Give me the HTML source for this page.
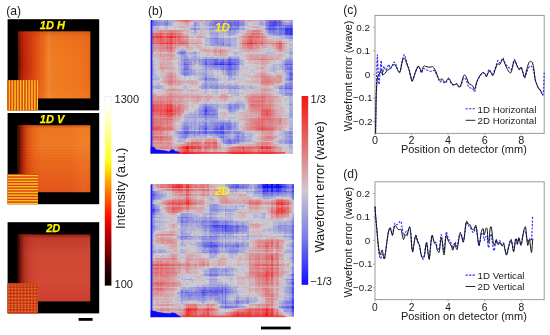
<!DOCTYPE html>
<html lang="en"><head><meta charset="utf-8"><title>Figure</title>
<style>
html,body{margin:0;padding:0;background:#fff;}
body{width:550px;height:335px;overflow:hidden;}
svg{display:block;}
text{font-family:"Liberation Sans",sans-serif;fill:#1a1a1a;}
.lab{font-size:11px;}
.tick{font-size:9.9px;}
.leg{font-size:9.7px;}
.xtick{font-size:10.8px;}
.pl{font-size:12.1px;}
.y{font-family:"Liberation Sans",sans-serif;font-weight:bold;font-style:italic;fill:#fff200;stroke:#fff200;stroke-width:0.25px;font-size:11px;}
</style></head><body>
<svg width="550" height="335" viewBox="0 0 550 335">
<defs>
<linearGradient id="g1" x1="0" y1="0" x2="1" y2="0">
<stop offset="0" stop-color="#2a0300"/><stop offset="0.03" stop-color="#861004"/><stop offset="0.08" stop-color="#b41e08"/><stop offset="0.15" stop-color="#ca2e0c"/><stop offset="0.22" stop-color="#da4210"/><stop offset="0.30" stop-color="#e65a16"/><stop offset="0.38" stop-color="#ee721e"/><stop offset="0.42" stop-color="#ee8636"/><stop offset="0.48" stop-color="#f07c24"/><stop offset="0.65" stop-color="#f07820"/><stop offset="0.85" stop-color="#ee7220"/><stop offset="1" stop-color="#ea6a1c"/>
</linearGradient>
<linearGradient id="g1v" x1="0" y1="0" x2="0" y2="1">
<stop offset="0" stop-color="#c02800" stop-opacity="0.35"/><stop offset="0.1" stop-color="#d84010" stop-opacity="0.12"/><stop offset="0.5" stop-color="#e05010" stop-opacity="0.0"/><stop offset="1" stop-color="#ff9a30" stop-opacity="0.18"/>
</linearGradient>
<linearGradient id="g2" x1="0" y1="0" x2="0" y2="1">
<stop offset="0" stop-color="#d0500f"/><stop offset="0.05" stop-color="#ec7420"/><stop offset="0.3" stop-color="#ee7822"/><stop offset="0.55" stop-color="#ea661c"/><stop offset="0.8" stop-color="#e65a1a"/><stop offset="1" stop-color="#e2521a"/>
</linearGradient>
<linearGradient id="g2h" x1="0" y1="0" x2="1" y2="0">
<stop offset="0" stop-color="#200200" stop-opacity="1"/><stop offset="0.03" stop-color="#6a0a02" stop-opacity="0.95"/><stop offset="0.07" stop-color="#a01606" stop-opacity="0.85"/><stop offset="0.13" stop-color="#c82a08" stop-opacity="0.6"/><stop offset="0.22" stop-color="#dc4410" stop-opacity="0.3"/><stop offset="0.35" stop-color="#e06010" stop-opacity="0"/><stop offset="0.7" stop-color="#f8a040" stop-opacity="0.0"/><stop offset="0.9" stop-color="#f8a040" stop-opacity="0.18"/><stop offset="1" stop-color="#f8a040" stop-opacity="0.12"/>
</linearGradient>
<linearGradient id="g3" x1="0" y1="0" x2="0" y2="1">
<stop offset="0" stop-color="#8a1e14"/><stop offset="0.06" stop-color="#c03c2a"/><stop offset="0.3" stop-color="#cf4a36"/><stop offset="0.7" stop-color="#d24834"/><stop offset="1" stop-color="#cc4030"/>
</linearGradient>
<linearGradient id="g3h" x1="0" y1="0" x2="1" y2="0">
<stop offset="0" stop-color="#200200" stop-opacity="1"/><stop offset="0.04" stop-color="#701008" stop-opacity="0.85"/><stop offset="0.1" stop-color="#a02418" stop-opacity="0.55"/><stop offset="0.18" stop-color="#b83020" stop-opacity="0.3"/><stop offset="0.3" stop-color="#d04028" stop-opacity="0"/><stop offset="1" stop-color="#d04028" stop-opacity="0"/>
</linearGradient>
<linearGradient id="hot" x1="0" y1="0" x2="0" y2="1">
<stop offset="0" stop-color="#ffffff"/><stop offset="0.04" stop-color="#ffffff"/><stop offset="0.12" stop-color="#ffffc8"/><stop offset="0.33" stop-color="#ffff30"/><stop offset="0.385" stop-color="#ffe000"/><stop offset="0.48" stop-color="#ff8c00"/><stop offset="0.56" stop-color="#ff4a00"/><stop offset="0.63" stop-color="#ff1000"/><stop offset="0.71" stop-color="#c80000"/><stop offset="0.81" stop-color="#800000"/><stop offset="0.91" stop-color="#300000"/><stop offset="1" stop-color="#000000"/>
</linearGradient>
<linearGradient id="cbs" gradientUnits="userSpaceOnUse" x1="0" y1="96" x2="0" y2="112"><stop offset="0" stop-color="#d4d4d4"/><stop offset="1" stop-color="#e8e8d0" stop-opacity="0"/></linearGradient>
<linearGradient id="bwr" x1="0" y1="0" x2="0" y2="1">
<stop offset="0" stop-color="#f01818"/><stop offset="0.25" stop-color="#e36a6c"/><stop offset="0.5" stop-color="#cfc8cc"/><stop offset="0.75" stop-color="#7c7ce6"/><stop offset="1" stop-color="#1010ff"/>
</linearGradient>
<pattern id="pv" x="7.6" y="80.4" width="11" height="30" patternUnits="userSpaceOnUse"><rect width="11" height="30" fill="#f08420"/><rect x="0.20" y="0" width="0.95" height="30" fill="#ffe028"/><rect x="1.65" y="0" width="0.6" height="30" fill="#c83a10"/><rect x="2.95" y="0" width="0.95" height="30" fill="#ffe028"/><rect x="4.40" y="0" width="0.6" height="30" fill="#c83a10"/><rect x="5.70" y="0" width="0.95" height="30" fill="#ffe028"/><rect x="7.15" y="0" width="0.6" height="30" fill="#c83a10"/><rect x="8.45" y="0" width="0.95" height="30" fill="#ffe028"/><rect x="9.90" y="0" width="0.6" height="30" fill="#c83a10"/></pattern>
<pattern id="ph" x="7.6" y="174.2" width="30.4" height="11" patternUnits="userSpaceOnUse"><rect width="30.4" height="11" fill="#f08420"/><rect y="0.20" x="0" height="0.95" width="30.4" fill="#ffe028"/><rect y="1.65" x="0" height="0.6" width="30.4" fill="#cc3810"/><rect y="2.95" x="0" height="0.95" width="30.4" fill="#ffe028"/><rect y="4.40" x="0" height="0.6" width="30.4" fill="#cc3810"/><rect y="5.70" x="0" height="0.95" width="30.4" fill="#ffe028"/><rect y="7.15" x="0" height="0.6" width="30.4" fill="#cc3810"/><rect y="8.45" x="0" height="0.95" width="30.4" fill="#ffe028"/><rect y="9.90" x="0" height="0.6" width="30.4" fill="#cc3810"/></pattern>
<pattern id="pg" x="7.6" y="283.4" width="10" height="10" patternUnits="userSpaceOnUse"><rect width="10" height="10" fill="#c42612"/><rect x="0.30" y="0.30" width="0.85" height="0.85" fill="#ffb040"/><rect x="0.30" y="1.73" width="0.85" height="0.85" fill="#ffb040"/><rect x="0.30" y="3.16" width="0.85" height="0.85" fill="#ffb040"/><rect x="0.30" y="4.59" width="0.85" height="0.85" fill="#ffb040"/><rect x="0.30" y="6.01" width="0.85" height="0.85" fill="#ffb040"/><rect x="0.30" y="7.44" width="0.85" height="0.85" fill="#ffb040"/><rect x="0.30" y="8.87" width="0.85" height="0.85" fill="#ffb040"/><rect x="1.73" y="0.30" width="0.85" height="0.85" fill="#ffb040"/><rect x="1.73" y="1.73" width="0.85" height="0.85" fill="#ffb040"/><rect x="1.73" y="3.16" width="0.85" height="0.85" fill="#ffb040"/><rect x="1.73" y="4.59" width="0.85" height="0.85" fill="#ffb040"/><rect x="1.73" y="6.01" width="0.85" height="0.85" fill="#ffb040"/><rect x="1.73" y="7.44" width="0.85" height="0.85" fill="#ffb040"/><rect x="1.73" y="8.87" width="0.85" height="0.85" fill="#ffb040"/><rect x="3.16" y="0.30" width="0.85" height="0.85" fill="#ffb040"/><rect x="3.16" y="1.73" width="0.85" height="0.85" fill="#ffb040"/><rect x="3.16" y="3.16" width="0.85" height="0.85" fill="#ffb040"/><rect x="3.16" y="4.59" width="0.85" height="0.85" fill="#ffb040"/><rect x="3.16" y="6.01" width="0.85" height="0.85" fill="#ffb040"/><rect x="3.16" y="7.44" width="0.85" height="0.85" fill="#ffb040"/><rect x="3.16" y="8.87" width="0.85" height="0.85" fill="#ffb040"/><rect x="4.59" y="0.30" width="0.85" height="0.85" fill="#ffb040"/><rect x="4.59" y="1.73" width="0.85" height="0.85" fill="#ffb040"/><rect x="4.59" y="3.16" width="0.85" height="0.85" fill="#ffb040"/><rect x="4.59" y="4.59" width="0.85" height="0.85" fill="#ffb040"/><rect x="4.59" y="6.01" width="0.85" height="0.85" fill="#ffb040"/><rect x="4.59" y="7.44" width="0.85" height="0.85" fill="#ffb040"/><rect x="4.59" y="8.87" width="0.85" height="0.85" fill="#ffb040"/><rect x="6.01" y="0.30" width="0.85" height="0.85" fill="#ffb040"/><rect x="6.01" y="1.73" width="0.85" height="0.85" fill="#ffb040"/><rect x="6.01" y="3.16" width="0.85" height="0.85" fill="#ffb040"/><rect x="6.01" y="4.59" width="0.85" height="0.85" fill="#ffb040"/><rect x="6.01" y="6.01" width="0.85" height="0.85" fill="#ffb040"/><rect x="6.01" y="7.44" width="0.85" height="0.85" fill="#ffb040"/><rect x="6.01" y="8.87" width="0.85" height="0.85" fill="#ffb040"/><rect x="7.44" y="0.30" width="0.85" height="0.85" fill="#ffb040"/><rect x="7.44" y="1.73" width="0.85" height="0.85" fill="#ffb040"/><rect x="7.44" y="3.16" width="0.85" height="0.85" fill="#ffb040"/><rect x="7.44" y="4.59" width="0.85" height="0.85" fill="#ffb040"/><rect x="7.44" y="6.01" width="0.85" height="0.85" fill="#ffb040"/><rect x="7.44" y="7.44" width="0.85" height="0.85" fill="#ffb040"/><rect x="7.44" y="8.87" width="0.85" height="0.85" fill="#ffb040"/><rect x="8.87" y="0.30" width="0.85" height="0.85" fill="#ffb040"/><rect x="8.87" y="1.73" width="0.85" height="0.85" fill="#ffb040"/><rect x="8.87" y="3.16" width="0.85" height="0.85" fill="#ffb040"/><rect x="8.87" y="4.59" width="0.85" height="0.85" fill="#ffb040"/><rect x="8.87" y="6.01" width="0.85" height="0.85" fill="#ffb040"/><rect x="8.87" y="7.44" width="0.85" height="0.85" fill="#ffb040"/><rect x="8.87" y="8.87" width="0.85" height="0.85" fill="#ffb040"/></pattern>
<pattern id="sv" x="18" y="31" width="2.75" height="70" patternUnits="userSpaceOnUse">
<rect x="0" y="0" width="1" height="70" fill="#ffc040" opacity="0.07"/><rect x="1.5" y="0" width="0.8" height="70" fill="#a03000" opacity="0.06"/>
</pattern>
<pattern id="sh" x="18" y="126" width="75" height="2.75" patternUnits="userSpaceOnUse">
<rect x="0" y="0" width="75" height="1" fill="#ffc040" opacity="0.06"/><rect x="0" y="1.5" width="75" height="0.8" fill="#a03000" opacity="0.05"/>
</pattern>
<filter id="b1" x="-5%" y="-5%" width="110%" height="110%"><feGaussianBlur stdDeviation="0.5"/></filter>
</defs>
<rect width="550" height="335" fill="#ffffff"/>
<text class="pl" x="6.3" y="14.6">(a)</text>
<rect x="7.6" y="19.2" width="91.6" height="91.2" fill="#000"/>
<g filter="url(#b1)"><rect x="17.8" y="31.4" width="72.5" height="67" fill="url(#g1)"/><rect x="17.8" y="31.4" width="72.5" height="67" fill="url(#g1v)"/><rect x="17.8" y="31.4" width="72.5" height="67" fill="url(#sv)"/></g>
<rect x="7.6" y="80.4" width="30.4" height="30" fill="url(#pv)"/>
<text class="y" x="39.8" y="29.1">1D H</text>
<rect x="7.6" y="113" width="91.6" height="91.2" fill="#000"/>
<g filter="url(#b1)"><rect x="17.8" y="125.2" width="72.5" height="67" fill="url(#g2)"/><rect x="17.8" y="125.2" width="72.5" height="67" fill="url(#g2h)"/><rect x="17.8" y="125.2" width="72.5" height="67" fill="url(#sh)"/></g>
<rect x="7.6" y="174.2" width="30.4" height="30" fill="url(#ph)"/>
<text class="y" x="39.8" y="122.9">1D V</text>
<rect x="7.6" y="222.2" width="91.6" height="91.2" fill="#000"/>
<g filter="url(#b1)"><rect x="17.8" y="234.39999999999998" width="72.5" height="67" fill="url(#g3)"/><rect x="17.8" y="234.39999999999998" width="72.5" height="67" fill="url(#g3h)"/></g>
<rect x="7.6" y="283.4" width="30.4" height="30" fill="url(#pg)"/>
<text class="y" x="46.2" y="232.1">2D</text>
<rect x="7.6" y="80.4" width="30.4" height="30" fill="#f07c1c"/><rect x="8.95" y="80.4" width="0.78" height="30" fill="#ffdc24"/><rect x="11.78" y="80.4" width="0.78" height="30" fill="#ffdc24"/><rect x="14.61" y="80.4" width="0.78" height="30" fill="#ffdc24"/><rect x="17.44" y="80.4" width="0.78" height="30" fill="#ffdc24"/><rect x="20.27" y="80.4" width="0.78" height="30" fill="#ffdc24"/><rect x="23.10" y="80.4" width="0.78" height="30" fill="#ffdc24"/><rect x="25.93" y="80.4" width="0.78" height="30" fill="#ffdc24"/><rect x="28.76" y="80.4" width="0.78" height="30" fill="#ffdc24"/><rect x="31.59" y="80.4" width="0.78" height="30" fill="#ffdc24"/><rect x="34.42" y="80.4" width="0.78" height="30" fill="#ffdc24"/><rect x="37.25" y="80.4" width="0.78" height="30" fill="#ffdc24"/><rect x="7.62" y="80.4" width="0.7" height="30" fill="#c4300c"/><rect x="10.45" y="80.4" width="0.7" height="30" fill="#c4300c"/><rect x="13.28" y="80.4" width="0.7" height="30" fill="#c4300c"/><rect x="16.11" y="80.4" width="0.7" height="30" fill="#c4300c"/><rect x="18.94" y="80.4" width="0.7" height="30" fill="#c4300c"/><rect x="21.77" y="80.4" width="0.7" height="30" fill="#c4300c"/><rect x="24.60" y="80.4" width="0.7" height="30" fill="#c4300c"/><rect x="27.43" y="80.4" width="0.7" height="30" fill="#c4300c"/><rect x="30.26" y="80.4" width="0.7" height="30" fill="#c4300c"/><rect x="33.09" y="80.4" width="0.7" height="30" fill="#c4300c"/><rect x="35.92" y="80.4" width="0.7" height="30" fill="#c4300c"/>
<rect x="7.6" y="174.2" width="30.4" height="30" fill="#f07c1c"/><rect y="175.25" x="7.6" height="0.78" width="30.4" fill="#ffdc24"/><rect y="178.03" x="7.6" height="0.78" width="30.4" fill="#ffdc24"/><rect y="180.81" x="7.6" height="0.78" width="30.4" fill="#ffdc24"/><rect y="183.59" x="7.6" height="0.78" width="30.4" fill="#ffdc24"/><rect y="186.37" x="7.6" height="0.78" width="30.4" fill="#ffdc24"/><rect y="189.15" x="7.6" height="0.78" width="30.4" fill="#ffdc24"/><rect y="191.93" x="7.6" height="0.78" width="30.4" fill="#ffdc24"/><rect y="194.71" x="7.6" height="0.78" width="30.4" fill="#ffdc24"/><rect y="197.49" x="7.6" height="0.78" width="30.4" fill="#ffdc24"/><rect y="200.27" x="7.6" height="0.78" width="30.4" fill="#ffdc24"/><rect y="203.05" x="7.6" height="0.78" width="30.4" fill="#ffdc24"/><rect y="173.97" x="7.6" height="0.7" width="30.4" fill="#c8300c"/><rect y="176.75" x="7.6" height="0.7" width="30.4" fill="#c8300c"/><rect y="179.53" x="7.6" height="0.7" width="30.4" fill="#c8300c"/><rect y="182.31" x="7.6" height="0.7" width="30.4" fill="#c8300c"/><rect y="185.09" x="7.6" height="0.7" width="30.4" fill="#c8300c"/><rect y="187.87" x="7.6" height="0.7" width="30.4" fill="#c8300c"/><rect y="190.65" x="7.6" height="0.7" width="30.4" fill="#c8300c"/><rect y="193.43" x="7.6" height="0.7" width="30.4" fill="#c8300c"/><rect y="196.21" x="7.6" height="0.7" width="30.4" fill="#c8300c"/><rect y="198.99" x="7.6" height="0.7" width="30.4" fill="#c8300c"/><rect y="201.77" x="7.6" height="0.7" width="30.4" fill="#c8300c"/>
<rect x="7.6" y="283.4" width="30.4" height="30" fill="#c02410"/><path fill="#ffb848" d="M7.90 283.70h.72v.72h-.72zM7.90 285.15h.72v.72h-.72zM7.90 286.60h.72v.72h-.72zM7.90 288.04h.72v.72h-.72zM7.90 289.49h.72v.72h-.72zM7.90 290.94h.72v.72h-.72zM7.90 292.39h.72v.72h-.72zM7.90 293.83h.72v.72h-.72zM7.90 295.28h.72v.72h-.72zM7.90 296.73h.72v.72h-.72zM7.90 298.18h.72v.72h-.72zM7.90 299.62h.72v.72h-.72zM7.90 301.07h.72v.72h-.72zM7.90 302.52h.72v.72h-.72zM7.90 303.97h.72v.72h-.72zM7.90 305.41h.72v.72h-.72zM7.90 306.86h.72v.72h-.72zM7.90 308.31h.72v.72h-.72zM7.90 309.76h.72v.72h-.72zM7.90 311.20h.72v.72h-.72zM7.90 312.65h.72v.72h-.72zM9.35 283.70h.72v.72h-.72zM9.35 285.15h.72v.72h-.72zM9.35 286.60h.72v.72h-.72zM9.35 288.04h.72v.72h-.72zM9.35 289.49h.72v.72h-.72zM9.35 290.94h.72v.72h-.72zM9.35 292.39h.72v.72h-.72zM9.35 293.83h.72v.72h-.72zM9.35 295.28h.72v.72h-.72zM9.35 296.73h.72v.72h-.72zM9.35 298.18h.72v.72h-.72zM9.35 299.62h.72v.72h-.72zM9.35 301.07h.72v.72h-.72zM9.35 302.52h.72v.72h-.72zM9.35 303.97h.72v.72h-.72zM9.35 305.41h.72v.72h-.72zM9.35 306.86h.72v.72h-.72zM9.35 308.31h.72v.72h-.72zM9.35 309.76h.72v.72h-.72zM9.35 311.20h.72v.72h-.72zM9.35 312.65h.72v.72h-.72zM10.80 283.70h.72v.72h-.72zM10.80 285.15h.72v.72h-.72zM10.80 286.60h.72v.72h-.72zM10.80 288.04h.72v.72h-.72zM10.80 289.49h.72v.72h-.72zM10.80 290.94h.72v.72h-.72zM10.80 292.39h.72v.72h-.72zM10.80 293.83h.72v.72h-.72zM10.80 295.28h.72v.72h-.72zM10.80 296.73h.72v.72h-.72zM10.80 298.18h.72v.72h-.72zM10.80 299.62h.72v.72h-.72zM10.80 301.07h.72v.72h-.72zM10.80 302.52h.72v.72h-.72zM10.80 303.97h.72v.72h-.72zM10.80 305.41h.72v.72h-.72zM10.80 306.86h.72v.72h-.72zM10.80 308.31h.72v.72h-.72zM10.80 309.76h.72v.72h-.72zM10.80 311.20h.72v.72h-.72zM10.80 312.65h.72v.72h-.72zM12.24 283.70h.72v.72h-.72zM12.24 285.15h.72v.72h-.72zM12.24 286.60h.72v.72h-.72zM12.24 288.04h.72v.72h-.72zM12.24 289.49h.72v.72h-.72zM12.24 290.94h.72v.72h-.72zM12.24 292.39h.72v.72h-.72zM12.24 293.83h.72v.72h-.72zM12.24 295.28h.72v.72h-.72zM12.24 296.73h.72v.72h-.72zM12.24 298.18h.72v.72h-.72zM12.24 299.62h.72v.72h-.72zM12.24 301.07h.72v.72h-.72zM12.24 302.52h.72v.72h-.72zM12.24 303.97h.72v.72h-.72zM12.24 305.41h.72v.72h-.72zM12.24 306.86h.72v.72h-.72zM12.24 308.31h.72v.72h-.72zM12.24 309.76h.72v.72h-.72zM12.24 311.20h.72v.72h-.72zM12.24 312.65h.72v.72h-.72zM13.69 283.70h.72v.72h-.72zM13.69 285.15h.72v.72h-.72zM13.69 286.60h.72v.72h-.72zM13.69 288.04h.72v.72h-.72zM13.69 289.49h.72v.72h-.72zM13.69 290.94h.72v.72h-.72zM13.69 292.39h.72v.72h-.72zM13.69 293.83h.72v.72h-.72zM13.69 295.28h.72v.72h-.72zM13.69 296.73h.72v.72h-.72zM13.69 298.18h.72v.72h-.72zM13.69 299.62h.72v.72h-.72zM13.69 301.07h.72v.72h-.72zM13.69 302.52h.72v.72h-.72zM13.69 303.97h.72v.72h-.72zM13.69 305.41h.72v.72h-.72zM13.69 306.86h.72v.72h-.72zM13.69 308.31h.72v.72h-.72zM13.69 309.76h.72v.72h-.72zM13.69 311.20h.72v.72h-.72zM13.69 312.65h.72v.72h-.72zM15.14 283.70h.72v.72h-.72zM15.14 285.15h.72v.72h-.72zM15.14 286.60h.72v.72h-.72zM15.14 288.04h.72v.72h-.72zM15.14 289.49h.72v.72h-.72zM15.14 290.94h.72v.72h-.72zM15.14 292.39h.72v.72h-.72zM15.14 293.83h.72v.72h-.72zM15.14 295.28h.72v.72h-.72zM15.14 296.73h.72v.72h-.72zM15.14 298.18h.72v.72h-.72zM15.14 299.62h.72v.72h-.72zM15.14 301.07h.72v.72h-.72zM15.14 302.52h.72v.72h-.72zM15.14 303.97h.72v.72h-.72zM15.14 305.41h.72v.72h-.72zM15.14 306.86h.72v.72h-.72zM15.14 308.31h.72v.72h-.72zM15.14 309.76h.72v.72h-.72zM15.14 311.20h.72v.72h-.72zM15.14 312.65h.72v.72h-.72zM16.59 283.70h.72v.72h-.72zM16.59 285.15h.72v.72h-.72zM16.59 286.60h.72v.72h-.72zM16.59 288.04h.72v.72h-.72zM16.59 289.49h.72v.72h-.72zM16.59 290.94h.72v.72h-.72zM16.59 292.39h.72v.72h-.72zM16.59 293.83h.72v.72h-.72zM16.59 295.28h.72v.72h-.72zM16.59 296.73h.72v.72h-.72zM16.59 298.18h.72v.72h-.72zM16.59 299.62h.72v.72h-.72zM16.59 301.07h.72v.72h-.72zM16.59 302.52h.72v.72h-.72zM16.59 303.97h.72v.72h-.72zM16.59 305.41h.72v.72h-.72zM16.59 306.86h.72v.72h-.72zM16.59 308.31h.72v.72h-.72zM16.59 309.76h.72v.72h-.72zM16.59 311.20h.72v.72h-.72zM16.59 312.65h.72v.72h-.72zM18.03 283.70h.72v.72h-.72zM18.03 285.15h.72v.72h-.72zM18.03 286.60h.72v.72h-.72zM18.03 288.04h.72v.72h-.72zM18.03 289.49h.72v.72h-.72zM18.03 290.94h.72v.72h-.72zM18.03 292.39h.72v.72h-.72zM18.03 293.83h.72v.72h-.72zM18.03 295.28h.72v.72h-.72zM18.03 296.73h.72v.72h-.72zM18.03 298.18h.72v.72h-.72zM18.03 299.62h.72v.72h-.72zM18.03 301.07h.72v.72h-.72zM18.03 302.52h.72v.72h-.72zM18.03 303.97h.72v.72h-.72zM18.03 305.41h.72v.72h-.72zM18.03 306.86h.72v.72h-.72zM18.03 308.31h.72v.72h-.72zM18.03 309.76h.72v.72h-.72zM18.03 311.20h.72v.72h-.72zM18.03 312.65h.72v.72h-.72zM19.48 283.70h.72v.72h-.72zM19.48 285.15h.72v.72h-.72zM19.48 286.60h.72v.72h-.72zM19.48 288.04h.72v.72h-.72zM19.48 289.49h.72v.72h-.72zM19.48 290.94h.72v.72h-.72zM19.48 292.39h.72v.72h-.72zM19.48 293.83h.72v.72h-.72zM19.48 295.28h.72v.72h-.72zM19.48 296.73h.72v.72h-.72zM19.48 298.18h.72v.72h-.72zM19.48 299.62h.72v.72h-.72zM19.48 301.07h.72v.72h-.72zM19.48 302.52h.72v.72h-.72zM19.48 303.97h.72v.72h-.72zM19.48 305.41h.72v.72h-.72zM19.48 306.86h.72v.72h-.72zM19.48 308.31h.72v.72h-.72zM19.48 309.76h.72v.72h-.72zM19.48 311.20h.72v.72h-.72zM19.48 312.65h.72v.72h-.72zM20.93 283.70h.72v.72h-.72zM20.93 285.15h.72v.72h-.72zM20.93 286.60h.72v.72h-.72zM20.93 288.04h.72v.72h-.72zM20.93 289.49h.72v.72h-.72zM20.93 290.94h.72v.72h-.72zM20.93 292.39h.72v.72h-.72zM20.93 293.83h.72v.72h-.72zM20.93 295.28h.72v.72h-.72zM20.93 296.73h.72v.72h-.72zM20.93 298.18h.72v.72h-.72zM20.93 299.62h.72v.72h-.72zM20.93 301.07h.72v.72h-.72zM20.93 302.52h.72v.72h-.72zM20.93 303.97h.72v.72h-.72zM20.93 305.41h.72v.72h-.72zM20.93 306.86h.72v.72h-.72zM20.93 308.31h.72v.72h-.72zM20.93 309.76h.72v.72h-.72zM20.93 311.20h.72v.72h-.72zM20.93 312.65h.72v.72h-.72zM22.38 283.70h.72v.72h-.72zM22.38 285.15h.72v.72h-.72zM22.38 286.60h.72v.72h-.72zM22.38 288.04h.72v.72h-.72zM22.38 289.49h.72v.72h-.72zM22.38 290.94h.72v.72h-.72zM22.38 292.39h.72v.72h-.72zM22.38 293.83h.72v.72h-.72zM22.38 295.28h.72v.72h-.72zM22.38 296.73h.72v.72h-.72zM22.38 298.18h.72v.72h-.72zM22.38 299.62h.72v.72h-.72zM22.38 301.07h.72v.72h-.72zM22.38 302.52h.72v.72h-.72zM22.38 303.97h.72v.72h-.72zM22.38 305.41h.72v.72h-.72zM22.38 306.86h.72v.72h-.72zM22.38 308.31h.72v.72h-.72zM22.38 309.76h.72v.72h-.72zM22.38 311.20h.72v.72h-.72zM22.38 312.65h.72v.72h-.72zM23.82 283.70h.72v.72h-.72zM23.82 285.15h.72v.72h-.72zM23.82 286.60h.72v.72h-.72zM23.82 288.04h.72v.72h-.72zM23.82 289.49h.72v.72h-.72zM23.82 290.94h.72v.72h-.72zM23.82 292.39h.72v.72h-.72zM23.82 293.83h.72v.72h-.72zM23.82 295.28h.72v.72h-.72zM23.82 296.73h.72v.72h-.72zM23.82 298.18h.72v.72h-.72zM23.82 299.62h.72v.72h-.72zM23.82 301.07h.72v.72h-.72zM23.82 302.52h.72v.72h-.72zM23.82 303.97h.72v.72h-.72zM23.82 305.41h.72v.72h-.72zM23.82 306.86h.72v.72h-.72zM23.82 308.31h.72v.72h-.72zM23.82 309.76h.72v.72h-.72zM23.82 311.20h.72v.72h-.72zM23.82 312.65h.72v.72h-.72zM25.27 283.70h.72v.72h-.72zM25.27 285.15h.72v.72h-.72zM25.27 286.60h.72v.72h-.72zM25.27 288.04h.72v.72h-.72zM25.27 289.49h.72v.72h-.72zM25.27 290.94h.72v.72h-.72zM25.27 292.39h.72v.72h-.72zM25.27 293.83h.72v.72h-.72zM25.27 295.28h.72v.72h-.72zM25.27 296.73h.72v.72h-.72zM25.27 298.18h.72v.72h-.72zM25.27 299.62h.72v.72h-.72zM25.27 301.07h.72v.72h-.72zM25.27 302.52h.72v.72h-.72zM25.27 303.97h.72v.72h-.72zM25.27 305.41h.72v.72h-.72zM25.27 306.86h.72v.72h-.72zM25.27 308.31h.72v.72h-.72zM25.27 309.76h.72v.72h-.72zM25.27 311.20h.72v.72h-.72zM25.27 312.65h.72v.72h-.72zM26.72 283.70h.72v.72h-.72zM26.72 285.15h.72v.72h-.72zM26.72 286.60h.72v.72h-.72zM26.72 288.04h.72v.72h-.72zM26.72 289.49h.72v.72h-.72zM26.72 290.94h.72v.72h-.72zM26.72 292.39h.72v.72h-.72zM26.72 293.83h.72v.72h-.72zM26.72 295.28h.72v.72h-.72zM26.72 296.73h.72v.72h-.72zM26.72 298.18h.72v.72h-.72zM26.72 299.62h.72v.72h-.72zM26.72 301.07h.72v.72h-.72zM26.72 302.52h.72v.72h-.72zM26.72 303.97h.72v.72h-.72zM26.72 305.41h.72v.72h-.72zM26.72 306.86h.72v.72h-.72zM26.72 308.31h.72v.72h-.72zM26.72 309.76h.72v.72h-.72zM26.72 311.20h.72v.72h-.72zM26.72 312.65h.72v.72h-.72zM28.17 283.70h.72v.72h-.72zM28.17 285.15h.72v.72h-.72zM28.17 286.60h.72v.72h-.72zM28.17 288.04h.72v.72h-.72zM28.17 289.49h.72v.72h-.72zM28.17 290.94h.72v.72h-.72zM28.17 292.39h.72v.72h-.72zM28.17 293.83h.72v.72h-.72zM28.17 295.28h.72v.72h-.72zM28.17 296.73h.72v.72h-.72zM28.17 298.18h.72v.72h-.72zM28.17 299.62h.72v.72h-.72zM28.17 301.07h.72v.72h-.72zM28.17 302.52h.72v.72h-.72zM28.17 303.97h.72v.72h-.72zM28.17 305.41h.72v.72h-.72zM28.17 306.86h.72v.72h-.72zM28.17 308.31h.72v.72h-.72zM28.17 309.76h.72v.72h-.72zM28.17 311.20h.72v.72h-.72zM28.17 312.65h.72v.72h-.72zM29.61 283.70h.72v.72h-.72zM29.61 285.15h.72v.72h-.72zM29.61 286.60h.72v.72h-.72zM29.61 288.04h.72v.72h-.72zM29.61 289.49h.72v.72h-.72zM29.61 290.94h.72v.72h-.72zM29.61 292.39h.72v.72h-.72zM29.61 293.83h.72v.72h-.72zM29.61 295.28h.72v.72h-.72zM29.61 296.73h.72v.72h-.72zM29.61 298.18h.72v.72h-.72zM29.61 299.62h.72v.72h-.72zM29.61 301.07h.72v.72h-.72zM29.61 302.52h.72v.72h-.72zM29.61 303.97h.72v.72h-.72zM29.61 305.41h.72v.72h-.72zM29.61 306.86h.72v.72h-.72zM29.61 308.31h.72v.72h-.72zM29.61 309.76h.72v.72h-.72zM29.61 311.20h.72v.72h-.72zM29.61 312.65h.72v.72h-.72zM31.06 283.70h.72v.72h-.72zM31.06 285.15h.72v.72h-.72zM31.06 286.60h.72v.72h-.72zM31.06 288.04h.72v.72h-.72zM31.06 289.49h.72v.72h-.72zM31.06 290.94h.72v.72h-.72zM31.06 292.39h.72v.72h-.72zM31.06 293.83h.72v.72h-.72zM31.06 295.28h.72v.72h-.72zM31.06 296.73h.72v.72h-.72zM31.06 298.18h.72v.72h-.72zM31.06 299.62h.72v.72h-.72zM31.06 301.07h.72v.72h-.72zM31.06 302.52h.72v.72h-.72zM31.06 303.97h.72v.72h-.72zM31.06 305.41h.72v.72h-.72zM31.06 306.86h.72v.72h-.72zM31.06 308.31h.72v.72h-.72zM31.06 309.76h.72v.72h-.72zM31.06 311.20h.72v.72h-.72zM31.06 312.65h.72v.72h-.72zM32.51 283.70h.72v.72h-.72zM32.51 285.15h.72v.72h-.72zM32.51 286.60h.72v.72h-.72zM32.51 288.04h.72v.72h-.72zM32.51 289.49h.72v.72h-.72zM32.51 290.94h.72v.72h-.72zM32.51 292.39h.72v.72h-.72zM32.51 293.83h.72v.72h-.72zM32.51 295.28h.72v.72h-.72zM32.51 296.73h.72v.72h-.72zM32.51 298.18h.72v.72h-.72zM32.51 299.62h.72v.72h-.72zM32.51 301.07h.72v.72h-.72zM32.51 302.52h.72v.72h-.72zM32.51 303.97h.72v.72h-.72zM32.51 305.41h.72v.72h-.72zM32.51 306.86h.72v.72h-.72zM32.51 308.31h.72v.72h-.72zM32.51 309.76h.72v.72h-.72zM32.51 311.20h.72v.72h-.72zM32.51 312.65h.72v.72h-.72zM33.96 283.70h.72v.72h-.72zM33.96 285.15h.72v.72h-.72zM33.96 286.60h.72v.72h-.72zM33.96 288.04h.72v.72h-.72zM33.96 289.49h.72v.72h-.72zM33.96 290.94h.72v.72h-.72zM33.96 292.39h.72v.72h-.72zM33.96 293.83h.72v.72h-.72zM33.96 295.28h.72v.72h-.72zM33.96 296.73h.72v.72h-.72zM33.96 298.18h.72v.72h-.72zM33.96 299.62h.72v.72h-.72zM33.96 301.07h.72v.72h-.72zM33.96 302.52h.72v.72h-.72zM33.96 303.97h.72v.72h-.72zM33.96 305.41h.72v.72h-.72zM33.96 306.86h.72v.72h-.72zM33.96 308.31h.72v.72h-.72zM33.96 309.76h.72v.72h-.72zM33.96 311.20h.72v.72h-.72zM33.96 312.65h.72v.72h-.72zM35.40 283.70h.72v.72h-.72zM35.40 285.15h.72v.72h-.72zM35.40 286.60h.72v.72h-.72zM35.40 288.04h.72v.72h-.72zM35.40 289.49h.72v.72h-.72zM35.40 290.94h.72v.72h-.72zM35.40 292.39h.72v.72h-.72zM35.40 293.83h.72v.72h-.72zM35.40 295.28h.72v.72h-.72zM35.40 296.73h.72v.72h-.72zM35.40 298.18h.72v.72h-.72zM35.40 299.62h.72v.72h-.72zM35.40 301.07h.72v.72h-.72zM35.40 302.52h.72v.72h-.72zM35.40 303.97h.72v.72h-.72zM35.40 305.41h.72v.72h-.72zM35.40 306.86h.72v.72h-.72zM35.40 308.31h.72v.72h-.72zM35.40 309.76h.72v.72h-.72zM35.40 311.20h.72v.72h-.72zM35.40 312.65h.72v.72h-.72zM36.85 283.70h.72v.72h-.72zM36.85 285.15h.72v.72h-.72zM36.85 286.60h.72v.72h-.72zM36.85 288.04h.72v.72h-.72zM36.85 289.49h.72v.72h-.72zM36.85 290.94h.72v.72h-.72zM36.85 292.39h.72v.72h-.72zM36.85 293.83h.72v.72h-.72zM36.85 295.28h.72v.72h-.72zM36.85 296.73h.72v.72h-.72zM36.85 298.18h.72v.72h-.72zM36.85 299.62h.72v.72h-.72zM36.85 301.07h.72v.72h-.72zM36.85 302.52h.72v.72h-.72zM36.85 303.97h.72v.72h-.72zM36.85 305.41h.72v.72h-.72zM36.85 306.86h.72v.72h-.72zM36.85 308.31h.72v.72h-.72zM36.85 309.76h.72v.72h-.72zM36.85 311.20h.72v.72h-.72zM36.85 312.65h.72v.72h-.72z"/>
<rect x="78.6" y="318" width="14" height="2.8" fill="#000"/>
<rect x="104.8" y="96.2" width="6.6" height="189.4" fill="url(#hot)"/>
<path d="M105 112V96.4H111.2V112" fill="none" stroke="url(#cbs)" stroke-width="0.5"/>
<text class="lab" x="114.6" y="102.5">1300</text>
<text class="lab" x="114.6" y="288.3">100</text>
<text x="0" y="0" transform="translate(124.7,229) rotate(-90)" style="font-size:12.85px">Intensity (a.u.)</text>
<text class="pl" x="148" y="14.6">(b)</text>
<g id="heat1"><g shape-rendering="crispEdges"><path fill="#2424f4" d="M219.5 63.5h1.8v1.8h-1.8zM222.7 63.5h1.8v1.8h-1.8zM229.1 63.5h1.8v1.8h-1.8z"/>
<path fill="#2d2df3" d="M290.0 28.0h1.8v1.8h-1.8zM285.2 29.7h1.8v1.8h-1.8zM214.7 63.5h3.4v1.8h-3.4zM227.5 63.5h1.8v1.8h-1.8z"/>
<path fill="#3636f1" d="M272.4 21.6h1.8v1.8h-1.8zM272.4 24.8h1.8v1.8h-1.8zM286.8 28.0h1.8v1.8h-1.8zM286.8 29.7h1.8v1.8h-1.8zM290.0 29.7h1.8v1.8h-1.8zM290.0 31.3h1.8v1.8h-1.8zM290.0 32.9h1.8v1.8h-1.8zM222.7 132.7h1.8v1.8h-1.8z"/>
<path fill="#3f3fef" d="M274.0 21.6h3.4v1.8h-3.4zM272.4 23.2h1.8v1.8h-1.8zM269.2 24.8h1.8v1.8h-1.8zM274.0 24.8h1.8v1.8h-1.8zM285.2 28.0h1.8v1.8h-1.8zM288.4 28.0h1.8v1.8h-1.8zM288.4 29.7h1.8v1.8h-1.8zM286.8 31.3h1.8v1.8h-1.8zM286.8 32.9h1.8v1.8h-1.8zM221.1 63.5h1.8v1.8h-1.8zM225.9 63.5h1.8v1.8h-1.8zM230.7 63.5h1.8v1.8h-1.8zM205.1 108.5h1.8v1.8h-1.8zM205.1 110.1h1.8v1.8h-1.8zM205.1 113.4h1.8v1.8h-1.8zM219.5 127.8h1.8v1.8h-1.8zM219.5 132.7h1.8v1.8h-1.8z"/>
<path fill="#4848ed" d="M270.8 21.6h1.8v1.8h-1.8zM270.8 24.8h1.8v1.8h-1.8zM275.6 24.8h1.8v1.8h-1.8zM285.2 31.3h1.8v1.8h-1.8zM288.4 31.3h1.8v1.8h-1.8zM285.2 32.9h1.8v1.8h-1.8zM288.4 32.9h1.8v1.8h-1.8zM219.5 61.9h1.8v1.8h-1.8zM227.5 61.9h3.4v1.8h-3.4zM217.9 63.5h1.8v1.8h-1.8zM205.1 127.8h1.8v1.8h-1.8zM222.7 127.8h1.8v1.8h-1.8zM222.7 131.1h1.8v1.8h-1.8zM221.1 132.7h1.8v1.8h-1.8z"/>
<path fill="#5050ec" d="M269.2 21.6h1.8v1.8h-1.8zM274.0 23.2h3.4v1.8h-3.4zM278.8 24.8h1.8v1.8h-1.8zM269.2 28.0h1.8v1.8h-1.8zM272.4 28.0h1.8v1.8h-1.8zM229.1 58.6h1.8v1.8h-1.8zM214.7 61.9h3.4v1.8h-3.4zM221.1 61.9h3.4v1.8h-3.4zM205.1 63.5h1.8v1.8h-1.8zM213.1 63.5h1.8v1.8h-1.8zM232.3 63.5h3.4v1.8h-3.4zM286.8 63.5h1.8v1.8h-1.8zM227.5 68.3h1.8v1.8h-1.8zM222.7 126.2h1.8v1.8h-1.8zM216.3 127.8h1.8v1.8h-1.8zM205.1 131.1h1.8v1.8h-1.8zM216.3 131.1h1.8v1.8h-1.8zM219.5 131.1h3.4v1.8h-3.4zM184.2 132.7h3.4v1.8h-3.4zM216.3 132.7h1.8v1.8h-1.8z"/>
<path fill="#5959ea" d="M274.0 20.0h1.8v1.8h-1.8zM278.8 20.0h1.8v1.8h-1.8zM222.7 21.6h1.8v1.8h-1.8zM227.5 21.6h1.8v1.8h-1.8zM233.9 21.6h1.8v1.8h-1.8zM278.8 21.6h1.8v1.8h-1.8zM270.8 23.2h1.8v1.8h-1.8zM278.8 23.2h1.8v1.8h-1.8zM229.1 24.8h3.4v1.8h-3.4zM272.4 26.4h1.8v1.8h-1.8zM270.8 28.0h1.8v1.8h-1.8zM274.0 28.0h1.8v1.8h-1.8zM280.4 28.0h1.8v1.8h-1.8zM291.6 28.0h1.8v1.8h-1.8zM291.6 32.9h1.8v1.8h-1.8zM216.3 58.6h1.8v1.8h-1.8zM227.5 58.6h1.8v1.8h-1.8zM222.7 60.2h1.8v1.8h-1.8zM205.1 61.9h1.8v1.8h-1.8zM230.7 61.9h1.8v1.8h-1.8zM184.2 63.5h1.8v1.8h-1.8zM224.3 63.5h1.8v1.8h-1.8zM288.4 63.5h3.4v1.8h-3.4zM229.1 68.3h1.8v1.8h-1.8zM290.0 73.1h1.8v1.8h-1.8zM290.0 77.9h1.8v1.8h-1.8zM285.2 87.6h1.8v1.8h-1.8zM288.4 87.6h3.4v1.8h-3.4zM205.1 111.7h1.8v1.8h-1.8zM219.5 126.2h3.4v1.8h-3.4zM214.7 127.8h1.8v1.8h-1.8zM221.1 127.8h1.8v1.8h-1.8zM185.8 131.1h1.8v1.8h-1.8zM214.7 131.1h1.8v1.8h-1.8zM187.5 132.7h1.8v1.8h-1.8zM205.1 132.7h1.8v1.8h-1.8z"/>
<path fill="#6262e8" d="M272.4 20.0h1.8v1.8h-1.8zM275.6 20.0h1.8v1.8h-1.8zM152.2 21.6h1.8v1.8h-1.8zM214.7 21.6h3.4v1.8h-3.4zM229.1 21.6h1.8v1.8h-1.8zM237.1 21.6h1.8v1.8h-1.8zM277.2 21.6h1.8v1.8h-1.8zM280.4 21.6h1.8v1.8h-1.8zM222.7 23.2h1.8v1.8h-1.8zM227.5 23.2h1.8v1.8h-1.8zM230.7 23.2h1.8v1.8h-1.8zM237.1 23.2h1.8v1.8h-1.8zM269.2 23.2h1.8v1.8h-1.8zM277.2 23.2h1.8v1.8h-1.8zM222.7 24.8h1.8v1.8h-1.8zM227.5 24.8h1.8v1.8h-1.8zM233.9 24.8h5.0v1.8h-5.0zM267.6 24.8h1.8v1.8h-1.8zM277.2 24.8h1.8v1.8h-1.8zM280.4 24.8h1.8v1.8h-1.8zM290.0 24.8h1.8v1.8h-1.8zM288.4 26.4h3.4v1.8h-3.4zM229.1 28.0h1.8v1.8h-1.8zM267.6 28.0h1.8v1.8h-1.8zM275.6 28.0h1.8v1.8h-1.8zM278.8 28.0h1.8v1.8h-1.8zM283.6 28.0h1.8v1.8h-1.8zM291.6 29.7h1.8v1.8h-1.8zM291.6 31.3h1.8v1.8h-1.8zM205.1 58.6h1.8v1.8h-1.8zM214.7 58.6h1.8v1.8h-1.8zM230.7 58.6h1.8v1.8h-1.8zM214.7 60.2h1.8v1.8h-1.8zM227.5 60.2h3.4v1.8h-3.4zM213.1 61.9h1.8v1.8h-1.8zM232.3 61.9h1.8v1.8h-1.8zM185.8 63.5h1.8v1.8h-1.8zM208.3 63.5h5.0v1.8h-5.0zM235.5 63.5h1.8v1.8h-1.8zM285.2 63.5h1.8v1.8h-1.8zM229.1 65.1h1.8v1.8h-1.8zM227.5 66.7h3.4v1.8h-3.4zM184.2 68.3h3.4v1.8h-3.4zM230.7 68.3h1.8v1.8h-1.8zM290.0 68.3h1.8v1.8h-1.8zM290.0 74.7h1.8v1.8h-1.8zM286.8 87.6h1.8v1.8h-1.8zM205.1 106.9h1.8v1.8h-1.8zM203.5 110.1h1.8v1.8h-1.8zM203.5 113.4h1.8v1.8h-1.8zM219.5 124.6h1.8v1.8h-1.8zM222.7 124.6h1.8v1.8h-1.8zM205.1 126.2h1.8v1.8h-1.8zM216.3 126.2h1.8v1.8h-1.8zM184.2 131.1h1.8v1.8h-1.8zM187.5 131.1h1.8v1.8h-1.8zM198.7 131.1h1.8v1.8h-1.8zM203.5 131.1h1.8v1.8h-1.8zM213.1 131.1h1.8v1.8h-1.8zM217.9 131.1h1.8v1.8h-1.8zM214.7 132.7h1.8v1.8h-1.8zM217.9 132.7h1.8v1.8h-1.8zM229.1 140.7h1.8v1.8h-1.8z"/>
<path fill="#6b6be7" d="M269.2 20.0h3.4v1.8h-3.4zM150.6 21.6h1.8v1.8h-1.8zM219.5 21.6h1.8v1.8h-1.8zM230.7 21.6h1.8v1.8h-1.8zM214.7 23.2h1.8v1.8h-1.8zM221.1 23.2h1.8v1.8h-1.8zM229.1 23.2h1.8v1.8h-1.8zM233.9 23.2h1.8v1.8h-1.8zM267.6 23.2h1.8v1.8h-1.8zM280.4 23.2h1.8v1.8h-1.8zM219.5 24.8h1.8v1.8h-1.8zM232.3 24.8h1.8v1.8h-1.8zM288.4 24.8h1.8v1.8h-1.8zM269.2 26.4h3.4v1.8h-3.4zM286.8 26.4h1.8v1.8h-1.8zM227.5 28.0h1.8v1.8h-1.8zM282.0 28.0h1.8v1.8h-1.8zM272.4 29.7h1.8v1.8h-1.8zM272.4 31.3h1.8v1.8h-1.8zM222.7 42.5h1.8v1.8h-1.8zM181.0 52.2h1.8v1.8h-1.8zM213.1 58.6h1.8v1.8h-1.8zM222.7 58.6h1.8v1.8h-1.8zM232.3 58.6h3.4v1.8h-3.4zM216.3 60.2h1.8v1.8h-1.8zM230.7 60.2h1.8v1.8h-1.8zM217.9 61.9h1.8v1.8h-1.8zM224.3 61.9h3.4v1.8h-3.4zM233.9 61.9h1.8v1.8h-1.8zM187.5 63.5h1.8v1.8h-1.8zM237.1 63.5h1.8v1.8h-1.8zM227.5 65.1h1.8v1.8h-1.8zM222.7 66.7h1.8v1.8h-1.8zM230.7 66.7h1.8v1.8h-1.8zM290.0 66.7h1.8v1.8h-1.8zM222.7 68.3h1.8v1.8h-1.8zM225.9 68.3h1.8v1.8h-1.8zM232.3 68.3h1.8v1.8h-1.8zM288.4 68.3h1.8v1.8h-1.8zM290.0 71.5h1.8v1.8h-1.8zM288.4 73.1h1.8v1.8h-1.8zM291.6 73.1h1.8v1.8h-1.8zM205.1 77.9h1.8v1.8h-1.8zM206.7 110.1h1.8v1.8h-1.8zM206.7 113.4h5.0v1.8h-5.0zM213.1 113.4h1.8v1.8h-1.8zM222.7 123.0h1.8v1.8h-1.8zM214.7 126.2h1.8v1.8h-1.8zM227.5 126.2h3.4v1.8h-3.4zM203.5 127.8h1.8v1.8h-1.8zM217.9 127.8h1.8v1.8h-1.8zM227.5 127.8h1.8v1.8h-1.8zM209.9 131.1h1.8v1.8h-1.8zM182.6 132.7h1.8v1.8h-1.8zM198.7 132.7h1.8v1.8h-1.8zM201.9 132.7h1.8v1.8h-1.8zM213.1 132.7h1.8v1.8h-1.8zM222.7 135.9h1.8v1.8h-1.8zM227.5 140.7h1.8v1.8h-1.8zM230.7 140.7h1.8v1.8h-1.8z"/>
<path fill="#7474e5" d="M152.2 20.0h1.8v1.8h-1.8zM222.7 20.0h1.8v1.8h-1.8zM229.1 20.0h1.8v1.8h-1.8zM233.9 20.0h1.8v1.8h-1.8zM237.1 20.0h1.8v1.8h-1.8zM153.8 21.6h3.4v1.8h-3.4zM166.6 21.6h1.8v1.8h-1.8zM221.1 21.6h1.8v1.8h-1.8zM225.9 21.6h1.8v1.8h-1.8zM232.3 21.6h1.8v1.8h-1.8zM267.6 21.6h1.8v1.8h-1.8zM152.2 23.2h1.8v1.8h-1.8zM219.5 23.2h1.8v1.8h-1.8zM232.3 23.2h1.8v1.8h-1.8zM235.5 23.2h1.8v1.8h-1.8zM152.2 24.8h1.8v1.8h-1.8zM214.7 24.8h3.4v1.8h-3.4zM221.1 24.8h1.8v1.8h-1.8zM225.9 24.8h1.8v1.8h-1.8zM238.7 24.8h1.8v1.8h-1.8zM266.0 24.8h1.8v1.8h-1.8zM282.0 24.8h1.8v1.8h-1.8zM285.2 24.8h3.4v1.8h-3.4zM291.6 24.8h1.8v1.8h-1.8zM274.0 26.4h1.8v1.8h-1.8zM278.8 26.4h1.8v1.8h-1.8zM285.2 26.4h1.8v1.8h-1.8zM222.7 28.0h1.8v1.8h-1.8zM230.7 28.0h6.6v1.8h-6.6zM270.8 29.7h1.8v1.8h-1.8zM278.8 29.7h3.4v1.8h-3.4zM280.4 31.3h1.8v1.8h-1.8zM283.6 31.3h1.8v1.8h-1.8zM278.8 32.9h3.4v1.8h-3.4zM283.6 32.9h1.8v1.8h-1.8zM216.3 37.7h1.8v1.8h-1.8zM182.6 52.2h1.8v1.8h-1.8zM185.8 58.6h1.8v1.8h-1.8zM208.3 58.6h1.8v1.8h-1.8zM211.5 58.6h1.8v1.8h-1.8zM219.5 58.6h1.8v1.8h-1.8zM205.1 60.2h1.8v1.8h-1.8zM213.1 60.2h1.8v1.8h-1.8zM221.1 60.2h1.8v1.8h-1.8zM233.9 60.2h1.8v1.8h-1.8zM184.2 61.9h1.8v1.8h-1.8zM209.9 61.9h3.4v1.8h-3.4zM235.5 61.9h1.8v1.8h-1.8zM288.4 61.9h1.8v1.8h-1.8zM203.5 63.5h1.8v1.8h-1.8zM206.7 63.5h1.8v1.8h-1.8zM291.6 63.5h1.8v1.8h-1.8zM219.5 65.1h1.8v1.8h-1.8zM222.7 65.1h1.8v1.8h-1.8zM230.7 65.1h1.8v1.8h-1.8zM184.2 66.7h1.8v1.8h-1.8zM286.8 66.7h3.4v1.8h-3.4zM187.5 68.3h1.8v1.8h-1.8zM233.9 68.3h1.8v1.8h-1.8zM286.8 68.3h1.8v1.8h-1.8zM291.6 68.3h1.8v1.8h-1.8zM288.4 71.5h1.8v1.8h-1.8zM184.2 73.1h1.8v1.8h-1.8zM290.0 76.3h1.8v1.8h-1.8zM288.4 77.9h1.8v1.8h-1.8zM285.2 86.0h1.8v1.8h-1.8zM288.4 86.0h3.4v1.8h-3.4zM290.0 92.4h1.8v1.8h-1.8zM205.1 105.3h1.8v1.8h-1.8zM203.5 106.9h1.8v1.8h-1.8zM208.3 106.9h1.8v1.8h-1.8zM229.1 106.9h1.8v1.8h-1.8zM208.3 108.5h1.8v1.8h-1.8zM208.3 110.1h3.4v1.8h-3.4zM203.5 111.7h1.8v1.8h-1.8zM198.7 113.4h1.8v1.8h-1.8zM211.5 113.4h1.8v1.8h-1.8zM214.7 113.4h1.8v1.8h-1.8zM222.7 121.4h1.8v1.8h-1.8zM205.1 123.0h1.8v1.8h-1.8zM216.3 123.0h1.8v1.8h-1.8zM219.5 123.0h1.8v1.8h-1.8zM225.9 123.0h1.8v1.8h-1.8zM205.1 124.6h1.8v1.8h-1.8zM216.3 124.6h1.8v1.8h-1.8zM221.1 124.6h1.8v1.8h-1.8zM227.5 124.6h1.8v1.8h-1.8zM225.9 126.2h1.8v1.8h-1.8zM184.2 127.8h3.4v1.8h-3.4zM198.7 127.8h1.8v1.8h-1.8zM213.1 127.8h1.8v1.8h-1.8zM225.9 127.8h1.8v1.8h-1.8zM229.1 127.8h1.8v1.8h-1.8zM190.7 131.1h1.8v1.8h-1.8zM193.9 131.1h1.8v1.8h-1.8zM201.9 131.1h1.8v1.8h-1.8zM208.3 131.1h1.8v1.8h-1.8zM181.0 132.7h1.8v1.8h-1.8zM189.1 132.7h3.4v1.8h-3.4zM193.9 132.7h1.8v1.8h-1.8zM197.1 132.7h1.8v1.8h-1.8zM203.5 132.7h1.8v1.8h-1.8zM206.7 132.7h1.8v1.8h-1.8zM209.9 132.7h3.4v1.8h-3.4zM224.3 132.7h3.4v1.8h-3.4zM237.1 132.7h1.8v1.8h-1.8zM290.0 132.7h1.8v1.8h-1.8zM221.1 135.9h1.8v1.8h-1.8zM237.1 135.9h1.8v1.8h-1.8zM227.5 139.1h3.4v1.8h-3.4zM237.1 139.1h1.8v1.8h-1.8zM233.9 140.7h5.0v1.8h-5.0zM290.0 140.7h1.8v1.8h-1.8zM227.5 142.3h3.4v1.8h-3.4z"/>
<path fill="#7d7de3" d="M216.3 20.0h1.8v1.8h-1.8zM227.5 20.0h1.8v1.8h-1.8zM277.2 20.0h1.8v1.8h-1.8zM217.9 21.6h1.8v1.8h-1.8zM224.3 21.6h1.8v1.8h-1.8zM235.5 21.6h1.8v1.8h-1.8zM238.7 21.6h1.8v1.8h-1.8zM266.0 21.6h1.8v1.8h-1.8zM150.6 23.2h1.8v1.8h-1.8zM153.8 23.2h3.4v1.8h-3.4zM166.6 23.2h1.8v1.8h-1.8zM211.5 23.2h3.4v1.8h-3.4zM216.3 23.2h1.8v1.8h-1.8zM224.3 23.2h3.4v1.8h-3.4zM238.7 23.2h1.8v1.8h-1.8zM266.0 23.2h1.8v1.8h-1.8zM153.8 24.8h3.4v1.8h-3.4zM209.9 24.8h5.0v1.8h-5.0zM217.9 24.8h1.8v1.8h-1.8zM283.6 24.8h1.8v1.8h-1.8zM229.1 26.4h1.8v1.8h-1.8zM275.6 26.4h1.8v1.8h-1.8zM193.9 28.0h1.8v1.8h-1.8zM221.1 28.0h1.8v1.8h-1.8zM237.1 28.0h1.8v1.8h-1.8zM266.0 28.0h1.8v1.8h-1.8zM277.2 28.0h1.8v1.8h-1.8zM269.2 29.7h1.8v1.8h-1.8zM282.0 29.7h3.4v1.8h-3.4zM269.2 31.3h1.8v1.8h-1.8zM278.8 31.3h1.8v1.8h-1.8zM282.0 31.3h1.8v1.8h-1.8zM282.0 32.9h1.8v1.8h-1.8zM290.0 34.5h1.8v1.8h-1.8zM211.5 37.7h3.4v1.8h-3.4zM216.3 39.3h1.8v1.8h-1.8zM216.3 42.5h1.8v1.8h-1.8zM222.7 44.1h1.8v1.8h-1.8zM179.4 52.2h1.8v1.8h-1.8zM184.2 52.2h1.8v1.8h-1.8zM182.6 58.6h3.4v1.8h-3.4zM198.7 58.6h1.8v1.8h-1.8zM203.5 58.6h1.8v1.8h-1.8zM206.7 58.6h1.8v1.8h-1.8zM221.1 58.6h1.8v1.8h-1.8zM235.5 58.6h3.4v1.8h-3.4zM208.3 60.2h1.8v1.8h-1.8zM219.5 60.2h1.8v1.8h-1.8zM225.9 60.2h1.8v1.8h-1.8zM232.3 60.2h1.8v1.8h-1.8zM203.5 61.9h1.8v1.8h-1.8zM208.3 61.9h1.8v1.8h-1.8zM237.1 61.9h1.8v1.8h-1.8zM286.8 61.9h1.8v1.8h-1.8zM290.0 61.9h1.8v1.8h-1.8zM182.6 63.5h1.8v1.8h-1.8zM184.2 65.1h1.8v1.8h-1.8zM216.3 65.1h1.8v1.8h-1.8zM221.1 65.1h1.8v1.8h-1.8zM225.9 65.1h1.8v1.8h-1.8zM233.9 65.1h1.8v1.8h-1.8zM290.0 65.1h1.8v1.8h-1.8zM185.8 66.7h1.8v1.8h-1.8zM225.9 66.7h1.8v1.8h-1.8zM232.3 66.7h3.4v1.8h-3.4zM182.6 68.3h1.8v1.8h-1.8zM221.1 68.3h1.8v1.8h-1.8zM285.2 68.3h1.8v1.8h-1.8zM229.1 69.9h1.8v1.8h-1.8zM184.2 71.5h3.4v1.8h-3.4zM227.5 71.5h3.4v1.8h-3.4zM187.5 73.1h1.8v1.8h-1.8zM288.4 74.7h1.8v1.8h-1.8zM291.6 74.7h1.8v1.8h-1.8zM291.6 76.3h1.8v1.8h-1.8zM291.6 77.9h1.8v1.8h-1.8zM290.0 79.6h1.8v1.8h-1.8zM288.4 82.8h1.8v1.8h-1.8zM290.0 84.4h1.8v1.8h-1.8zM205.1 86.0h1.8v1.8h-1.8zM216.3 86.0h1.8v1.8h-1.8zM280.4 86.0h1.8v1.8h-1.8zM286.8 86.0h1.8v1.8h-1.8zM278.8 87.6h3.4v1.8h-3.4zM291.6 87.6h1.8v1.8h-1.8zM286.8 92.4h3.4v1.8h-3.4zM203.5 105.3h1.8v1.8h-1.8zM227.5 105.3h3.4v1.8h-3.4zM237.1 105.3h1.8v1.8h-1.8zM206.7 106.9h1.8v1.8h-1.8zM203.5 108.5h1.8v1.8h-1.8zM229.1 108.5h1.8v1.8h-1.8zM201.9 110.1h1.8v1.8h-1.8zM211.5 110.1h3.4v1.8h-3.4zM206.7 111.7h3.4v1.8h-3.4zM201.9 113.4h1.8v1.8h-1.8zM203.5 115.0h3.4v1.8h-3.4zM205.1 116.6h1.8v1.8h-1.8zM227.5 121.4h1.8v1.8h-1.8zM221.1 123.0h1.8v1.8h-1.8zM227.5 123.0h3.4v1.8h-3.4zM214.7 124.6h1.8v1.8h-1.8zM229.1 124.6h1.8v1.8h-1.8zM184.2 126.2h3.4v1.8h-3.4zM201.9 126.2h3.4v1.8h-3.4zM187.5 127.8h1.8v1.8h-1.8zM201.9 127.8h1.8v1.8h-1.8zM208.3 127.8h1.8v1.8h-1.8zM211.5 127.8h1.8v1.8h-1.8zM224.3 127.8h1.8v1.8h-1.8zM182.6 131.1h1.8v1.8h-1.8zM189.1 131.1h1.8v1.8h-1.8zM192.3 131.1h1.8v1.8h-1.8zM197.1 131.1h1.8v1.8h-1.8zM200.3 131.1h1.8v1.8h-1.8zM206.7 131.1h1.8v1.8h-1.8zM211.5 131.1h1.8v1.8h-1.8zM224.3 131.1h6.6v1.8h-6.6zM288.4 131.1h1.8v1.8h-1.8zM179.4 132.7h1.8v1.8h-1.8zM200.3 132.7h1.8v1.8h-1.8zM208.3 132.7h1.8v1.8h-1.8zM227.5 132.7h1.8v1.8h-1.8zM233.9 132.7h1.8v1.8h-1.8zM288.4 132.7h1.8v1.8h-1.8zM222.7 134.3h1.8v1.8h-1.8zM184.2 135.9h1.8v1.8h-1.8zM219.5 135.9h1.8v1.8h-1.8zM237.1 137.5h1.8v1.8h-1.8zM222.7 139.1h1.8v1.8h-1.8zM233.9 139.1h1.8v1.8h-1.8zM222.7 140.7h1.8v1.8h-1.8zM225.9 140.7h1.8v1.8h-1.8zM232.3 140.7h1.8v1.8h-1.8zM288.4 140.7h1.8v1.8h-1.8zM225.9 142.3h1.8v1.8h-1.8zM230.7 142.3h1.8v1.8h-1.8z"/>
<path fill="#8686e1" d="M155.4 20.0h1.8v1.8h-1.8zM166.6 20.0h1.8v1.8h-1.8zM213.1 20.0h3.4v1.8h-3.4zM219.5 20.0h3.4v1.8h-3.4zM230.7 20.0h3.4v1.8h-3.4zM280.4 20.0h1.8v1.8h-1.8zM157.0 21.6h3.4v1.8h-3.4zM163.4 21.6h3.4v1.8h-3.4zM209.9 21.6h5.0v1.8h-5.0zM241.9 21.6h1.8v1.8h-1.8zM157.0 23.2h1.8v1.8h-1.8zM165.0 23.2h1.8v1.8h-1.8zM217.9 23.2h1.8v1.8h-1.8zM240.3 23.2h3.4v1.8h-3.4zM290.0 23.2h1.8v1.8h-1.8zM193.9 24.8h1.8v1.8h-1.8zM224.3 24.8h1.8v1.8h-1.8zM240.3 24.8h1.8v1.8h-1.8zM227.5 26.4h1.8v1.8h-1.8zM230.7 26.4h1.8v1.8h-1.8zM237.1 26.4h1.8v1.8h-1.8zM267.6 26.4h1.8v1.8h-1.8zM280.4 26.4h1.8v1.8h-1.8zM211.5 28.0h1.8v1.8h-1.8zM216.3 28.0h1.8v1.8h-1.8zM224.3 28.0h3.4v1.8h-3.4zM229.1 29.7h1.8v1.8h-1.8zM267.6 29.7h1.8v1.8h-1.8zM274.0 29.7h3.4v1.8h-3.4zM270.8 31.3h1.8v1.8h-1.8zM274.0 31.3h3.4v1.8h-3.4zM272.4 32.9h1.8v1.8h-1.8zM275.6 32.9h1.8v1.8h-1.8zM288.4 34.5h1.8v1.8h-1.8zM214.7 37.7h1.8v1.8h-1.8zM214.7 39.3h1.8v1.8h-1.8zM216.3 40.9h1.8v1.8h-1.8zM214.7 42.5h1.8v1.8h-1.8zM219.5 42.5h3.4v1.8h-3.4zM182.6 50.6h1.8v1.8h-1.8zM229.1 57.0h1.8v1.8h-1.8zM209.9 58.6h1.8v1.8h-1.8zM217.9 58.6h1.8v1.8h-1.8zM224.3 58.6h3.4v1.8h-3.4zM288.4 58.6h1.8v1.8h-1.8zM184.2 60.2h1.8v1.8h-1.8zM203.5 60.2h1.8v1.8h-1.8zM206.7 60.2h1.8v1.8h-1.8zM209.9 60.2h3.4v1.8h-3.4zM217.9 60.2h1.8v1.8h-1.8zM235.5 60.2h3.4v1.8h-3.4zM290.0 60.2h1.8v1.8h-1.8zM185.8 61.9h3.4v1.8h-3.4zM206.7 61.9h1.8v1.8h-1.8zM285.2 61.9h1.8v1.8h-1.8zM291.6 61.9h1.8v1.8h-1.8zM189.1 63.5h1.8v1.8h-1.8zM201.9 63.5h1.8v1.8h-1.8zM238.7 63.5h1.8v1.8h-1.8zM283.6 63.5h1.8v1.8h-1.8zM185.8 65.1h1.8v1.8h-1.8zM213.1 65.1h3.4v1.8h-3.4zM224.3 65.1h1.8v1.8h-1.8zM232.3 65.1h1.8v1.8h-1.8zM235.5 65.1h1.8v1.8h-1.8zM285.2 65.1h3.4v1.8h-3.4zM187.5 66.7h1.8v1.8h-1.8zM216.3 66.7h1.8v1.8h-1.8zM219.5 66.7h3.4v1.8h-3.4zM285.2 66.7h1.8v1.8h-1.8zM224.3 68.3h1.8v1.8h-1.8zM235.5 68.3h1.8v1.8h-1.8zM184.2 69.9h1.8v1.8h-1.8zM288.4 69.9h3.4v1.8h-3.4zM182.6 71.5h1.8v1.8h-1.8zM187.5 71.5h1.8v1.8h-1.8zM291.6 71.5h1.8v1.8h-1.8zM185.8 73.1h1.8v1.8h-1.8zM227.5 73.1h5.0v1.8h-5.0zM205.1 76.3h1.8v1.8h-1.8zM288.4 76.3h1.8v1.8h-1.8zM286.8 77.9h1.8v1.8h-1.8zM205.1 79.6h1.8v1.8h-1.8zM288.4 79.6h1.8v1.8h-1.8zM290.0 82.8h1.8v1.8h-1.8zM205.1 84.4h1.8v1.8h-1.8zM285.2 84.4h1.8v1.8h-1.8zM288.4 84.4h1.8v1.8h-1.8zM209.9 86.0h1.8v1.8h-1.8zM214.7 86.0h1.8v1.8h-1.8zM233.9 87.6h1.8v1.8h-1.8zM237.1 87.6h1.8v1.8h-1.8zM282.0 87.6h3.4v1.8h-3.4zM285.2 92.4h1.8v1.8h-1.8zM291.6 92.4h1.8v1.8h-1.8zM290.0 94.0h1.8v1.8h-1.8zM205.1 103.7h1.8v1.8h-1.8zM229.1 103.7h1.8v1.8h-1.8zM233.9 103.7h1.8v1.8h-1.8zM206.7 105.3h1.8v1.8h-1.8zM230.7 105.3h1.8v1.8h-1.8zM233.9 105.3h3.4v1.8h-3.4zM209.9 106.9h1.8v1.8h-1.8zM230.7 106.9h1.8v1.8h-1.8zM233.9 106.9h1.8v1.8h-1.8zM201.9 108.5h1.8v1.8h-1.8zM206.7 108.5h1.8v1.8h-1.8zM209.9 108.5h5.0v1.8h-5.0zM200.3 110.1h1.8v1.8h-1.8zM214.7 110.1h1.8v1.8h-1.8zM213.1 111.7h1.8v1.8h-1.8zM200.3 113.4h1.8v1.8h-1.8zM216.3 113.4h1.8v1.8h-1.8zM211.5 115.0h1.8v1.8h-1.8zM198.7 116.6h1.8v1.8h-1.8zM205.1 121.4h1.8v1.8h-1.8zM219.5 121.4h3.4v1.8h-3.4zM213.1 123.0h1.8v1.8h-1.8zM224.3 123.0h1.8v1.8h-1.8zM198.7 124.6h1.8v1.8h-1.8zM203.5 124.6h1.8v1.8h-1.8zM213.1 124.6h1.8v1.8h-1.8zM224.3 124.6h3.4v1.8h-3.4zM187.5 126.2h1.8v1.8h-1.8zM198.7 126.2h1.8v1.8h-1.8zM213.1 126.2h1.8v1.8h-1.8zM217.9 126.2h1.8v1.8h-1.8zM224.3 126.2h1.8v1.8h-1.8zM230.7 126.2h1.8v1.8h-1.8zM182.6 127.8h1.8v1.8h-1.8zM206.7 127.8h1.8v1.8h-1.8zM230.7 127.8h1.8v1.8h-1.8zM205.1 129.5h1.8v1.8h-1.8zM216.3 129.5h1.8v1.8h-1.8zM219.5 129.5h1.8v1.8h-1.8zM222.7 129.5h1.8v1.8h-1.8zM181.0 131.1h1.8v1.8h-1.8zM233.9 131.1h1.8v1.8h-1.8zM237.1 131.1h1.8v1.8h-1.8zM177.8 132.7h1.8v1.8h-1.8zM192.3 132.7h1.8v1.8h-1.8zM229.1 132.7h1.8v1.8h-1.8zM235.5 132.7h1.8v1.8h-1.8zM238.7 132.7h1.8v1.8h-1.8zM286.8 132.7h1.8v1.8h-1.8zM291.6 132.7h1.8v1.8h-1.8zM184.2 134.3h3.4v1.8h-3.4zM216.3 134.3h1.8v1.8h-1.8zM219.5 134.3h1.8v1.8h-1.8zM182.6 135.9h1.8v1.8h-1.8zM235.5 135.9h1.8v1.8h-1.8zM290.0 135.9h1.8v1.8h-1.8zM222.7 137.5h1.8v1.8h-1.8zM225.9 139.1h1.8v1.8h-1.8zM232.3 139.1h1.8v1.8h-1.8zM238.7 139.1h1.8v1.8h-1.8zM288.4 139.1h3.4v1.8h-3.4zM224.3 140.7h1.8v1.8h-1.8zM238.7 140.7h1.8v1.8h-1.8zM241.9 140.7h1.8v1.8h-1.8zM285.2 140.7h3.4v1.8h-3.4zM291.6 140.7h1.8v1.8h-1.8zM233.9 142.3h1.8v1.8h-1.8zM288.4 142.3h5.0v1.8h-5.0z"/>
<path fill="#8e8ee0" d="M153.8 20.0h1.8v1.8h-1.8zM217.9 20.0h1.8v1.8h-1.8zM225.9 20.0h1.8v1.8h-1.8zM235.5 20.0h1.8v1.8h-1.8zM238.7 20.0h1.8v1.8h-1.8zM266.0 20.0h3.4v1.8h-3.4zM160.2 21.6h1.8v1.8h-1.8zM193.9 21.6h1.8v1.8h-1.8zM240.3 21.6h1.8v1.8h-1.8zM264.4 21.6h1.8v1.8h-1.8zM158.6 23.2h1.8v1.8h-1.8zM163.4 23.2h1.8v1.8h-1.8zM193.9 23.2h1.8v1.8h-1.8zM209.9 23.2h1.8v1.8h-1.8zM282.0 23.2h1.8v1.8h-1.8zM288.4 23.2h1.8v1.8h-1.8zM150.6 24.8h1.8v1.8h-1.8zM165.0 24.8h3.4v1.8h-3.4zM208.3 24.8h1.8v1.8h-1.8zM241.9 24.8h3.4v1.8h-3.4zM233.9 26.4h3.4v1.8h-3.4zM266.0 26.4h1.8v1.8h-1.8zM277.2 26.4h1.8v1.8h-1.8zM282.0 26.4h1.8v1.8h-1.8zM291.6 26.4h1.8v1.8h-1.8zM209.9 28.0h1.8v1.8h-1.8zM214.7 28.0h1.8v1.8h-1.8zM217.9 28.0h3.4v1.8h-3.4zM230.7 29.7h1.8v1.8h-1.8zM277.2 29.7h1.8v1.8h-1.8zM227.5 31.3h3.4v1.8h-3.4zM267.6 31.3h1.8v1.8h-1.8zM277.2 31.3h1.8v1.8h-1.8zM274.0 32.9h1.8v1.8h-1.8zM277.2 32.9h1.8v1.8h-1.8zM286.8 34.5h1.8v1.8h-1.8zM290.0 36.1h1.8v1.8h-1.8zM209.9 37.7h1.8v1.8h-1.8zM217.9 37.7h1.8v1.8h-1.8zM222.7 37.7h1.8v1.8h-1.8zM288.4 37.7h5.0v1.8h-5.0zM219.5 39.3h1.8v1.8h-1.8zM214.7 40.9h1.8v1.8h-1.8zM221.1 40.9h3.4v1.8h-3.4zM213.1 42.5h1.8v1.8h-1.8zM217.9 42.5h1.8v1.8h-1.8zM216.3 44.1h1.8v1.8h-1.8zM219.5 44.1h3.4v1.8h-3.4zM227.5 44.1h3.4v1.8h-3.4zM181.0 50.6h1.8v1.8h-1.8zM184.2 50.6h1.8v1.8h-1.8zM177.8 52.2h1.8v1.8h-1.8zM181.0 53.8h1.8v1.8h-1.8zM184.2 55.4h1.8v1.8h-1.8zM187.5 58.6h1.8v1.8h-1.8zM190.7 58.6h1.8v1.8h-1.8zM201.9 58.6h1.8v1.8h-1.8zM185.8 60.2h3.4v1.8h-3.4zM193.9 60.2h1.8v1.8h-1.8zM198.7 60.2h1.8v1.8h-1.8zM201.9 60.2h1.8v1.8h-1.8zM224.3 60.2h1.8v1.8h-1.8zM285.2 60.2h5.0v1.8h-5.0zM190.7 61.9h1.8v1.8h-1.8zM201.9 61.9h1.8v1.8h-1.8zM190.7 63.5h1.8v1.8h-1.8zM187.5 65.1h1.8v1.8h-1.8zM205.1 65.1h1.8v1.8h-1.8zM209.9 65.1h1.8v1.8h-1.8zM217.9 65.1h1.8v1.8h-1.8zM288.4 65.1h1.8v1.8h-1.8zM205.1 66.7h1.8v1.8h-1.8zM213.1 66.7h3.4v1.8h-3.4zM217.9 66.7h1.8v1.8h-1.8zM224.3 66.7h1.8v1.8h-1.8zM235.5 66.7h3.4v1.8h-3.4zM291.6 66.7h1.8v1.8h-1.8zM181.0 68.3h1.8v1.8h-1.8zM189.1 68.3h3.4v1.8h-3.4zM205.1 68.3h1.8v1.8h-1.8zM219.5 68.3h1.8v1.8h-1.8zM237.1 68.3h1.8v1.8h-1.8zM182.6 69.9h1.8v1.8h-1.8zM185.8 69.9h3.4v1.8h-3.4zM190.7 69.9h1.8v1.8h-1.8zM225.9 69.9h3.4v1.8h-3.4zM230.7 69.9h1.8v1.8h-1.8zM190.7 71.5h1.8v1.8h-1.8zM230.7 71.5h1.8v1.8h-1.8zM233.9 71.5h1.8v1.8h-1.8zM182.6 73.1h1.8v1.8h-1.8zM286.8 73.1h1.8v1.8h-1.8zM184.2 74.7h1.8v1.8h-1.8zM205.1 74.7h1.8v1.8h-1.8zM227.5 74.7h5.0v1.8h-5.0zM203.5 77.9h1.8v1.8h-1.8zM208.3 77.9h6.6v1.8h-6.6zM211.5 79.6h1.8v1.8h-1.8zM205.1 82.8h1.8v1.8h-1.8zM285.2 82.8h1.8v1.8h-1.8zM216.3 84.4h1.8v1.8h-1.8zM286.8 84.4h1.8v1.8h-1.8zM291.6 84.4h1.8v1.8h-1.8zM211.5 86.0h1.8v1.8h-1.8zM227.5 86.0h1.8v1.8h-1.8zM235.5 86.0h1.8v1.8h-1.8zM291.6 86.0h1.8v1.8h-1.8zM157.0 87.6h1.8v1.8h-1.8zM205.1 87.6h1.8v1.8h-1.8zM213.1 87.6h5.0v1.8h-5.0zM227.5 87.6h3.4v1.8h-3.4zM232.3 87.6h1.8v1.8h-1.8zM285.2 89.2h1.8v1.8h-1.8zM288.4 89.2h3.4v1.8h-3.4zM285.2 94.0h1.8v1.8h-1.8zM288.4 94.0h1.8v1.8h-1.8zM203.5 103.7h1.8v1.8h-1.8zM227.5 103.7h1.8v1.8h-1.8zM230.7 103.7h1.8v1.8h-1.8zM235.5 103.7h5.0v1.8h-5.0zM290.0 103.7h1.8v1.8h-1.8zM208.3 105.3h5.0v1.8h-5.0zM232.3 105.3h1.8v1.8h-1.8zM201.9 106.9h1.8v1.8h-1.8zM227.5 106.9h1.8v1.8h-1.8zM237.1 106.9h1.8v1.8h-1.8zM198.7 108.5h1.8v1.8h-1.8zM214.7 108.5h1.8v1.8h-1.8zM227.5 108.5h1.8v1.8h-1.8zM230.7 108.5h1.8v1.8h-1.8zM198.7 110.1h1.8v1.8h-1.8zM229.1 110.1h3.4v1.8h-3.4zM198.7 111.7h5.0v1.8h-5.0zM209.9 111.7h3.4v1.8h-3.4zM214.7 111.7h1.8v1.8h-1.8zM290.0 113.4h1.8v1.8h-1.8zM201.9 115.0h1.8v1.8h-1.8zM206.7 115.0h3.4v1.8h-3.4zM213.1 115.0h1.8v1.8h-1.8zM200.3 116.6h1.8v1.8h-1.8zM209.9 116.6h1.8v1.8h-1.8zM216.3 116.6h1.8v1.8h-1.8zM205.1 118.2h1.8v1.8h-1.8zM187.5 121.4h1.8v1.8h-1.8zM198.7 121.4h1.8v1.8h-1.8zM208.3 121.4h1.8v1.8h-1.8zM213.1 121.4h6.6v1.8h-6.6zM224.3 121.4h1.8v1.8h-1.8zM229.1 121.4h1.8v1.8h-1.8zM184.2 123.0h1.8v1.8h-1.8zM203.5 123.0h1.8v1.8h-1.8zM214.7 123.0h1.8v1.8h-1.8zM217.9 123.0h1.8v1.8h-1.8zM233.9 123.0h1.8v1.8h-1.8zM184.2 124.6h3.4v1.8h-3.4zM200.3 124.6h1.8v1.8h-1.8zM217.9 124.6h1.8v1.8h-1.8zM230.7 124.6h1.8v1.8h-1.8zM182.6 126.2h1.8v1.8h-1.8zM200.3 126.2h1.8v1.8h-1.8zM206.7 126.2h6.6v1.8h-6.6zM200.3 127.8h1.8v1.8h-1.8zM209.9 127.8h1.8v1.8h-1.8zM221.1 129.5h1.8v1.8h-1.8zM177.8 131.1h3.4v1.8h-3.4zM195.5 131.1h1.8v1.8h-1.8zM235.5 131.1h1.8v1.8h-1.8zM238.7 131.1h1.8v1.8h-1.8zM290.0 131.1h1.8v1.8h-1.8zM195.5 132.7h1.8v1.8h-1.8zM240.3 132.7h1.8v1.8h-1.8zM182.6 134.3h1.8v1.8h-1.8zM221.1 134.3h1.8v1.8h-1.8zM237.1 134.3h1.8v1.8h-1.8zM181.0 135.9h1.8v1.8h-1.8zM185.8 135.9h1.8v1.8h-1.8zM238.7 135.9h1.8v1.8h-1.8zM241.9 135.9h1.8v1.8h-1.8zM288.4 135.9h1.8v1.8h-1.8zM233.9 137.5h1.8v1.8h-1.8zM230.7 139.1h1.8v1.8h-1.8zM235.5 139.1h1.8v1.8h-1.8zM241.9 139.1h1.8v1.8h-1.8zM224.3 142.3h1.8v1.8h-1.8zM232.3 142.3h1.8v1.8h-1.8z"/>
<path fill="#9797de" d="M150.6 20.0h1.8v1.8h-1.8zM163.4 20.0h3.4v1.8h-3.4zM211.5 20.0h1.8v1.8h-1.8zM161.8 21.6h1.8v1.8h-1.8zM168.2 21.6h3.4v1.8h-3.4zM208.3 21.6h1.8v1.8h-1.8zM243.5 21.6h1.8v1.8h-1.8zM282.0 21.6h1.8v1.8h-1.8zM288.4 21.6h5.0v1.8h-5.0zM160.2 23.2h3.4v1.8h-3.4zM169.8 23.2h1.8v1.8h-1.8zM195.5 23.2h1.8v1.8h-1.8zM208.3 23.2h1.8v1.8h-1.8zM261.2 23.2h1.8v1.8h-1.8zM283.6 23.2h5.0v1.8h-5.0zM291.6 23.2h1.8v1.8h-1.8zM157.0 24.8h3.4v1.8h-3.4zM264.4 24.8h1.8v1.8h-1.8zM214.7 26.4h3.4v1.8h-3.4zM222.7 26.4h1.8v1.8h-1.8zM225.9 26.4h1.8v1.8h-1.8zM232.3 26.4h1.8v1.8h-1.8zM283.6 26.4h1.8v1.8h-1.8zM190.7 28.0h3.4v1.8h-3.4zM195.5 28.0h3.4v1.8h-3.4zM213.1 28.0h1.8v1.8h-1.8zM238.7 28.0h1.8v1.8h-1.8zM241.9 28.0h1.8v1.8h-1.8zM264.4 28.0h1.8v1.8h-1.8zM227.5 29.7h1.8v1.8h-1.8zM233.9 29.7h1.8v1.8h-1.8zM216.3 31.3h1.8v1.8h-1.8zM232.3 31.3h3.4v1.8h-3.4zM214.7 32.9h3.4v1.8h-3.4zM229.1 32.9h1.8v1.8h-1.8zM269.2 32.9h3.4v1.8h-3.4zM278.8 34.5h1.8v1.8h-1.8zM285.2 34.5h1.8v1.8h-1.8zM291.6 34.5h1.8v1.8h-1.8zM214.7 36.1h3.4v1.8h-3.4zM288.4 36.1h1.8v1.8h-1.8zM208.3 37.7h1.8v1.8h-1.8zM219.5 37.7h3.4v1.8h-3.4zM227.5 37.7h3.4v1.8h-3.4zM211.5 39.3h3.4v1.8h-3.4zM221.1 39.3h3.4v1.8h-3.4zM211.5 40.9h3.4v1.8h-3.4zM217.9 40.9h3.4v1.8h-3.4zM227.5 40.9h1.8v1.8h-1.8zM229.1 42.5h1.8v1.8h-1.8zM211.5 44.1h1.8v1.8h-1.8zM214.7 44.1h1.8v1.8h-1.8zM217.9 44.1h1.8v1.8h-1.8zM225.9 44.1h1.8v1.8h-1.8zM179.4 50.6h1.8v1.8h-1.8zM193.9 52.2h1.8v1.8h-1.8zM290.0 52.2h1.8v1.8h-1.8zM182.6 53.8h3.4v1.8h-3.4zM182.6 55.4h1.8v1.8h-1.8zM193.9 55.4h1.8v1.8h-1.8zM184.2 57.0h1.8v1.8h-1.8zM227.5 57.0h1.8v1.8h-1.8zM181.0 58.6h1.8v1.8h-1.8zM193.9 58.6h1.8v1.8h-1.8zM197.1 58.6h1.8v1.8h-1.8zM200.3 58.6h1.8v1.8h-1.8zM286.8 58.6h1.8v1.8h-1.8zM290.0 58.6h1.8v1.8h-1.8zM182.6 60.2h1.8v1.8h-1.8zM190.7 60.2h1.8v1.8h-1.8zM238.7 60.2h1.8v1.8h-1.8zM182.6 61.9h1.8v1.8h-1.8zM189.1 61.9h1.8v1.8h-1.8zM198.7 61.9h1.8v1.8h-1.8zM238.7 61.9h1.8v1.8h-1.8zM181.0 63.5h1.8v1.8h-1.8zM198.7 63.5h3.4v1.8h-3.4zM282.0 63.5h1.8v1.8h-1.8zM206.7 65.1h3.4v1.8h-3.4zM211.5 65.1h1.8v1.8h-1.8zM237.1 65.1h1.8v1.8h-1.8zM291.6 65.1h1.8v1.8h-1.8zM182.6 66.7h1.8v1.8h-1.8zM209.9 66.7h1.8v1.8h-1.8zM208.3 68.3h1.8v1.8h-1.8zM214.7 68.3h3.4v1.8h-3.4zM232.3 69.9h3.4v1.8h-3.4zM285.2 69.9h1.8v1.8h-1.8zM291.6 69.9h1.8v1.8h-1.8zM181.0 71.5h1.8v1.8h-1.8zM189.1 71.5h1.8v1.8h-1.8zM225.9 71.5h1.8v1.8h-1.8zM232.3 71.5h1.8v1.8h-1.8zM286.8 71.5h1.8v1.8h-1.8zM181.0 73.1h1.8v1.8h-1.8zM189.1 73.1h3.4v1.8h-3.4zM205.1 73.1h1.8v1.8h-1.8zM225.9 73.1h1.8v1.8h-1.8zM233.9 73.1h1.8v1.8h-1.8zM185.8 74.7h1.8v1.8h-1.8zM203.5 74.7h1.8v1.8h-1.8zM203.5 76.3h1.8v1.8h-1.8zM201.9 77.9h1.8v1.8h-1.8zM206.7 77.9h1.8v1.8h-1.8zM203.5 79.6h1.8v1.8h-1.8zM208.3 79.6h1.8v1.8h-1.8zM213.1 79.6h1.8v1.8h-1.8zM286.8 79.6h1.8v1.8h-1.8zM291.6 79.6h1.8v1.8h-1.8zM288.4 81.2h1.8v1.8h-1.8zM286.8 82.8h1.8v1.8h-1.8zM203.5 84.4h1.8v1.8h-1.8zM206.7 84.4h1.8v1.8h-1.8zM209.9 84.4h5.0v1.8h-5.0zM201.9 86.0h3.4v1.8h-3.4zM208.3 86.0h1.8v1.8h-1.8zM213.1 86.0h1.8v1.8h-1.8zM222.7 86.0h1.8v1.8h-1.8zM229.1 86.0h6.6v1.8h-6.6zM278.8 86.0h1.8v1.8h-1.8zM201.9 87.6h3.4v1.8h-3.4zM206.7 87.6h3.4v1.8h-3.4zM211.5 87.6h1.8v1.8h-1.8zM217.9 87.6h1.8v1.8h-1.8zM221.1 87.6h3.4v1.8h-3.4zM230.7 87.6h1.8v1.8h-1.8zM235.5 87.6h1.8v1.8h-1.8zM238.7 87.6h1.8v1.8h-1.8zM286.8 89.2h1.8v1.8h-1.8zM285.2 90.8h1.8v1.8h-1.8zM290.0 90.8h1.8v1.8h-1.8zM280.4 92.4h1.8v1.8h-1.8zM213.1 103.7h1.8v1.8h-1.8zM232.3 103.7h1.8v1.8h-1.8zM216.3 105.3h1.8v1.8h-1.8zM211.5 106.9h3.4v1.8h-3.4zM232.3 106.9h1.8v1.8h-1.8zM232.3 108.5h3.4v1.8h-3.4zM216.3 110.1h1.8v1.8h-1.8zM216.3 111.7h1.8v1.8h-1.8zM193.9 113.4h1.8v1.8h-1.8zM197.1 113.4h1.8v1.8h-1.8zM198.7 115.0h1.8v1.8h-1.8zM209.9 115.0h1.8v1.8h-1.8zM214.7 115.0h3.4v1.8h-3.4zM193.9 116.6h1.8v1.8h-1.8zM203.5 116.6h1.8v1.8h-1.8zM206.7 116.6h3.4v1.8h-3.4zM211.5 116.6h5.0v1.8h-5.0zM185.8 121.4h1.8v1.8h-1.8zM190.7 121.4h1.8v1.8h-1.8zM193.9 121.4h1.8v1.8h-1.8zM201.9 121.4h1.8v1.8h-1.8zM206.7 121.4h1.8v1.8h-1.8zM209.9 121.4h3.4v1.8h-3.4zM225.9 121.4h1.8v1.8h-1.8zM230.7 121.4h1.8v1.8h-1.8zM185.8 123.0h1.8v1.8h-1.8zM190.7 123.0h1.8v1.8h-1.8zM193.9 123.0h1.8v1.8h-1.8zM198.7 123.0h1.8v1.8h-1.8zM209.9 123.0h3.4v1.8h-3.4zM230.7 123.0h1.8v1.8h-1.8zM187.5 124.6h1.8v1.8h-1.8zM190.7 124.6h1.8v1.8h-1.8zM193.9 124.6h1.8v1.8h-1.8zM201.9 124.6h1.8v1.8h-1.8zM206.7 124.6h6.6v1.8h-6.6zM233.9 124.6h1.8v1.8h-1.8zM189.1 126.2h3.4v1.8h-3.4zM232.3 126.2h3.4v1.8h-3.4zM181.0 127.8h1.8v1.8h-1.8zM190.7 127.8h1.8v1.8h-1.8zM193.9 127.8h1.8v1.8h-1.8zM197.1 127.8h1.8v1.8h-1.8zM232.3 127.8h1.8v1.8h-1.8zM290.0 127.8h1.8v1.8h-1.8zM184.2 129.5h3.4v1.8h-3.4zM198.7 129.5h1.8v1.8h-1.8zM203.5 129.5h1.8v1.8h-1.8zM213.1 129.5h3.4v1.8h-3.4zM232.3 131.1h1.8v1.8h-1.8zM291.6 131.1h1.8v1.8h-1.8zM232.3 132.7h1.8v1.8h-1.8zM241.9 132.7h1.8v1.8h-1.8zM285.2 132.7h1.8v1.8h-1.8zM181.0 134.3h1.8v1.8h-1.8zM193.9 134.3h1.8v1.8h-1.8zM198.7 134.3h1.8v1.8h-1.8zM203.5 134.3h3.4v1.8h-3.4zM214.7 134.3h1.8v1.8h-1.8zM217.9 134.3h1.8v1.8h-1.8zM235.5 134.3h1.8v1.8h-1.8zM241.9 134.3h1.8v1.8h-1.8zM288.4 134.3h3.4v1.8h-3.4zM217.9 135.9h1.8v1.8h-1.8zM224.3 135.9h3.4v1.8h-3.4zM233.9 135.9h1.8v1.8h-1.8zM240.3 135.9h1.8v1.8h-1.8zM243.5 135.9h1.8v1.8h-1.8zM286.8 135.9h1.8v1.8h-1.8zM291.6 135.9h1.8v1.8h-1.8zM225.9 137.5h3.4v1.8h-3.4zM235.5 137.5h1.8v1.8h-1.8zM241.9 137.5h1.8v1.8h-1.8zM288.4 137.5h1.8v1.8h-1.8zM224.3 139.1h1.8v1.8h-1.8zM240.3 139.1h1.8v1.8h-1.8zM285.2 139.1h1.8v1.8h-1.8zM240.3 140.7h1.8v1.8h-1.8zM243.5 140.7h1.8v1.8h-1.8zM278.8 140.7h3.4v1.8h-3.4zM283.6 140.7h1.8v1.8h-1.8zM222.7 142.3h1.8v1.8h-1.8zM237.1 142.3h1.8v1.8h-1.8zM285.2 142.3h3.4v1.8h-3.4z"/>
<path fill="#a0a0dc" d="M157.0 20.0h5.0v1.8h-5.0zM224.3 20.0h1.8v1.8h-1.8zM240.3 20.0h3.4v1.8h-3.4zM195.5 21.6h1.8v1.8h-1.8zM205.1 21.6h1.8v1.8h-1.8zM259.6 21.6h3.4v1.8h-3.4zM283.6 21.6h3.4v1.8h-3.4zM168.2 23.2h1.8v1.8h-1.8zM243.5 23.2h1.8v1.8h-1.8zM259.6 23.2h1.8v1.8h-1.8zM264.4 23.2h1.8v1.8h-1.8zM160.2 24.8h5.0v1.8h-5.0zM168.2 24.8h1.8v1.8h-1.8zM192.3 24.8h1.8v1.8h-1.8zM195.5 24.8h5.0v1.8h-5.0zM206.7 24.8h1.8v1.8h-1.8zM213.1 26.4h1.8v1.8h-1.8zM219.5 26.4h3.4v1.8h-3.4zM238.7 26.4h1.8v1.8h-1.8zM198.7 28.0h1.8v1.8h-1.8zM208.3 28.0h1.8v1.8h-1.8zM240.3 28.0h1.8v1.8h-1.8zM193.9 29.7h1.8v1.8h-1.8zM232.3 29.7h1.8v1.8h-1.8zM266.0 29.7h1.8v1.8h-1.8zM193.9 31.3h1.8v1.8h-1.8zM211.5 31.3h3.4v1.8h-3.4zM230.7 31.3h1.8v1.8h-1.8zM266.0 31.3h1.8v1.8h-1.8zM209.9 32.9h1.8v1.8h-1.8zM213.1 32.9h1.8v1.8h-1.8zM227.5 32.9h1.8v1.8h-1.8zM230.7 32.9h3.4v1.8h-3.4zM211.5 34.5h3.4v1.8h-3.4zM272.4 34.5h1.8v1.8h-1.8zM277.2 34.5h1.8v1.8h-1.8zM280.4 34.5h1.8v1.8h-1.8zM283.6 34.5h1.8v1.8h-1.8zM285.2 36.1h3.4v1.8h-3.4zM291.6 36.1h1.8v1.8h-1.8zM224.3 37.7h1.8v1.8h-1.8zM233.9 37.7h1.8v1.8h-1.8zM285.2 37.7h3.4v1.8h-3.4zM209.9 39.3h1.8v1.8h-1.8zM217.9 39.3h1.8v1.8h-1.8zM225.9 39.3h5.0v1.8h-5.0zM209.9 40.9h1.8v1.8h-1.8zM224.3 40.9h1.8v1.8h-1.8zM229.1 40.9h1.8v1.8h-1.8zM211.5 42.5h1.8v1.8h-1.8zM225.9 42.5h3.4v1.8h-3.4zM209.9 44.1h1.8v1.8h-1.8zM213.1 44.1h1.8v1.8h-1.8zM224.3 44.1h1.8v1.8h-1.8zM229.1 45.8h1.8v1.8h-1.8zM291.6 52.2h1.8v1.8h-1.8zM181.0 55.4h1.8v1.8h-1.8zM185.8 55.4h1.8v1.8h-1.8zM181.0 57.0h1.8v1.8h-1.8zM185.8 57.0h1.8v1.8h-1.8zM193.9 57.0h1.8v1.8h-1.8zM205.1 57.0h1.8v1.8h-1.8zM211.5 57.0h1.8v1.8h-1.8zM216.3 57.0h1.8v1.8h-1.8zM230.7 57.0h1.8v1.8h-1.8zM233.9 57.0h5.0v1.8h-5.0zM189.1 58.6h1.8v1.8h-1.8zM192.3 58.6h1.8v1.8h-1.8zM195.5 58.6h1.8v1.8h-1.8zM285.2 58.6h1.8v1.8h-1.8zM181.0 60.2h1.8v1.8h-1.8zM189.1 60.2h1.8v1.8h-1.8zM200.3 60.2h1.8v1.8h-1.8zM291.6 60.2h1.8v1.8h-1.8zM181.0 61.9h1.8v1.8h-1.8zM193.9 61.9h1.8v1.8h-1.8zM200.3 61.9h1.8v1.8h-1.8zM283.6 61.9h1.8v1.8h-1.8zM150.6 63.5h1.8v1.8h-1.8zM179.4 63.5h1.8v1.8h-1.8zM192.3 63.5h1.8v1.8h-1.8zM181.0 65.1h3.4v1.8h-3.4zM203.5 65.1h1.8v1.8h-1.8zM189.1 66.7h1.8v1.8h-1.8zM208.3 66.7h1.8v1.8h-1.8zM211.5 66.7h1.8v1.8h-1.8zM272.4 66.7h1.8v1.8h-1.8zM282.0 66.7h1.8v1.8h-1.8zM201.9 68.3h1.8v1.8h-1.8zM209.9 68.3h3.4v1.8h-3.4zM217.9 68.3h1.8v1.8h-1.8zM272.4 68.3h1.8v1.8h-1.8zM283.6 68.3h1.8v1.8h-1.8zM181.0 69.9h1.8v1.8h-1.8zM189.1 69.9h1.8v1.8h-1.8zM205.1 69.9h1.8v1.8h-1.8zM222.7 69.9h1.8v1.8h-1.8zM286.8 69.9h1.8v1.8h-1.8zM193.9 71.5h1.8v1.8h-1.8zM205.1 71.5h1.8v1.8h-1.8zM285.2 71.5h1.8v1.8h-1.8zM192.3 73.1h3.4v1.8h-3.4zM201.9 73.1h3.4v1.8h-3.4zM222.7 73.1h1.8v1.8h-1.8zM232.3 73.1h1.8v1.8h-1.8zM187.5 74.7h1.8v1.8h-1.8zM198.7 74.7h1.8v1.8h-1.8zM232.3 74.7h3.4v1.8h-3.4zM286.8 74.7h1.8v1.8h-1.8zM206.7 76.3h3.4v1.8h-3.4zM211.5 76.3h1.8v1.8h-1.8zM229.1 76.3h3.4v1.8h-3.4zM286.8 76.3h1.8v1.8h-1.8zM155.4 77.9h1.8v1.8h-1.8zM214.7 77.9h3.4v1.8h-3.4zM227.5 77.9h1.8v1.8h-1.8zM285.2 77.9h1.8v1.8h-1.8zM206.7 79.6h1.8v1.8h-1.8zM209.9 79.6h1.8v1.8h-1.8zM214.7 79.6h3.4v1.8h-3.4zM205.1 81.2h1.8v1.8h-1.8zM290.0 81.2h3.4v1.8h-3.4zM203.5 82.8h1.8v1.8h-1.8zM206.7 82.8h1.8v1.8h-1.8zM209.9 82.8h1.8v1.8h-1.8zM213.1 82.8h5.0v1.8h-5.0zM291.6 82.8h1.8v1.8h-1.8zM201.9 84.4h1.8v1.8h-1.8zM208.3 84.4h1.8v1.8h-1.8zM214.7 84.4h1.8v1.8h-1.8zM221.1 84.4h3.4v1.8h-3.4zM227.5 84.4h3.4v1.8h-3.4zM233.9 84.4h1.8v1.8h-1.8zM237.1 84.4h1.8v1.8h-1.8zM282.0 84.4h3.4v1.8h-3.4zM155.4 86.0h3.4v1.8h-3.4zM206.7 86.0h1.8v1.8h-1.8zM217.9 86.0h5.0v1.8h-5.0zM224.3 86.0h3.4v1.8h-3.4zM237.1 86.0h1.8v1.8h-1.8zM282.0 86.0h3.4v1.8h-3.4zM209.9 87.6h1.8v1.8h-1.8zM219.5 87.6h1.8v1.8h-1.8zM225.9 87.6h1.8v1.8h-1.8zM251.5 87.6h1.8v1.8h-1.8zM280.4 89.2h1.8v1.8h-1.8zM291.6 89.2h1.8v1.8h-1.8zM286.8 90.8h3.4v1.8h-3.4zM282.0 92.4h3.4v1.8h-3.4zM286.8 94.0h1.8v1.8h-1.8zM291.6 94.0h1.8v1.8h-1.8zM201.9 103.7h1.8v1.8h-1.8zM206.7 103.7h6.6v1.8h-6.6zM216.3 103.7h1.8v1.8h-1.8zM225.9 103.7h1.8v1.8h-1.8zM240.3 103.7h3.4v1.8h-3.4zM288.4 103.7h1.8v1.8h-1.8zM200.3 105.3h3.4v1.8h-3.4zM214.7 105.3h1.8v1.8h-1.8zM238.7 105.3h5.0v1.8h-5.0zM198.7 106.9h3.4v1.8h-3.4zM214.7 106.9h3.4v1.8h-3.4zM235.5 106.9h1.8v1.8h-1.8zM200.3 108.5h1.8v1.8h-1.8zM216.3 108.5h1.8v1.8h-1.8zM237.1 108.5h1.8v1.8h-1.8zM232.3 110.1h1.8v1.8h-1.8zM290.0 110.1h1.8v1.8h-1.8zM290.0 111.7h1.8v1.8h-1.8zM189.1 113.4h3.4v1.8h-3.4zM288.4 113.4h1.8v1.8h-1.8zM291.6 113.4h1.8v1.8h-1.8zM193.9 115.0h1.8v1.8h-1.8zM200.3 115.0h1.8v1.8h-1.8zM290.0 115.0h1.8v1.8h-1.8zM185.8 116.6h1.8v1.8h-1.8zM189.1 116.6h5.0v1.8h-5.0zM201.9 116.6h1.8v1.8h-1.8zM288.4 116.6h3.4v1.8h-3.4zM211.5 118.2h1.8v1.8h-1.8zM214.7 118.2h1.8v1.8h-1.8zM193.9 119.8h1.8v1.8h-1.8zM201.9 119.8h1.8v1.8h-1.8zM205.1 119.8h1.8v1.8h-1.8zM209.9 119.8h5.0v1.8h-5.0zM216.3 119.8h1.8v1.8h-1.8zM229.1 119.8h1.8v1.8h-1.8zM182.6 121.4h3.4v1.8h-3.4zM200.3 121.4h1.8v1.8h-1.8zM203.5 121.4h1.8v1.8h-1.8zM201.9 123.0h1.8v1.8h-1.8zM208.3 123.0h1.8v1.8h-1.8zM182.6 124.6h1.8v1.8h-1.8zM189.1 124.6h1.8v1.8h-1.8zM232.3 124.6h1.8v1.8h-1.8zM193.9 126.2h1.8v1.8h-1.8zM197.1 126.2h1.8v1.8h-1.8zM235.5 126.2h1.8v1.8h-1.8zM189.1 127.8h1.8v1.8h-1.8zM233.9 127.8h3.4v1.8h-3.4zM217.9 129.5h1.8v1.8h-1.8zM227.5 129.5h1.8v1.8h-1.8zM176.2 131.1h1.8v1.8h-1.8zM230.7 131.1h1.8v1.8h-1.8zM240.3 131.1h1.8v1.8h-1.8zM286.8 131.1h1.8v1.8h-1.8zM230.7 132.7h1.8v1.8h-1.8zM246.7 132.7h1.8v1.8h-1.8zM179.4 134.3h1.8v1.8h-1.8zM187.5 134.3h3.4v1.8h-3.4zM192.3 134.3h1.8v1.8h-1.8zM197.1 134.3h1.8v1.8h-1.8zM209.9 134.3h1.8v1.8h-1.8zM224.3 134.3h1.8v1.8h-1.8zM227.5 134.3h1.8v1.8h-1.8zM238.7 134.3h1.8v1.8h-1.8zM285.2 134.3h1.8v1.8h-1.8zM177.8 135.9h3.4v1.8h-3.4zM187.5 135.9h1.8v1.8h-1.8zM216.3 135.9h1.8v1.8h-1.8zM227.5 135.9h1.8v1.8h-1.8zM285.2 135.9h1.8v1.8h-1.8zM182.6 137.5h3.4v1.8h-3.4zM221.1 137.5h1.8v1.8h-1.8zM229.1 137.5h1.8v1.8h-1.8zM238.7 137.5h3.4v1.8h-3.4zM243.5 137.5h1.8v1.8h-1.8zM290.0 137.5h1.8v1.8h-1.8zM243.5 139.1h1.8v1.8h-1.8zM286.8 139.1h1.8v1.8h-1.8zM291.6 139.1h1.8v1.8h-1.8zM177.8 140.7h1.8v1.8h-1.8zM221.1 140.7h1.8v1.8h-1.8zM246.7 140.7h3.4v1.8h-3.4zM282.0 140.7h1.8v1.8h-1.8zM235.5 142.3h1.8v1.8h-1.8zM280.4 142.3h1.8v1.8h-1.8zM288.4 145.6h1.8v1.8h-1.8z"/>
<path fill="#a9a9da" d="M161.8 20.0h1.8v1.8h-1.8zM168.2 20.0h3.4v1.8h-3.4zM208.3 20.0h1.8v1.8h-1.8zM259.6 20.0h1.8v1.8h-1.8zM264.4 20.0h1.8v1.8h-1.8zM171.4 21.6h1.8v1.8h-1.8zM197.1 21.6h3.4v1.8h-3.4zM206.7 21.6h1.8v1.8h-1.8zM258.0 21.6h1.8v1.8h-1.8zM197.1 23.2h1.8v1.8h-1.8zM205.1 23.2h3.4v1.8h-3.4zM262.8 23.2h1.8v1.8h-1.8zM205.1 24.8h1.8v1.8h-1.8zM245.1 24.8h1.8v1.8h-1.8zM259.6 24.8h3.4v1.8h-3.4zM193.9 26.4h1.8v1.8h-1.8zM208.3 26.4h1.8v1.8h-1.8zM211.5 26.4h1.8v1.8h-1.8zM217.9 26.4h1.8v1.8h-1.8zM224.3 26.4h1.8v1.8h-1.8zM150.6 28.0h1.8v1.8h-1.8zM153.8 28.0h1.8v1.8h-1.8zM205.1 28.0h1.8v1.8h-1.8zM243.5 28.0h1.8v1.8h-1.8zM216.3 29.7h1.8v1.8h-1.8zM222.7 29.7h1.8v1.8h-1.8zM225.9 29.7h1.8v1.8h-1.8zM235.5 29.7h1.8v1.8h-1.8zM209.9 31.3h1.8v1.8h-1.8zM214.7 31.3h1.8v1.8h-1.8zM222.7 31.3h1.8v1.8h-1.8zM225.9 31.3h1.8v1.8h-1.8zM235.5 31.3h3.4v1.8h-3.4zM211.5 32.9h1.8v1.8h-1.8zM222.7 32.9h1.8v1.8h-1.8zM233.9 32.9h1.8v1.8h-1.8zM267.6 32.9h1.8v1.8h-1.8zM216.3 34.5h1.8v1.8h-1.8zM229.1 34.5h1.8v1.8h-1.8zM274.0 34.5h3.4v1.8h-3.4zM282.0 34.5h1.8v1.8h-1.8zM211.5 36.1h1.8v1.8h-1.8zM225.9 37.7h1.8v1.8h-1.8zM230.7 37.7h3.4v1.8h-3.4zM233.9 39.3h1.8v1.8h-1.8zM225.9 40.9h1.8v1.8h-1.8zM230.7 40.9h1.8v1.8h-1.8zM209.9 42.5h1.8v1.8h-1.8zM224.3 42.5h1.8v1.8h-1.8zM232.3 42.5h1.8v1.8h-1.8zM205.1 44.1h1.8v1.8h-1.8zM208.3 44.1h1.8v1.8h-1.8zM230.7 44.1h1.8v1.8h-1.8zM233.9 44.1h1.8v1.8h-1.8zM225.9 45.8h1.8v1.8h-1.8zM290.0 47.4h1.8v1.8h-1.8zM181.0 49.0h3.4v1.8h-3.4zM177.8 50.6h1.8v1.8h-1.8zM185.8 52.2h1.8v1.8h-1.8zM189.1 52.2h5.0v1.8h-5.0zM195.5 52.2h1.8v1.8h-1.8zM233.9 52.2h1.8v1.8h-1.8zM288.4 52.2h1.8v1.8h-1.8zM177.8 53.8h3.4v1.8h-3.4zM193.9 53.8h1.8v1.8h-1.8zM290.0 53.8h1.8v1.8h-1.8zM182.6 57.0h1.8v1.8h-1.8zM190.7 57.0h3.4v1.8h-3.4zM198.7 57.0h1.8v1.8h-1.8zM209.9 57.0h1.8v1.8h-1.8zM222.7 57.0h1.8v1.8h-1.8zM232.3 57.0h1.8v1.8h-1.8zM288.4 57.0h3.4v1.8h-3.4zM238.7 58.6h1.8v1.8h-1.8zM291.6 58.6h1.8v1.8h-1.8zM192.3 60.2h1.8v1.8h-1.8zM197.1 60.2h1.8v1.8h-1.8zM240.3 61.9h1.8v1.8h-1.8zM240.3 63.5h1.8v1.8h-1.8zM272.4 63.5h1.8v1.8h-1.8zM280.4 63.5h1.8v1.8h-1.8zM189.1 65.1h3.4v1.8h-3.4zM201.9 65.1h1.8v1.8h-1.8zM238.7 65.1h1.8v1.8h-1.8zM272.4 65.1h1.8v1.8h-1.8zM280.4 65.1h5.0v1.8h-5.0zM181.0 66.7h1.8v1.8h-1.8zM190.7 66.7h1.8v1.8h-1.8zM203.5 66.7h1.8v1.8h-1.8zM206.7 66.7h1.8v1.8h-1.8zM283.6 66.7h1.8v1.8h-1.8zM150.6 68.3h3.4v1.8h-3.4zM179.4 68.3h1.8v1.8h-1.8zM192.3 68.3h3.4v1.8h-3.4zM203.5 68.3h1.8v1.8h-1.8zM213.1 68.3h1.8v1.8h-1.8zM274.0 68.3h3.4v1.8h-3.4zM282.0 68.3h1.8v1.8h-1.8zM192.3 69.9h3.4v1.8h-3.4zM235.5 69.9h3.4v1.8h-3.4zM192.3 71.5h1.8v1.8h-1.8zM198.7 71.5h1.8v1.8h-1.8zM201.9 71.5h3.4v1.8h-3.4zM222.7 71.5h1.8v1.8h-1.8zM235.5 71.5h1.8v1.8h-1.8zM150.6 73.1h3.4v1.8h-3.4zM211.5 73.1h1.8v1.8h-1.8zM285.2 73.1h1.8v1.8h-1.8zM189.1 74.7h1.8v1.8h-1.8zM201.9 74.7h1.8v1.8h-1.8zM209.9 74.7h3.4v1.8h-3.4zM209.9 76.3h1.8v1.8h-1.8zM227.5 76.3h1.8v1.8h-1.8zM285.2 76.3h1.8v1.8h-1.8zM150.6 77.9h3.4v1.8h-3.4zM198.7 77.9h3.4v1.8h-3.4zM229.1 77.9h1.8v1.8h-1.8zM232.3 77.9h3.4v1.8h-3.4zM285.2 79.6h1.8v1.8h-1.8zM203.5 81.2h1.8v1.8h-1.8zM208.3 81.2h3.4v1.8h-3.4zM214.7 81.2h3.4v1.8h-3.4zM201.9 82.8h1.8v1.8h-1.8zM208.3 82.8h1.8v1.8h-1.8zM211.5 82.8h1.8v1.8h-1.8zM158.6 84.4h1.8v1.8h-1.8zM200.3 84.4h1.8v1.8h-1.8zM217.9 84.4h3.4v1.8h-3.4zM225.9 84.4h1.8v1.8h-1.8zM230.7 84.4h1.8v1.8h-1.8zM235.5 84.4h1.8v1.8h-1.8zM280.4 84.4h1.8v1.8h-1.8zM152.2 86.0h3.4v1.8h-3.4zM158.6 86.0h3.4v1.8h-3.4zM198.7 86.0h3.4v1.8h-3.4zM240.3 86.0h3.4v1.8h-3.4zM248.3 86.0h3.4v1.8h-3.4zM277.2 86.0h1.8v1.8h-1.8zM155.4 87.6h1.8v1.8h-1.8zM158.6 87.6h3.4v1.8h-3.4zM240.3 87.6h3.4v1.8h-3.4zM249.9 87.6h1.8v1.8h-1.8zM275.6 87.6h3.4v1.8h-3.4zM229.1 89.2h1.8v1.8h-1.8zM233.9 89.2h1.8v1.8h-1.8zM278.8 89.2h1.8v1.8h-1.8zM282.0 89.2h3.4v1.8h-3.4zM216.3 90.8h1.8v1.8h-1.8zM278.8 90.8h5.0v1.8h-5.0zM291.6 90.8h1.8v1.8h-1.8zM216.3 92.4h1.8v1.8h-1.8zM229.1 92.4h1.8v1.8h-1.8zM232.3 92.4h3.4v1.8h-3.4zM237.1 92.4h1.8v1.8h-1.8zM278.8 92.4h1.8v1.8h-1.8zM237.1 94.0h1.8v1.8h-1.8zM290.0 95.7h1.8v1.8h-1.8zM288.4 97.3h3.4v1.8h-3.4zM235.5 102.1h5.0v1.8h-5.0zM288.4 102.1h3.4v1.8h-3.4zM214.7 103.7h1.8v1.8h-1.8zM243.5 103.7h1.8v1.8h-1.8zM291.6 103.7h1.8v1.8h-1.8zM198.7 105.3h1.8v1.8h-1.8zM213.1 105.3h1.8v1.8h-1.8zM222.7 105.3h5.0v1.8h-5.0zM243.5 105.3h1.8v1.8h-1.8zM290.0 105.3h3.4v1.8h-3.4zM222.7 106.9h1.8v1.8h-1.8zM225.9 106.9h1.8v1.8h-1.8zM238.7 106.9h1.8v1.8h-1.8zM241.9 106.9h3.4v1.8h-3.4zM290.0 106.9h1.8v1.8h-1.8zM235.5 108.5h1.8v1.8h-1.8zM290.0 108.5h1.8v1.8h-1.8zM197.1 110.1h1.8v1.8h-1.8zM227.5 110.1h1.8v1.8h-1.8zM233.9 110.1h1.8v1.8h-1.8zM193.9 111.7h1.8v1.8h-1.8zM229.1 111.7h1.8v1.8h-1.8zM187.5 113.4h1.8v1.8h-1.8zM192.3 113.4h1.8v1.8h-1.8zM195.5 113.4h1.8v1.8h-1.8zM187.5 115.0h1.8v1.8h-1.8zM190.7 115.0h3.4v1.8h-3.4zM197.1 115.0h1.8v1.8h-1.8zM288.4 115.0h1.8v1.8h-1.8zM291.6 115.0h1.8v1.8h-1.8zM187.5 116.6h1.8v1.8h-1.8zM195.5 116.6h3.4v1.8h-3.4zM193.9 118.2h1.8v1.8h-1.8zM203.5 118.2h1.8v1.8h-1.8zM206.7 118.2h5.0v1.8h-5.0zM213.1 118.2h1.8v1.8h-1.8zM216.3 118.2h1.8v1.8h-1.8zM185.8 119.8h1.8v1.8h-1.8zM192.3 119.8h1.8v1.8h-1.8zM198.7 119.8h1.8v1.8h-1.8zM208.3 119.8h1.8v1.8h-1.8zM214.7 119.8h1.8v1.8h-1.8zM219.5 119.8h5.0v1.8h-5.0zM227.5 119.8h1.8v1.8h-1.8zM189.1 121.4h1.8v1.8h-1.8zM192.3 121.4h1.8v1.8h-1.8zM195.5 121.4h3.4v1.8h-3.4zM232.3 121.4h6.6v1.8h-6.6zM290.0 121.4h1.8v1.8h-1.8zM182.6 123.0h1.8v1.8h-1.8zM187.5 123.0h3.4v1.8h-3.4zM192.3 123.0h1.8v1.8h-1.8zM197.1 123.0h1.8v1.8h-1.8zM200.3 123.0h1.8v1.8h-1.8zM206.7 123.0h1.8v1.8h-1.8zM232.3 123.0h1.8v1.8h-1.8zM192.3 124.6h1.8v1.8h-1.8zM195.5 124.6h3.4v1.8h-3.4zM235.5 124.6h1.8v1.8h-1.8zM181.0 126.2h1.8v1.8h-1.8zM192.3 126.2h1.8v1.8h-1.8zM192.3 127.8h1.8v1.8h-1.8zM195.5 127.8h1.8v1.8h-1.8zM237.1 127.8h1.8v1.8h-1.8zM182.6 129.5h1.8v1.8h-1.8zM187.5 129.5h1.8v1.8h-1.8zM201.9 129.5h1.8v1.8h-1.8zM208.3 129.5h1.8v1.8h-1.8zM211.5 129.5h1.8v1.8h-1.8zM225.9 129.5h1.8v1.8h-1.8zM229.1 129.5h1.8v1.8h-1.8zM241.9 131.1h1.8v1.8h-1.8zM283.6 131.1h3.4v1.8h-3.4zM174.6 132.7h3.4v1.8h-3.4zM243.5 132.7h1.8v1.8h-1.8zM249.9 132.7h1.8v1.8h-1.8zM283.6 132.7h1.8v1.8h-1.8zM177.8 134.3h1.8v1.8h-1.8zM190.7 134.3h1.8v1.8h-1.8zM195.5 134.3h1.8v1.8h-1.8zM200.3 134.3h3.4v1.8h-3.4zM208.3 134.3h1.8v1.8h-1.8zM211.5 134.3h3.4v1.8h-3.4zM225.9 134.3h1.8v1.8h-1.8zM229.1 134.3h1.8v1.8h-1.8zM233.9 134.3h1.8v1.8h-1.8zM240.3 134.3h1.8v1.8h-1.8zM243.5 134.3h1.8v1.8h-1.8zM286.8 134.3h1.8v1.8h-1.8zM291.6 134.3h1.8v1.8h-1.8zM189.1 135.9h3.4v1.8h-3.4zM193.9 135.9h1.8v1.8h-1.8zM205.1 135.9h1.8v1.8h-1.8zM229.1 135.9h1.8v1.8h-1.8zM232.3 135.9h1.8v1.8h-1.8zM245.1 135.9h1.8v1.8h-1.8zM248.3 135.9h3.4v1.8h-3.4zM283.6 135.9h1.8v1.8h-1.8zM219.5 137.5h1.8v1.8h-1.8zM224.3 137.5h1.8v1.8h-1.8zM230.7 137.5h3.4v1.8h-3.4zM245.1 137.5h1.8v1.8h-1.8zM285.2 137.5h3.4v1.8h-3.4zM291.6 137.5h1.8v1.8h-1.8zM221.1 139.1h1.8v1.8h-1.8zM245.1 139.1h6.6v1.8h-6.6zM280.4 139.1h1.8v1.8h-1.8zM176.2 140.7h1.8v1.8h-1.8zM181.0 140.7h1.8v1.8h-1.8zM245.1 140.7h1.8v1.8h-1.8zM249.9 140.7h1.8v1.8h-1.8zM277.2 140.7h1.8v1.8h-1.8zM238.7 142.3h1.8v1.8h-1.8zM278.8 142.3h1.8v1.8h-1.8zM283.6 142.3h1.8v1.8h-1.8zM288.4 143.9h1.8v1.8h-1.8zM290.0 145.6h1.8v1.8h-1.8z"/>
<path fill="#b2b2d9" d="M205.1 20.0h1.8v1.8h-1.8zM209.9 20.0h1.8v1.8h-1.8zM243.5 20.0h1.8v1.8h-1.8zM282.0 20.0h1.8v1.8h-1.8zM290.0 20.0h1.8v1.8h-1.8zM245.1 21.6h3.4v1.8h-3.4zM262.8 21.6h1.8v1.8h-1.8zM286.8 21.6h1.8v1.8h-1.8zM171.4 23.2h1.8v1.8h-1.8zM198.7 23.2h1.8v1.8h-1.8zM201.9 23.2h1.8v1.8h-1.8zM258.0 23.2h1.8v1.8h-1.8zM169.8 24.8h1.8v1.8h-1.8zM190.7 24.8h1.8v1.8h-1.8zM262.8 24.8h1.8v1.8h-1.8zM150.6 26.4h3.4v1.8h-3.4zM155.4 26.4h1.8v1.8h-1.8zM166.6 26.4h1.8v1.8h-1.8zM192.3 26.4h1.8v1.8h-1.8zM195.5 26.4h1.8v1.8h-1.8zM241.9 26.4h1.8v1.8h-1.8zM264.4 26.4h1.8v1.8h-1.8zM152.2 28.0h1.8v1.8h-1.8zM155.4 28.0h3.4v1.8h-3.4zM189.1 28.0h1.8v1.8h-1.8zM201.9 28.0h1.8v1.8h-1.8zM206.7 28.0h1.8v1.8h-1.8zM259.6 28.0h1.8v1.8h-1.8zM208.3 29.7h6.6v1.8h-6.6zM237.1 29.7h1.8v1.8h-1.8zM190.7 31.3h3.4v1.8h-3.4zM195.5 31.3h1.8v1.8h-1.8zM208.3 31.3h1.8v1.8h-1.8zM217.9 31.3h5.0v1.8h-5.0zM224.3 31.3h1.8v1.8h-1.8zM193.9 32.9h1.8v1.8h-1.8zM217.9 32.9h3.4v1.8h-3.4zM225.9 32.9h1.8v1.8h-1.8zM209.9 34.5h1.8v1.8h-1.8zM214.7 34.5h1.8v1.8h-1.8zM222.7 34.5h1.8v1.8h-1.8zM227.5 34.5h1.8v1.8h-1.8zM230.7 34.5h1.8v1.8h-1.8zM209.9 36.1h1.8v1.8h-1.8zM213.1 36.1h1.8v1.8h-1.8zM280.4 36.1h3.4v1.8h-3.4zM205.1 37.7h3.4v1.8h-3.4zM235.5 37.7h1.8v1.8h-1.8zM282.0 37.7h1.8v1.8h-1.8zM205.1 39.3h5.0v1.8h-5.0zM224.3 39.3h1.8v1.8h-1.8zM230.7 39.3h3.4v1.8h-3.4zM288.4 39.3h3.4v1.8h-3.4zM208.3 40.9h1.8v1.8h-1.8zM232.3 40.9h5.0v1.8h-5.0zM208.3 42.5h1.8v1.8h-1.8zM230.7 42.5h1.8v1.8h-1.8zM233.9 42.5h1.8v1.8h-1.8zM232.3 44.1h1.8v1.8h-1.8zM290.0 44.1h1.8v1.8h-1.8zM211.5 45.8h1.8v1.8h-1.8zM216.3 45.8h1.8v1.8h-1.8zM222.7 45.8h3.4v1.8h-3.4zM227.5 45.8h1.8v1.8h-1.8zM233.9 45.8h1.8v1.8h-1.8zM288.4 47.4h1.8v1.8h-1.8zM179.4 49.0h1.8v1.8h-1.8zM184.2 49.0h1.8v1.8h-1.8zM290.0 49.0h1.8v1.8h-1.8zM288.4 50.6h3.4v1.8h-3.4zM176.2 52.2h1.8v1.8h-1.8zM237.1 52.2h1.8v1.8h-1.8zM266.0 52.2h1.8v1.8h-1.8zM185.8 53.8h1.8v1.8h-1.8zM190.7 53.8h1.8v1.8h-1.8zM179.4 55.4h1.8v1.8h-1.8zM187.5 55.4h1.8v1.8h-1.8zM190.7 55.4h3.4v1.8h-3.4zM195.5 55.4h1.8v1.8h-1.8zM198.7 55.4h1.8v1.8h-1.8zM227.5 55.4h3.4v1.8h-3.4zM232.3 55.4h3.4v1.8h-3.4zM237.1 55.4h1.8v1.8h-1.8zM290.0 55.4h1.8v1.8h-1.8zM187.5 57.0h3.4v1.8h-3.4zM195.5 57.0h3.4v1.8h-3.4zM201.9 57.0h3.4v1.8h-3.4zM206.7 57.0h3.4v1.8h-3.4zM213.1 57.0h3.4v1.8h-3.4zM221.1 57.0h1.8v1.8h-1.8zM225.9 57.0h1.8v1.8h-1.8zM238.7 57.0h1.8v1.8h-1.8zM291.6 57.0h1.8v1.8h-1.8zM177.8 58.6h1.8v1.8h-1.8zM150.6 60.2h1.8v1.8h-1.8zM179.4 60.2h1.8v1.8h-1.8zM195.5 60.2h1.8v1.8h-1.8zM240.3 60.2h3.4v1.8h-3.4zM282.0 60.2h3.4v1.8h-3.4zM177.8 61.9h3.4v1.8h-3.4zM192.3 61.9h1.8v1.8h-1.8zM195.5 61.9h3.4v1.8h-3.4zM282.0 61.9h1.8v1.8h-1.8zM152.2 63.5h1.8v1.8h-1.8zM177.8 63.5h1.8v1.8h-1.8zM193.9 63.5h1.8v1.8h-1.8zM241.9 63.5h1.8v1.8h-1.8zM275.6 63.5h5.0v1.8h-5.0zM177.8 65.1h1.8v1.8h-1.8zM200.3 65.1h1.8v1.8h-1.8zM274.0 65.1h1.8v1.8h-1.8zM278.8 65.1h1.8v1.8h-1.8zM150.6 66.7h3.4v1.8h-3.4zM179.4 66.7h1.8v1.8h-1.8zM280.4 66.7h1.8v1.8h-1.8zM153.8 68.3h1.8v1.8h-1.8zM177.8 68.3h1.8v1.8h-1.8zM198.7 68.3h3.4v1.8h-3.4zM206.7 68.3h1.8v1.8h-1.8zM238.7 68.3h1.8v1.8h-1.8zM270.8 68.3h1.8v1.8h-1.8zM277.2 68.3h5.0v1.8h-5.0zM152.2 69.9h1.8v1.8h-1.8zM179.4 69.9h1.8v1.8h-1.8zM198.7 69.9h1.8v1.8h-1.8zM201.9 69.9h3.4v1.8h-3.4zM211.5 69.9h1.8v1.8h-1.8zM216.3 69.9h1.8v1.8h-1.8zM221.1 69.9h1.8v1.8h-1.8zM224.3 69.9h1.8v1.8h-1.8zM272.4 69.9h1.8v1.8h-1.8zM283.6 69.9h1.8v1.8h-1.8zM150.6 71.5h3.4v1.8h-3.4zM177.8 71.5h3.4v1.8h-3.4zM197.1 71.5h1.8v1.8h-1.8zM200.3 71.5h1.8v1.8h-1.8zM211.5 71.5h1.8v1.8h-1.8zM224.3 71.5h1.8v1.8h-1.8zM237.1 71.5h1.8v1.8h-1.8zM179.4 73.1h1.8v1.8h-1.8zM195.5 73.1h6.6v1.8h-6.6zM206.7 73.1h3.4v1.8h-3.4zM224.3 73.1h1.8v1.8h-1.8zM235.5 73.1h3.4v1.8h-3.4zM150.6 74.7h5.0v1.8h-5.0zM182.6 74.7h1.8v1.8h-1.8zM190.7 74.7h1.8v1.8h-1.8zM193.9 74.7h1.8v1.8h-1.8zM200.3 74.7h1.8v1.8h-1.8zM206.7 74.7h3.4v1.8h-3.4zM216.3 74.7h1.8v1.8h-1.8zM225.9 74.7h1.8v1.8h-1.8zM237.1 74.7h1.8v1.8h-1.8zM285.2 74.7h1.8v1.8h-1.8zM153.8 76.3h3.4v1.8h-3.4zM201.9 76.3h1.8v1.8h-1.8zM216.3 76.3h1.8v1.8h-1.8zM153.8 77.9h1.8v1.8h-1.8zM157.0 77.9h3.4v1.8h-3.4zM217.9 77.9h1.8v1.8h-1.8zM230.7 77.9h1.8v1.8h-1.8zM155.4 79.6h1.8v1.8h-1.8zM200.3 79.6h3.4v1.8h-3.4zM217.9 79.6h1.8v1.8h-1.8zM229.1 79.6h1.8v1.8h-1.8zM206.7 81.2h1.8v1.8h-1.8zM211.5 81.2h3.4v1.8h-3.4zM285.2 81.2h3.4v1.8h-3.4zM219.5 82.8h1.8v1.8h-1.8zM227.5 82.8h3.4v1.8h-3.4zM233.9 82.8h1.8v1.8h-1.8zM152.2 84.4h1.8v1.8h-1.8zM155.4 84.4h3.4v1.8h-3.4zM160.2 84.4h1.8v1.8h-1.8zM224.3 84.4h1.8v1.8h-1.8zM232.3 84.4h1.8v1.8h-1.8zM241.9 84.4h1.8v1.8h-1.8zM278.8 84.4h1.8v1.8h-1.8zM184.2 86.0h1.8v1.8h-1.8zM238.7 86.0h1.8v1.8h-1.8zM243.5 86.0h1.8v1.8h-1.8zM251.5 86.0h1.8v1.8h-1.8zM254.7 86.0h1.8v1.8h-1.8zM275.6 86.0h1.8v1.8h-1.8zM152.2 87.6h3.4v1.8h-3.4zM161.8 87.6h1.8v1.8h-1.8zM184.2 87.6h1.8v1.8h-1.8zM200.3 87.6h1.8v1.8h-1.8zM224.3 87.6h1.8v1.8h-1.8zM243.5 87.6h1.8v1.8h-1.8zM248.3 87.6h1.8v1.8h-1.8zM205.1 89.2h1.8v1.8h-1.8zM216.3 89.2h1.8v1.8h-1.8zM230.7 89.2h1.8v1.8h-1.8zM205.1 90.8h1.8v1.8h-1.8zM229.1 90.8h3.4v1.8h-3.4zM235.5 90.8h1.8v1.8h-1.8zM283.6 90.8h1.8v1.8h-1.8zM211.5 92.4h1.8v1.8h-1.8zM214.7 92.4h1.8v1.8h-1.8zM227.5 92.4h1.8v1.8h-1.8zM235.5 92.4h1.8v1.8h-1.8zM240.3 92.4h1.8v1.8h-1.8zM230.7 94.0h1.8v1.8h-1.8zM233.9 94.0h1.8v1.8h-1.8zM282.0 94.0h3.4v1.8h-3.4zM288.4 95.7h1.8v1.8h-1.8zM288.4 98.9h3.4v1.8h-3.4zM235.5 100.5h3.4v1.8h-3.4zM288.4 100.5h3.4v1.8h-3.4zM205.1 102.1h1.8v1.8h-1.8zM216.3 102.1h1.8v1.8h-1.8zM230.7 102.1h1.8v1.8h-1.8zM233.9 102.1h1.8v1.8h-1.8zM240.3 102.1h3.4v1.8h-3.4zM291.6 102.1h1.8v1.8h-1.8zM198.7 103.7h3.4v1.8h-3.4zM217.9 103.7h3.4v1.8h-3.4zM222.7 103.7h3.4v1.8h-3.4zM217.9 105.3h3.4v1.8h-3.4zM288.4 105.3h1.8v1.8h-1.8zM224.3 106.9h1.8v1.8h-1.8zM288.4 106.9h1.8v1.8h-1.8zM291.6 106.9h1.8v1.8h-1.8zM197.1 108.5h1.8v1.8h-1.8zM288.4 108.5h1.8v1.8h-1.8zM291.6 108.5h1.8v1.8h-1.8zM193.9 110.1h1.8v1.8h-1.8zM235.5 110.1h1.8v1.8h-1.8zM190.7 111.7h1.8v1.8h-1.8zM195.5 111.7h3.4v1.8h-3.4zM230.7 111.7h3.4v1.8h-3.4zM288.4 111.7h1.8v1.8h-1.8zM291.6 111.7h1.8v1.8h-1.8zM185.8 113.4h1.8v1.8h-1.8zM286.8 113.4h1.8v1.8h-1.8zM184.2 115.0h3.4v1.8h-3.4zM189.1 115.0h1.8v1.8h-1.8zM195.5 115.0h1.8v1.8h-1.8zM184.2 116.6h1.8v1.8h-1.8zM229.1 116.6h1.8v1.8h-1.8zM233.9 116.6h1.8v1.8h-1.8zM291.6 116.6h1.8v1.8h-1.8zM184.2 118.2h9.8v1.8h-9.8zM195.5 118.2h1.8v1.8h-1.8zM198.7 118.2h5.0v1.8h-5.0zM184.2 119.8h1.8v1.8h-1.8zM187.5 119.8h5.0v1.8h-5.0zM195.5 119.8h1.8v1.8h-1.8zM203.5 119.8h1.8v1.8h-1.8zM206.7 119.8h1.8v1.8h-1.8zM217.9 119.8h1.8v1.8h-1.8zM224.3 119.8h3.4v1.8h-3.4zM290.0 119.8h1.8v1.8h-1.8zM181.0 121.4h1.8v1.8h-1.8zM181.0 123.0h1.8v1.8h-1.8zM195.5 123.0h1.8v1.8h-1.8zM235.5 123.0h3.4v1.8h-3.4zM291.6 123.0h1.8v1.8h-1.8zM181.0 124.6h1.8v1.8h-1.8zM237.1 124.6h1.8v1.8h-1.8zM290.0 124.6h3.4v1.8h-3.4zM195.5 126.2h1.8v1.8h-1.8zM237.1 126.2h1.8v1.8h-1.8zM288.4 126.2h5.0v1.8h-5.0zM288.4 127.8h1.8v1.8h-1.8zM291.6 127.8h1.8v1.8h-1.8zM181.0 129.5h1.8v1.8h-1.8zM189.1 129.5h6.6v1.8h-6.6zM200.3 129.5h1.8v1.8h-1.8zM206.7 129.5h1.8v1.8h-1.8zM209.9 129.5h1.8v1.8h-1.8zM224.3 129.5h1.8v1.8h-1.8zM230.7 129.5h1.8v1.8h-1.8zM233.9 129.5h1.8v1.8h-1.8zM174.6 131.1h1.8v1.8h-1.8zM243.5 131.1h1.8v1.8h-1.8zM245.1 132.7h1.8v1.8h-1.8zM248.3 132.7h1.8v1.8h-1.8zM280.4 132.7h3.4v1.8h-3.4zM206.7 134.3h1.8v1.8h-1.8zM230.7 134.3h3.4v1.8h-3.4zM248.3 134.3h3.4v1.8h-3.4zM192.3 135.9h1.8v1.8h-1.8zM198.7 135.9h5.0v1.8h-5.0zM213.1 135.9h3.4v1.8h-3.4zM230.7 135.9h1.8v1.8h-1.8zM246.7 135.9h1.8v1.8h-1.8zM179.4 137.5h3.4v1.8h-3.4zM185.8 137.5h1.8v1.8h-1.8zM248.3 137.5h1.8v1.8h-1.8zM283.6 137.5h1.8v1.8h-1.8zM177.8 139.1h5.0v1.8h-5.0zM184.2 139.1h1.8v1.8h-1.8zM278.8 139.1h1.8v1.8h-1.8zM282.0 139.1h3.4v1.8h-3.4zM179.4 140.7h1.8v1.8h-1.8zM182.6 140.7h1.8v1.8h-1.8zM253.1 140.7h1.8v1.8h-1.8zM275.6 140.7h1.8v1.8h-1.8zM282.0 142.3h1.8v1.8h-1.8zM227.5 143.9h3.4v1.8h-3.4zM290.0 143.9h1.8v1.8h-1.8zM291.6 145.6h1.8v1.8h-1.8zM288.4 147.2h3.4v1.8h-3.4z"/>
<path fill="#bbbbd7" d="M193.9 20.0h3.4v1.8h-3.4zM206.7 20.0h1.8v1.8h-1.8zM261.2 20.0h1.8v1.8h-1.8zM283.6 20.0h1.8v1.8h-1.8zM288.4 20.0h1.8v1.8h-1.8zM291.6 20.0h1.8v1.8h-1.8zM173.0 21.6h3.4v1.8h-3.4zM192.3 21.6h1.8v1.8h-1.8zM201.9 21.6h3.4v1.8h-3.4zM254.7 21.6h1.8v1.8h-1.8zM192.3 23.2h1.8v1.8h-1.8zM203.5 23.2h1.8v1.8h-1.8zM245.1 23.2h3.4v1.8h-3.4zM253.1 23.2h5.0v1.8h-5.0zM171.4 24.8h1.8v1.8h-1.8zM201.9 24.8h3.4v1.8h-3.4zM246.7 24.8h3.4v1.8h-3.4zM258.0 24.8h1.8v1.8h-1.8zM153.8 26.4h1.8v1.8h-1.8zM157.0 26.4h1.8v1.8h-1.8zM165.0 26.4h1.8v1.8h-1.8zM190.7 26.4h1.8v1.8h-1.8zM198.7 26.4h1.8v1.8h-1.8zM209.9 26.4h1.8v1.8h-1.8zM240.3 26.4h1.8v1.8h-1.8zM163.4 28.0h5.0v1.8h-5.0zM184.2 28.0h1.8v1.8h-1.8zM200.3 28.0h1.8v1.8h-1.8zM245.1 28.0h3.4v1.8h-3.4zM262.8 28.0h1.8v1.8h-1.8zM195.5 29.7h1.8v1.8h-1.8zM214.7 29.7h1.8v1.8h-1.8zM219.5 29.7h3.4v1.8h-3.4zM238.7 29.7h1.8v1.8h-1.8zM264.4 29.7h1.8v1.8h-1.8zM189.1 31.3h1.8v1.8h-1.8zM197.1 31.3h1.8v1.8h-1.8zM205.1 31.3h1.8v1.8h-1.8zM238.7 31.3h3.4v1.8h-3.4zM264.4 31.3h1.8v1.8h-1.8zM195.5 32.9h1.8v1.8h-1.8zM208.3 32.9h1.8v1.8h-1.8zM221.1 32.9h1.8v1.8h-1.8zM235.5 32.9h3.4v1.8h-3.4zM266.0 32.9h1.8v1.8h-1.8zM217.9 34.5h1.8v1.8h-1.8zM221.1 34.5h1.8v1.8h-1.8zM225.9 34.5h1.8v1.8h-1.8zM269.2 34.5h3.4v1.8h-3.4zM217.9 36.1h6.6v1.8h-6.6zM227.5 36.1h1.8v1.8h-1.8zM275.6 36.1h1.8v1.8h-1.8zM278.8 36.1h1.8v1.8h-1.8zM283.6 36.1h1.8v1.8h-1.8zM237.1 37.7h1.8v1.8h-1.8zM272.4 37.7h3.4v1.8h-3.4zM278.8 37.7h3.4v1.8h-3.4zM283.6 37.7h1.8v1.8h-1.8zM291.6 39.3h1.8v1.8h-1.8zM205.1 40.9h3.4v1.8h-3.4zM288.4 40.9h1.8v1.8h-1.8zM206.7 44.1h1.8v1.8h-1.8zM235.5 44.1h1.8v1.8h-1.8zM288.4 44.1h1.8v1.8h-1.8zM291.6 44.1h1.8v1.8h-1.8zM213.1 45.8h1.8v1.8h-1.8zM217.9 45.8h5.0v1.8h-5.0zM230.7 45.8h3.4v1.8h-3.4zM291.6 45.8h1.8v1.8h-1.8zM181.0 47.4h3.4v1.8h-3.4zM227.5 47.4h3.4v1.8h-3.4zM232.3 47.4h6.6v1.8h-6.6zM291.6 47.4h1.8v1.8h-1.8zM177.8 49.0h1.8v1.8h-1.8zM288.4 49.0h1.8v1.8h-1.8zM185.8 50.6h1.8v1.8h-1.8zM193.9 50.6h1.8v1.8h-1.8zM267.6 50.6h3.4v1.8h-3.4zM291.6 50.6h1.8v1.8h-1.8zM187.5 52.2h1.8v1.8h-1.8zM197.1 52.2h3.4v1.8h-3.4zM235.5 52.2h1.8v1.8h-1.8zM259.6 52.2h1.8v1.8h-1.8zM267.6 52.2h6.6v1.8h-6.6zM285.2 52.2h1.8v1.8h-1.8zM187.5 53.8h3.4v1.8h-3.4zM192.3 53.8h1.8v1.8h-1.8zM195.5 53.8h1.8v1.8h-1.8zM233.9 53.8h1.8v1.8h-1.8zM288.4 53.8h1.8v1.8h-1.8zM177.8 55.4h1.8v1.8h-1.8zM197.1 55.4h1.8v1.8h-1.8zM205.1 55.4h1.8v1.8h-1.8zM230.7 55.4h1.8v1.8h-1.8zM235.5 55.4h1.8v1.8h-1.8zM238.7 55.4h1.8v1.8h-1.8zM288.4 55.4h1.8v1.8h-1.8zM177.8 57.0h3.4v1.8h-3.4zM200.3 57.0h1.8v1.8h-1.8zM217.9 57.0h3.4v1.8h-3.4zM224.3 57.0h1.8v1.8h-1.8zM285.2 57.0h3.4v1.8h-3.4zM179.4 58.6h1.8v1.8h-1.8zM240.3 58.6h1.8v1.8h-1.8zM152.2 60.2h1.8v1.8h-1.8zM177.8 60.2h1.8v1.8h-1.8zM280.4 60.2h1.8v1.8h-1.8zM152.2 61.9h1.8v1.8h-1.8zM241.9 61.9h1.8v1.8h-1.8zM272.4 61.9h1.8v1.8h-1.8zM280.4 61.9h1.8v1.8h-1.8zM153.8 63.5h1.8v1.8h-1.8zM197.1 63.5h1.8v1.8h-1.8zM270.8 63.5h1.8v1.8h-1.8zM274.0 63.5h1.8v1.8h-1.8zM150.6 65.1h5.0v1.8h-5.0zM179.4 65.1h1.8v1.8h-1.8zM192.3 65.1h3.4v1.8h-3.4zM198.7 65.1h1.8v1.8h-1.8zM241.9 65.1h1.8v1.8h-1.8zM275.6 65.1h1.8v1.8h-1.8zM200.3 66.7h3.4v1.8h-3.4zM238.7 66.7h1.8v1.8h-1.8zM269.2 66.7h3.4v1.8h-3.4zM274.0 66.7h6.6v1.8h-6.6zM249.9 68.3h3.4v1.8h-3.4zM267.6 68.3h3.4v1.8h-3.4zM150.6 69.9h1.8v1.8h-1.8zM153.8 69.9h3.4v1.8h-3.4zM177.8 69.9h1.8v1.8h-1.8zM200.3 69.9h1.8v1.8h-1.8zM206.7 69.9h5.0v1.8h-5.0zM219.5 69.9h1.8v1.8h-1.8zM251.5 69.9h1.8v1.8h-1.8zM269.2 69.9h3.4v1.8h-3.4zM274.0 69.9h1.8v1.8h-1.8zM282.0 69.9h1.8v1.8h-1.8zM206.7 71.5h5.0v1.8h-5.0zM221.1 71.5h1.8v1.8h-1.8zM253.1 71.5h1.8v1.8h-1.8zM272.4 71.5h3.4v1.8h-3.4zM282.0 71.5h3.4v1.8h-3.4zM153.8 73.1h3.4v1.8h-3.4zM209.9 73.1h1.8v1.8h-1.8zM216.3 73.1h1.8v1.8h-1.8zM283.6 73.1h1.8v1.8h-1.8zM155.4 74.7h3.4v1.8h-3.4zM181.0 74.7h1.8v1.8h-1.8zM192.3 74.7h1.8v1.8h-1.8zM197.1 74.7h1.8v1.8h-1.8zM213.1 74.7h1.8v1.8h-1.8zM224.3 74.7h1.8v1.8h-1.8zM235.5 74.7h1.8v1.8h-1.8zM150.6 76.3h1.8v1.8h-1.8zM184.2 76.3h1.8v1.8h-1.8zM198.7 76.3h3.4v1.8h-3.4zM213.1 76.3h1.8v1.8h-1.8zM232.3 76.3h3.4v1.8h-3.4zM197.1 77.9h1.8v1.8h-1.8zM224.3 77.9h1.8v1.8h-1.8zM235.5 77.9h1.8v1.8h-1.8zM238.7 77.9h1.8v1.8h-1.8zM283.6 77.9h1.8v1.8h-1.8zM150.6 79.6h3.4v1.8h-3.4zM198.7 79.6h1.8v1.8h-1.8zM219.5 79.6h1.8v1.8h-1.8zM222.7 79.6h1.8v1.8h-1.8zM225.9 79.6h3.4v1.8h-3.4zM155.4 82.8h5.0v1.8h-5.0zM217.9 82.8h1.8v1.8h-1.8zM221.1 82.8h3.4v1.8h-3.4zM225.9 82.8h1.8v1.8h-1.8zM230.7 82.8h1.8v1.8h-1.8zM237.1 82.8h1.8v1.8h-1.8zM283.6 82.8h1.8v1.8h-1.8zM153.8 84.4h1.8v1.8h-1.8zM184.2 84.4h1.8v1.8h-1.8zM198.7 84.4h1.8v1.8h-1.8zM238.7 84.4h3.4v1.8h-3.4zM243.5 84.4h1.8v1.8h-1.8zM246.7 84.4h1.8v1.8h-1.8zM249.9 84.4h1.8v1.8h-1.8zM150.6 86.0h1.8v1.8h-1.8zM161.8 86.0h3.4v1.8h-3.4zM182.6 86.0h1.8v1.8h-1.8zM185.8 86.0h1.8v1.8h-1.8zM189.1 86.0h1.8v1.8h-1.8zM245.1 86.0h3.4v1.8h-3.4zM253.1 86.0h1.8v1.8h-1.8zM256.3 86.0h1.8v1.8h-1.8zM259.6 86.0h1.8v1.8h-1.8zM272.4 86.0h3.4v1.8h-3.4zM163.4 87.6h1.8v1.8h-1.8zM198.7 87.6h1.8v1.8h-1.8zM245.1 87.6h1.8v1.8h-1.8zM253.1 87.6h3.4v1.8h-3.4zM259.6 87.6h1.8v1.8h-1.8zM274.0 87.6h1.8v1.8h-1.8zM211.5 89.2h1.8v1.8h-1.8zM214.7 89.2h1.8v1.8h-1.8zM227.5 89.2h1.8v1.8h-1.8zM232.3 89.2h1.8v1.8h-1.8zM235.5 89.2h3.4v1.8h-3.4zM158.6 90.8h1.8v1.8h-1.8zM203.5 90.8h1.8v1.8h-1.8zM208.3 90.8h1.8v1.8h-1.8zM211.5 90.8h5.0v1.8h-5.0zM227.5 90.8h1.8v1.8h-1.8zM232.3 90.8h3.4v1.8h-3.4zM237.1 90.8h1.8v1.8h-1.8zM275.6 90.8h1.8v1.8h-1.8zM200.3 92.4h6.6v1.8h-6.6zM230.7 92.4h1.8v1.8h-1.8zM241.9 92.4h3.4v1.8h-3.4zM275.6 92.4h3.4v1.8h-3.4zM216.3 94.0h1.8v1.8h-1.8zM232.3 94.0h1.8v1.8h-1.8zM235.5 94.0h1.8v1.8h-1.8zM280.4 94.0h1.8v1.8h-1.8zM285.2 97.3h3.4v1.8h-3.4zM237.1 98.9h3.4v1.8h-3.4zM285.2 98.9h1.8v1.8h-1.8zM291.6 98.9h1.8v1.8h-1.8zM233.9 100.5h1.8v1.8h-1.8zM238.7 100.5h5.0v1.8h-5.0zM291.6 100.5h1.8v1.8h-1.8zM209.9 102.1h1.8v1.8h-1.8zM227.5 102.1h3.4v1.8h-3.4zM232.3 102.1h1.8v1.8h-1.8zM221.1 103.7h1.8v1.8h-1.8zM221.1 105.3h1.8v1.8h-1.8zM245.1 105.3h1.8v1.8h-1.8zM197.1 106.9h1.8v1.8h-1.8zM217.9 106.9h5.0v1.8h-5.0zM240.3 106.9h1.8v1.8h-1.8zM195.5 108.5h1.8v1.8h-1.8zM217.9 108.5h1.8v1.8h-1.8zM225.9 108.5h1.8v1.8h-1.8zM240.3 108.5h5.0v1.8h-5.0zM195.5 110.1h1.8v1.8h-1.8zM237.1 110.1h1.8v1.8h-1.8zM288.4 110.1h1.8v1.8h-1.8zM291.6 110.1h1.8v1.8h-1.8zM189.1 111.7h1.8v1.8h-1.8zM192.3 111.7h1.8v1.8h-1.8zM233.9 111.7h1.8v1.8h-1.8zM184.2 113.4h1.8v1.8h-1.8zM217.9 113.4h1.8v1.8h-1.8zM227.5 113.4h8.2v1.8h-8.2zM182.6 116.6h1.8v1.8h-1.8zM217.9 116.6h3.4v1.8h-3.4zM225.9 116.6h3.4v1.8h-3.4zM230.7 116.6h3.4v1.8h-3.4zM197.1 118.2h1.8v1.8h-1.8zM217.9 118.2h1.8v1.8h-1.8zM221.1 118.2h3.4v1.8h-3.4zM229.1 118.2h1.8v1.8h-1.8zM290.0 118.2h3.4v1.8h-3.4zM182.6 119.8h1.8v1.8h-1.8zM197.1 119.8h1.8v1.8h-1.8zM200.3 119.8h1.8v1.8h-1.8zM233.9 119.8h1.8v1.8h-1.8zM291.6 119.8h1.8v1.8h-1.8zM238.7 121.4h1.8v1.8h-1.8zM288.4 121.4h1.8v1.8h-1.8zM291.6 121.4h1.8v1.8h-1.8zM288.4 123.0h3.4v1.8h-3.4zM177.8 124.6h3.4v1.8h-3.4zM288.4 124.6h1.8v1.8h-1.8zM179.4 126.2h1.8v1.8h-1.8zM177.8 127.8h3.4v1.8h-3.4zM288.4 129.5h3.4v1.8h-3.4zM248.3 131.1h1.8v1.8h-1.8zM280.4 131.1h3.4v1.8h-3.4zM173.0 132.7h1.8v1.8h-1.8zM251.5 132.7h3.4v1.8h-3.4zM278.8 132.7h1.8v1.8h-1.8zM174.6 134.3h3.4v1.8h-3.4zM246.7 134.3h1.8v1.8h-1.8zM251.5 134.3h1.8v1.8h-1.8zM278.8 134.3h6.6v1.8h-6.6zM174.6 135.9h3.4v1.8h-3.4zM195.5 135.9h3.4v1.8h-3.4zM203.5 135.9h1.8v1.8h-1.8zM211.5 135.9h1.8v1.8h-1.8zM282.0 135.9h1.8v1.8h-1.8zM177.8 137.5h1.8v1.8h-1.8zM246.7 137.5h1.8v1.8h-1.8zM249.9 137.5h1.8v1.8h-1.8zM280.4 137.5h3.4v1.8h-3.4zM182.6 139.1h1.8v1.8h-1.8zM219.5 139.1h1.8v1.8h-1.8zM184.2 140.7h1.8v1.8h-1.8zM219.5 140.7h1.8v1.8h-1.8zM251.5 140.7h1.8v1.8h-1.8zM274.0 140.7h1.8v1.8h-1.8zM221.1 142.3h1.8v1.8h-1.8zM240.3 142.3h5.0v1.8h-5.0zM222.7 143.9h1.8v1.8h-1.8zM225.9 143.9h1.8v1.8h-1.8zM291.6 147.2h1.8v1.8h-1.8zM290.0 148.8h1.8v1.8h-1.8zM290.0 150.4h1.8v1.8h-1.8zM288.4 152.0h5.0v1.8h-5.0z"/>
<path fill="#c4c4d5" d="M171.4 20.0h1.8v1.8h-1.8zM197.1 20.0h3.4v1.8h-3.4zM258.0 20.0h1.8v1.8h-1.8zM262.8 20.0h1.8v1.8h-1.8zM200.3 21.6h1.8v1.8h-1.8zM248.3 21.6h3.4v1.8h-3.4zM256.3 21.6h1.8v1.8h-1.8zM173.0 23.2h1.8v1.8h-1.8zM177.8 23.2h1.8v1.8h-1.8zM190.7 23.2h1.8v1.8h-1.8zM200.3 23.2h1.8v1.8h-1.8zM251.5 23.2h1.8v1.8h-1.8zM173.0 24.8h1.8v1.8h-1.8zM200.3 24.8h1.8v1.8h-1.8zM158.6 26.4h1.8v1.8h-1.8zM197.1 26.4h1.8v1.8h-1.8zM205.1 26.4h3.4v1.8h-3.4zM243.5 26.4h1.8v1.8h-1.8zM262.8 26.4h1.8v1.8h-1.8zM158.6 28.0h3.4v1.8h-3.4zM181.0 28.0h1.8v1.8h-1.8zM185.8 28.0h3.4v1.8h-3.4zM203.5 28.0h1.8v1.8h-1.8zM248.3 28.0h1.8v1.8h-1.8zM261.2 28.0h1.8v1.8h-1.8zM190.7 29.7h1.8v1.8h-1.8zM197.1 29.7h1.8v1.8h-1.8zM217.9 29.7h1.8v1.8h-1.8zM224.3 29.7h1.8v1.8h-1.8zM240.3 29.7h1.8v1.8h-1.8zM206.7 31.3h1.8v1.8h-1.8zM241.9 31.3h1.8v1.8h-1.8zM190.7 32.9h3.4v1.8h-3.4zM206.7 32.9h1.8v1.8h-1.8zM224.3 32.9h1.8v1.8h-1.8zM193.9 34.5h3.4v1.8h-3.4zM208.3 34.5h1.8v1.8h-1.8zM219.5 34.5h1.8v1.8h-1.8zM224.3 34.5h1.8v1.8h-1.8zM232.3 34.5h5.0v1.8h-5.0zM266.0 34.5h3.4v1.8h-3.4zM208.3 36.1h1.8v1.8h-1.8zM229.1 36.1h1.8v1.8h-1.8zM233.9 36.1h1.8v1.8h-1.8zM272.4 36.1h1.8v1.8h-1.8zM277.2 36.1h1.8v1.8h-1.8zM192.3 37.7h3.4v1.8h-3.4zM203.5 37.7h1.8v1.8h-1.8zM270.8 37.7h1.8v1.8h-1.8zM275.6 37.7h3.4v1.8h-3.4zM235.5 39.3h3.4v1.8h-3.4zM286.8 39.3h1.8v1.8h-1.8zM290.0 40.9h1.8v1.8h-1.8zM205.1 42.5h3.4v1.8h-3.4zM237.1 44.1h1.8v1.8h-1.8zM208.3 45.8h1.8v1.8h-1.8zM214.7 45.8h1.8v1.8h-1.8zM235.5 45.8h3.4v1.8h-3.4zM288.4 45.8h3.4v1.8h-3.4zM179.4 47.4h1.8v1.8h-1.8zM195.5 47.4h1.8v1.8h-1.8zM211.5 47.4h1.8v1.8h-1.8zM216.3 47.4h1.8v1.8h-1.8zM230.7 47.4h1.8v1.8h-1.8zM267.6 47.4h3.4v1.8h-3.4zM266.0 49.0h6.6v1.8h-6.6zM291.6 49.0h1.8v1.8h-1.8zM192.3 50.6h1.8v1.8h-1.8zM195.5 50.6h1.8v1.8h-1.8zM264.4 50.6h3.4v1.8h-3.4zM230.7 52.2h3.4v1.8h-3.4zM238.7 52.2h5.0v1.8h-5.0zM262.8 52.2h3.4v1.8h-3.4zM274.0 52.2h1.8v1.8h-1.8zM286.8 52.2h1.8v1.8h-1.8zM197.1 53.8h3.4v1.8h-3.4zM235.5 53.8h3.4v1.8h-3.4zM291.6 53.8h1.8v1.8h-1.8zM189.1 55.4h1.8v1.8h-1.8zM201.9 55.4h3.4v1.8h-3.4zM209.9 55.4h5.0v1.8h-5.0zM216.3 55.4h1.8v1.8h-1.8zM286.8 55.4h1.8v1.8h-1.8zM291.6 55.4h1.8v1.8h-1.8zM240.3 57.0h1.8v1.8h-1.8zM241.9 58.6h1.8v1.8h-1.8zM282.0 58.6h1.8v1.8h-1.8zM153.8 60.2h3.4v1.8h-3.4zM243.5 60.2h1.8v1.8h-1.8zM278.8 60.2h1.8v1.8h-1.8zM150.6 61.9h1.8v1.8h-1.8zM153.8 61.9h1.8v1.8h-1.8zM176.2 61.9h1.8v1.8h-1.8zM243.5 61.9h1.8v1.8h-1.8zM275.6 61.9h1.8v1.8h-1.8zM278.8 61.9h1.8v1.8h-1.8zM155.4 63.5h1.8v1.8h-1.8zM195.5 63.5h1.8v1.8h-1.8zM243.5 63.5h1.8v1.8h-1.8zM155.4 65.1h1.8v1.8h-1.8zM197.1 65.1h1.8v1.8h-1.8zM240.3 65.1h1.8v1.8h-1.8zM248.3 65.1h1.8v1.8h-1.8zM251.5 65.1h1.8v1.8h-1.8zM259.6 65.1h1.8v1.8h-1.8zM267.6 65.1h5.0v1.8h-5.0zM277.2 65.1h1.8v1.8h-1.8zM153.8 66.7h1.8v1.8h-1.8zM177.8 66.7h1.8v1.8h-1.8zM192.3 66.7h3.4v1.8h-3.4zM198.7 66.7h1.8v1.8h-1.8zM240.3 66.7h1.8v1.8h-1.8zM155.4 68.3h1.8v1.8h-1.8zM195.5 68.3h3.4v1.8h-3.4zM240.3 68.3h3.4v1.8h-3.4zM248.3 68.3h1.8v1.8h-1.8zM253.1 68.3h1.8v1.8h-1.8zM266.0 68.3h1.8v1.8h-1.8zM195.5 69.9h3.4v1.8h-3.4zM213.1 69.9h3.4v1.8h-3.4zM217.9 69.9h1.8v1.8h-1.8zM238.7 69.9h3.4v1.8h-3.4zM249.9 69.9h1.8v1.8h-1.8zM253.1 69.9h1.8v1.8h-1.8zM275.6 69.9h1.8v1.8h-1.8zM278.8 69.9h1.8v1.8h-1.8zM153.8 71.5h3.4v1.8h-3.4zM195.5 71.5h1.8v1.8h-1.8zM216.3 71.5h3.4v1.8h-3.4zM238.7 71.5h1.8v1.8h-1.8zM249.9 71.5h1.8v1.8h-1.8zM275.6 71.5h1.8v1.8h-1.8zM177.8 73.1h1.8v1.8h-1.8zM213.1 73.1h1.8v1.8h-1.8zM221.1 73.1h1.8v1.8h-1.8zM240.3 73.1h1.8v1.8h-1.8zM272.4 73.1h1.8v1.8h-1.8zM282.0 73.1h1.8v1.8h-1.8zM179.4 74.7h1.8v1.8h-1.8zM195.5 74.7h1.8v1.8h-1.8zM214.7 74.7h1.8v1.8h-1.8zM221.1 74.7h1.8v1.8h-1.8zM283.6 74.7h1.8v1.8h-1.8zM152.2 76.3h1.8v1.8h-1.8zM157.0 76.3h3.4v1.8h-3.4zM185.8 76.3h1.8v1.8h-1.8zM189.1 76.3h1.8v1.8h-1.8zM193.9 76.3h1.8v1.8h-1.8zM214.7 76.3h1.8v1.8h-1.8zM222.7 76.3h1.8v1.8h-1.8zM237.1 76.3h1.8v1.8h-1.8zM184.2 77.9h1.8v1.8h-1.8zM189.1 77.9h1.8v1.8h-1.8zM219.5 77.9h5.0v1.8h-5.0zM225.9 77.9h1.8v1.8h-1.8zM237.1 77.9h1.8v1.8h-1.8zM240.3 77.9h5.0v1.8h-5.0zM153.8 79.6h1.8v1.8h-1.8zM157.0 79.6h1.8v1.8h-1.8zM230.7 79.6h5.0v1.8h-5.0zM237.1 79.6h1.8v1.8h-1.8zM241.9 79.6h3.4v1.8h-3.4zM283.6 79.6h1.8v1.8h-1.8zM155.4 81.2h1.8v1.8h-1.8zM201.9 81.2h1.8v1.8h-1.8zM229.1 81.2h1.8v1.8h-1.8zM150.6 82.8h5.0v1.8h-5.0zM200.3 82.8h1.8v1.8h-1.8zM224.3 82.8h1.8v1.8h-1.8zM232.3 82.8h1.8v1.8h-1.8zM235.5 82.8h1.8v1.8h-1.8zM241.9 82.8h1.8v1.8h-1.8zM282.0 82.8h1.8v1.8h-1.8zM150.6 84.4h1.8v1.8h-1.8zM161.8 84.4h3.4v1.8h-3.4zM245.1 84.4h1.8v1.8h-1.8zM248.3 84.4h1.8v1.8h-1.8zM251.5 84.4h1.8v1.8h-1.8zM258.0 84.4h1.8v1.8h-1.8zM277.2 84.4h1.8v1.8h-1.8zM181.0 86.0h1.8v1.8h-1.8zM190.7 86.0h1.8v1.8h-1.8zM195.5 86.0h1.8v1.8h-1.8zM258.0 86.0h1.8v1.8h-1.8zM150.6 87.6h1.8v1.8h-1.8zM165.0 87.6h1.8v1.8h-1.8zM181.0 87.6h3.4v1.8h-3.4zM185.8 87.6h1.8v1.8h-1.8zM246.7 87.6h1.8v1.8h-1.8zM256.3 87.6h3.4v1.8h-3.4zM272.4 87.6h1.8v1.8h-1.8zM201.9 89.2h3.4v1.8h-3.4zM213.1 89.2h1.8v1.8h-1.8zM221.1 89.2h1.8v1.8h-1.8zM238.7 89.2h1.8v1.8h-1.8zM241.9 89.2h1.8v1.8h-1.8zM155.4 90.8h3.4v1.8h-3.4zM160.2 90.8h1.8v1.8h-1.8zM201.9 90.8h1.8v1.8h-1.8zM209.9 90.8h1.8v1.8h-1.8zM217.9 90.8h1.8v1.8h-1.8zM238.7 90.8h1.8v1.8h-1.8zM241.9 90.8h1.8v1.8h-1.8zM274.0 90.8h1.8v1.8h-1.8zM277.2 90.8h1.8v1.8h-1.8zM158.6 92.4h1.8v1.8h-1.8zM189.1 92.4h1.8v1.8h-1.8zM213.1 92.4h1.8v1.8h-1.8zM225.9 92.4h1.8v1.8h-1.8zM238.7 92.4h1.8v1.8h-1.8zM272.4 92.4h1.8v1.8h-1.8zM211.5 94.0h1.8v1.8h-1.8zM214.7 94.0h1.8v1.8h-1.8zM238.7 94.0h1.8v1.8h-1.8zM286.8 95.7h1.8v1.8h-1.8zM291.6 95.7h1.8v1.8h-1.8zM235.5 97.3h3.4v1.8h-3.4zM291.6 97.3h1.8v1.8h-1.8zM216.3 98.9h1.8v1.8h-1.8zM235.5 98.9h1.8v1.8h-1.8zM216.3 100.5h1.8v1.8h-1.8zM229.1 100.5h1.8v1.8h-1.8zM232.3 100.5h1.8v1.8h-1.8zM243.5 100.5h1.8v1.8h-1.8zM286.8 100.5h1.8v1.8h-1.8zM201.9 102.1h3.4v1.8h-3.4zM208.3 102.1h1.8v1.8h-1.8zM211.5 102.1h1.8v1.8h-1.8zM214.7 102.1h1.8v1.8h-1.8zM222.7 102.1h3.4v1.8h-3.4zM243.5 102.1h3.4v1.8h-3.4zM197.1 103.7h1.8v1.8h-1.8zM245.1 103.7h1.8v1.8h-1.8zM282.0 103.7h1.8v1.8h-1.8zM285.2 103.7h3.4v1.8h-3.4zM195.5 106.9h1.8v1.8h-1.8zM245.1 106.9h1.8v1.8h-1.8zM193.9 108.5h1.8v1.8h-1.8zM238.7 108.5h1.8v1.8h-1.8zM187.5 110.1h1.8v1.8h-1.8zM190.7 110.1h1.8v1.8h-1.8zM225.9 110.1h1.8v1.8h-1.8zM241.9 110.1h1.8v1.8h-1.8zM185.8 111.7h3.4v1.8h-3.4zM217.9 111.7h1.8v1.8h-1.8zM227.5 111.7h1.8v1.8h-1.8zM235.5 111.7h1.8v1.8h-1.8zM285.2 111.7h1.8v1.8h-1.8zM235.5 113.4h1.8v1.8h-1.8zM285.2 113.4h1.8v1.8h-1.8zM230.7 115.0h1.8v1.8h-1.8zM233.9 115.0h1.8v1.8h-1.8zM285.2 115.0h3.4v1.8h-3.4zM221.1 116.6h5.0v1.8h-5.0zM235.5 116.6h3.4v1.8h-3.4zM286.8 116.6h1.8v1.8h-1.8zM219.5 118.2h1.8v1.8h-1.8zM227.5 118.2h1.8v1.8h-1.8zM230.7 118.2h5.0v1.8h-5.0zM237.1 118.2h1.8v1.8h-1.8zM230.7 119.8h3.4v1.8h-3.4zM235.5 119.8h3.4v1.8h-3.4zM288.4 119.8h1.8v1.8h-1.8zM177.8 121.4h3.4v1.8h-3.4zM240.3 121.4h1.8v1.8h-1.8zM238.7 124.6h3.4v1.8h-3.4zM177.8 126.2h1.8v1.8h-1.8zM177.8 129.5h1.8v1.8h-1.8zM195.5 129.5h3.4v1.8h-3.4zM232.3 129.5h1.8v1.8h-1.8zM235.5 129.5h3.4v1.8h-3.4zM173.0 131.1h1.8v1.8h-1.8zM245.1 131.1h3.4v1.8h-3.4zM249.9 131.1h3.4v1.8h-3.4zM278.8 131.1h1.8v1.8h-1.8zM254.7 132.7h1.8v1.8h-1.8zM277.2 132.7h1.8v1.8h-1.8zM173.0 134.3h1.8v1.8h-1.8zM245.1 134.3h1.8v1.8h-1.8zM253.1 134.3h1.8v1.8h-1.8zM259.6 134.3h1.8v1.8h-1.8zM275.6 134.3h3.4v1.8h-3.4zM209.9 135.9h1.8v1.8h-1.8zM251.5 135.9h3.4v1.8h-3.4zM280.4 135.9h1.8v1.8h-1.8zM187.5 137.5h1.8v1.8h-1.8zM216.3 137.5h1.8v1.8h-1.8zM251.5 137.5h1.8v1.8h-1.8zM278.8 137.5h1.8v1.8h-1.8zM251.5 139.1h1.8v1.8h-1.8zM277.2 139.1h1.8v1.8h-1.8zM173.0 140.7h3.4v1.8h-3.4zM254.7 140.7h1.8v1.8h-1.8zM259.6 140.7h1.8v1.8h-1.8zM272.4 140.7h1.8v1.8h-1.8zM245.1 142.3h5.0v1.8h-5.0zM277.2 142.3h1.8v1.8h-1.8zM230.7 143.9h1.8v1.8h-1.8zM282.0 143.9h1.8v1.8h-1.8zM285.2 143.9h3.4v1.8h-3.4zM225.9 145.6h1.8v1.8h-1.8zM285.2 145.6h3.4v1.8h-3.4zM288.4 148.8h1.8v1.8h-1.8zM291.6 148.8h1.8v1.8h-1.8zM288.4 150.4h1.8v1.8h-1.8zM291.6 150.4h1.8v1.8h-1.8z"/>
<path fill="#cdcdd4" d="M203.5 20.0h1.8v1.8h-1.8zM245.1 20.0h1.8v1.8h-1.8zM256.3 20.0h1.8v1.8h-1.8zM285.2 20.0h1.8v1.8h-1.8zM190.7 21.6h1.8v1.8h-1.8zM251.5 21.6h3.4v1.8h-3.4zM174.6 23.2h1.8v1.8h-1.8zM248.3 23.2h3.4v1.8h-3.4zM176.2 24.8h3.4v1.8h-3.4zM189.1 24.8h1.8v1.8h-1.8zM249.9 24.8h8.2v1.8h-8.2zM160.2 26.4h5.0v1.8h-5.0zM168.2 26.4h1.8v1.8h-1.8zM203.5 26.4h1.8v1.8h-1.8zM245.1 26.4h1.8v1.8h-1.8zM248.3 26.4h1.8v1.8h-1.8zM259.6 26.4h1.8v1.8h-1.8zM161.8 28.0h1.8v1.8h-1.8zM168.2 28.0h5.0v1.8h-5.0zM176.2 28.0h5.0v1.8h-5.0zM182.6 28.0h1.8v1.8h-1.8zM249.9 28.0h1.8v1.8h-1.8zM192.3 29.7h1.8v1.8h-1.8zM187.5 31.3h1.8v1.8h-1.8zM198.7 31.3h1.8v1.8h-1.8zM205.1 32.9h1.8v1.8h-1.8zM238.7 32.9h1.8v1.8h-1.8zM264.4 32.9h1.8v1.8h-1.8zM189.1 34.5h5.0v1.8h-5.0zM205.1 34.5h3.4v1.8h-3.4zM237.1 34.5h3.4v1.8h-3.4zM224.3 36.1h1.8v1.8h-1.8zM230.7 36.1h3.4v1.8h-3.4zM237.1 36.1h1.8v1.8h-1.8zM274.0 36.1h1.8v1.8h-1.8zM189.1 37.7h3.4v1.8h-3.4zM195.5 37.7h1.8v1.8h-1.8zM201.9 37.7h1.8v1.8h-1.8zM240.3 37.7h1.8v1.8h-1.8zM269.2 37.7h1.8v1.8h-1.8zM201.9 39.3h3.4v1.8h-3.4zM285.2 39.3h1.8v1.8h-1.8zM201.9 40.9h3.4v1.8h-3.4zM237.1 40.9h1.8v1.8h-1.8zM286.8 40.9h1.8v1.8h-1.8zM235.5 42.5h1.8v1.8h-1.8zM288.4 42.5h1.8v1.8h-1.8zM201.9 44.1h3.4v1.8h-3.4zM286.8 44.1h1.8v1.8h-1.8zM203.5 45.8h5.0v1.8h-5.0zM209.9 45.8h1.8v1.8h-1.8zM193.9 47.4h1.8v1.8h-1.8zM209.9 47.4h1.8v1.8h-1.8zM222.7 47.4h1.8v1.8h-1.8zM225.9 47.4h1.8v1.8h-1.8zM264.4 47.4h3.4v1.8h-3.4zM286.8 47.4h1.8v1.8h-1.8zM192.3 49.0h6.6v1.8h-6.6zM232.3 49.0h3.4v1.8h-3.4zM237.1 49.0h1.8v1.8h-1.8zM264.4 49.0h1.8v1.8h-1.8zM176.2 50.6h1.8v1.8h-1.8zM189.1 50.6h3.4v1.8h-3.4zM197.1 50.6h1.8v1.8h-1.8zM259.6 50.6h1.8v1.8h-1.8zM270.8 50.6h1.8v1.8h-1.8zM174.6 52.2h1.8v1.8h-1.8zM201.9 52.2h1.8v1.8h-1.8zM229.1 52.2h1.8v1.8h-1.8zM243.5 52.2h3.4v1.8h-3.4zM254.7 52.2h1.8v1.8h-1.8zM258.0 52.2h1.8v1.8h-1.8zM261.2 52.2h1.8v1.8h-1.8zM275.6 52.2h1.8v1.8h-1.8zM283.6 52.2h1.8v1.8h-1.8zM227.5 53.8h6.6v1.8h-6.6zM238.7 53.8h1.8v1.8h-1.8zM285.2 53.8h3.4v1.8h-3.4zM200.3 55.4h1.8v1.8h-1.8zM206.7 55.4h3.4v1.8h-3.4zM214.7 55.4h1.8v1.8h-1.8zM222.7 55.4h1.8v1.8h-1.8zM225.9 55.4h1.8v1.8h-1.8zM240.3 55.4h1.8v1.8h-1.8zM285.2 55.4h1.8v1.8h-1.8zM152.2 57.0h1.8v1.8h-1.8zM241.9 57.0h3.4v1.8h-3.4zM282.0 57.0h3.4v1.8h-3.4zM150.6 58.6h1.8v1.8h-1.8zM155.4 58.6h1.8v1.8h-1.8zM283.6 58.6h1.8v1.8h-1.8zM173.0 60.2h1.8v1.8h-1.8zM176.2 60.2h1.8v1.8h-1.8zM245.1 60.2h3.4v1.8h-3.4zM277.2 60.2h1.8v1.8h-1.8zM155.4 61.9h1.8v1.8h-1.8zM174.6 61.9h1.8v1.8h-1.8zM245.1 61.9h1.8v1.8h-1.8zM274.0 61.9h1.8v1.8h-1.8zM277.2 61.9h1.8v1.8h-1.8zM176.2 63.5h1.8v1.8h-1.8zM245.1 63.5h5.0v1.8h-5.0zM251.5 63.5h3.4v1.8h-3.4zM269.2 63.5h1.8v1.8h-1.8zM174.6 65.1h3.4v1.8h-3.4zM195.5 65.1h1.8v1.8h-1.8zM245.1 65.1h1.8v1.8h-1.8zM249.9 65.1h1.8v1.8h-1.8zM254.7 65.1h1.8v1.8h-1.8zM155.4 66.7h1.8v1.8h-1.8zM248.3 66.7h5.0v1.8h-5.0zM267.6 66.7h1.8v1.8h-1.8zM176.2 68.3h1.8v1.8h-1.8zM243.5 68.3h1.8v1.8h-1.8zM246.7 68.3h1.8v1.8h-1.8zM157.0 69.9h1.8v1.8h-1.8zM174.6 69.9h1.8v1.8h-1.8zM243.5 69.9h1.8v1.8h-1.8zM248.3 69.9h1.8v1.8h-1.8zM254.7 69.9h1.8v1.8h-1.8zM259.6 69.9h1.8v1.8h-1.8zM267.6 69.9h1.8v1.8h-1.8zM277.2 69.9h1.8v1.8h-1.8zM280.4 69.9h1.8v1.8h-1.8zM157.0 71.5h1.8v1.8h-1.8zM176.2 71.5h1.8v1.8h-1.8zM213.1 71.5h1.8v1.8h-1.8zM219.5 71.5h1.8v1.8h-1.8zM240.3 71.5h3.4v1.8h-3.4zM245.1 71.5h3.4v1.8h-3.4zM251.5 71.5h1.8v1.8h-1.8zM269.2 71.5h3.4v1.8h-3.4zM278.8 71.5h1.8v1.8h-1.8zM157.0 73.1h3.4v1.8h-3.4zM214.7 73.1h1.8v1.8h-1.8zM217.9 73.1h1.8v1.8h-1.8zM238.7 73.1h1.8v1.8h-1.8zM246.7 73.1h1.8v1.8h-1.8zM249.9 73.1h3.4v1.8h-3.4zM270.8 73.1h1.8v1.8h-1.8zM158.6 74.7h1.8v1.8h-1.8zM177.8 74.7h1.8v1.8h-1.8zM219.5 74.7h1.8v1.8h-1.8zM222.7 74.7h1.8v1.8h-1.8zM238.7 74.7h1.8v1.8h-1.8zM282.0 74.7h1.8v1.8h-1.8zM181.0 76.3h3.4v1.8h-3.4zM187.5 76.3h1.8v1.8h-1.8zM190.7 76.3h3.4v1.8h-3.4zM197.1 76.3h1.8v1.8h-1.8zM217.9 76.3h1.8v1.8h-1.8zM225.9 76.3h1.8v1.8h-1.8zM235.5 76.3h1.8v1.8h-1.8zM238.7 76.3h5.0v1.8h-5.0zM283.6 76.3h1.8v1.8h-1.8zM160.2 77.9h1.8v1.8h-1.8zM182.6 77.9h1.8v1.8h-1.8zM185.8 77.9h3.4v1.8h-3.4zM190.7 77.9h3.4v1.8h-3.4zM195.5 77.9h1.8v1.8h-1.8zM245.1 77.9h5.0v1.8h-5.0zM158.6 79.6h1.8v1.8h-1.8zM221.1 79.6h1.8v1.8h-1.8zM224.3 79.6h1.8v1.8h-1.8zM235.5 79.6h1.8v1.8h-1.8zM240.3 79.6h1.8v1.8h-1.8zM152.2 81.2h1.8v1.8h-1.8zM200.3 81.2h1.8v1.8h-1.8zM217.9 81.2h5.0v1.8h-5.0zM225.9 81.2h1.8v1.8h-1.8zM230.7 81.2h3.4v1.8h-3.4zM283.6 81.2h1.8v1.8h-1.8zM160.2 82.8h1.8v1.8h-1.8zM198.7 82.8h1.8v1.8h-1.8zM238.7 82.8h3.4v1.8h-3.4zM243.5 82.8h1.8v1.8h-1.8zM251.5 82.8h1.8v1.8h-1.8zM280.4 82.8h1.8v1.8h-1.8zM181.0 84.4h3.4v1.8h-3.4zM185.8 84.4h1.8v1.8h-1.8zM189.1 84.4h1.8v1.8h-1.8zM253.1 84.4h5.0v1.8h-5.0zM259.6 84.4h1.8v1.8h-1.8zM275.6 84.4h1.8v1.8h-1.8zM165.0 86.0h1.8v1.8h-1.8zM179.4 86.0h1.8v1.8h-1.8zM187.5 86.0h1.8v1.8h-1.8zM192.3 86.0h1.8v1.8h-1.8zM197.1 86.0h1.8v1.8h-1.8zM270.8 86.0h1.8v1.8h-1.8zM187.5 87.6h11.4v1.8h-11.4zM155.4 89.2h5.0v1.8h-5.0zM200.3 89.2h1.8v1.8h-1.8zM208.3 89.2h3.4v1.8h-3.4zM217.9 89.2h3.4v1.8h-3.4zM222.7 89.2h1.8v1.8h-1.8zM240.3 89.2h1.8v1.8h-1.8zM275.6 89.2h3.4v1.8h-3.4zM153.8 90.8h1.8v1.8h-1.8zM163.4 90.8h1.8v1.8h-1.8zM195.5 90.8h1.8v1.8h-1.8zM198.7 90.8h1.8v1.8h-1.8zM219.5 90.8h1.8v1.8h-1.8zM222.7 90.8h5.0v1.8h-5.0zM240.3 90.8h1.8v1.8h-1.8zM243.5 90.8h1.8v1.8h-1.8zM155.4 92.4h3.4v1.8h-3.4zM184.2 92.4h1.8v1.8h-1.8zM198.7 92.4h1.8v1.8h-1.8zM206.7 92.4h5.0v1.8h-5.0zM217.9 92.4h1.8v1.8h-1.8zM245.1 92.4h1.8v1.8h-1.8zM248.3 92.4h1.8v1.8h-1.8zM274.0 92.4h1.8v1.8h-1.8zM217.9 94.0h1.8v1.8h-1.8zM227.5 94.0h3.4v1.8h-3.4zM240.3 94.0h1.8v1.8h-1.8zM243.5 94.0h1.8v1.8h-1.8zM278.8 94.0h1.8v1.8h-1.8zM285.2 95.7h1.8v1.8h-1.8zM216.3 97.3h1.8v1.8h-1.8zM229.1 97.3h1.8v1.8h-1.8zM233.9 97.3h1.8v1.8h-1.8zM238.7 97.3h5.0v1.8h-5.0zM283.6 97.3h1.8v1.8h-1.8zM233.9 98.9h1.8v1.8h-1.8zM241.9 98.9h1.8v1.8h-1.8zM282.0 98.9h1.8v1.8h-1.8zM286.8 98.9h1.8v1.8h-1.8zM201.9 100.5h1.8v1.8h-1.8zM209.9 100.5h3.4v1.8h-3.4zM227.5 100.5h1.8v1.8h-1.8zM230.7 100.5h1.8v1.8h-1.8zM285.2 100.5h1.8v1.8h-1.8zM189.1 102.1h1.8v1.8h-1.8zM198.7 102.1h1.8v1.8h-1.8zM206.7 102.1h1.8v1.8h-1.8zM213.1 102.1h1.8v1.8h-1.8zM217.9 102.1h5.0v1.8h-5.0zM225.9 102.1h1.8v1.8h-1.8zM282.0 102.1h6.6v1.8h-6.6zM189.1 103.7h1.8v1.8h-1.8zM283.6 103.7h1.8v1.8h-1.8zM189.1 105.3h1.8v1.8h-1.8zM195.5 105.3h3.4v1.8h-3.4zM282.0 105.3h3.4v1.8h-3.4zM286.8 105.3h1.8v1.8h-1.8zM189.1 106.9h3.4v1.8h-3.4zM193.9 106.9h1.8v1.8h-1.8zM285.2 106.9h3.4v1.8h-3.4zM189.1 108.5h1.8v1.8h-1.8zM192.3 108.5h1.8v1.8h-1.8zM219.5 108.5h6.6v1.8h-6.6zM282.0 108.5h1.8v1.8h-1.8zM285.2 108.5h3.4v1.8h-3.4zM189.1 110.1h1.8v1.8h-1.8zM192.3 110.1h1.8v1.8h-1.8zM217.9 110.1h1.8v1.8h-1.8zM222.7 110.1h1.8v1.8h-1.8zM238.7 110.1h3.4v1.8h-3.4zM285.2 110.1h3.4v1.8h-3.4zM286.8 111.7h1.8v1.8h-1.8zM237.1 113.4h1.8v1.8h-1.8zM283.6 113.4h1.8v1.8h-1.8zM182.6 115.0h1.8v1.8h-1.8zM217.9 115.0h1.8v1.8h-1.8zM229.1 115.0h1.8v1.8h-1.8zM232.3 115.0h1.8v1.8h-1.8zM240.3 116.6h1.8v1.8h-1.8zM282.0 116.6h1.8v1.8h-1.8zM285.2 116.6h1.8v1.8h-1.8zM182.6 118.2h1.8v1.8h-1.8zM225.9 118.2h1.8v1.8h-1.8zM235.5 118.2h1.8v1.8h-1.8zM181.0 119.8h1.8v1.8h-1.8zM241.9 121.4h1.8v1.8h-1.8zM177.8 123.0h3.4v1.8h-3.4zM238.7 123.0h3.4v1.8h-3.4zM286.8 124.6h1.8v1.8h-1.8zM238.7 126.2h1.8v1.8h-1.8zM285.2 127.8h3.4v1.8h-3.4zM179.4 129.5h1.8v1.8h-1.8zM291.6 129.5h1.8v1.8h-1.8zM275.6 131.1h1.8v1.8h-1.8zM171.4 132.7h1.8v1.8h-1.8zM256.3 132.7h1.8v1.8h-1.8zM259.6 132.7h1.8v1.8h-1.8zM275.6 132.7h1.8v1.8h-1.8zM254.7 134.3h3.4v1.8h-3.4zM206.7 135.9h3.4v1.8h-3.4zM254.7 135.9h1.8v1.8h-1.8zM278.8 135.9h1.8v1.8h-1.8zM174.6 137.5h3.4v1.8h-3.4zM189.1 137.5h1.8v1.8h-1.8zM217.9 137.5h1.8v1.8h-1.8zM174.6 139.1h3.4v1.8h-3.4zM185.8 139.1h1.8v1.8h-1.8zM253.1 139.1h1.8v1.8h-1.8zM185.8 140.7h1.8v1.8h-1.8zM217.9 140.7h1.8v1.8h-1.8zM256.3 140.7h1.8v1.8h-1.8zM176.2 142.3h1.8v1.8h-1.8zM249.9 142.3h3.4v1.8h-3.4zM221.1 143.9h1.8v1.8h-1.8zM224.3 143.9h1.8v1.8h-1.8zM233.9 143.9h1.8v1.8h-1.8zM280.4 143.9h1.8v1.8h-1.8zM283.6 143.9h1.8v1.8h-1.8zM291.6 143.9h1.8v1.8h-1.8zM222.7 145.6h3.4v1.8h-3.4zM227.5 145.6h1.8v1.8h-1.8zM282.0 145.6h3.4v1.8h-3.4zM282.0 148.8h1.8v1.8h-1.8z"/>
<path fill="#cfc4ca" d="M192.3 20.0h1.8v1.8h-1.8zM201.9 20.0h1.8v1.8h-1.8zM246.7 20.0h1.8v1.8h-1.8zM251.5 20.0h5.0v1.8h-5.0zM286.8 20.0h1.8v1.8h-1.8zM176.2 21.6h3.4v1.8h-3.4zM176.2 23.2h1.8v1.8h-1.8zM174.6 24.8h1.8v1.8h-1.8zM181.0 24.8h1.8v1.8h-1.8zM169.8 26.4h5.0v1.8h-5.0zM176.2 26.4h1.8v1.8h-1.8zM189.1 26.4h1.8v1.8h-1.8zM200.3 26.4h3.4v1.8h-3.4zM246.7 26.4h1.8v1.8h-1.8zM261.2 26.4h1.8v1.8h-1.8zM173.0 28.0h3.4v1.8h-3.4zM251.5 28.0h5.0v1.8h-5.0zM189.1 29.7h1.8v1.8h-1.8zM198.7 29.7h1.8v1.8h-1.8zM201.9 29.7h1.8v1.8h-1.8zM205.1 29.7h3.4v1.8h-3.4zM241.9 29.7h1.8v1.8h-1.8zM184.2 31.3h3.4v1.8h-3.4zM201.9 31.3h3.4v1.8h-3.4zM243.5 31.3h1.8v1.8h-1.8zM262.8 31.3h1.8v1.8h-1.8zM189.1 32.9h1.8v1.8h-1.8zM197.1 32.9h1.8v1.8h-1.8zM240.3 32.9h1.8v1.8h-1.8zM187.5 34.5h1.8v1.8h-1.8zM201.9 34.5h1.8v1.8h-1.8zM240.3 34.5h1.8v1.8h-1.8zM264.4 34.5h1.8v1.8h-1.8zM193.9 36.1h1.8v1.8h-1.8zM206.7 36.1h1.8v1.8h-1.8zM225.9 36.1h1.8v1.8h-1.8zM235.5 36.1h1.8v1.8h-1.8zM270.8 36.1h1.8v1.8h-1.8zM197.1 37.7h5.0v1.8h-5.0zM238.7 37.7h1.8v1.8h-1.8zM267.6 37.7h1.8v1.8h-1.8zM282.0 39.3h3.4v1.8h-3.4zM291.6 40.9h1.8v1.8h-1.8zM290.0 42.5h3.4v1.8h-3.4zM189.1 44.1h1.8v1.8h-1.8zM192.3 44.1h1.8v1.8h-1.8zM193.9 45.8h1.8v1.8h-1.8zM200.3 45.8h3.4v1.8h-3.4zM286.8 45.8h1.8v1.8h-1.8zM177.8 47.4h1.8v1.8h-1.8zM184.2 47.4h1.8v1.8h-1.8zM205.1 47.4h1.8v1.8h-1.8zM208.3 47.4h1.8v1.8h-1.8zM213.1 47.4h1.8v1.8h-1.8zM221.1 47.4h1.8v1.8h-1.8zM224.3 47.4h1.8v1.8h-1.8zM270.8 47.4h1.8v1.8h-1.8zM230.7 49.0h1.8v1.8h-1.8zM235.5 49.0h1.8v1.8h-1.8zM259.6 49.0h1.8v1.8h-1.8zM272.4 49.0h1.8v1.8h-1.8zM232.3 50.6h6.6v1.8h-6.6zM262.8 50.6h1.8v1.8h-1.8zM272.4 50.6h1.8v1.8h-1.8zM153.8 52.2h3.4v1.8h-3.4zM158.6 52.2h1.8v1.8h-1.8zM200.3 52.2h1.8v1.8h-1.8zM203.5 52.2h3.4v1.8h-3.4zM208.3 52.2h5.0v1.8h-5.0zM227.5 52.2h1.8v1.8h-1.8zM248.3 52.2h5.0v1.8h-5.0zM256.3 52.2h1.8v1.8h-1.8zM277.2 52.2h1.8v1.8h-1.8zM280.4 52.2h3.4v1.8h-3.4zM176.2 53.8h1.8v1.8h-1.8zM200.3 53.8h6.6v1.8h-6.6zM209.9 53.8h1.8v1.8h-1.8zM241.9 53.8h1.8v1.8h-1.8zM274.0 53.8h1.8v1.8h-1.8zM176.2 55.4h1.8v1.8h-1.8zM241.9 55.4h3.4v1.8h-3.4zM283.6 55.4h1.8v1.8h-1.8zM150.6 57.0h1.8v1.8h-1.8zM245.1 57.0h1.8v1.8h-1.8zM152.2 58.6h3.4v1.8h-3.4zM176.2 58.6h1.8v1.8h-1.8zM243.5 58.6h1.8v1.8h-1.8zM280.4 58.6h1.8v1.8h-1.8zM157.0 60.2h1.8v1.8h-1.8zM174.6 60.2h1.8v1.8h-1.8zM251.5 60.2h1.8v1.8h-1.8zM270.8 60.2h3.4v1.8h-3.4zM275.6 60.2h1.8v1.8h-1.8zM270.8 61.9h1.8v1.8h-1.8zM173.0 63.5h3.4v1.8h-3.4zM249.9 63.5h1.8v1.8h-1.8zM254.7 63.5h1.8v1.8h-1.8zM267.6 63.5h1.8v1.8h-1.8zM157.0 65.1h1.8v1.8h-1.8zM171.4 65.1h1.8v1.8h-1.8zM243.5 65.1h1.8v1.8h-1.8zM246.7 65.1h1.8v1.8h-1.8zM253.1 65.1h1.8v1.8h-1.8zM258.0 65.1h1.8v1.8h-1.8zM176.2 66.7h1.8v1.8h-1.8zM195.5 66.7h3.4v1.8h-3.4zM241.9 66.7h3.4v1.8h-3.4zM246.7 66.7h1.8v1.8h-1.8zM253.1 66.7h1.8v1.8h-1.8zM266.0 66.7h1.8v1.8h-1.8zM157.0 68.3h1.8v1.8h-1.8zM245.1 68.3h1.8v1.8h-1.8zM254.7 68.3h6.6v1.8h-6.6zM158.6 69.9h1.8v1.8h-1.8zM165.0 69.9h1.8v1.8h-1.8zM176.2 69.9h1.8v1.8h-1.8zM241.9 69.9h1.8v1.8h-1.8zM245.1 69.9h3.4v1.8h-3.4zM256.3 69.9h3.4v1.8h-3.4zM158.6 71.5h1.8v1.8h-1.8zM214.7 71.5h1.8v1.8h-1.8zM243.5 71.5h1.8v1.8h-1.8zM248.3 71.5h1.8v1.8h-1.8zM254.7 71.5h1.8v1.8h-1.8zM266.0 71.5h3.4v1.8h-3.4zM277.2 71.5h1.8v1.8h-1.8zM280.4 71.5h1.8v1.8h-1.8zM176.2 73.1h1.8v1.8h-1.8zM219.5 73.1h1.8v1.8h-1.8zM241.9 73.1h1.8v1.8h-1.8zM248.3 73.1h1.8v1.8h-1.8zM253.1 73.1h3.4v1.8h-3.4zM274.0 73.1h1.8v1.8h-1.8zM160.2 74.7h1.8v1.8h-1.8zM217.9 74.7h1.8v1.8h-1.8zM240.3 74.7h1.8v1.8h-1.8zM243.5 74.7h3.4v1.8h-3.4zM249.9 74.7h3.4v1.8h-3.4zM221.1 76.3h1.8v1.8h-1.8zM243.5 76.3h3.4v1.8h-3.4zM179.4 77.9h3.4v1.8h-3.4zM193.9 77.9h1.8v1.8h-1.8zM249.9 77.9h1.8v1.8h-1.8zM253.1 77.9h1.8v1.8h-1.8zM282.0 77.9h1.8v1.8h-1.8zM160.2 79.6h1.8v1.8h-1.8zM197.1 79.6h1.8v1.8h-1.8zM238.7 79.6h1.8v1.8h-1.8zM249.9 79.6h1.8v1.8h-1.8zM150.6 81.2h1.8v1.8h-1.8zM153.8 81.2h1.8v1.8h-1.8zM157.0 81.2h1.8v1.8h-1.8zM198.7 81.2h1.8v1.8h-1.8zM222.7 81.2h1.8v1.8h-1.8zM227.5 81.2h1.8v1.8h-1.8zM233.9 81.2h1.8v1.8h-1.8zM237.1 81.2h1.8v1.8h-1.8zM240.3 81.2h5.0v1.8h-5.0zM161.8 82.8h3.4v1.8h-3.4zM184.2 82.8h3.4v1.8h-3.4zM245.1 82.8h6.6v1.8h-6.6zM253.1 82.8h3.4v1.8h-3.4zM165.0 84.4h1.8v1.8h-1.8zM187.5 84.4h1.8v1.8h-1.8zM193.9 84.4h1.8v1.8h-1.8zM197.1 84.4h1.8v1.8h-1.8zM272.4 84.4h3.4v1.8h-3.4zM166.6 86.0h1.8v1.8h-1.8zM173.0 86.0h1.8v1.8h-1.8zM176.2 86.0h3.4v1.8h-3.4zM193.9 86.0h1.8v1.8h-1.8zM166.6 87.6h1.8v1.8h-1.8zM177.8 87.6h3.4v1.8h-3.4zM153.8 89.2h1.8v1.8h-1.8zM160.2 89.2h3.4v1.8h-3.4zM184.2 89.2h1.8v1.8h-1.8zM198.7 89.2h1.8v1.8h-1.8zM206.7 89.2h1.8v1.8h-1.8zM225.9 89.2h1.8v1.8h-1.8zM243.5 89.2h1.8v1.8h-1.8zM248.3 89.2h3.4v1.8h-3.4zM274.0 89.2h1.8v1.8h-1.8zM150.6 90.8h3.4v1.8h-3.4zM161.8 90.8h1.8v1.8h-1.8zM182.6 90.8h5.0v1.8h-5.0zM189.1 90.8h1.8v1.8h-1.8zM192.3 90.8h3.4v1.8h-3.4zM200.3 90.8h1.8v1.8h-1.8zM206.7 90.8h1.8v1.8h-1.8zM221.1 90.8h1.8v1.8h-1.8zM245.1 90.8h1.8v1.8h-1.8zM248.3 90.8h3.4v1.8h-3.4zM258.0 90.8h1.8v1.8h-1.8zM272.4 90.8h1.8v1.8h-1.8zM160.2 92.4h5.0v1.8h-5.0zM182.6 92.4h1.8v1.8h-1.8zM185.8 92.4h1.8v1.8h-1.8zM190.7 92.4h6.6v1.8h-6.6zM219.5 92.4h5.0v1.8h-5.0zM246.7 92.4h1.8v1.8h-1.8zM270.8 92.4h1.8v1.8h-1.8zM158.6 94.0h1.8v1.8h-1.8zM201.9 94.0h5.0v1.8h-5.0zM213.1 94.0h1.8v1.8h-1.8zM241.9 94.0h1.8v1.8h-1.8zM275.6 94.0h3.4v1.8h-3.4zM233.9 95.7h1.8v1.8h-1.8zM237.1 95.7h1.8v1.8h-1.8zM240.3 95.7h1.8v1.8h-1.8zM283.6 95.7h1.8v1.8h-1.8zM211.5 97.3h1.8v1.8h-1.8zM230.7 97.3h3.4v1.8h-3.4zM278.8 97.3h5.0v1.8h-5.0zM211.5 98.9h1.8v1.8h-1.8zM217.9 98.9h1.8v1.8h-1.8zM227.5 98.9h3.4v1.8h-3.4zM232.3 98.9h1.8v1.8h-1.8zM240.3 98.9h1.8v1.8h-1.8zM243.5 98.9h1.8v1.8h-1.8zM283.6 98.9h1.8v1.8h-1.8zM205.1 100.5h1.8v1.8h-1.8zM213.1 100.5h3.4v1.8h-3.4zM282.0 100.5h3.4v1.8h-3.4zM190.7 102.1h1.8v1.8h-1.8zM200.3 102.1h1.8v1.8h-1.8zM280.4 102.1h1.8v1.8h-1.8zM193.9 103.7h3.4v1.8h-3.4zM280.4 103.7h1.8v1.8h-1.8zM193.9 105.3h1.8v1.8h-1.8zM280.4 105.3h1.8v1.8h-1.8zM285.2 105.3h1.8v1.8h-1.8zM192.3 106.9h1.8v1.8h-1.8zM246.7 106.9h1.8v1.8h-1.8zM278.8 106.9h1.8v1.8h-1.8zM283.6 106.9h1.8v1.8h-1.8zM190.7 108.5h1.8v1.8h-1.8zM283.6 108.5h1.8v1.8h-1.8zM219.5 110.1h3.4v1.8h-3.4zM224.3 110.1h1.8v1.8h-1.8zM243.5 110.1h1.8v1.8h-1.8zM184.2 111.7h1.8v1.8h-1.8zM225.9 111.7h1.8v1.8h-1.8zM237.1 111.7h3.4v1.8h-3.4zM283.6 111.7h1.8v1.8h-1.8zM182.6 113.4h1.8v1.8h-1.8zM219.5 113.4h1.8v1.8h-1.8zM225.9 113.4h1.8v1.8h-1.8zM240.3 113.4h1.8v1.8h-1.8zM282.0 113.4h1.8v1.8h-1.8zM219.5 115.0h1.8v1.8h-1.8zM225.9 115.0h3.4v1.8h-3.4zM235.5 115.0h3.4v1.8h-3.4zM179.4 116.6h3.4v1.8h-3.4zM238.7 116.6h1.8v1.8h-1.8zM283.6 116.6h1.8v1.8h-1.8zM181.0 118.2h1.8v1.8h-1.8zM224.3 118.2h1.8v1.8h-1.8zM288.4 118.2h1.8v1.8h-1.8zM179.4 119.8h1.8v1.8h-1.8zM238.7 119.8h5.0v1.8h-5.0zM176.2 121.4h1.8v1.8h-1.8zM243.5 121.4h1.8v1.8h-1.8zM176.2 123.0h1.8v1.8h-1.8zM174.6 124.6h3.4v1.8h-3.4zM241.9 124.6h1.8v1.8h-1.8zM285.2 124.6h1.8v1.8h-1.8zM286.8 126.2h1.8v1.8h-1.8zM238.7 127.8h3.4v1.8h-3.4zM238.7 129.5h1.8v1.8h-1.8zM285.2 129.5h3.4v1.8h-3.4zM171.4 131.1h1.8v1.8h-1.8zM253.1 131.1h1.8v1.8h-1.8zM277.2 131.1h1.8v1.8h-1.8zM171.4 134.3h1.8v1.8h-1.8zM258.0 134.3h1.8v1.8h-1.8zM173.0 135.9h1.8v1.8h-1.8zM256.3 135.9h1.8v1.8h-1.8zM190.7 137.5h1.8v1.8h-1.8zM193.9 137.5h1.8v1.8h-1.8zM198.7 137.5h1.8v1.8h-1.8zM253.1 137.5h1.8v1.8h-1.8zM277.2 137.5h1.8v1.8h-1.8zM216.3 139.1h3.4v1.8h-3.4zM254.7 139.1h3.4v1.8h-3.4zM275.6 139.1h1.8v1.8h-1.8zM171.4 140.7h1.8v1.8h-1.8zM189.1 140.7h1.8v1.8h-1.8zM200.3 140.7h1.8v1.8h-1.8zM216.3 140.7h1.8v1.8h-1.8zM258.0 140.7h1.8v1.8h-1.8zM270.8 140.7h1.8v1.8h-1.8zM174.6 142.3h1.8v1.8h-1.8zM177.8 142.3h1.8v1.8h-1.8zM181.0 142.3h1.8v1.8h-1.8zM274.0 142.3h3.4v1.8h-3.4zM232.3 143.9h1.8v1.8h-1.8zM235.5 143.9h3.4v1.8h-3.4zM278.8 143.9h1.8v1.8h-1.8zM229.1 145.6h1.8v1.8h-1.8zM282.0 147.2h1.8v1.8h-1.8zM285.2 147.2h3.4v1.8h-3.4zM222.7 148.8h1.8v1.8h-1.8zM285.2 148.8h3.4v1.8h-3.4zM155.4 150.4h1.8v1.8h-1.8zM222.7 150.4h1.8v1.8h-1.8zM282.0 150.4h1.8v1.8h-1.8zM285.2 150.4h3.4v1.8h-3.4z"/>
<path fill="#d1bbc1" d="M173.0 20.0h3.4v1.8h-3.4zM249.9 20.0h1.8v1.8h-1.8zM181.0 21.6h1.8v1.8h-1.8zM189.1 21.6h1.8v1.8h-1.8zM179.4 23.2h3.4v1.8h-3.4zM189.1 23.2h1.8v1.8h-1.8zM179.4 24.8h1.8v1.8h-1.8zM182.6 24.8h3.4v1.8h-3.4zM177.8 26.4h1.8v1.8h-1.8zM184.2 26.4h1.8v1.8h-1.8zM187.5 26.4h1.8v1.8h-1.8zM249.9 26.4h1.8v1.8h-1.8zM258.0 28.0h1.8v1.8h-1.8zM203.5 29.7h1.8v1.8h-1.8zM243.5 29.7h3.4v1.8h-3.4zM262.8 29.7h1.8v1.8h-1.8zM182.6 31.3h1.8v1.8h-1.8zM200.3 31.3h1.8v1.8h-1.8zM245.1 31.3h1.8v1.8h-1.8zM259.6 31.3h1.8v1.8h-1.8zM187.5 32.9h1.8v1.8h-1.8zM241.9 32.9h1.8v1.8h-1.8zM197.1 34.5h5.0v1.8h-5.0zM203.5 34.5h1.8v1.8h-1.8zM205.1 36.1h1.8v1.8h-1.8zM267.6 36.1h3.4v1.8h-3.4zM266.0 37.7h1.8v1.8h-1.8zM189.1 39.3h1.8v1.8h-1.8zM193.9 39.3h3.4v1.8h-3.4zM198.7 39.3h3.4v1.8h-3.4zM238.7 39.3h1.8v1.8h-1.8zM272.4 39.3h6.6v1.8h-6.6zM280.4 39.3h1.8v1.8h-1.8zM193.9 40.9h1.8v1.8h-1.8zM238.7 40.9h1.8v1.8h-1.8zM285.2 40.9h1.8v1.8h-1.8zM203.5 42.5h1.8v1.8h-1.8zM237.1 42.5h1.8v1.8h-1.8zM190.7 44.1h1.8v1.8h-1.8zM193.9 44.1h3.4v1.8h-3.4zM198.7 44.1h3.4v1.8h-3.4zM238.7 44.1h1.8v1.8h-1.8zM269.2 44.1h1.8v1.8h-1.8zM285.2 44.1h1.8v1.8h-1.8zM181.0 45.8h3.4v1.8h-3.4zM189.1 45.8h5.0v1.8h-5.0zM195.5 45.8h1.8v1.8h-1.8zM198.7 45.8h1.8v1.8h-1.8zM238.7 45.8h3.4v1.8h-3.4zM267.6 45.8h5.0v1.8h-5.0zM285.2 45.8h1.8v1.8h-1.8zM192.3 47.4h1.8v1.8h-1.8zM197.1 47.4h3.4v1.8h-3.4zM201.9 47.4h1.8v1.8h-1.8zM206.7 47.4h1.8v1.8h-1.8zM217.9 47.4h1.8v1.8h-1.8zM238.7 47.4h1.8v1.8h-1.8zM259.6 47.4h1.8v1.8h-1.8zM262.8 47.4h1.8v1.8h-1.8zM272.4 47.4h1.8v1.8h-1.8zM285.2 47.4h1.8v1.8h-1.8zM176.2 49.0h1.8v1.8h-1.8zM185.8 49.0h1.8v1.8h-1.8zM189.1 49.0h3.4v1.8h-3.4zM198.7 49.0h1.8v1.8h-1.8zM211.5 49.0h1.8v1.8h-1.8zM227.5 49.0h3.4v1.8h-3.4zM238.7 49.0h3.4v1.8h-3.4zM261.2 49.0h3.4v1.8h-3.4zM274.0 49.0h1.8v1.8h-1.8zM285.2 49.0h3.4v1.8h-3.4zM187.5 50.6h1.8v1.8h-1.8zM198.7 50.6h3.4v1.8h-3.4zM238.7 50.6h5.0v1.8h-5.0zM261.2 50.6h1.8v1.8h-1.8zM275.6 50.6h1.8v1.8h-1.8zM285.2 50.6h3.4v1.8h-3.4zM150.6 52.2h1.8v1.8h-1.8zM161.8 52.2h5.0v1.8h-5.0zM173.0 52.2h1.8v1.8h-1.8zM206.7 52.2h1.8v1.8h-1.8zM216.3 52.2h1.8v1.8h-1.8zM246.7 52.2h1.8v1.8h-1.8zM253.1 52.2h1.8v1.8h-1.8zM278.8 52.2h1.8v1.8h-1.8zM155.4 53.8h1.8v1.8h-1.8zM208.3 53.8h1.8v1.8h-1.8zM211.5 53.8h3.4v1.8h-3.4zM225.9 53.8h1.8v1.8h-1.8zM240.3 53.8h1.8v1.8h-1.8zM243.5 53.8h1.8v1.8h-1.8zM259.6 53.8h1.8v1.8h-1.8zM267.6 53.8h1.8v1.8h-1.8zM282.0 53.8h1.8v1.8h-1.8zM152.2 55.4h1.8v1.8h-1.8zM155.4 55.4h1.8v1.8h-1.8zM174.6 55.4h1.8v1.8h-1.8zM217.9 55.4h5.0v1.8h-5.0zM224.3 55.4h1.8v1.8h-1.8zM282.0 55.4h1.8v1.8h-1.8zM153.8 57.0h6.6v1.8h-6.6zM165.0 57.0h1.8v1.8h-1.8zM173.0 57.0h1.8v1.8h-1.8zM176.2 57.0h1.8v1.8h-1.8zM278.8 57.0h3.4v1.8h-3.4zM157.0 58.6h1.8v1.8h-1.8zM158.6 60.2h1.8v1.8h-1.8zM163.4 60.2h1.8v1.8h-1.8zM169.8 60.2h3.4v1.8h-3.4zM248.3 60.2h1.8v1.8h-1.8zM253.1 60.2h1.8v1.8h-1.8zM256.3 60.2h1.8v1.8h-1.8zM259.6 60.2h1.8v1.8h-1.8zM274.0 60.2h1.8v1.8h-1.8zM157.0 61.9h3.4v1.8h-3.4zM171.4 61.9h3.4v1.8h-3.4zM246.7 61.9h6.6v1.8h-6.6zM259.6 61.9h1.8v1.8h-1.8zM269.2 61.9h1.8v1.8h-1.8zM157.0 63.5h3.4v1.8h-3.4zM171.4 63.5h1.8v1.8h-1.8zM256.3 63.5h5.0v1.8h-5.0zM264.4 63.5h3.4v1.8h-3.4zM158.6 65.1h1.8v1.8h-1.8zM173.0 65.1h1.8v1.8h-1.8zM256.3 65.1h1.8v1.8h-1.8zM261.2 65.1h1.8v1.8h-1.8zM264.4 65.1h3.4v1.8h-3.4zM157.0 66.7h1.8v1.8h-1.8zM173.0 66.7h3.4v1.8h-3.4zM245.1 66.7h1.8v1.8h-1.8zM254.7 66.7h1.8v1.8h-1.8zM258.0 66.7h1.8v1.8h-1.8zM264.4 66.7h1.8v1.8h-1.8zM174.6 68.3h1.8v1.8h-1.8zM262.8 68.3h3.4v1.8h-3.4zM160.2 69.9h1.8v1.8h-1.8zM163.4 69.9h1.8v1.8h-1.8zM166.6 69.9h1.8v1.8h-1.8zM171.4 69.9h3.4v1.8h-3.4zM264.4 69.9h3.4v1.8h-3.4zM160.2 71.5h5.0v1.8h-5.0zM173.0 71.5h1.8v1.8h-1.8zM256.3 71.5h5.0v1.8h-5.0zM160.2 73.1h5.0v1.8h-5.0zM243.5 73.1h3.4v1.8h-3.4zM269.2 73.1h1.8v1.8h-1.8zM275.6 73.1h3.4v1.8h-3.4zM161.8 74.7h1.8v1.8h-1.8zM241.9 74.7h1.8v1.8h-1.8zM246.7 74.7h3.4v1.8h-3.4zM270.8 74.7h1.8v1.8h-1.8zM160.2 76.3h1.8v1.8h-1.8zM177.8 76.3h3.4v1.8h-3.4zM195.5 76.3h1.8v1.8h-1.8zM219.5 76.3h1.8v1.8h-1.8zM224.3 76.3h1.8v1.8h-1.8zM246.7 76.3h3.4v1.8h-3.4zM161.8 77.9h1.8v1.8h-1.8zM177.8 77.9h1.8v1.8h-1.8zM254.7 77.9h1.8v1.8h-1.8zM161.8 79.6h1.8v1.8h-1.8zM184.2 79.6h3.4v1.8h-3.4zM189.1 79.6h1.8v1.8h-1.8zM195.5 79.6h1.8v1.8h-1.8zM245.1 79.6h5.0v1.8h-5.0zM282.0 79.6h1.8v1.8h-1.8zM158.6 81.2h5.0v1.8h-5.0zM224.3 81.2h1.8v1.8h-1.8zM235.5 81.2h1.8v1.8h-1.8zM238.7 81.2h1.8v1.8h-1.8zM245.1 81.2h1.8v1.8h-1.8zM282.0 81.2h1.8v1.8h-1.8zM182.6 82.8h1.8v1.8h-1.8zM189.1 82.8h1.8v1.8h-1.8zM197.1 82.8h1.8v1.8h-1.8zM256.3 82.8h3.4v1.8h-3.4zM278.8 82.8h1.8v1.8h-1.8zM166.6 84.4h1.8v1.8h-1.8zM176.2 84.4h1.8v1.8h-1.8zM179.4 84.4h1.8v1.8h-1.8zM190.7 84.4h3.4v1.8h-3.4zM195.5 84.4h1.8v1.8h-1.8zM270.8 84.4h1.8v1.8h-1.8zM168.2 86.0h3.4v1.8h-3.4zM174.6 86.0h1.8v1.8h-1.8zM261.2 86.0h1.8v1.8h-1.8zM267.6 86.0h3.4v1.8h-3.4zM176.2 87.6h1.8v1.8h-1.8zM269.2 87.6h3.4v1.8h-3.4zM152.2 89.2h1.8v1.8h-1.8zM224.3 89.2h1.8v1.8h-1.8zM246.7 89.2h1.8v1.8h-1.8zM251.5 89.2h1.8v1.8h-1.8zM254.7 89.2h1.8v1.8h-1.8zM171.4 90.8h6.6v1.8h-6.6zM181.0 90.8h1.8v1.8h-1.8zM187.5 90.8h1.8v1.8h-1.8zM197.1 90.8h1.8v1.8h-1.8zM246.7 90.8h1.8v1.8h-1.8zM251.5 90.8h5.0v1.8h-5.0zM259.6 90.8h1.8v1.8h-1.8zM266.0 90.8h3.4v1.8h-3.4zM270.8 90.8h1.8v1.8h-1.8zM152.2 92.4h3.4v1.8h-3.4zM179.4 92.4h3.4v1.8h-3.4zM197.1 92.4h1.8v1.8h-1.8zM224.3 92.4h1.8v1.8h-1.8zM249.9 92.4h5.0v1.8h-5.0zM189.1 94.0h1.8v1.8h-1.8zM198.7 94.0h3.4v1.8h-3.4zM209.9 94.0h1.8v1.8h-1.8zM219.5 94.0h1.8v1.8h-1.8zM245.1 94.0h1.8v1.8h-1.8zM274.0 94.0h1.8v1.8h-1.8zM216.3 95.7h1.8v1.8h-1.8zM232.3 95.7h1.8v1.8h-1.8zM238.7 95.7h1.8v1.8h-1.8zM241.9 95.7h3.4v1.8h-3.4zM278.8 95.7h5.0v1.8h-5.0zM184.2 97.3h3.4v1.8h-3.4zM201.9 97.3h1.8v1.8h-1.8zM205.1 97.3h1.8v1.8h-1.8zM213.1 97.3h3.4v1.8h-3.4zM243.5 97.3h1.8v1.8h-1.8zM189.1 98.9h1.8v1.8h-1.8zM200.3 98.9h3.4v1.8h-3.4zM208.3 98.9h3.4v1.8h-3.4zM213.1 98.9h3.4v1.8h-3.4zM230.7 98.9h1.8v1.8h-1.8zM275.6 98.9h1.8v1.8h-1.8zM280.4 98.9h1.8v1.8h-1.8zM189.1 100.5h1.8v1.8h-1.8zM200.3 100.5h1.8v1.8h-1.8zM203.5 100.5h1.8v1.8h-1.8zM208.3 100.5h1.8v1.8h-1.8zM217.9 100.5h9.8v1.8h-9.8zM280.4 100.5h1.8v1.8h-1.8zM187.5 102.1h1.8v1.8h-1.8zM192.3 102.1h6.6v1.8h-6.6zM275.6 102.1h5.0v1.8h-5.0zM187.5 103.7h1.8v1.8h-1.8zM190.7 103.7h3.4v1.8h-3.4zM246.7 103.7h1.8v1.8h-1.8zM277.2 103.7h3.4v1.8h-3.4zM192.3 105.3h1.8v1.8h-1.8zM246.7 105.3h1.8v1.8h-1.8zM187.5 108.5h1.8v1.8h-1.8zM245.1 108.5h1.8v1.8h-1.8zM184.2 110.1h3.4v1.8h-3.4zM282.0 110.1h3.4v1.8h-3.4zM219.5 111.7h3.4v1.8h-3.4zM224.3 111.7h1.8v1.8h-1.8zM243.5 111.7h1.8v1.8h-1.8zM282.0 111.7h1.8v1.8h-1.8zM221.1 113.4h1.8v1.8h-1.8zM238.7 113.4h1.8v1.8h-1.8zM278.8 113.4h3.4v1.8h-3.4zM221.1 115.0h1.8v1.8h-1.8zM224.3 115.0h1.8v1.8h-1.8zM240.3 115.0h1.8v1.8h-1.8zM282.0 115.0h3.4v1.8h-3.4zM241.9 116.6h3.4v1.8h-3.4zM246.7 116.6h3.4v1.8h-3.4zM251.5 116.6h1.8v1.8h-1.8zM280.4 116.6h1.8v1.8h-1.8zM238.7 118.2h1.8v1.8h-1.8zM177.8 119.8h1.8v1.8h-1.8zM286.8 121.4h1.8v1.8h-1.8zM241.9 123.0h1.8v1.8h-1.8zM286.8 123.0h1.8v1.8h-1.8zM243.5 124.6h1.8v1.8h-1.8zM283.6 124.6h1.8v1.8h-1.8zM176.2 126.2h1.8v1.8h-1.8zM283.6 126.2h1.8v1.8h-1.8zM282.0 127.8h1.8v1.8h-1.8zM240.3 129.5h3.4v1.8h-3.4zM169.8 131.1h1.8v1.8h-1.8zM254.7 131.1h6.6v1.8h-6.6zM272.4 131.1h3.4v1.8h-3.4zM169.8 132.7h1.8v1.8h-1.8zM258.0 132.7h1.8v1.8h-1.8zM274.0 134.3h1.8v1.8h-1.8zM173.0 137.5h1.8v1.8h-1.8zM192.3 137.5h1.8v1.8h-1.8zM195.5 137.5h1.8v1.8h-1.8zM200.3 137.5h6.6v1.8h-6.6zM211.5 137.5h1.8v1.8h-1.8zM214.7 137.5h1.8v1.8h-1.8zM254.7 137.5h1.8v1.8h-1.8zM275.6 137.5h1.8v1.8h-1.8zM173.0 139.1h1.8v1.8h-1.8zM187.5 139.1h3.4v1.8h-3.4zM201.9 139.1h1.8v1.8h-1.8zM259.6 139.1h1.8v1.8h-1.8zM274.0 139.1h1.8v1.8h-1.8zM187.5 140.7h1.8v1.8h-1.8zM201.9 140.7h1.8v1.8h-1.8zM264.4 140.7h1.8v1.8h-1.8zM267.6 140.7h1.8v1.8h-1.8zM173.0 142.3h1.8v1.8h-1.8zM182.6 142.3h1.8v1.8h-1.8zM219.5 142.3h1.8v1.8h-1.8zM173.0 143.9h1.8v1.8h-1.8zM243.5 143.9h1.8v1.8h-1.8zM277.2 143.9h1.8v1.8h-1.8zM221.1 145.6h1.8v1.8h-1.8zM280.4 145.6h1.8v1.8h-1.8zM224.3 147.2h1.8v1.8h-1.8zM283.6 147.2h1.8v1.8h-1.8zM173.0 148.8h3.4v1.8h-3.4zM216.3 148.8h1.8v1.8h-1.8zM221.1 148.8h1.8v1.8h-1.8zM224.3 148.8h1.8v1.8h-1.8zM283.6 148.8h1.8v1.8h-1.8zM168.2 150.4h1.8v1.8h-1.8zM171.4 150.4h1.8v1.8h-1.8zM221.1 150.4h1.8v1.8h-1.8zM224.3 150.4h1.8v1.8h-1.8zM283.6 150.4h1.8v1.8h-1.8zM285.2 152.0h3.4v1.8h-3.4z"/>
<path fill="#d3b2b8" d="M200.3 20.0h1.8v1.8h-1.8zM248.3 20.0h1.8v1.8h-1.8zM179.4 21.6h1.8v1.8h-1.8zM182.6 23.2h3.4v1.8h-3.4zM185.8 24.8h1.8v1.8h-1.8zM174.6 26.4h1.8v1.8h-1.8zM179.4 26.4h3.4v1.8h-3.4zM185.8 26.4h1.8v1.8h-1.8zM251.5 26.4h1.8v1.8h-1.8zM256.3 26.4h3.4v1.8h-3.4zM256.3 28.0h1.8v1.8h-1.8zM150.6 29.7h1.8v1.8h-1.8zM184.2 29.7h5.0v1.8h-5.0zM200.3 29.7h1.8v1.8h-1.8zM261.2 31.3h1.8v1.8h-1.8zM184.2 32.9h1.8v1.8h-1.8zM198.7 32.9h1.8v1.8h-1.8zM201.9 32.9h3.4v1.8h-3.4zM185.8 34.5h1.8v1.8h-1.8zM241.9 34.5h3.4v1.8h-3.4zM189.1 36.1h1.8v1.8h-1.8zM192.3 36.1h1.8v1.8h-1.8zM184.2 37.7h1.8v1.8h-1.8zM187.5 37.7h1.8v1.8h-1.8zM241.9 37.7h1.8v1.8h-1.8zM264.4 37.7h1.8v1.8h-1.8zM190.7 39.3h3.4v1.8h-3.4zM197.1 39.3h1.8v1.8h-1.8zM240.3 39.3h1.8v1.8h-1.8zM267.6 39.3h5.0v1.8h-5.0zM189.1 40.9h5.0v1.8h-5.0zM200.3 40.9h1.8v1.8h-1.8zM240.3 40.9h1.8v1.8h-1.8zM282.0 40.9h3.4v1.8h-3.4zM201.9 42.5h1.8v1.8h-1.8zM197.1 44.1h1.8v1.8h-1.8zM240.3 44.1h1.8v1.8h-1.8zM267.6 44.1h1.8v1.8h-1.8zM270.8 44.1h1.8v1.8h-1.8zM283.6 44.1h1.8v1.8h-1.8zM176.2 45.8h1.8v1.8h-1.8zM179.4 45.8h1.8v1.8h-1.8zM184.2 45.8h1.8v1.8h-1.8zM259.6 45.8h1.8v1.8h-1.8zM266.0 45.8h1.8v1.8h-1.8zM272.4 45.8h1.8v1.8h-1.8zM176.2 47.4h1.8v1.8h-1.8zM185.8 47.4h6.6v1.8h-6.6zM200.3 47.4h1.8v1.8h-1.8zM203.5 47.4h1.8v1.8h-1.8zM219.5 47.4h1.8v1.8h-1.8zM261.2 47.4h1.8v1.8h-1.8zM283.6 47.4h1.8v1.8h-1.8zM201.9 49.0h1.8v1.8h-1.8zM206.7 49.0h1.8v1.8h-1.8zM209.9 49.0h1.8v1.8h-1.8zM216.3 49.0h1.8v1.8h-1.8zM224.3 49.0h3.4v1.8h-3.4zM243.5 49.0h1.8v1.8h-1.8zM256.3 49.0h3.4v1.8h-3.4zM275.6 49.0h1.8v1.8h-1.8zM174.6 50.6h1.8v1.8h-1.8zM211.5 50.6h1.8v1.8h-1.8zM229.1 50.6h3.4v1.8h-3.4zM249.9 50.6h1.8v1.8h-1.8zM253.1 50.6h6.6v1.8h-6.6zM274.0 50.6h1.8v1.8h-1.8zM277.2 50.6h1.8v1.8h-1.8zM282.0 50.6h3.4v1.8h-3.4zM152.2 52.2h1.8v1.8h-1.8zM157.0 52.2h1.8v1.8h-1.8zM160.2 52.2h1.8v1.8h-1.8zM166.6 52.2h1.8v1.8h-1.8zM224.3 52.2h3.4v1.8h-3.4zM152.2 53.8h1.8v1.8h-1.8zM174.6 53.8h1.8v1.8h-1.8zM206.7 53.8h1.8v1.8h-1.8zM216.3 53.8h3.4v1.8h-3.4zM245.1 53.8h3.4v1.8h-3.4zM251.5 53.8h1.8v1.8h-1.8zM264.4 53.8h3.4v1.8h-3.4zM269.2 53.8h5.0v1.8h-5.0zM275.6 53.8h6.6v1.8h-6.6zM283.6 53.8h1.8v1.8h-1.8zM153.8 55.4h1.8v1.8h-1.8zM157.0 55.4h3.4v1.8h-3.4zM173.0 55.4h1.8v1.8h-1.8zM245.1 55.4h3.4v1.8h-3.4zM259.6 55.4h1.8v1.8h-1.8zM267.6 55.4h1.8v1.8h-1.8zM270.8 55.4h5.0v1.8h-5.0zM277.2 55.4h1.8v1.8h-1.8zM160.2 57.0h1.8v1.8h-1.8zM174.6 57.0h1.8v1.8h-1.8zM246.7 57.0h1.8v1.8h-1.8zM272.4 57.0h5.0v1.8h-5.0zM158.6 58.6h1.8v1.8h-1.8zM173.0 58.6h3.4v1.8h-3.4zM245.1 58.6h1.8v1.8h-1.8zM278.8 58.6h1.8v1.8h-1.8zM160.2 60.2h3.4v1.8h-3.4zM165.0 60.2h1.8v1.8h-1.8zM168.2 60.2h1.8v1.8h-1.8zM249.9 60.2h1.8v1.8h-1.8zM254.7 60.2h1.8v1.8h-1.8zM264.4 60.2h1.8v1.8h-1.8zM269.2 60.2h1.8v1.8h-1.8zM165.0 61.9h1.8v1.8h-1.8zM253.1 61.9h1.8v1.8h-1.8zM258.0 61.9h1.8v1.8h-1.8zM267.6 61.9h1.8v1.8h-1.8zM161.8 65.1h1.8v1.8h-1.8zM165.0 65.1h6.6v1.8h-6.6zM262.8 65.1h1.8v1.8h-1.8zM158.6 66.7h1.8v1.8h-1.8zM256.3 66.7h1.8v1.8h-1.8zM259.6 66.7h1.8v1.8h-1.8zM158.6 68.3h1.8v1.8h-1.8zM163.4 68.3h3.4v1.8h-3.4zM171.4 68.3h3.4v1.8h-3.4zM261.2 68.3h1.8v1.8h-1.8zM168.2 69.9h3.4v1.8h-3.4zM261.2 69.9h3.4v1.8h-3.4zM165.0 71.5h1.8v1.8h-1.8zM174.6 71.5h1.8v1.8h-1.8zM264.4 71.5h1.8v1.8h-1.8zM165.0 73.1h1.8v1.8h-1.8zM256.3 73.1h1.8v1.8h-1.8zM259.6 73.1h1.8v1.8h-1.8zM267.6 73.1h1.8v1.8h-1.8zM278.8 73.1h3.4v1.8h-3.4zM163.4 74.7h1.8v1.8h-1.8zM176.2 74.7h1.8v1.8h-1.8zM253.1 74.7h5.0v1.8h-5.0zM272.4 74.7h3.4v1.8h-3.4zM161.8 76.3h3.4v1.8h-3.4zM176.2 76.3h1.8v1.8h-1.8zM249.9 76.3h3.4v1.8h-3.4zM282.0 76.3h1.8v1.8h-1.8zM176.2 77.9h1.8v1.8h-1.8zM251.5 77.9h1.8v1.8h-1.8zM256.3 77.9h5.0v1.8h-5.0zM163.4 79.6h1.8v1.8h-1.8zM181.0 79.6h3.4v1.8h-3.4zM192.3 79.6h3.4v1.8h-3.4zM251.5 79.6h1.8v1.8h-1.8zM254.7 79.6h5.0v1.8h-5.0zM197.1 81.2h1.8v1.8h-1.8zM246.7 81.2h3.4v1.8h-3.4zM251.5 81.2h1.8v1.8h-1.8zM254.7 81.2h1.8v1.8h-1.8zM165.0 82.8h1.8v1.8h-1.8zM181.0 82.8h1.8v1.8h-1.8zM193.9 82.8h1.8v1.8h-1.8zM259.6 82.8h1.8v1.8h-1.8zM274.0 82.8h5.0v1.8h-5.0zM168.2 84.4h1.8v1.8h-1.8zM173.0 84.4h1.8v1.8h-1.8zM177.8 84.4h1.8v1.8h-1.8zM261.2 84.4h1.8v1.8h-1.8zM264.4 84.4h1.8v1.8h-1.8zM269.2 84.4h1.8v1.8h-1.8zM171.4 86.0h1.8v1.8h-1.8zM262.8 86.0h5.0v1.8h-5.0zM168.2 87.6h1.8v1.8h-1.8zM261.2 87.6h1.8v1.8h-1.8zM266.0 87.6h3.4v1.8h-3.4zM150.6 89.2h1.8v1.8h-1.8zM163.4 89.2h3.4v1.8h-3.4zM185.8 89.2h5.0v1.8h-5.0zM192.3 89.2h3.4v1.8h-3.4zM197.1 89.2h1.8v1.8h-1.8zM245.1 89.2h1.8v1.8h-1.8zM253.1 89.2h1.8v1.8h-1.8zM256.3 89.2h5.0v1.8h-5.0zM270.8 89.2h3.4v1.8h-3.4zM165.0 90.8h1.8v1.8h-1.8zM168.2 90.8h3.4v1.8h-3.4zM177.8 90.8h3.4v1.8h-3.4zM190.7 90.8h1.8v1.8h-1.8zM256.3 90.8h1.8v1.8h-1.8zM261.2 90.8h1.8v1.8h-1.8zM269.2 90.8h1.8v1.8h-1.8zM150.6 92.4h1.8v1.8h-1.8zM165.0 92.4h3.4v1.8h-3.4zM173.0 92.4h1.8v1.8h-1.8zM176.2 92.4h3.4v1.8h-3.4zM187.5 92.4h1.8v1.8h-1.8zM254.7 92.4h6.6v1.8h-6.6zM264.4 92.4h1.8v1.8h-1.8zM267.6 92.4h3.4v1.8h-3.4zM155.4 94.0h3.4v1.8h-3.4zM160.2 94.0h1.8v1.8h-1.8zM181.0 94.0h1.8v1.8h-1.8zM192.3 94.0h5.0v1.8h-5.0zM206.7 94.0h3.4v1.8h-3.4zM225.9 94.0h1.8v1.8h-1.8zM270.8 94.0h3.4v1.8h-3.4zM213.1 95.7h3.4v1.8h-3.4zM227.5 95.7h1.8v1.8h-1.8zM230.7 95.7h1.8v1.8h-1.8zM235.5 95.7h1.8v1.8h-1.8zM189.1 97.3h1.8v1.8h-1.8zM198.7 97.3h3.4v1.8h-3.4zM203.5 97.3h1.8v1.8h-1.8zM209.9 97.3h1.8v1.8h-1.8zM217.9 97.3h3.4v1.8h-3.4zM222.7 97.3h1.8v1.8h-1.8zM227.5 97.3h1.8v1.8h-1.8zM245.1 97.3h1.8v1.8h-1.8zM274.0 97.3h5.0v1.8h-5.0zM184.2 98.9h5.0v1.8h-5.0zM190.7 98.9h3.4v1.8h-3.4zM203.5 98.9h1.8v1.8h-1.8zM219.5 98.9h5.0v1.8h-5.0zM225.9 98.9h1.8v1.8h-1.8zM245.1 98.9h1.8v1.8h-1.8zM277.2 98.9h3.4v1.8h-3.4zM198.7 100.5h1.8v1.8h-1.8zM245.1 100.5h1.8v1.8h-1.8zM277.2 100.5h3.4v1.8h-3.4zM184.2 102.1h3.4v1.8h-3.4zM246.7 102.1h1.8v1.8h-1.8zM274.0 102.1h1.8v1.8h-1.8zM184.2 103.7h1.8v1.8h-1.8zM275.6 103.7h1.8v1.8h-1.8zM190.7 105.3h1.8v1.8h-1.8zM275.6 105.3h1.8v1.8h-1.8zM278.8 105.3h1.8v1.8h-1.8zM185.8 106.9h3.4v1.8h-3.4zM275.6 106.9h3.4v1.8h-3.4zM280.4 106.9h3.4v1.8h-3.4zM185.8 108.5h1.8v1.8h-1.8zM246.7 108.5h1.8v1.8h-1.8zM245.1 110.1h1.8v1.8h-1.8zM278.8 110.1h3.4v1.8h-3.4zM222.7 111.7h1.8v1.8h-1.8zM240.3 111.7h3.4v1.8h-3.4zM245.1 111.7h5.0v1.8h-5.0zM278.8 111.7h3.4v1.8h-3.4zM222.7 113.4h1.8v1.8h-1.8zM241.9 113.4h3.4v1.8h-3.4zM248.3 113.4h1.8v1.8h-1.8zM251.5 113.4h1.8v1.8h-1.8zM181.0 115.0h1.8v1.8h-1.8zM222.7 115.0h1.8v1.8h-1.8zM238.7 115.0h1.8v1.8h-1.8zM241.9 115.0h1.8v1.8h-1.8zM248.3 115.0h1.8v1.8h-1.8zM256.3 115.0h1.8v1.8h-1.8zM177.8 116.6h1.8v1.8h-1.8zM245.1 116.6h1.8v1.8h-1.8zM249.9 116.6h1.8v1.8h-1.8zM253.1 116.6h3.4v1.8h-3.4zM275.6 116.6h3.4v1.8h-3.4zM179.4 118.2h1.8v1.8h-1.8zM240.3 118.2h1.8v1.8h-1.8zM286.8 118.2h1.8v1.8h-1.8zM176.2 119.8h1.8v1.8h-1.8zM243.5 119.8h1.8v1.8h-1.8zM285.2 119.8h3.4v1.8h-3.4zM173.0 121.4h3.4v1.8h-3.4zM245.1 121.4h1.8v1.8h-1.8zM285.2 121.4h1.8v1.8h-1.8zM174.6 123.0h1.8v1.8h-1.8zM243.5 123.0h1.8v1.8h-1.8zM173.0 124.6h1.8v1.8h-1.8zM245.1 124.6h1.8v1.8h-1.8zM282.0 124.6h1.8v1.8h-1.8zM174.6 126.2h1.8v1.8h-1.8zM240.3 126.2h3.4v1.8h-3.4zM285.2 126.2h1.8v1.8h-1.8zM176.2 127.8h1.8v1.8h-1.8zM283.6 127.8h1.8v1.8h-1.8zM176.2 129.5h1.8v1.8h-1.8zM243.5 129.5h1.8v1.8h-1.8zM248.3 129.5h1.8v1.8h-1.8zM165.0 131.1h1.8v1.8h-1.8zM168.2 132.7h1.8v1.8h-1.8zM272.4 132.7h3.4v1.8h-3.4zM168.2 134.3h3.4v1.8h-3.4zM262.8 134.3h1.8v1.8h-1.8zM272.4 134.3h1.8v1.8h-1.8zM171.4 135.9h1.8v1.8h-1.8zM258.0 135.9h3.4v1.8h-3.4zM275.6 135.9h3.4v1.8h-3.4zM197.1 137.5h1.8v1.8h-1.8zM256.3 137.5h1.8v1.8h-1.8zM171.4 139.1h1.8v1.8h-1.8zM258.0 139.1h1.8v1.8h-1.8zM272.4 139.1h1.8v1.8h-1.8zM155.4 140.7h1.8v1.8h-1.8zM165.0 140.7h1.8v1.8h-1.8zM168.2 140.7h3.4v1.8h-3.4zM192.3 140.7h1.8v1.8h-1.8zM203.5 140.7h1.8v1.8h-1.8zM261.2 140.7h1.8v1.8h-1.8zM269.2 140.7h1.8v1.8h-1.8zM179.4 142.3h1.8v1.8h-1.8zM253.1 142.3h3.4v1.8h-3.4zM272.4 142.3h1.8v1.8h-1.8zM171.4 143.9h1.8v1.8h-1.8zM174.6 143.9h5.0v1.8h-5.0zM238.7 143.9h5.0v1.8h-5.0zM246.7 143.9h1.8v1.8h-1.8zM275.6 143.9h1.8v1.8h-1.8zM230.7 145.6h1.8v1.8h-1.8zM278.8 145.6h1.8v1.8h-1.8zM221.1 147.2h3.4v1.8h-3.4zM153.8 148.8h5.0v1.8h-5.0zM161.8 148.8h1.8v1.8h-1.8zM165.0 148.8h1.8v1.8h-1.8zM168.2 148.8h1.8v1.8h-1.8zM171.4 148.8h1.8v1.8h-1.8zM176.2 148.8h1.8v1.8h-1.8zM201.9 148.8h1.8v1.8h-1.8zM211.5 148.8h1.8v1.8h-1.8zM225.9 148.8h1.8v1.8h-1.8zM275.6 148.8h1.8v1.8h-1.8zM153.8 150.4h1.8v1.8h-1.8zM161.8 150.4h5.0v1.8h-5.0zM173.0 150.4h1.8v1.8h-1.8zM209.9 150.4h3.4v1.8h-3.4zM216.3 150.4h3.4v1.8h-3.4zM280.4 150.4h1.8v1.8h-1.8zM282.0 152.0h3.4v1.8h-3.4z"/>
<path fill="#d5a9af" d="M176.2 20.0h3.4v1.8h-3.4zM190.7 20.0h1.8v1.8h-1.8zM182.6 21.6h1.8v1.8h-1.8zM187.5 23.2h1.8v1.8h-1.8zM187.5 24.8h1.8v1.8h-1.8zM182.6 26.4h1.8v1.8h-1.8zM253.1 26.4h3.4v1.8h-3.4zM153.8 29.7h3.4v1.8h-3.4zM182.6 29.7h1.8v1.8h-1.8zM150.6 31.3h1.8v1.8h-1.8zM153.8 31.3h1.8v1.8h-1.8zM179.4 31.3h3.4v1.8h-3.4zM248.3 31.3h1.8v1.8h-1.8zM185.8 32.9h1.8v1.8h-1.8zM200.3 32.9h1.8v1.8h-1.8zM243.5 32.9h1.8v1.8h-1.8zM262.8 32.9h1.8v1.8h-1.8zM184.2 34.5h1.8v1.8h-1.8zM262.8 34.5h1.8v1.8h-1.8zM190.7 36.1h1.8v1.8h-1.8zM195.5 36.1h1.8v1.8h-1.8zM201.9 36.1h3.4v1.8h-3.4zM238.7 36.1h3.4v1.8h-3.4zM266.0 36.1h1.8v1.8h-1.8zM259.6 37.7h1.8v1.8h-1.8zM278.8 39.3h1.8v1.8h-1.8zM195.5 40.9h5.0v1.8h-5.0zM267.6 40.9h1.8v1.8h-1.8zM272.4 40.9h3.4v1.8h-3.4zM264.4 44.1h3.4v1.8h-3.4zM177.8 45.8h1.8v1.8h-1.8zM197.1 45.8h1.8v1.8h-1.8zM261.2 45.8h1.8v1.8h-1.8zM264.4 45.8h1.8v1.8h-1.8zM274.0 45.8h1.8v1.8h-1.8zM282.0 45.8h1.8v1.8h-1.8zM214.7 47.4h1.8v1.8h-1.8zM240.3 47.4h1.8v1.8h-1.8zM274.0 47.4h1.8v1.8h-1.8zM155.4 49.0h3.4v1.8h-3.4zM174.6 49.0h1.8v1.8h-1.8zM187.5 49.0h1.8v1.8h-1.8zM200.3 49.0h1.8v1.8h-1.8zM208.3 49.0h1.8v1.8h-1.8zM241.9 49.0h1.8v1.8h-1.8zM245.1 49.0h1.8v1.8h-1.8zM251.5 49.0h1.8v1.8h-1.8zM283.6 49.0h1.8v1.8h-1.8zM153.8 50.6h3.4v1.8h-3.4zM201.9 50.6h1.8v1.8h-1.8zM227.5 50.6h1.8v1.8h-1.8zM243.5 50.6h6.6v1.8h-6.6zM251.5 50.6h1.8v1.8h-1.8zM168.2 52.2h1.8v1.8h-1.8zM171.4 52.2h1.8v1.8h-1.8zM213.1 52.2h1.8v1.8h-1.8zM217.9 52.2h1.8v1.8h-1.8zM222.7 52.2h1.8v1.8h-1.8zM150.6 53.8h1.8v1.8h-1.8zM153.8 53.8h1.8v1.8h-1.8zM157.0 53.8h3.4v1.8h-3.4zM161.8 53.8h1.8v1.8h-1.8zM173.0 53.8h1.8v1.8h-1.8zM221.1 53.8h5.0v1.8h-5.0zM248.3 53.8h1.8v1.8h-1.8zM253.1 53.8h1.8v1.8h-1.8zM256.3 53.8h1.8v1.8h-1.8zM261.2 53.8h1.8v1.8h-1.8zM150.6 55.4h1.8v1.8h-1.8zM161.8 55.4h1.8v1.8h-1.8zM165.0 55.4h1.8v1.8h-1.8zM168.2 55.4h1.8v1.8h-1.8zM248.3 55.4h1.8v1.8h-1.8zM253.1 55.4h1.8v1.8h-1.8zM258.0 55.4h1.8v1.8h-1.8zM269.2 55.4h1.8v1.8h-1.8zM275.6 55.4h1.8v1.8h-1.8zM278.8 55.4h3.4v1.8h-3.4zM161.8 57.0h3.4v1.8h-3.4zM168.2 57.0h1.8v1.8h-1.8zM171.4 57.0h1.8v1.8h-1.8zM248.3 57.0h3.4v1.8h-3.4zM267.6 57.0h3.4v1.8h-3.4zM277.2 57.0h1.8v1.8h-1.8zM160.2 58.6h1.8v1.8h-1.8zM165.0 58.6h1.8v1.8h-1.8zM272.4 58.6h6.6v1.8h-6.6zM166.6 60.2h1.8v1.8h-1.8zM258.0 60.2h1.8v1.8h-1.8zM266.0 60.2h3.4v1.8h-3.4zM160.2 61.9h5.0v1.8h-5.0zM168.2 61.9h1.8v1.8h-1.8zM254.7 61.9h3.4v1.8h-3.4zM264.4 61.9h3.4v1.8h-3.4zM161.8 63.5h3.4v1.8h-3.4zM166.6 63.5h3.4v1.8h-3.4zM261.2 63.5h1.8v1.8h-1.8zM163.4 65.1h1.8v1.8h-1.8zM168.2 66.7h1.8v1.8h-1.8zM171.4 66.7h1.8v1.8h-1.8zM161.8 68.3h1.8v1.8h-1.8zM166.6 68.3h3.4v1.8h-3.4zM161.8 69.9h1.8v1.8h-1.8zM166.6 71.5h3.4v1.8h-3.4zM171.4 71.5h1.8v1.8h-1.8zM261.2 71.5h1.8v1.8h-1.8zM166.6 73.1h1.8v1.8h-1.8zM173.0 73.1h3.4v1.8h-3.4zM258.0 73.1h1.8v1.8h-1.8zM266.0 73.1h1.8v1.8h-1.8zM165.0 74.7h1.8v1.8h-1.8zM259.6 74.7h1.8v1.8h-1.8zM267.6 74.7h1.8v1.8h-1.8zM275.6 74.7h1.8v1.8h-1.8zM253.1 76.3h1.8v1.8h-1.8zM256.3 76.3h3.4v1.8h-3.4zM274.0 76.3h1.8v1.8h-1.8zM163.4 77.9h3.4v1.8h-3.4zM174.6 77.9h1.8v1.8h-1.8zM176.2 79.6h5.0v1.8h-5.0zM190.7 79.6h1.8v1.8h-1.8zM253.1 79.6h1.8v1.8h-1.8zM259.6 79.6h1.8v1.8h-1.8zM182.6 81.2h3.4v1.8h-3.4zM187.5 81.2h3.4v1.8h-3.4zM192.3 81.2h5.0v1.8h-5.0zM249.9 81.2h1.8v1.8h-1.8zM253.1 81.2h1.8v1.8h-1.8zM256.3 81.2h5.0v1.8h-5.0zM280.4 81.2h1.8v1.8h-1.8zM166.6 82.8h1.8v1.8h-1.8zM176.2 82.8h1.8v1.8h-1.8zM179.4 82.8h1.8v1.8h-1.8zM187.5 82.8h1.8v1.8h-1.8zM190.7 82.8h3.4v1.8h-3.4zM195.5 82.8h1.8v1.8h-1.8zM272.4 82.8h1.8v1.8h-1.8zM171.4 84.4h1.8v1.8h-1.8zM174.6 84.4h1.8v1.8h-1.8zM267.6 84.4h1.8v1.8h-1.8zM169.8 87.6h6.6v1.8h-6.6zM262.8 87.6h1.8v1.8h-1.8zM181.0 89.2h3.4v1.8h-3.4zM190.7 89.2h1.8v1.8h-1.8zM195.5 89.2h1.8v1.8h-1.8zM166.6 90.8h1.8v1.8h-1.8zM262.8 90.8h3.4v1.8h-3.4zM168.2 92.4h1.8v1.8h-1.8zM171.4 92.4h1.8v1.8h-1.8zM174.6 92.4h1.8v1.8h-1.8zM266.0 92.4h1.8v1.8h-1.8zM161.8 94.0h5.0v1.8h-5.0zM177.8 94.0h1.8v1.8h-1.8zM182.6 94.0h6.6v1.8h-6.6zM190.7 94.0h1.8v1.8h-1.8zM197.1 94.0h1.8v1.8h-1.8zM222.7 94.0h1.8v1.8h-1.8zM246.7 94.0h3.4v1.8h-3.4zM189.1 95.7h1.8v1.8h-1.8zM203.5 95.7h1.8v1.8h-1.8zM217.9 95.7h1.8v1.8h-1.8zM229.1 95.7h1.8v1.8h-1.8zM173.0 97.3h1.8v1.8h-1.8zM177.8 97.3h1.8v1.8h-1.8zM187.5 97.3h1.8v1.8h-1.8zM190.7 97.3h3.4v1.8h-3.4zM195.5 97.3h1.8v1.8h-1.8zM206.7 97.3h3.4v1.8h-3.4zM221.1 97.3h1.8v1.8h-1.8zM224.3 97.3h3.4v1.8h-3.4zM246.7 97.3h1.8v1.8h-1.8zM272.4 97.3h1.8v1.8h-1.8zM176.2 98.9h3.4v1.8h-3.4zM182.6 98.9h1.8v1.8h-1.8zM193.9 98.9h3.4v1.8h-3.4zM198.7 98.9h1.8v1.8h-1.8zM205.1 98.9h1.8v1.8h-1.8zM246.7 98.9h1.8v1.8h-1.8zM274.0 98.9h1.8v1.8h-1.8zM184.2 100.5h1.8v1.8h-1.8zM187.5 100.5h1.8v1.8h-1.8zM190.7 100.5h5.0v1.8h-5.0zM206.7 100.5h1.8v1.8h-1.8zM181.0 102.1h3.4v1.8h-3.4zM272.4 102.1h1.8v1.8h-1.8zM185.8 103.7h1.8v1.8h-1.8zM185.8 105.3h3.4v1.8h-3.4zM274.0 105.3h1.8v1.8h-1.8zM277.2 105.3h1.8v1.8h-1.8zM274.0 106.9h1.8v1.8h-1.8zM184.2 108.5h1.8v1.8h-1.8zM274.0 108.5h8.2v1.8h-8.2zM246.7 110.1h3.4v1.8h-3.4zM275.6 110.1h3.4v1.8h-3.4zM182.6 111.7h1.8v1.8h-1.8zM275.6 111.7h3.4v1.8h-3.4zM181.0 113.4h1.8v1.8h-1.8zM224.3 113.4h1.8v1.8h-1.8zM245.1 113.4h3.4v1.8h-3.4zM249.9 113.4h1.8v1.8h-1.8zM253.1 113.4h3.4v1.8h-3.4zM275.6 113.4h3.4v1.8h-3.4zM243.5 115.0h1.8v1.8h-1.8zM246.7 115.0h1.8v1.8h-1.8zM253.1 115.0h3.4v1.8h-3.4zM277.2 115.0h5.0v1.8h-5.0zM173.0 116.6h1.8v1.8h-1.8zM176.2 116.6h1.8v1.8h-1.8zM259.6 116.6h1.8v1.8h-1.8zM274.0 116.6h1.8v1.8h-1.8zM278.8 116.6h1.8v1.8h-1.8zM176.2 118.2h3.4v1.8h-3.4zM241.9 118.2h3.4v1.8h-3.4zM282.0 118.2h5.0v1.8h-5.0zM245.1 119.8h1.8v1.8h-1.8zM282.0 119.8h1.8v1.8h-1.8zM246.7 121.4h1.8v1.8h-1.8zM282.0 121.4h3.4v1.8h-3.4zM173.0 123.0h1.8v1.8h-1.8zM282.0 123.0h3.4v1.8h-3.4zM248.3 124.6h1.8v1.8h-1.8zM277.2 124.6h5.0v1.8h-5.0zM243.5 126.2h1.8v1.8h-1.8zM282.0 126.2h1.8v1.8h-1.8zM174.6 127.8h1.8v1.8h-1.8zM241.9 127.8h1.8v1.8h-1.8zM173.0 129.5h3.4v1.8h-3.4zM275.6 129.5h3.4v1.8h-3.4zM280.4 129.5h5.0v1.8h-5.0zM163.4 131.1h1.8v1.8h-1.8zM168.2 131.1h1.8v1.8h-1.8zM262.8 132.7h1.8v1.8h-1.8zM267.6 132.7h1.8v1.8h-1.8zM150.6 134.3h1.8v1.8h-1.8zM163.4 134.3h3.4v1.8h-3.4zM261.2 134.3h1.8v1.8h-1.8zM264.4 134.3h3.4v1.8h-3.4zM269.2 134.3h1.8v1.8h-1.8zM171.4 137.5h1.8v1.8h-1.8zM206.7 137.5h5.0v1.8h-5.0zM213.1 137.5h1.8v1.8h-1.8zM258.0 137.5h3.4v1.8h-3.4zM274.0 137.5h1.8v1.8h-1.8zM190.7 139.1h5.0v1.8h-5.0zM198.7 139.1h1.8v1.8h-1.8zM203.5 139.1h1.8v1.8h-1.8zM150.6 140.7h1.8v1.8h-1.8zM153.8 140.7h1.8v1.8h-1.8zM158.6 140.7h1.8v1.8h-1.8zM161.8 140.7h3.4v1.8h-3.4zM166.6 140.7h1.8v1.8h-1.8zM197.1 140.7h3.4v1.8h-3.4zM262.8 140.7h1.8v1.8h-1.8zM266.0 140.7h1.8v1.8h-1.8zM171.4 142.3h1.8v1.8h-1.8zM217.9 142.3h1.8v1.8h-1.8zM179.4 143.9h1.8v1.8h-1.8zM217.9 143.9h3.4v1.8h-3.4zM245.1 143.9h1.8v1.8h-1.8zM248.3 143.9h8.2v1.8h-8.2zM259.6 143.9h1.8v1.8h-1.8zM272.4 143.9h3.4v1.8h-3.4zM173.0 145.6h3.4v1.8h-3.4zM232.3 145.6h1.8v1.8h-1.8zM275.6 145.6h3.4v1.8h-3.4zM225.9 147.2h1.8v1.8h-1.8zM150.6 148.8h3.4v1.8h-3.4zM160.2 148.8h1.8v1.8h-1.8zM163.4 148.8h1.8v1.8h-1.8zM166.6 148.8h1.8v1.8h-1.8zM169.8 148.8h1.8v1.8h-1.8zM208.3 148.8h3.4v1.8h-3.4zM217.9 148.8h3.4v1.8h-3.4zM277.2 148.8h5.0v1.8h-5.0zM150.6 150.4h3.4v1.8h-3.4zM157.0 150.4h3.4v1.8h-3.4zM166.6 150.4h1.8v1.8h-1.8zM169.8 150.4h1.8v1.8h-1.8zM174.6 150.4h1.8v1.8h-1.8zM208.3 150.4h1.8v1.8h-1.8zM219.5 150.4h1.8v1.8h-1.8zM173.0 152.0h1.8v1.8h-1.8zM211.5 152.0h1.8v1.8h-1.8zM216.3 152.0h1.8v1.8h-1.8zM219.5 152.0h3.4v1.8h-3.4z"/>
<path fill="#d7a0a6" d="M189.1 20.0h1.8v1.8h-1.8zM184.2 21.6h1.8v1.8h-1.8zM185.8 23.2h1.8v1.8h-1.8zM152.2 29.7h1.8v1.8h-1.8zM158.6 29.7h1.8v1.8h-1.8zM179.4 29.7h3.4v1.8h-3.4zM246.7 29.7h3.4v1.8h-3.4zM261.2 29.7h1.8v1.8h-1.8zM155.4 31.3h1.8v1.8h-1.8zM161.8 31.3h5.0v1.8h-5.0zM176.2 31.3h3.4v1.8h-3.4zM246.7 31.3h1.8v1.8h-1.8zM182.6 32.9h1.8v1.8h-1.8zM245.1 32.9h1.8v1.8h-1.8zM182.6 34.5h1.8v1.8h-1.8zM245.1 34.5h3.4v1.8h-3.4zM259.6 34.5h1.8v1.8h-1.8zM197.1 36.1h1.8v1.8h-1.8zM185.8 37.7h1.8v1.8h-1.8zM243.5 37.7h3.4v1.8h-3.4zM262.8 37.7h1.8v1.8h-1.8zM259.6 39.3h1.8v1.8h-1.8zM266.0 39.3h1.8v1.8h-1.8zM187.5 40.9h1.8v1.8h-1.8zM269.2 40.9h3.4v1.8h-3.4zM198.7 42.5h3.4v1.8h-3.4zM285.2 42.5h3.4v1.8h-3.4zM150.6 44.1h1.8v1.8h-1.8zM184.2 44.1h1.8v1.8h-1.8zM259.6 44.1h1.8v1.8h-1.8zM262.8 44.1h1.8v1.8h-1.8zM272.4 44.1h3.4v1.8h-3.4zM282.0 44.1h1.8v1.8h-1.8zM150.6 45.8h1.8v1.8h-1.8zM155.4 45.8h1.8v1.8h-1.8zM173.0 45.8h1.8v1.8h-1.8zM185.8 45.8h3.4v1.8h-3.4zM262.8 45.8h1.8v1.8h-1.8zM283.6 45.8h1.8v1.8h-1.8zM174.6 47.4h1.8v1.8h-1.8zM241.9 47.4h1.8v1.8h-1.8zM256.3 47.4h1.8v1.8h-1.8zM282.0 47.4h1.8v1.8h-1.8zM150.6 49.0h1.8v1.8h-1.8zM205.1 49.0h1.8v1.8h-1.8zM213.1 49.0h1.8v1.8h-1.8zM217.9 49.0h1.8v1.8h-1.8zM222.7 49.0h1.8v1.8h-1.8zM246.7 49.0h5.0v1.8h-5.0zM253.1 49.0h3.4v1.8h-3.4zM277.2 49.0h1.8v1.8h-1.8zM282.0 49.0h1.8v1.8h-1.8zM157.0 50.6h3.4v1.8h-3.4zM161.8 50.6h1.8v1.8h-1.8zM203.5 50.6h3.4v1.8h-3.4zM208.3 50.6h3.4v1.8h-3.4zM224.3 50.6h1.8v1.8h-1.8zM169.8 52.2h1.8v1.8h-1.8zM214.7 52.2h1.8v1.8h-1.8zM221.1 52.2h1.8v1.8h-1.8zM163.4 53.8h3.4v1.8h-3.4zM214.7 53.8h1.8v1.8h-1.8zM249.9 53.8h1.8v1.8h-1.8zM254.7 53.8h1.8v1.8h-1.8zM258.0 53.8h1.8v1.8h-1.8zM262.8 53.8h1.8v1.8h-1.8zM163.4 55.4h1.8v1.8h-1.8zM166.6 55.4h1.8v1.8h-1.8zM171.4 55.4h1.8v1.8h-1.8zM249.9 55.4h1.8v1.8h-1.8zM254.7 55.4h3.4v1.8h-3.4zM261.2 55.4h1.8v1.8h-1.8zM264.4 55.4h3.4v1.8h-3.4zM166.6 57.0h1.8v1.8h-1.8zM169.8 57.0h1.8v1.8h-1.8zM253.1 57.0h1.8v1.8h-1.8zM256.3 57.0h5.0v1.8h-5.0zM266.0 57.0h1.8v1.8h-1.8zM270.8 57.0h1.8v1.8h-1.8zM171.4 58.6h1.8v1.8h-1.8zM246.7 58.6h1.8v1.8h-1.8zM261.2 60.2h3.4v1.8h-3.4zM166.6 61.9h1.8v1.8h-1.8zM169.8 61.9h1.8v1.8h-1.8zM262.8 61.9h1.8v1.8h-1.8zM165.0 63.5h1.8v1.8h-1.8zM169.8 63.5h1.8v1.8h-1.8zM262.8 63.5h1.8v1.8h-1.8zM160.2 65.1h1.8v1.8h-1.8zM163.4 66.7h3.4v1.8h-3.4zM169.8 66.7h1.8v1.8h-1.8zM262.8 66.7h1.8v1.8h-1.8zM160.2 68.3h1.8v1.8h-1.8zM169.8 68.3h1.8v1.8h-1.8zM262.8 71.5h1.8v1.8h-1.8zM168.2 73.1h1.8v1.8h-1.8zM264.4 73.1h1.8v1.8h-1.8zM173.0 74.7h3.4v1.8h-3.4zM258.0 74.7h1.8v1.8h-1.8zM269.2 74.7h1.8v1.8h-1.8zM278.8 74.7h3.4v1.8h-3.4zM165.0 76.3h1.8v1.8h-1.8zM173.0 76.3h1.8v1.8h-1.8zM254.7 76.3h1.8v1.8h-1.8zM259.6 76.3h1.8v1.8h-1.8zM270.8 76.3h3.4v1.8h-3.4zM275.6 76.3h1.8v1.8h-1.8zM173.0 77.9h1.8v1.8h-1.8zM270.8 77.9h1.8v1.8h-1.8zM275.6 77.9h3.4v1.8h-3.4zM280.4 77.9h1.8v1.8h-1.8zM165.0 79.6h1.8v1.8h-1.8zM187.5 79.6h1.8v1.8h-1.8zM277.2 79.6h1.8v1.8h-1.8zM163.4 81.2h1.8v1.8h-1.8zM176.2 81.2h1.8v1.8h-1.8zM179.4 81.2h3.4v1.8h-3.4zM185.8 81.2h1.8v1.8h-1.8zM173.0 82.8h3.4v1.8h-3.4zM177.8 82.8h1.8v1.8h-1.8zM169.8 84.4h1.8v1.8h-1.8zM262.8 84.4h1.8v1.8h-1.8zM266.0 84.4h1.8v1.8h-1.8zM264.4 87.6h1.8v1.8h-1.8zM166.6 89.2h1.8v1.8h-1.8zM174.6 89.2h6.6v1.8h-6.6zM267.6 89.2h3.4v1.8h-3.4zM262.8 92.4h1.8v1.8h-1.8zM150.6 94.0h1.8v1.8h-1.8zM153.8 94.0h1.8v1.8h-1.8zM173.0 94.0h1.8v1.8h-1.8zM176.2 94.0h1.8v1.8h-1.8zM179.4 94.0h1.8v1.8h-1.8zM221.1 94.0h1.8v1.8h-1.8zM224.3 94.0h1.8v1.8h-1.8zM249.9 94.0h1.8v1.8h-1.8zM253.1 94.0h1.8v1.8h-1.8zM259.6 94.0h1.8v1.8h-1.8zM267.6 94.0h1.8v1.8h-1.8zM184.2 95.7h3.4v1.8h-3.4zM193.9 95.7h1.8v1.8h-1.8zM200.3 95.7h3.4v1.8h-3.4zM206.7 95.7h6.6v1.8h-6.6zM245.1 95.7h1.8v1.8h-1.8zM248.3 95.7h1.8v1.8h-1.8zM272.4 95.7h1.8v1.8h-1.8zM275.6 95.7h3.4v1.8h-3.4zM163.4 97.3h1.8v1.8h-1.8zM174.6 97.3h3.4v1.8h-3.4zM179.4 97.3h5.0v1.8h-5.0zM193.9 97.3h1.8v1.8h-1.8zM197.1 97.3h1.8v1.8h-1.8zM259.6 97.3h1.8v1.8h-1.8zM267.6 97.3h1.8v1.8h-1.8zM181.0 98.9h1.8v1.8h-1.8zM197.1 98.9h1.8v1.8h-1.8zM206.7 98.9h1.8v1.8h-1.8zM224.3 98.9h1.8v1.8h-1.8zM272.4 98.9h1.8v1.8h-1.8zM181.0 100.5h3.4v1.8h-3.4zM185.8 100.5h1.8v1.8h-1.8zM195.5 100.5h3.4v1.8h-3.4zM272.4 100.5h5.0v1.8h-5.0zM173.0 102.1h1.8v1.8h-1.8zM176.2 102.1h5.0v1.8h-5.0zM248.3 102.1h1.8v1.8h-1.8zM266.0 102.1h3.4v1.8h-3.4zM270.8 102.1h1.8v1.8h-1.8zM176.2 103.7h1.8v1.8h-1.8zM248.3 103.7h1.8v1.8h-1.8zM274.0 103.7h1.8v1.8h-1.8zM184.2 105.3h1.8v1.8h-1.8zM248.3 105.3h1.8v1.8h-1.8zM184.2 106.9h1.8v1.8h-1.8zM248.3 106.9h1.8v1.8h-1.8zM272.4 106.9h1.8v1.8h-1.8zM248.3 108.5h1.8v1.8h-1.8zM249.9 111.7h5.0v1.8h-5.0zM256.3 111.7h1.8v1.8h-1.8zM256.3 113.4h1.8v1.8h-1.8zM176.2 115.0h1.8v1.8h-1.8zM245.1 115.0h1.8v1.8h-1.8zM249.9 115.0h3.4v1.8h-3.4zM275.6 115.0h1.8v1.8h-1.8zM174.6 116.6h1.8v1.8h-1.8zM256.3 116.6h3.4v1.8h-3.4zM245.1 118.2h1.8v1.8h-1.8zM173.0 119.8h3.4v1.8h-3.4zM246.7 119.8h1.8v1.8h-1.8zM283.6 119.8h1.8v1.8h-1.8zM248.3 121.4h1.8v1.8h-1.8zM245.1 123.0h1.8v1.8h-1.8zM280.4 123.0h1.8v1.8h-1.8zM285.2 123.0h1.8v1.8h-1.8zM165.0 124.6h1.8v1.8h-1.8zM171.4 124.6h1.8v1.8h-1.8zM272.4 124.6h5.0v1.8h-5.0zM173.0 126.2h1.8v1.8h-1.8zM245.1 126.2h1.8v1.8h-1.8zM277.2 126.2h5.0v1.8h-5.0zM243.5 127.8h3.4v1.8h-3.4zM277.2 127.8h1.8v1.8h-1.8zM280.4 127.8h1.8v1.8h-1.8zM245.1 129.5h3.4v1.8h-3.4zM249.9 129.5h3.4v1.8h-3.4zM278.8 129.5h1.8v1.8h-1.8zM262.8 131.1h3.4v1.8h-3.4zM267.6 131.1h1.8v1.8h-1.8zM161.8 132.7h6.6v1.8h-6.6zM261.2 132.7h1.8v1.8h-1.8zM264.4 132.7h1.8v1.8h-1.8zM270.8 132.7h1.8v1.8h-1.8zM155.4 134.3h3.4v1.8h-3.4zM160.2 134.3h3.4v1.8h-3.4zM267.6 134.3h1.8v1.8h-1.8zM270.8 134.3h1.8v1.8h-1.8zM272.4 135.9h1.8v1.8h-1.8zM272.4 137.5h1.8v1.8h-1.8zM195.5 139.1h3.4v1.8h-3.4zM200.3 139.1h1.8v1.8h-1.8zM209.9 139.1h3.4v1.8h-3.4zM261.2 139.1h3.4v1.8h-3.4zM152.2 140.7h1.8v1.8h-1.8zM157.0 140.7h1.8v1.8h-1.8zM190.7 140.7h1.8v1.8h-1.8zM193.9 140.7h3.4v1.8h-3.4zM205.1 140.7h1.8v1.8h-1.8zM209.9 140.7h3.4v1.8h-3.4zM184.2 142.3h1.8v1.8h-1.8zM201.9 142.3h1.8v1.8h-1.8zM216.3 142.3h1.8v1.8h-1.8zM256.3 142.3h1.8v1.8h-1.8zM259.6 142.3h1.8v1.8h-1.8zM270.8 142.3h1.8v1.8h-1.8zM157.0 143.9h6.6v1.8h-6.6zM165.0 143.9h1.8v1.8h-1.8zM176.2 145.6h1.8v1.8h-1.8zM219.5 145.6h1.8v1.8h-1.8zM235.5 145.6h1.8v1.8h-1.8zM173.0 147.2h1.8v1.8h-1.8zM217.9 147.2h1.8v1.8h-1.8zM278.8 147.2h3.4v1.8h-3.4zM158.6 148.8h1.8v1.8h-1.8zM200.3 148.8h1.8v1.8h-1.8zM206.7 148.8h1.8v1.8h-1.8zM213.1 148.8h1.8v1.8h-1.8zM227.5 148.8h1.8v1.8h-1.8zM274.0 148.8h1.8v1.8h-1.8zM160.2 150.4h1.8v1.8h-1.8zM176.2 150.4h1.8v1.8h-1.8zM201.9 150.4h1.8v1.8h-1.8zM213.1 150.4h3.4v1.8h-3.4zM225.9 150.4h1.8v1.8h-1.8zM275.6 150.4h5.0v1.8h-5.0zM150.6 152.0h1.8v1.8h-1.8zM155.4 152.0h5.0v1.8h-5.0zM163.4 152.0h1.8v1.8h-1.8zM171.4 152.0h1.8v1.8h-1.8zM217.9 152.0h1.8v1.8h-1.8zM222.7 152.0h1.8v1.8h-1.8z"/>
<path fill="#d9979c" d="M179.4 20.0h3.4v1.8h-3.4zM187.5 21.6h1.8v1.8h-1.8zM157.0 29.7h1.8v1.8h-1.8zM163.4 29.7h1.8v1.8h-1.8zM173.0 29.7h1.8v1.8h-1.8zM249.9 29.7h1.8v1.8h-1.8zM259.6 29.7h1.8v1.8h-1.8zM152.2 31.3h1.8v1.8h-1.8zM157.0 31.3h1.8v1.8h-1.8zM168.2 31.3h1.8v1.8h-1.8zM249.9 31.3h6.6v1.8h-6.6zM181.0 32.9h1.8v1.8h-1.8zM248.3 32.9h1.8v1.8h-1.8zM181.0 34.5h1.8v1.8h-1.8zM258.0 34.5h1.8v1.8h-1.8zM261.2 34.5h1.8v1.8h-1.8zM187.5 36.1h1.8v1.8h-1.8zM198.7 36.1h3.4v1.8h-3.4zM264.4 36.1h1.8v1.8h-1.8zM256.3 37.7h1.8v1.8h-1.8zM261.2 37.7h1.8v1.8h-1.8zM187.5 39.3h1.8v1.8h-1.8zM241.9 39.3h1.8v1.8h-1.8zM245.1 39.3h1.8v1.8h-1.8zM262.8 39.3h3.4v1.8h-3.4zM241.9 40.9h1.8v1.8h-1.8zM264.4 40.9h3.4v1.8h-3.4zM275.6 40.9h3.4v1.8h-3.4zM189.1 42.5h1.8v1.8h-1.8zM192.3 42.5h1.8v1.8h-1.8zM238.7 42.5h1.8v1.8h-1.8zM153.8 44.1h3.4v1.8h-3.4zM173.0 44.1h1.8v1.8h-1.8zM176.2 44.1h1.8v1.8h-1.8zM179.4 44.1h3.4v1.8h-3.4zM185.8 44.1h3.4v1.8h-3.4zM258.0 44.1h1.8v1.8h-1.8zM152.2 45.8h3.4v1.8h-3.4zM157.0 45.8h1.8v1.8h-1.8zM241.9 45.8h3.4v1.8h-3.4zM253.1 45.8h3.4v1.8h-3.4zM258.0 45.8h1.8v1.8h-1.8zM150.6 47.4h1.8v1.8h-1.8zM153.8 47.4h1.8v1.8h-1.8zM157.0 47.4h1.8v1.8h-1.8zM245.1 47.4h1.8v1.8h-1.8zM254.7 47.4h1.8v1.8h-1.8zM258.0 47.4h1.8v1.8h-1.8zM152.2 49.0h3.4v1.8h-3.4zM158.6 49.0h1.8v1.8h-1.8zM161.8 49.0h5.0v1.8h-5.0zM173.0 49.0h1.8v1.8h-1.8zM203.5 49.0h1.8v1.8h-1.8zM214.7 49.0h1.8v1.8h-1.8zM221.1 49.0h1.8v1.8h-1.8zM150.6 50.6h3.4v1.8h-3.4zM160.2 50.6h1.8v1.8h-1.8zM163.4 50.6h3.4v1.8h-3.4zM173.0 50.6h1.8v1.8h-1.8zM206.7 50.6h1.8v1.8h-1.8zM216.3 50.6h1.8v1.8h-1.8zM225.9 50.6h1.8v1.8h-1.8zM278.8 50.6h3.4v1.8h-3.4zM160.2 53.8h1.8v1.8h-1.8zM166.6 53.8h6.6v1.8h-6.6zM219.5 53.8h1.8v1.8h-1.8zM160.2 55.4h1.8v1.8h-1.8zM251.5 55.4h1.8v1.8h-1.8zM262.8 55.4h1.8v1.8h-1.8zM251.5 57.0h1.8v1.8h-1.8zM254.7 57.0h1.8v1.8h-1.8zM262.8 57.0h3.4v1.8h-3.4zM161.8 58.6h3.4v1.8h-3.4zM166.6 58.6h1.8v1.8h-1.8zM248.3 58.6h1.8v1.8h-1.8zM261.2 61.9h1.8v1.8h-1.8zM160.2 63.5h1.8v1.8h-1.8zM160.2 66.7h3.4v1.8h-3.4zM166.6 66.7h1.8v1.8h-1.8zM261.2 66.7h1.8v1.8h-1.8zM169.8 71.5h1.8v1.8h-1.8zM171.4 73.1h1.8v1.8h-1.8zM262.8 73.1h1.8v1.8h-1.8zM168.2 74.7h1.8v1.8h-1.8zM171.4 74.7h1.8v1.8h-1.8zM262.8 74.7h5.0v1.8h-5.0zM277.2 74.7h1.8v1.8h-1.8zM277.2 76.3h5.0v1.8h-5.0zM168.2 77.9h1.8v1.8h-1.8zM171.4 77.9h1.8v1.8h-1.8zM272.4 77.9h3.4v1.8h-3.4zM278.8 77.9h1.8v1.8h-1.8zM173.0 79.6h1.8v1.8h-1.8zM270.8 79.6h6.6v1.8h-6.6zM278.8 79.6h3.4v1.8h-3.4zM165.0 81.2h1.8v1.8h-1.8zM177.8 81.2h1.8v1.8h-1.8zM190.7 81.2h1.8v1.8h-1.8zM272.4 81.2h5.0v1.8h-5.0zM278.8 81.2h1.8v1.8h-1.8zM267.6 82.8h5.0v1.8h-5.0zM168.2 89.2h1.8v1.8h-1.8zM261.2 89.2h6.6v1.8h-6.6zM169.8 92.4h1.8v1.8h-1.8zM261.2 92.4h1.8v1.8h-1.8zM152.2 94.0h1.8v1.8h-1.8zM166.6 94.0h3.4v1.8h-3.4zM171.4 94.0h1.8v1.8h-1.8zM174.6 94.0h1.8v1.8h-1.8zM251.5 94.0h1.8v1.8h-1.8zM254.7 94.0h5.0v1.8h-5.0zM266.0 94.0h1.8v1.8h-1.8zM269.2 94.0h1.8v1.8h-1.8zM153.8 95.7h3.4v1.8h-3.4zM177.8 95.7h1.8v1.8h-1.8zM181.0 95.7h3.4v1.8h-3.4zM187.5 95.7h1.8v1.8h-1.8zM190.7 95.7h3.4v1.8h-3.4zM195.5 95.7h1.8v1.8h-1.8zM198.7 95.7h1.8v1.8h-1.8zM205.1 95.7h1.8v1.8h-1.8zM221.1 95.7h3.4v1.8h-3.4zM225.9 95.7h1.8v1.8h-1.8zM246.7 95.7h1.8v1.8h-1.8zM274.0 95.7h1.8v1.8h-1.8zM153.8 97.3h5.0v1.8h-5.0zM161.8 97.3h1.8v1.8h-1.8zM165.0 97.3h1.8v1.8h-1.8zM171.4 97.3h1.8v1.8h-1.8zM270.8 97.3h1.8v1.8h-1.8zM155.4 98.9h1.8v1.8h-1.8zM171.4 98.9h5.0v1.8h-5.0zM179.4 98.9h1.8v1.8h-1.8zM248.3 98.9h1.8v1.8h-1.8zM270.8 98.9h1.8v1.8h-1.8zM176.2 100.5h1.8v1.8h-1.8zM246.7 100.5h1.8v1.8h-1.8zM174.6 102.1h1.8v1.8h-1.8zM259.6 102.1h1.8v1.8h-1.8zM181.0 103.7h3.4v1.8h-3.4zM272.4 103.7h1.8v1.8h-1.8zM182.6 105.3h1.8v1.8h-1.8zM272.4 105.3h1.8v1.8h-1.8zM259.6 106.9h1.8v1.8h-1.8zM270.8 106.9h1.8v1.8h-1.8zM182.6 110.1h1.8v1.8h-1.8zM249.9 110.1h1.8v1.8h-1.8zM253.1 110.1h1.8v1.8h-1.8zM274.0 110.1h1.8v1.8h-1.8zM181.0 111.7h1.8v1.8h-1.8zM254.7 111.7h1.8v1.8h-1.8zM258.0 111.7h3.4v1.8h-3.4zM272.4 111.7h3.4v1.8h-3.4zM179.4 113.4h1.8v1.8h-1.8zM258.0 113.4h1.8v1.8h-1.8zM274.0 113.4h1.8v1.8h-1.8zM179.4 115.0h1.8v1.8h-1.8zM258.0 115.0h3.4v1.8h-3.4zM272.4 115.0h3.4v1.8h-3.4zM153.8 116.6h1.8v1.8h-1.8zM157.0 116.6h1.8v1.8h-1.8zM163.4 116.6h1.8v1.8h-1.8zM270.8 116.6h3.4v1.8h-3.4zM173.0 118.2h3.4v1.8h-3.4zM246.7 118.2h3.4v1.8h-3.4zM248.3 119.8h1.8v1.8h-1.8zM280.4 119.8h1.8v1.8h-1.8zM171.4 121.4h1.8v1.8h-1.8zM277.2 121.4h1.8v1.8h-1.8zM171.4 123.0h1.8v1.8h-1.8zM246.7 123.0h3.4v1.8h-3.4zM277.2 123.0h1.8v1.8h-1.8zM168.2 124.6h3.4v1.8h-3.4zM246.7 124.6h1.8v1.8h-1.8zM249.9 124.6h3.4v1.8h-3.4zM254.7 124.6h1.8v1.8h-1.8zM171.4 126.2h1.8v1.8h-1.8zM246.7 126.2h3.4v1.8h-3.4zM173.0 127.8h1.8v1.8h-1.8zM275.6 127.8h1.8v1.8h-1.8zM278.8 127.8h1.8v1.8h-1.8zM171.4 129.5h1.8v1.8h-1.8zM254.7 129.5h1.8v1.8h-1.8zM259.6 129.5h1.8v1.8h-1.8zM274.0 129.5h1.8v1.8h-1.8zM161.8 131.1h1.8v1.8h-1.8zM166.6 131.1h1.8v1.8h-1.8zM261.2 131.1h1.8v1.8h-1.8zM266.0 131.1h1.8v1.8h-1.8zM269.2 131.1h3.4v1.8h-3.4zM266.0 132.7h1.8v1.8h-1.8zM269.2 132.7h1.8v1.8h-1.8zM153.8 134.3h1.8v1.8h-1.8zM158.6 134.3h1.8v1.8h-1.8zM166.6 134.3h1.8v1.8h-1.8zM261.2 135.9h1.8v1.8h-1.8zM274.0 135.9h1.8v1.8h-1.8zM261.2 137.5h1.8v1.8h-1.8zM169.8 139.1h1.8v1.8h-1.8zM205.1 139.1h3.4v1.8h-3.4zM264.4 139.1h1.8v1.8h-1.8zM267.6 139.1h5.0v1.8h-5.0zM160.2 140.7h1.8v1.8h-1.8zM206.7 140.7h3.4v1.8h-3.4zM213.1 140.7h3.4v1.8h-3.4zM258.0 142.3h1.8v1.8h-1.8zM150.6 143.9h6.6v1.8h-6.6zM163.4 143.9h1.8v1.8h-1.8zM168.2 143.9h3.4v1.8h-3.4zM181.0 143.9h3.4v1.8h-3.4zM201.9 143.9h1.8v1.8h-1.8zM216.3 143.9h1.8v1.8h-1.8zM256.3 143.9h3.4v1.8h-3.4zM269.2 143.9h3.4v1.8h-3.4zM153.8 145.6h5.0v1.8h-5.0zM168.2 145.6h5.0v1.8h-5.0zM217.9 145.6h1.8v1.8h-1.8zM233.9 145.6h1.8v1.8h-1.8zM240.3 145.6h1.8v1.8h-1.8zM155.4 147.2h3.4v1.8h-3.4zM171.4 147.2h1.8v1.8h-1.8zM174.6 147.2h3.4v1.8h-3.4zM219.5 147.2h1.8v1.8h-1.8zM277.2 147.2h1.8v1.8h-1.8zM177.8 148.8h1.8v1.8h-1.8zM203.5 148.8h1.8v1.8h-1.8zM214.7 148.8h1.8v1.8h-1.8zM253.1 148.8h5.0v1.8h-5.0zM259.6 148.8h1.8v1.8h-1.8zM272.4 148.8h1.8v1.8h-1.8zM205.1 150.4h3.4v1.8h-3.4zM227.5 150.4h1.8v1.8h-1.8zM152.2 152.0h3.4v1.8h-3.4zM161.8 152.0h1.8v1.8h-1.8zM165.0 152.0h1.8v1.8h-1.8zM168.2 152.0h3.4v1.8h-3.4zM209.9 152.0h1.8v1.8h-1.8zM224.3 152.0h1.8v1.8h-1.8z"/>
<path fill="#db8e93" d="M185.8 21.6h1.8v1.8h-1.8zM161.8 29.7h1.8v1.8h-1.8zM165.0 29.7h3.4v1.8h-3.4zM176.2 29.7h3.4v1.8h-3.4zM158.6 31.3h1.8v1.8h-1.8zM166.6 31.3h1.8v1.8h-1.8zM173.0 31.3h3.4v1.8h-3.4zM256.3 31.3h3.4v1.8h-3.4zM246.7 32.9h1.8v1.8h-1.8zM259.6 32.9h1.8v1.8h-1.8zM150.6 34.5h1.8v1.8h-1.8zM176.2 34.5h1.8v1.8h-1.8zM179.4 34.5h1.8v1.8h-1.8zM248.3 34.5h1.8v1.8h-1.8zM253.1 34.5h5.0v1.8h-5.0zM241.9 36.1h3.4v1.8h-3.4zM176.2 37.7h1.8v1.8h-1.8zM181.0 37.7h3.4v1.8h-3.4zM246.7 37.7h3.4v1.8h-3.4zM184.2 39.3h3.4v1.8h-3.4zM243.5 39.3h1.8v1.8h-1.8zM259.6 40.9h1.8v1.8h-1.8zM262.8 40.9h1.8v1.8h-1.8zM280.4 40.9h1.8v1.8h-1.8zM195.5 42.5h3.4v1.8h-3.4zM283.6 42.5h1.8v1.8h-1.8zM152.2 44.1h1.8v1.8h-1.8zM157.0 44.1h3.4v1.8h-3.4zM165.0 44.1h1.8v1.8h-1.8zM177.8 44.1h1.8v1.8h-1.8zM182.6 44.1h1.8v1.8h-1.8zM241.9 44.1h1.8v1.8h-1.8zM245.1 44.1h1.8v1.8h-1.8zM261.2 44.1h1.8v1.8h-1.8zM275.6 44.1h1.8v1.8h-1.8zM158.6 45.8h6.6v1.8h-6.6zM174.6 45.8h1.8v1.8h-1.8zM245.1 45.8h1.8v1.8h-1.8zM256.3 45.8h1.8v1.8h-1.8zM152.2 47.4h1.8v1.8h-1.8zM155.4 47.4h1.8v1.8h-1.8zM173.0 47.4h1.8v1.8h-1.8zM243.5 47.4h1.8v1.8h-1.8zM253.1 47.4h1.8v1.8h-1.8zM275.6 47.4h1.8v1.8h-1.8zM171.4 49.0h1.8v1.8h-1.8zM278.8 49.0h3.4v1.8h-3.4zM166.6 50.6h1.8v1.8h-1.8zM171.4 50.6h1.8v1.8h-1.8zM213.1 50.6h1.8v1.8h-1.8zM222.7 50.6h1.8v1.8h-1.8zM219.5 52.2h1.8v1.8h-1.8zM169.8 55.4h1.8v1.8h-1.8zM261.2 57.0h1.8v1.8h-1.8zM168.2 58.6h1.8v1.8h-1.8zM249.9 58.6h8.2v1.8h-8.2zM259.6 58.6h1.8v1.8h-1.8zM267.6 58.6h5.0v1.8h-5.0zM169.8 73.1h1.8v1.8h-1.8zM261.2 73.1h1.8v1.8h-1.8zM166.6 74.7h1.8v1.8h-1.8zM166.6 76.3h3.4v1.8h-3.4zM171.4 76.3h1.8v1.8h-1.8zM174.6 76.3h1.8v1.8h-1.8zM266.0 76.3h5.0v1.8h-5.0zM166.6 77.9h1.8v1.8h-1.8zM261.2 77.9h1.8v1.8h-1.8zM267.6 77.9h3.4v1.8h-3.4zM166.6 79.6h3.4v1.8h-3.4zM171.4 79.6h1.8v1.8h-1.8zM174.6 79.6h1.8v1.8h-1.8zM166.6 81.2h1.8v1.8h-1.8zM173.0 81.2h3.4v1.8h-3.4zM277.2 81.2h1.8v1.8h-1.8zM168.2 82.8h1.8v1.8h-1.8zM171.4 82.8h1.8v1.8h-1.8zM261.2 82.8h5.0v1.8h-5.0zM171.4 89.2h3.4v1.8h-3.4zM261.2 94.0h5.0v1.8h-5.0zM152.2 95.7h1.8v1.8h-1.8zM157.0 95.7h9.8v1.8h-9.8zM171.4 95.7h1.8v1.8h-1.8zM174.6 95.7h3.4v1.8h-3.4zM179.4 95.7h1.8v1.8h-1.8zM197.1 95.7h1.8v1.8h-1.8zM219.5 95.7h1.8v1.8h-1.8zM224.3 95.7h1.8v1.8h-1.8zM270.8 95.7h1.8v1.8h-1.8zM152.2 97.3h1.8v1.8h-1.8zM158.6 97.3h1.8v1.8h-1.8zM168.2 97.3h1.8v1.8h-1.8zM248.3 97.3h1.8v1.8h-1.8zM251.5 97.3h1.8v1.8h-1.8zM266.0 97.3h1.8v1.8h-1.8zM269.2 97.3h1.8v1.8h-1.8zM153.8 98.9h1.8v1.8h-1.8zM157.0 98.9h3.4v1.8h-3.4zM161.8 98.9h5.0v1.8h-5.0zM168.2 98.9h1.8v1.8h-1.8zM254.7 98.9h1.8v1.8h-1.8zM259.6 98.9h1.8v1.8h-1.8zM264.4 98.9h6.6v1.8h-6.6zM173.0 100.5h1.8v1.8h-1.8zM179.4 100.5h1.8v1.8h-1.8zM270.8 100.5h1.8v1.8h-1.8zM165.0 102.1h1.8v1.8h-1.8zM171.4 102.1h1.8v1.8h-1.8zM249.9 102.1h3.4v1.8h-3.4zM254.7 102.1h1.8v1.8h-1.8zM264.4 102.1h1.8v1.8h-1.8zM269.2 102.1h1.8v1.8h-1.8zM179.4 103.7h1.8v1.8h-1.8zM267.6 103.7h1.8v1.8h-1.8zM270.8 103.7h1.8v1.8h-1.8zM176.2 105.3h1.8v1.8h-1.8zM181.0 105.3h1.8v1.8h-1.8zM264.4 105.3h1.8v1.8h-1.8zM270.8 105.3h1.8v1.8h-1.8zM181.0 106.9h3.4v1.8h-3.4zM249.9 106.9h1.8v1.8h-1.8zM181.0 108.5h3.4v1.8h-3.4zM249.9 108.5h3.4v1.8h-3.4zM270.8 108.5h3.4v1.8h-3.4zM254.7 110.1h3.4v1.8h-3.4zM259.6 110.1h1.8v1.8h-1.8zM272.4 110.1h1.8v1.8h-1.8zM179.4 111.7h1.8v1.8h-1.8zM259.6 113.4h1.8v1.8h-1.8zM177.8 115.0h1.8v1.8h-1.8zM158.6 116.6h5.0v1.8h-5.0zM165.0 116.6h1.8v1.8h-1.8zM171.4 116.6h1.8v1.8h-1.8zM262.8 116.6h1.8v1.8h-1.8zM249.9 118.2h5.0v1.8h-5.0zM275.6 118.2h3.4v1.8h-3.4zM280.4 118.2h1.8v1.8h-1.8zM249.9 119.8h1.8v1.8h-1.8zM253.1 119.8h1.8v1.8h-1.8zM274.0 119.8h5.0v1.8h-5.0zM249.9 121.4h1.8v1.8h-1.8zM272.4 121.4h5.0v1.8h-5.0zM278.8 121.4h3.4v1.8h-3.4zM169.8 123.0h1.8v1.8h-1.8zM272.4 123.0h5.0v1.8h-5.0zM161.8 124.6h3.4v1.8h-3.4zM253.1 124.6h1.8v1.8h-1.8zM264.4 124.6h8.2v1.8h-8.2zM274.0 126.2h3.4v1.8h-3.4zM246.7 127.8h3.4v1.8h-3.4zM168.2 129.5h1.8v1.8h-1.8zM253.1 129.5h1.8v1.8h-1.8zM272.4 129.5h1.8v1.8h-1.8zM150.6 131.1h1.8v1.8h-1.8zM153.8 131.1h1.8v1.8h-1.8zM157.0 131.1h3.4v1.8h-3.4zM150.6 132.7h1.8v1.8h-1.8zM158.6 132.7h1.8v1.8h-1.8zM152.2 134.3h1.8v1.8h-1.8zM168.2 135.9h3.4v1.8h-3.4zM262.8 135.9h3.4v1.8h-3.4zM169.8 137.5h1.8v1.8h-1.8zM262.8 137.5h1.8v1.8h-1.8zM163.4 139.1h3.4v1.8h-3.4zM168.2 139.1h1.8v1.8h-1.8zM208.3 139.1h1.8v1.8h-1.8zM214.7 139.1h1.8v1.8h-1.8zM266.0 139.1h1.8v1.8h-1.8zM157.0 142.3h3.4v1.8h-3.4zM161.8 142.3h5.0v1.8h-5.0zM169.8 142.3h1.8v1.8h-1.8zM189.1 142.3h1.8v1.8h-1.8zM267.6 142.3h1.8v1.8h-1.8zM166.6 143.9h1.8v1.8h-1.8zM184.2 143.9h1.8v1.8h-1.8zM200.3 143.9h1.8v1.8h-1.8zM203.5 143.9h1.8v1.8h-1.8zM211.5 143.9h1.8v1.8h-1.8zM150.6 145.6h1.8v1.8h-1.8zM158.6 145.6h3.4v1.8h-3.4zM163.4 145.6h3.4v1.8h-3.4zM177.8 145.6h1.8v1.8h-1.8zM216.3 145.6h1.8v1.8h-1.8zM237.1 145.6h1.8v1.8h-1.8zM245.1 145.6h1.8v1.8h-1.8zM251.5 145.6h1.8v1.8h-1.8zM274.0 145.6h1.8v1.8h-1.8zM158.6 147.2h1.8v1.8h-1.8zM161.8 147.2h5.0v1.8h-5.0zM168.2 147.2h1.8v1.8h-1.8zM211.5 147.2h1.8v1.8h-1.8zM216.3 147.2h1.8v1.8h-1.8zM275.6 147.2h1.8v1.8h-1.8zM195.5 148.8h3.4v1.8h-3.4zM205.1 148.8h1.8v1.8h-1.8zM229.1 148.8h1.8v1.8h-1.8zM240.3 148.8h1.8v1.8h-1.8zM248.3 148.8h1.8v1.8h-1.8zM251.5 148.8h1.8v1.8h-1.8zM258.0 148.8h1.8v1.8h-1.8zM177.8 150.4h1.8v1.8h-1.8zM200.3 150.4h1.8v1.8h-1.8zM203.5 150.4h1.8v1.8h-1.8zM274.0 150.4h1.8v1.8h-1.8zM160.2 152.0h1.8v1.8h-1.8zM166.6 152.0h1.8v1.8h-1.8zM174.6 152.0h3.4v1.8h-3.4zM208.3 152.0h1.8v1.8h-1.8zM213.1 152.0h3.4v1.8h-3.4zM277.2 152.0h5.0v1.8h-5.0z"/>
<path fill="#dd868a" d="M187.5 20.0h1.8v1.8h-1.8zM160.2 29.7h1.8v1.8h-1.8zM168.2 29.7h1.8v1.8h-1.8zM251.5 29.7h3.4v1.8h-3.4zM258.0 29.7h1.8v1.8h-1.8zM160.2 31.3h1.8v1.8h-1.8zM171.4 31.3h1.8v1.8h-1.8zM179.4 32.9h1.8v1.8h-1.8zM261.2 32.9h1.8v1.8h-1.8zM153.8 34.5h3.4v1.8h-3.4zM163.4 34.5h3.4v1.8h-3.4zM177.8 34.5h1.8v1.8h-1.8zM249.9 34.5h1.8v1.8h-1.8zM184.2 36.1h1.8v1.8h-1.8zM259.6 36.1h1.8v1.8h-1.8zM165.0 37.7h1.8v1.8h-1.8zM173.0 37.7h1.8v1.8h-1.8zM253.1 37.7h3.4v1.8h-3.4zM258.0 37.7h1.8v1.8h-1.8zM182.6 39.3h1.8v1.8h-1.8zM256.3 39.3h1.8v1.8h-1.8zM176.2 40.9h1.8v1.8h-1.8zM185.8 40.9h1.8v1.8h-1.8zM245.1 40.9h1.8v1.8h-1.8zM256.3 40.9h1.8v1.8h-1.8zM278.8 40.9h1.8v1.8h-1.8zM190.7 42.5h1.8v1.8h-1.8zM193.9 42.5h1.8v1.8h-1.8zM240.3 42.5h1.8v1.8h-1.8zM264.4 42.5h3.4v1.8h-3.4zM269.2 42.5h3.4v1.8h-3.4zM161.8 44.1h3.4v1.8h-3.4zM174.6 44.1h1.8v1.8h-1.8zM243.5 44.1h1.8v1.8h-1.8zM254.7 44.1h3.4v1.8h-3.4zM165.0 45.8h1.8v1.8h-1.8zM171.4 45.8h1.8v1.8h-1.8zM246.7 45.8h1.8v1.8h-1.8zM251.5 45.8h1.8v1.8h-1.8zM275.6 45.8h3.4v1.8h-3.4zM158.6 47.4h3.4v1.8h-3.4zM163.4 47.4h1.8v1.8h-1.8zM246.7 47.4h3.4v1.8h-3.4zM277.2 47.4h1.8v1.8h-1.8zM160.2 49.0h1.8v1.8h-1.8zM168.2 49.0h1.8v1.8h-1.8zM219.5 49.0h1.8v1.8h-1.8zM168.2 50.6h1.8v1.8h-1.8zM217.9 50.6h1.8v1.8h-1.8zM221.1 50.6h1.8v1.8h-1.8zM169.8 58.6h1.8v1.8h-1.8zM169.8 74.7h1.8v1.8h-1.8zM261.2 74.7h1.8v1.8h-1.8zM264.4 76.3h1.8v1.8h-1.8zM169.8 77.9h1.8v1.8h-1.8zM262.8 77.9h3.4v1.8h-3.4zM261.2 79.6h3.4v1.8h-3.4zM267.6 79.6h1.8v1.8h-1.8zM171.4 81.2h1.8v1.8h-1.8zM270.8 81.2h1.8v1.8h-1.8zM169.8 82.8h1.8v1.8h-1.8zM266.0 82.8h1.8v1.8h-1.8zM169.8 89.2h1.8v1.8h-1.8zM169.8 94.0h1.8v1.8h-1.8zM150.6 95.7h1.8v1.8h-1.8zM168.2 95.7h1.8v1.8h-1.8zM173.0 95.7h1.8v1.8h-1.8zM249.9 95.7h3.4v1.8h-3.4zM259.6 95.7h1.8v1.8h-1.8zM266.0 95.7h5.0v1.8h-5.0zM150.6 97.3h1.8v1.8h-1.8zM160.2 97.3h1.8v1.8h-1.8zM166.6 97.3h1.8v1.8h-1.8zM169.8 97.3h1.8v1.8h-1.8zM249.9 97.3h1.8v1.8h-1.8zM253.1 97.3h5.0v1.8h-5.0zM262.8 97.3h3.4v1.8h-3.4zM150.6 98.9h3.4v1.8h-3.4zM160.2 98.9h1.8v1.8h-1.8zM166.6 98.9h1.8v1.8h-1.8zM169.8 98.9h1.8v1.8h-1.8zM249.9 98.9h1.8v1.8h-1.8zM253.1 98.9h1.8v1.8h-1.8zM256.3 98.9h1.8v1.8h-1.8zM171.4 100.5h1.8v1.8h-1.8zM174.6 100.5h1.8v1.8h-1.8zM177.8 100.5h1.8v1.8h-1.8zM248.3 100.5h1.8v1.8h-1.8zM267.6 100.5h3.4v1.8h-3.4zM153.8 102.1h1.8v1.8h-1.8zM158.6 102.1h1.8v1.8h-1.8zM161.8 102.1h1.8v1.8h-1.8zM168.2 102.1h1.8v1.8h-1.8zM253.1 102.1h1.8v1.8h-1.8zM256.3 102.1h3.4v1.8h-3.4zM262.8 102.1h1.8v1.8h-1.8zM173.0 103.7h1.8v1.8h-1.8zM259.6 103.7h1.8v1.8h-1.8zM269.2 103.7h1.8v1.8h-1.8zM259.6 105.3h1.8v1.8h-1.8zM251.5 106.9h5.0v1.8h-5.0zM258.0 106.9h1.8v1.8h-1.8zM267.6 106.9h3.4v1.8h-3.4zM253.1 108.5h1.8v1.8h-1.8zM256.3 108.5h1.8v1.8h-1.8zM259.6 108.5h1.8v1.8h-1.8zM181.0 110.1h1.8v1.8h-1.8zM251.5 110.1h1.8v1.8h-1.8zM258.0 110.1h1.8v1.8h-1.8zM176.2 111.7h1.8v1.8h-1.8zM176.2 113.4h1.8v1.8h-1.8zM272.4 113.4h1.8v1.8h-1.8zM153.8 115.0h1.8v1.8h-1.8zM173.0 115.0h3.4v1.8h-3.4zM270.8 115.0h1.8v1.8h-1.8zM150.6 116.6h3.4v1.8h-3.4zM155.4 116.6h1.8v1.8h-1.8zM169.8 116.6h1.8v1.8h-1.8zM261.2 116.6h1.8v1.8h-1.8zM264.4 116.6h1.8v1.8h-1.8zM267.6 116.6h3.4v1.8h-3.4zM171.4 118.2h1.8v1.8h-1.8zM256.3 118.2h1.8v1.8h-1.8zM259.6 118.2h1.8v1.8h-1.8zM274.0 118.2h1.8v1.8h-1.8zM278.8 118.2h1.8v1.8h-1.8zM158.6 119.8h1.8v1.8h-1.8zM163.4 119.8h3.4v1.8h-3.4zM168.2 119.8h1.8v1.8h-1.8zM171.4 119.8h1.8v1.8h-1.8zM251.5 119.8h1.8v1.8h-1.8zM259.6 119.8h1.8v1.8h-1.8zM264.4 119.8h1.8v1.8h-1.8zM267.6 119.8h1.8v1.8h-1.8zM270.8 119.8h3.4v1.8h-3.4zM161.8 121.4h3.4v1.8h-3.4zM168.2 121.4h1.8v1.8h-1.8zM251.5 121.4h1.8v1.8h-1.8zM259.6 121.4h1.8v1.8h-1.8zM264.4 121.4h1.8v1.8h-1.8zM267.6 121.4h1.8v1.8h-1.8zM163.4 123.0h3.4v1.8h-3.4zM168.2 123.0h1.8v1.8h-1.8zM249.9 123.0h5.0v1.8h-5.0zM266.0 123.0h3.4v1.8h-3.4zM270.8 123.0h1.8v1.8h-1.8zM278.8 123.0h1.8v1.8h-1.8zM155.4 124.6h1.8v1.8h-1.8zM158.6 124.6h3.4v1.8h-3.4zM166.6 124.6h1.8v1.8h-1.8zM259.6 124.6h1.8v1.8h-1.8zM262.8 124.6h1.8v1.8h-1.8zM272.4 126.2h1.8v1.8h-1.8zM171.4 127.8h1.8v1.8h-1.8zM249.9 127.8h3.4v1.8h-3.4zM274.0 127.8h1.8v1.8h-1.8zM163.4 129.5h5.0v1.8h-5.0zM169.8 129.5h1.8v1.8h-1.8zM256.3 129.5h3.4v1.8h-3.4zM152.2 131.1h1.8v1.8h-1.8zM155.4 131.1h1.8v1.8h-1.8zM160.2 131.1h1.8v1.8h-1.8zM153.8 132.7h5.0v1.8h-5.0zM270.8 135.9h1.8v1.8h-1.8zM168.2 137.5h1.8v1.8h-1.8zM264.4 137.5h5.0v1.8h-5.0zM270.8 137.5h1.8v1.8h-1.8zM153.8 139.1h3.4v1.8h-3.4zM158.6 139.1h1.8v1.8h-1.8zM213.1 139.1h1.8v1.8h-1.8zM150.6 142.3h6.6v1.8h-6.6zM168.2 142.3h1.8v1.8h-1.8zM185.8 142.3h1.8v1.8h-1.8zM200.3 142.3h1.8v1.8h-1.8zM262.8 142.3h3.4v1.8h-3.4zM269.2 142.3h1.8v1.8h-1.8zM189.1 143.9h1.8v1.8h-1.8zM195.5 143.9h1.8v1.8h-1.8zM198.7 143.9h1.8v1.8h-1.8zM205.1 143.9h1.8v1.8h-1.8zM209.9 143.9h1.8v1.8h-1.8zM262.8 143.9h6.6v1.8h-6.6zM152.2 145.6h1.8v1.8h-1.8zM161.8 145.6h1.8v1.8h-1.8zM166.6 145.6h1.8v1.8h-1.8zM179.4 145.6h1.8v1.8h-1.8zM201.9 145.6h1.8v1.8h-1.8zM238.7 145.6h1.8v1.8h-1.8zM248.3 145.6h3.4v1.8h-3.4zM253.1 145.6h3.4v1.8h-3.4zM150.6 147.2h5.0v1.8h-5.0zM160.2 147.2h1.8v1.8h-1.8zM166.6 147.2h1.8v1.8h-1.8zM169.8 147.2h1.8v1.8h-1.8zM201.9 147.2h1.8v1.8h-1.8zM209.9 147.2h1.8v1.8h-1.8zM227.5 147.2h3.4v1.8h-3.4zM179.4 148.8h1.8v1.8h-1.8zM192.3 148.8h3.4v1.8h-3.4zM198.7 148.8h1.8v1.8h-1.8zM232.3 148.8h6.6v1.8h-6.6zM245.1 148.8h1.8v1.8h-1.8zM269.2 148.8h1.8v1.8h-1.8zM193.9 150.4h3.4v1.8h-3.4zM253.1 150.4h5.0v1.8h-5.0zM272.4 150.4h1.8v1.8h-1.8zM201.9 152.0h1.8v1.8h-1.8zM206.7 152.0h1.8v1.8h-1.8zM225.9 152.0h1.8v1.8h-1.8z"/>
<path fill="#df7d81" d="M182.6 20.0h3.4v1.8h-3.4zM169.8 29.7h3.4v1.8h-3.4zM174.6 29.7h1.8v1.8h-1.8zM254.7 29.7h3.4v1.8h-3.4zM150.6 32.9h1.8v1.8h-1.8zM153.8 32.9h1.8v1.8h-1.8zM163.4 32.9h1.8v1.8h-1.8zM176.2 32.9h1.8v1.8h-1.8zM249.9 32.9h1.8v1.8h-1.8zM161.8 34.5h1.8v1.8h-1.8zM168.2 34.5h1.8v1.8h-1.8zM173.0 34.5h1.8v1.8h-1.8zM185.8 36.1h1.8v1.8h-1.8zM245.1 36.1h3.4v1.8h-3.4zM262.8 36.1h1.8v1.8h-1.8zM150.6 37.7h1.8v1.8h-1.8zM163.4 37.7h1.8v1.8h-1.8zM177.8 37.7h3.4v1.8h-3.4zM251.5 37.7h1.8v1.8h-1.8zM173.0 39.3h1.8v1.8h-1.8zM179.4 39.3h3.4v1.8h-3.4zM254.7 39.3h1.8v1.8h-1.8zM258.0 39.3h1.8v1.8h-1.8zM261.2 39.3h1.8v1.8h-1.8zM150.6 40.9h1.8v1.8h-1.8zM153.8 40.9h1.8v1.8h-1.8zM184.2 40.9h1.8v1.8h-1.8zM243.5 40.9h1.8v1.8h-1.8zM253.1 40.9h1.8v1.8h-1.8zM267.6 42.5h1.8v1.8h-1.8zM272.4 42.5h1.8v1.8h-1.8zM282.0 42.5h1.8v1.8h-1.8zM160.2 44.1h1.8v1.8h-1.8zM168.2 44.1h1.8v1.8h-1.8zM171.4 44.1h1.8v1.8h-1.8zM251.5 44.1h3.4v1.8h-3.4zM277.2 44.1h1.8v1.8h-1.8zM168.2 45.8h1.8v1.8h-1.8zM248.3 45.8h1.8v1.8h-1.8zM161.8 47.4h1.8v1.8h-1.8zM165.0 47.4h1.8v1.8h-1.8zM171.4 47.4h1.8v1.8h-1.8zM251.5 47.4h1.8v1.8h-1.8zM166.6 49.0h1.8v1.8h-1.8zM169.8 50.6h1.8v1.8h-1.8zM214.7 50.6h1.8v1.8h-1.8zM258.0 58.6h1.8v1.8h-1.8zM264.4 58.6h3.4v1.8h-3.4zM169.8 76.3h1.8v1.8h-1.8zM261.2 76.3h3.4v1.8h-3.4zM266.0 77.9h1.8v1.8h-1.8zM264.4 79.6h3.4v1.8h-3.4zM269.2 79.6h1.8v1.8h-1.8zM168.2 81.2h1.8v1.8h-1.8zM261.2 81.2h5.0v1.8h-5.0zM267.6 81.2h3.4v1.8h-3.4zM166.6 95.7h1.8v1.8h-1.8zM169.8 95.7h1.8v1.8h-1.8zM253.1 95.7h5.0v1.8h-5.0zM264.4 95.7h1.8v1.8h-1.8zM258.0 97.3h1.8v1.8h-1.8zM251.5 98.9h1.8v1.8h-1.8zM258.0 98.9h1.8v1.8h-1.8zM262.8 98.9h1.8v1.8h-1.8zM150.6 100.5h1.8v1.8h-1.8zM153.8 100.5h1.8v1.8h-1.8zM161.8 100.5h5.0v1.8h-5.0zM259.6 100.5h1.8v1.8h-1.8zM264.4 100.5h3.4v1.8h-3.4zM150.6 102.1h1.8v1.8h-1.8zM155.4 102.1h3.4v1.8h-3.4zM163.4 102.1h1.8v1.8h-1.8zM261.2 102.1h1.8v1.8h-1.8zM177.8 103.7h1.8v1.8h-1.8zM264.4 103.7h3.4v1.8h-3.4zM173.0 105.3h1.8v1.8h-1.8zM179.4 105.3h1.8v1.8h-1.8zM249.9 105.3h1.8v1.8h-1.8zM253.1 105.3h1.8v1.8h-1.8zM266.0 105.3h5.0v1.8h-5.0zM176.2 106.9h1.8v1.8h-1.8zM179.4 106.9h1.8v1.8h-1.8zM256.3 106.9h1.8v1.8h-1.8zM262.8 106.9h5.0v1.8h-5.0zM254.7 108.5h1.8v1.8h-1.8zM258.0 108.5h1.8v1.8h-1.8zM179.4 110.1h1.8v1.8h-1.8zM270.8 111.7h1.8v1.8h-1.8zM177.8 113.4h1.8v1.8h-1.8zM155.4 115.0h3.4v1.8h-3.4zM163.4 115.0h1.8v1.8h-1.8zM166.6 116.6h3.4v1.8h-3.4zM266.0 116.6h1.8v1.8h-1.8zM158.6 118.2h1.8v1.8h-1.8zM161.8 118.2h1.8v1.8h-1.8zM254.7 118.2h1.8v1.8h-1.8zM272.4 118.2h1.8v1.8h-1.8zM157.0 119.8h1.8v1.8h-1.8zM161.8 119.8h1.8v1.8h-1.8zM169.8 119.8h1.8v1.8h-1.8zM254.7 119.8h3.4v1.8h-3.4zM266.0 119.8h1.8v1.8h-1.8zM278.8 119.8h1.8v1.8h-1.8zM157.0 121.4h1.8v1.8h-1.8zM165.0 121.4h1.8v1.8h-1.8zM169.8 121.4h1.8v1.8h-1.8zM253.1 121.4h5.0v1.8h-5.0zM262.8 121.4h1.8v1.8h-1.8zM266.0 121.4h1.8v1.8h-1.8zM269.2 121.4h3.4v1.8h-3.4zM155.4 123.0h1.8v1.8h-1.8zM158.6 123.0h1.8v1.8h-1.8zM161.8 123.0h1.8v1.8h-1.8zM259.6 123.0h1.8v1.8h-1.8zM264.4 123.0h1.8v1.8h-1.8zM269.2 123.0h1.8v1.8h-1.8zM157.0 124.6h1.8v1.8h-1.8zM256.3 124.6h1.8v1.8h-1.8zM161.8 126.2h5.0v1.8h-5.0zM249.9 126.2h3.4v1.8h-3.4zM270.8 126.2h1.8v1.8h-1.8zM253.1 127.8h3.4v1.8h-3.4zM272.4 127.8h1.8v1.8h-1.8zM155.4 129.5h1.8v1.8h-1.8zM264.4 129.5h8.2v1.8h-8.2zM160.2 132.7h1.8v1.8h-1.8zM158.6 135.9h1.8v1.8h-1.8zM163.4 135.9h5.0v1.8h-5.0zM266.0 135.9h5.0v1.8h-5.0zM150.6 137.5h1.8v1.8h-1.8zM153.8 137.5h1.8v1.8h-1.8zM158.6 137.5h1.8v1.8h-1.8zM163.4 137.5h5.0v1.8h-5.0zM269.2 137.5h1.8v1.8h-1.8zM150.6 139.1h3.4v1.8h-3.4zM157.0 139.1h1.8v1.8h-1.8zM161.8 139.1h1.8v1.8h-1.8zM166.6 139.1h1.8v1.8h-1.8zM160.2 142.3h1.8v1.8h-1.8zM166.6 142.3h1.8v1.8h-1.8zM203.5 142.3h1.8v1.8h-1.8zM261.2 142.3h1.8v1.8h-1.8zM266.0 142.3h1.8v1.8h-1.8zM192.3 143.9h3.4v1.8h-3.4zM261.2 143.9h1.8v1.8h-1.8zM211.5 145.6h1.8v1.8h-1.8zM243.5 145.6h1.8v1.8h-1.8zM246.7 145.6h1.8v1.8h-1.8zM256.3 145.6h1.8v1.8h-1.8zM272.4 145.6h1.8v1.8h-1.8zM177.8 147.2h1.8v1.8h-1.8zM254.7 147.2h1.8v1.8h-1.8zM274.0 147.2h1.8v1.8h-1.8zM181.0 148.8h1.8v1.8h-1.8zM189.1 148.8h1.8v1.8h-1.8zM243.5 148.8h1.8v1.8h-1.8zM246.7 148.8h1.8v1.8h-1.8zM249.9 148.8h1.8v1.8h-1.8zM262.8 148.8h1.8v1.8h-1.8zM266.0 148.8h3.4v1.8h-3.4zM270.8 148.8h1.8v1.8h-1.8zM179.4 150.4h1.8v1.8h-1.8zM192.3 150.4h1.8v1.8h-1.8zM198.7 150.4h1.8v1.8h-1.8zM251.5 150.4h1.8v1.8h-1.8zM259.6 150.4h1.8v1.8h-1.8zM270.8 150.4h1.8v1.8h-1.8zM205.1 152.0h1.8v1.8h-1.8zM275.6 152.0h1.8v1.8h-1.8z"/>
<path fill="#e17478" d="M185.8 20.0h1.8v1.8h-1.8zM169.8 31.3h1.8v1.8h-1.8zM165.0 32.9h1.8v1.8h-1.8zM177.8 32.9h1.8v1.8h-1.8zM254.7 32.9h5.0v1.8h-5.0zM157.0 34.5h3.4v1.8h-3.4zM166.6 34.5h1.8v1.8h-1.8zM174.6 34.5h1.8v1.8h-1.8zM251.5 34.5h1.8v1.8h-1.8zM181.0 36.1h3.4v1.8h-3.4zM261.2 36.1h1.8v1.8h-1.8zM153.8 37.7h3.4v1.8h-3.4zM158.6 37.7h1.8v1.8h-1.8zM161.8 37.7h1.8v1.8h-1.8zM168.2 37.7h1.8v1.8h-1.8zM249.9 37.7h1.8v1.8h-1.8zM150.6 39.3h1.8v1.8h-1.8zM153.8 39.3h3.4v1.8h-3.4zM163.4 39.3h3.4v1.8h-3.4zM176.2 39.3h1.8v1.8h-1.8zM251.5 39.3h3.4v1.8h-3.4zM155.4 40.9h3.4v1.8h-3.4zM163.4 40.9h1.8v1.8h-1.8zM179.4 40.9h5.0v1.8h-5.0zM258.0 40.9h1.8v1.8h-1.8zM261.2 40.9h1.8v1.8h-1.8zM274.0 42.5h1.8v1.8h-1.8zM248.3 44.1h1.8v1.8h-1.8zM169.8 45.8h1.8v1.8h-1.8zM249.9 45.8h1.8v1.8h-1.8zM280.4 45.8h1.8v1.8h-1.8zM168.2 47.4h1.8v1.8h-1.8zM249.9 47.4h1.8v1.8h-1.8zM280.4 47.4h1.8v1.8h-1.8zM169.8 49.0h1.8v1.8h-1.8zM262.8 58.6h1.8v1.8h-1.8zM169.8 79.6h1.8v1.8h-1.8zM169.8 81.2h1.8v1.8h-1.8zM266.0 81.2h1.8v1.8h-1.8zM258.0 95.7h1.8v1.8h-1.8zM261.2 97.3h1.8v1.8h-1.8zM261.2 98.9h1.8v1.8h-1.8zM155.4 100.5h5.0v1.8h-5.0zM168.2 100.5h3.4v1.8h-3.4zM249.9 100.5h3.4v1.8h-3.4zM256.3 100.5h1.8v1.8h-1.8zM152.2 102.1h1.8v1.8h-1.8zM160.2 102.1h1.8v1.8h-1.8zM169.8 102.1h1.8v1.8h-1.8zM174.6 103.7h1.8v1.8h-1.8zM249.9 103.7h1.8v1.8h-1.8zM254.7 103.7h3.4v1.8h-3.4zM262.8 103.7h1.8v1.8h-1.8zM177.8 105.3h1.8v1.8h-1.8zM254.7 105.3h5.0v1.8h-5.0zM262.8 105.3h1.8v1.8h-1.8zM173.0 106.9h1.8v1.8h-1.8zM261.2 106.9h1.8v1.8h-1.8zM176.2 108.5h1.8v1.8h-1.8zM179.4 108.5h1.8v1.8h-1.8zM176.2 110.1h1.8v1.8h-1.8zM270.8 110.1h1.8v1.8h-1.8zM158.6 111.7h1.8v1.8h-1.8zM173.0 111.7h1.8v1.8h-1.8zM177.8 111.7h1.8v1.8h-1.8zM262.8 111.7h1.8v1.8h-1.8zM269.2 111.7h1.8v1.8h-1.8zM153.8 113.4h1.8v1.8h-1.8zM270.8 113.4h1.8v1.8h-1.8zM150.6 115.0h1.8v1.8h-1.8zM158.6 115.0h1.8v1.8h-1.8zM161.8 115.0h1.8v1.8h-1.8zM171.4 115.0h1.8v1.8h-1.8zM261.2 115.0h1.8v1.8h-1.8zM269.2 115.0h1.8v1.8h-1.8zM150.6 118.2h1.8v1.8h-1.8zM153.8 118.2h1.8v1.8h-1.8zM157.0 118.2h1.8v1.8h-1.8zM163.4 118.2h3.4v1.8h-3.4zM168.2 118.2h1.8v1.8h-1.8zM270.8 118.2h1.8v1.8h-1.8zM153.8 119.8h3.4v1.8h-3.4zM160.2 119.8h1.8v1.8h-1.8zM258.0 119.8h1.8v1.8h-1.8zM262.8 119.8h1.8v1.8h-1.8zM269.2 119.8h1.8v1.8h-1.8zM150.6 121.4h1.8v1.8h-1.8zM153.8 121.4h3.4v1.8h-3.4zM158.6 121.4h3.4v1.8h-3.4zM166.6 121.4h1.8v1.8h-1.8zM157.0 123.0h1.8v1.8h-1.8zM160.2 123.0h1.8v1.8h-1.8zM166.6 123.0h1.8v1.8h-1.8zM254.7 123.0h5.0v1.8h-5.0zM262.8 123.0h1.8v1.8h-1.8zM150.6 124.6h5.0v1.8h-5.0zM258.0 124.6h1.8v1.8h-1.8zM168.2 126.2h3.4v1.8h-3.4zM253.1 126.2h5.0v1.8h-5.0zM259.6 126.2h1.8v1.8h-1.8zM264.4 126.2h6.6v1.8h-6.6zM165.0 127.8h1.8v1.8h-1.8zM168.2 127.8h1.8v1.8h-1.8zM153.8 129.5h1.8v1.8h-1.8zM158.6 129.5h1.8v1.8h-1.8zM161.8 129.5h1.8v1.8h-1.8zM261.2 129.5h3.4v1.8h-3.4zM152.2 132.7h1.8v1.8h-1.8zM150.6 135.9h1.8v1.8h-1.8zM153.8 135.9h1.8v1.8h-1.8zM161.8 135.9h1.8v1.8h-1.8zM155.4 137.5h3.4v1.8h-3.4zM161.8 137.5h1.8v1.8h-1.8zM160.2 139.1h1.8v1.8h-1.8zM187.5 142.3h1.8v1.8h-1.8zM198.7 142.3h1.8v1.8h-1.8zM209.9 142.3h3.4v1.8h-3.4zM185.8 143.9h3.4v1.8h-3.4zM197.1 143.9h1.8v1.8h-1.8zM206.7 143.9h3.4v1.8h-3.4zM213.1 143.9h3.4v1.8h-3.4zM181.0 145.6h1.8v1.8h-1.8zM200.3 145.6h1.8v1.8h-1.8zM209.9 145.6h1.8v1.8h-1.8zM241.9 145.6h1.8v1.8h-1.8zM259.6 145.6h1.8v1.8h-1.8zM270.8 145.6h1.8v1.8h-1.8zM206.7 147.2h1.8v1.8h-1.8zM230.7 147.2h3.4v1.8h-3.4zM272.4 147.2h1.8v1.8h-1.8zM190.7 148.8h1.8v1.8h-1.8zM230.7 148.8h1.8v1.8h-1.8zM238.7 148.8h1.8v1.8h-1.8zM241.9 148.8h1.8v1.8h-1.8zM261.2 148.8h1.8v1.8h-1.8zM264.4 148.8h1.8v1.8h-1.8zM197.1 150.4h1.8v1.8h-1.8zM229.1 150.4h3.4v1.8h-3.4zM240.3 150.4h1.8v1.8h-1.8zM248.3 150.4h1.8v1.8h-1.8zM200.3 152.0h1.8v1.8h-1.8zM203.5 152.0h1.8v1.8h-1.8z"/>
<path fill="#e36b6f" d="M152.2 32.9h1.8v1.8h-1.8zM158.6 32.9h1.8v1.8h-1.8zM161.8 32.9h1.8v1.8h-1.8zM173.0 32.9h1.8v1.8h-1.8zM251.5 32.9h3.4v1.8h-3.4zM152.2 34.5h1.8v1.8h-1.8zM160.2 34.5h1.8v1.8h-1.8zM171.4 34.5h1.8v1.8h-1.8zM157.0 37.7h1.8v1.8h-1.8zM174.6 37.7h1.8v1.8h-1.8zM152.2 39.3h1.8v1.8h-1.8zM158.6 39.3h1.8v1.8h-1.8zM161.8 39.3h1.8v1.8h-1.8zM168.2 39.3h1.8v1.8h-1.8zM174.6 39.3h1.8v1.8h-1.8zM246.7 39.3h3.4v1.8h-3.4zM152.2 40.9h1.8v1.8h-1.8zM158.6 40.9h1.8v1.8h-1.8zM161.8 40.9h1.8v1.8h-1.8zM165.0 40.9h1.8v1.8h-1.8zM171.4 40.9h5.0v1.8h-5.0zM177.8 40.9h1.8v1.8h-1.8zM248.3 40.9h1.8v1.8h-1.8zM176.2 42.5h1.8v1.8h-1.8zM187.5 42.5h1.8v1.8h-1.8zM241.9 42.5h1.8v1.8h-1.8zM259.6 42.5h1.8v1.8h-1.8zM262.8 42.5h1.8v1.8h-1.8zM275.6 42.5h1.8v1.8h-1.8zM246.7 44.1h1.8v1.8h-1.8zM249.9 44.1h1.8v1.8h-1.8zM278.8 44.1h3.4v1.8h-3.4zM166.6 45.8h1.8v1.8h-1.8zM219.5 50.6h1.8v1.8h-1.8zM261.2 58.6h1.8v1.8h-1.8zM261.2 95.7h3.4v1.8h-3.4zM166.6 100.5h1.8v1.8h-1.8zM253.1 100.5h3.4v1.8h-3.4zM262.8 100.5h1.8v1.8h-1.8zM166.6 102.1h1.8v1.8h-1.8zM163.4 103.7h1.8v1.8h-1.8zM171.4 103.7h1.8v1.8h-1.8zM251.5 103.7h3.4v1.8h-3.4zM258.0 103.7h1.8v1.8h-1.8zM261.2 103.7h1.8v1.8h-1.8zM158.6 105.3h1.8v1.8h-1.8zM161.8 105.3h1.8v1.8h-1.8zM174.6 105.3h1.8v1.8h-1.8zM251.5 105.3h1.8v1.8h-1.8zM261.2 105.3h1.8v1.8h-1.8zM153.8 106.9h1.8v1.8h-1.8zM158.6 106.9h1.8v1.8h-1.8zM161.8 106.9h3.4v1.8h-3.4zM177.8 106.9h1.8v1.8h-1.8zM173.0 108.5h1.8v1.8h-1.8zM177.8 108.5h1.8v1.8h-1.8zM262.8 108.5h3.4v1.8h-3.4zM267.6 108.5h1.8v1.8h-1.8zM177.8 110.1h1.8v1.8h-1.8zM267.6 110.1h1.8v1.8h-1.8zM153.8 111.7h1.8v1.8h-1.8zM157.0 111.7h1.8v1.8h-1.8zM161.8 111.7h1.8v1.8h-1.8zM261.2 111.7h1.8v1.8h-1.8zM267.6 111.7h1.8v1.8h-1.8zM155.4 113.4h5.0v1.8h-5.0zM161.8 113.4h1.8v1.8h-1.8zM261.2 113.4h1.8v1.8h-1.8zM160.2 115.0h1.8v1.8h-1.8zM165.0 115.0h1.8v1.8h-1.8zM262.8 115.0h3.4v1.8h-3.4zM267.6 115.0h1.8v1.8h-1.8zM155.4 118.2h1.8v1.8h-1.8zM160.2 118.2h1.8v1.8h-1.8zM258.0 118.2h1.8v1.8h-1.8zM264.4 118.2h6.6v1.8h-6.6zM150.6 119.8h1.8v1.8h-1.8zM166.6 119.8h1.8v1.8h-1.8zM258.0 121.4h1.8v1.8h-1.8zM153.8 123.0h1.8v1.8h-1.8zM261.2 123.0h1.8v1.8h-1.8zM166.6 126.2h1.8v1.8h-1.8zM161.8 127.8h3.4v1.8h-3.4zM166.6 127.8h1.8v1.8h-1.8zM169.8 127.8h1.8v1.8h-1.8zM256.3 127.8h1.8v1.8h-1.8zM259.6 127.8h1.8v1.8h-1.8zM267.6 127.8h1.8v1.8h-1.8zM270.8 127.8h1.8v1.8h-1.8zM150.6 129.5h1.8v1.8h-1.8zM157.0 129.5h1.8v1.8h-1.8zM160.2 129.5h1.8v1.8h-1.8zM155.4 135.9h3.4v1.8h-3.4zM152.2 137.5h1.8v1.8h-1.8zM160.2 137.5h1.8v1.8h-1.8zM192.3 142.3h1.8v1.8h-1.8zM195.5 142.3h3.4v1.8h-3.4zM206.7 142.3h1.8v1.8h-1.8zM190.7 143.9h1.8v1.8h-1.8zM203.5 145.6h1.8v1.8h-1.8zM206.7 145.6h3.4v1.8h-3.4zM258.0 145.6h1.8v1.8h-1.8zM267.6 145.6h1.8v1.8h-1.8zM200.3 147.2h1.8v1.8h-1.8zM208.3 147.2h1.8v1.8h-1.8zM213.1 147.2h3.4v1.8h-3.4zM233.9 147.2h1.8v1.8h-1.8zM240.3 147.2h1.8v1.8h-1.8zM251.5 147.2h3.4v1.8h-3.4zM256.3 147.2h1.8v1.8h-1.8zM270.8 147.2h1.8v1.8h-1.8zM182.6 148.8h3.4v1.8h-3.4zM181.0 150.4h1.8v1.8h-1.8zM189.1 150.4h1.8v1.8h-1.8zM233.9 150.4h1.8v1.8h-1.8zM245.1 150.4h1.8v1.8h-1.8zM249.9 150.4h1.8v1.8h-1.8zM258.0 150.4h1.8v1.8h-1.8zM264.4 150.4h1.8v1.8h-1.8zM267.6 150.4h1.8v1.8h-1.8zM254.7 152.0h1.8v1.8h-1.8zM274.0 152.0h1.8v1.8h-1.8z"/>
<path fill="#e56265" d="M155.4 32.9h3.4v1.8h-3.4zM166.6 32.9h3.4v1.8h-3.4zM169.8 34.5h1.8v1.8h-1.8zM176.2 36.1h1.8v1.8h-1.8zM179.4 36.1h1.8v1.8h-1.8zM248.3 36.1h1.8v1.8h-1.8zM253.1 36.1h6.6v1.8h-6.6zM152.2 37.7h1.8v1.8h-1.8zM166.6 37.7h1.8v1.8h-1.8zM171.4 37.7h1.8v1.8h-1.8zM157.0 39.3h1.8v1.8h-1.8zM160.2 39.3h1.8v1.8h-1.8zM166.6 39.3h1.8v1.8h-1.8zM171.4 39.3h1.8v1.8h-1.8zM177.8 39.3h1.8v1.8h-1.8zM249.9 39.3h1.8v1.8h-1.8zM168.2 40.9h1.8v1.8h-1.8zM246.7 40.9h1.8v1.8h-1.8zM251.5 40.9h1.8v1.8h-1.8zM254.7 40.9h1.8v1.8h-1.8zM153.8 42.5h3.4v1.8h-3.4zM173.0 42.5h1.8v1.8h-1.8zM277.2 42.5h1.8v1.8h-1.8zM166.6 44.1h1.8v1.8h-1.8zM169.8 44.1h1.8v1.8h-1.8zM278.8 45.8h1.8v1.8h-1.8zM152.2 100.5h1.8v1.8h-1.8zM160.2 100.5h1.8v1.8h-1.8zM258.0 100.5h1.8v1.8h-1.8zM153.8 103.7h9.8v1.8h-9.8zM165.0 103.7h1.8v1.8h-1.8zM163.4 105.3h3.4v1.8h-3.4zM165.0 106.9h1.8v1.8h-1.8zM174.6 106.9h1.8v1.8h-1.8zM261.2 108.5h1.8v1.8h-1.8zM266.0 108.5h1.8v1.8h-1.8zM269.2 108.5h1.8v1.8h-1.8zM161.8 110.1h1.8v1.8h-1.8zM173.0 110.1h1.8v1.8h-1.8zM261.2 110.1h1.8v1.8h-1.8zM269.2 110.1h1.8v1.8h-1.8zM150.6 111.7h1.8v1.8h-1.8zM155.4 111.7h1.8v1.8h-1.8zM163.4 111.7h1.8v1.8h-1.8zM171.4 111.7h1.8v1.8h-1.8zM174.6 111.7h1.8v1.8h-1.8zM264.4 111.7h1.8v1.8h-1.8zM173.0 113.4h3.4v1.8h-3.4zM264.4 113.4h1.8v1.8h-1.8zM267.6 113.4h3.4v1.8h-3.4zM266.0 115.0h1.8v1.8h-1.8zM166.6 118.2h1.8v1.8h-1.8zM169.8 118.2h1.8v1.8h-1.8zM261.2 118.2h3.4v1.8h-3.4zM152.2 119.8h1.8v1.8h-1.8zM261.2 119.8h1.8v1.8h-1.8zM261.2 121.4h1.8v1.8h-1.8zM150.6 123.0h1.8v1.8h-1.8zM261.2 124.6h1.8v1.8h-1.8zM153.8 126.2h3.4v1.8h-3.4zM158.6 126.2h3.4v1.8h-3.4zM258.0 126.2h1.8v1.8h-1.8zM262.8 126.2h1.8v1.8h-1.8zM160.2 127.8h1.8v1.8h-1.8zM264.4 127.8h1.8v1.8h-1.8zM269.2 127.8h1.8v1.8h-1.8zM152.2 135.9h1.8v1.8h-1.8zM160.2 135.9h1.8v1.8h-1.8zM190.7 142.3h1.8v1.8h-1.8zM193.9 142.3h1.8v1.8h-1.8zM205.1 142.3h1.8v1.8h-1.8zM208.3 142.3h1.8v1.8h-1.8zM205.1 145.6h1.8v1.8h-1.8zM213.1 145.6h3.4v1.8h-3.4zM262.8 145.6h1.8v1.8h-1.8zM179.4 147.2h1.8v1.8h-1.8zM203.5 147.2h1.8v1.8h-1.8zM235.5 147.2h1.8v1.8h-1.8zM245.1 147.2h1.8v1.8h-1.8zM248.3 147.2h3.4v1.8h-3.4zM187.5 148.8h1.8v1.8h-1.8zM190.7 150.4h1.8v1.8h-1.8zM232.3 150.4h1.8v1.8h-1.8zM237.1 150.4h3.4v1.8h-3.4zM246.7 150.4h1.8v1.8h-1.8zM261.2 150.4h3.4v1.8h-3.4zM266.0 150.4h1.8v1.8h-1.8zM269.2 150.4h1.8v1.8h-1.8zM177.8 152.0h1.8v1.8h-1.8zM195.5 152.0h1.8v1.8h-1.8zM227.5 152.0h1.8v1.8h-1.8zM251.5 152.0h3.4v1.8h-3.4zM256.3 152.0h1.8v1.8h-1.8z"/>
<path fill="#e7595c" d="M171.4 32.9h1.8v1.8h-1.8zM174.6 32.9h1.8v1.8h-1.8zM163.4 36.1h1.8v1.8h-1.8zM251.5 36.1h1.8v1.8h-1.8zM160.2 37.7h1.8v1.8h-1.8zM169.8 37.7h1.8v1.8h-1.8zM160.2 40.9h1.8v1.8h-1.8zM150.6 42.5h1.8v1.8h-1.8zM158.6 42.5h1.8v1.8h-1.8zM179.4 42.5h1.8v1.8h-1.8zM184.2 42.5h3.4v1.8h-3.4zM256.3 42.5h3.4v1.8h-3.4zM166.6 47.4h1.8v1.8h-1.8zM278.8 47.4h1.8v1.8h-1.8zM261.2 100.5h1.8v1.8h-1.8zM150.6 103.7h1.8v1.8h-1.8zM168.2 103.7h1.8v1.8h-1.8zM153.8 105.3h5.0v1.8h-5.0zM160.2 105.3h1.8v1.8h-1.8zM171.4 105.3h1.8v1.8h-1.8zM155.4 106.9h3.4v1.8h-3.4zM160.2 106.9h1.8v1.8h-1.8zM171.4 106.9h1.8v1.8h-1.8zM157.0 108.5h3.4v1.8h-3.4zM174.6 108.5h1.8v1.8h-1.8zM153.8 110.1h1.8v1.8h-1.8zM157.0 110.1h3.4v1.8h-3.4zM262.8 110.1h3.4v1.8h-3.4zM152.2 111.7h1.8v1.8h-1.8zM160.2 111.7h1.8v1.8h-1.8zM165.0 111.7h1.8v1.8h-1.8zM150.6 113.4h3.4v1.8h-3.4zM163.4 113.4h1.8v1.8h-1.8zM262.8 113.4h1.8v1.8h-1.8zM152.2 115.0h1.8v1.8h-1.8zM168.2 115.0h3.4v1.8h-3.4zM152.2 118.2h1.8v1.8h-1.8zM152.2 121.4h1.8v1.8h-1.8zM152.2 123.0h1.8v1.8h-1.8zM157.0 126.2h1.8v1.8h-1.8zM261.2 126.2h1.8v1.8h-1.8zM157.0 127.8h3.4v1.8h-3.4zM258.0 127.8h1.8v1.8h-1.8zM266.0 127.8h1.8v1.8h-1.8zM152.2 129.5h1.8v1.8h-1.8zM213.1 142.3h3.4v1.8h-3.4zM195.5 145.6h1.8v1.8h-1.8zM198.7 145.6h1.8v1.8h-1.8zM264.4 145.6h3.4v1.8h-3.4zM269.2 145.6h1.8v1.8h-1.8zM195.5 147.2h1.8v1.8h-1.8zM205.1 147.2h1.8v1.8h-1.8zM237.1 147.2h1.8v1.8h-1.8zM243.5 147.2h1.8v1.8h-1.8zM246.7 147.2h1.8v1.8h-1.8zM258.0 147.2h3.4v1.8h-3.4zM182.6 150.4h1.8v1.8h-1.8zM235.5 150.4h1.8v1.8h-1.8zM241.9 150.4h3.4v1.8h-3.4z"/>
<path fill="#e95053" d="M160.2 32.9h1.8v1.8h-1.8zM169.8 32.9h1.8v1.8h-1.8zM150.6 36.1h1.8v1.8h-1.8zM153.8 36.1h1.8v1.8h-1.8zM161.8 36.1h1.8v1.8h-1.8zM165.0 36.1h1.8v1.8h-1.8zM249.9 36.1h1.8v1.8h-1.8zM166.6 40.9h1.8v1.8h-1.8zM169.8 40.9h1.8v1.8h-1.8zM249.9 40.9h1.8v1.8h-1.8zM157.0 42.5h1.8v1.8h-1.8zM161.8 42.5h1.8v1.8h-1.8zM181.0 42.5h3.4v1.8h-3.4zM243.5 42.5h3.4v1.8h-3.4zM254.7 42.5h1.8v1.8h-1.8zM261.2 42.5h1.8v1.8h-1.8zM280.4 42.5h1.8v1.8h-1.8zM169.8 47.4h1.8v1.8h-1.8zM169.8 103.7h1.8v1.8h-1.8zM168.2 105.3h1.8v1.8h-1.8zM150.6 106.9h1.8v1.8h-1.8zM168.2 106.9h1.8v1.8h-1.8zM153.8 108.5h3.4v1.8h-3.4zM161.8 108.5h3.4v1.8h-3.4zM155.4 110.1h1.8v1.8h-1.8zM163.4 110.1h1.8v1.8h-1.8zM174.6 110.1h1.8v1.8h-1.8zM266.0 110.1h1.8v1.8h-1.8zM168.2 111.7h1.8v1.8h-1.8zM266.0 111.7h1.8v1.8h-1.8zM160.2 113.4h1.8v1.8h-1.8zM165.0 113.4h1.8v1.8h-1.8zM168.2 113.4h1.8v1.8h-1.8zM266.0 113.4h1.8v1.8h-1.8zM166.6 115.0h1.8v1.8h-1.8zM150.6 126.2h1.8v1.8h-1.8zM153.8 127.8h1.8v1.8h-1.8zM262.8 127.8h1.8v1.8h-1.8zM182.6 145.6h3.4v1.8h-3.4zM189.1 145.6h1.8v1.8h-1.8zM197.1 145.6h1.8v1.8h-1.8zM181.0 147.2h1.8v1.8h-1.8zM189.1 147.2h1.8v1.8h-1.8zM238.7 147.2h1.8v1.8h-1.8zM264.4 147.2h1.8v1.8h-1.8zM185.8 148.8h1.8v1.8h-1.8zM179.4 152.0h1.8v1.8h-1.8zM192.3 152.0h1.8v1.8h-1.8zM197.1 152.0h3.4v1.8h-3.4zM229.1 152.0h1.8v1.8h-1.8zM248.3 152.0h1.8v1.8h-1.8zM258.0 152.0h3.4v1.8h-3.4zM272.4 152.0h1.8v1.8h-1.8z"/>
<path fill="#eb484a" d="M158.6 36.1h1.8v1.8h-1.8zM173.0 36.1h1.8v1.8h-1.8zM177.8 36.1h1.8v1.8h-1.8zM169.8 39.3h1.8v1.8h-1.8zM152.2 42.5h1.8v1.8h-1.8zM174.6 42.5h1.8v1.8h-1.8zM177.8 42.5h1.8v1.8h-1.8zM160.2 108.5h1.8v1.8h-1.8zM165.0 108.5h1.8v1.8h-1.8zM171.4 108.5h1.8v1.8h-1.8zM150.6 110.1h1.8v1.8h-1.8zM160.2 110.1h1.8v1.8h-1.8zM165.0 110.1h1.8v1.8h-1.8zM166.6 111.7h1.8v1.8h-1.8zM169.8 111.7h1.8v1.8h-1.8zM171.4 113.4h1.8v1.8h-1.8zM152.2 126.2h1.8v1.8h-1.8zM155.4 127.8h1.8v1.8h-1.8zM261.2 127.8h1.8v1.8h-1.8zM192.3 145.6h1.8v1.8h-1.8zM261.2 145.6h1.8v1.8h-1.8zM197.1 147.2h1.8v1.8h-1.8zM262.8 147.2h1.8v1.8h-1.8zM267.6 147.2h1.8v1.8h-1.8zM184.2 150.4h1.8v1.8h-1.8zM189.1 152.0h1.8v1.8h-1.8zM193.9 152.0h1.8v1.8h-1.8zM240.3 152.0h1.8v1.8h-1.8zM245.1 152.0h1.8v1.8h-1.8zM249.9 152.0h1.8v1.8h-1.8zM264.4 152.0h1.8v1.8h-1.8zM270.8 152.0h1.8v1.8h-1.8z"/>
<path fill="#ed3f41" d="M155.4 36.1h1.8v1.8h-1.8zM160.2 42.5h1.8v1.8h-1.8zM163.4 42.5h3.4v1.8h-3.4zM168.2 42.5h1.8v1.8h-1.8zM171.4 42.5h1.8v1.8h-1.8zM248.3 42.5h1.8v1.8h-1.8zM253.1 42.5h1.8v1.8h-1.8zM152.2 103.7h1.8v1.8h-1.8zM166.6 103.7h1.8v1.8h-1.8zM150.6 105.3h1.8v1.8h-1.8zM152.2 106.9h1.8v1.8h-1.8zM169.8 106.9h1.8v1.8h-1.8zM150.6 108.5h1.8v1.8h-1.8zM168.2 108.5h1.8v1.8h-1.8zM171.4 110.1h1.8v1.8h-1.8zM169.8 113.4h1.8v1.8h-1.8zM150.6 127.8h3.4v1.8h-3.4zM193.9 145.6h1.8v1.8h-1.8zM192.3 147.2h3.4v1.8h-3.4zM198.7 147.2h1.8v1.8h-1.8zM241.9 147.2h1.8v1.8h-1.8zM246.7 152.0h1.8v1.8h-1.8zM262.8 152.0h1.8v1.8h-1.8zM267.6 152.0h1.8v1.8h-1.8z"/>
<path fill="#ef3637" d="M152.2 36.1h1.8v1.8h-1.8zM157.0 36.1h1.8v1.8h-1.8zM168.2 36.1h1.8v1.8h-1.8zM171.4 36.1h1.8v1.8h-1.8zM278.8 42.5h1.8v1.8h-1.8zM152.2 105.3h1.8v1.8h-1.8zM166.6 105.3h1.8v1.8h-1.8zM169.8 105.3h1.8v1.8h-1.8zM166.6 106.9h1.8v1.8h-1.8zM168.2 110.1h1.8v1.8h-1.8zM166.6 113.4h1.8v1.8h-1.8zM190.7 145.6h1.8v1.8h-1.8zM182.6 147.2h1.8v1.8h-1.8zM269.2 147.2h1.8v1.8h-1.8zM185.8 150.4h3.4v1.8h-3.4zM181.0 152.0h1.8v1.8h-1.8zM230.7 152.0h6.6v1.8h-6.6zM266.0 152.0h1.8v1.8h-1.8z"/>
<path fill="#f12d2e" d="M160.2 36.1h1.8v1.8h-1.8zM166.6 36.1h1.8v1.8h-1.8zM174.6 36.1h1.8v1.8h-1.8zM169.8 42.5h1.8v1.8h-1.8zM246.7 42.5h1.8v1.8h-1.8zM251.5 42.5h1.8v1.8h-1.8zM169.8 108.5h1.8v1.8h-1.8zM152.2 110.1h1.8v1.8h-1.8zM185.8 145.6h3.4v1.8h-3.4zM184.2 147.2h1.8v1.8h-1.8zM190.7 147.2h1.8v1.8h-1.8zM266.0 147.2h1.8v1.8h-1.8zM237.1 152.0h1.8v1.8h-1.8zM243.5 152.0h1.8v1.8h-1.8zM261.2 152.0h1.8v1.8h-1.8zM269.2 152.0h1.8v1.8h-1.8z"/>
<path fill="#f32425" d="M152.2 108.5h1.8v1.8h-1.8zM166.6 108.5h1.8v1.8h-1.8zM261.2 147.2h1.8v1.8h-1.8zM238.7 152.0h1.8v1.8h-1.8z"/>
<path fill="#f51b1c" d="M169.8 36.1h1.8v1.8h-1.8zM166.6 42.5h1.8v1.8h-1.8zM249.9 42.5h1.8v1.8h-1.8zM166.6 110.1h1.8v1.8h-1.8zM169.8 110.1h1.8v1.8h-1.8zM182.6 152.0h1.8v1.8h-1.8zM190.7 152.0h1.8v1.8h-1.8z"/>
<path fill="#f71213" d="M241.9 152.0h1.8v1.8h-1.8z"/>
<path fill="#fa0a0a" d="M185.8 147.2h3.4v1.8h-3.4zM184.2 152.0h5.0v1.8h-5.0z"/></g>
<rect x="150.6" y="20.0" width="1.5" height="133.6" fill="#1c1cf5"/>
<rect x="152.1" y="20.0" width="1" height="133.6" fill="#5050e8" opacity="0.55"/>
<rect x="180.5" y="152.0" width="104.69999999999999" height="1.6" fill="#f03030" opacity="0.75"/>
<rect x="170.6" y="20.0" width="122.6" height="1.2" fill="#e05060" opacity="0.35"/>
<polygon fill="#0808fa" points="150.6,146.6 154.5,147.2 155.5,149.2 160.0,150.0 165.0,150.6 169.0,151.6 171.0,149.6 174.0,149.4 175.5,151.2 178.5,151.4 180.5,153.6 150.6,153.6"/>
</g>
<g id="heat2"><g shape-rendering="crispEdges"><path fill="#0a0afa" d="M266.3 184.4h1.8v1.7h-1.8zM271.1 184.4h1.8v1.7h-1.8zM263.1 186.0h5.0v1.7h-5.0zM271.1 186.0h1.8v1.7h-1.8zM275.9 186.0h3.4v1.7h-3.4z"/>
<path fill="#1212f8" d="M277.5 184.4h1.8v1.7h-1.8zM267.9 186.0h1.8v1.7h-1.8zM279.1 186.0h1.8v1.7h-1.8z"/>
<path fill="#1b1bf6" d="M275.9 184.4h1.8v1.7h-1.8zM269.5 186.0h1.8v1.7h-1.8zM272.7 186.0h3.4v1.7h-3.4zM280.7 186.0h1.8v1.7h-1.8zM271.1 190.8h1.8v1.7h-1.8z"/>
<path fill="#2424f4" d="M264.7 184.4h1.8v1.7h-1.8zM271.1 187.6h1.8v1.7h-1.8zM271.1 189.2h1.8v1.7h-1.8zM224.5 224.4h1.8v1.7h-1.8zM292.0 306.0h1.8v1.7h-1.8z"/>
<path fill="#2d2df3" d="M263.1 184.4h1.8v1.7h-1.8zM266.3 187.6h1.8v1.7h-1.8zM266.3 189.2h1.8v1.7h-1.8zM277.5 189.2h1.8v1.7h-1.8zM266.3 190.8h1.8v1.7h-1.8zM277.5 190.8h1.8v1.7h-1.8zM152.2 208.4h1.8v1.7h-1.8zM224.5 226.0h1.8v1.7h-1.8z"/>
<path fill="#3636f1" d="M267.9 184.4h1.8v1.7h-1.8zM274.3 184.4h1.8v1.7h-1.8zM279.1 184.4h1.8v1.7h-1.8zM261.5 186.0h1.8v1.7h-1.8zM277.5 187.6h1.8v1.7h-1.8zM263.1 190.8h3.4v1.7h-3.4zM275.9 190.8h1.8v1.7h-1.8zM152.2 210.0h1.8v1.7h-1.8zM214.9 224.4h3.4v1.7h-3.4zM221.3 224.4h1.8v1.7h-1.8zM292.0 307.6h1.8v1.7h-1.8z"/>
<path fill="#3f3fef" d="M261.5 184.4h1.8v1.7h-1.8zM269.5 184.4h1.8v1.7h-1.8zM272.7 184.4h1.8v1.7h-1.8zM280.7 184.4h1.8v1.7h-1.8zM282.4 186.0h1.8v1.7h-1.8zM292.0 186.0h1.8v1.7h-1.8zM264.7 187.6h1.8v1.7h-1.8zM275.9 187.6h1.8v1.7h-1.8zM263.1 189.2h1.8v1.7h-1.8zM275.9 189.2h1.8v1.7h-1.8zM274.3 190.8h1.8v1.7h-1.8zM213.3 224.4h1.8v1.7h-1.8zM221.3 226.0h1.8v1.7h-1.8zM224.5 227.6h1.8v1.7h-1.8zM203.6 291.6h1.8v1.7h-1.8zM292.0 302.8h1.8v1.7h-1.8z"/>
<path fill="#4848ed" d="M235.8 186.0h1.8v1.7h-1.8zM284.0 186.0h1.8v1.7h-1.8zM263.1 187.6h1.8v1.7h-1.8zM279.1 189.2h1.8v1.7h-1.8zM267.9 190.8h1.8v1.7h-1.8zM272.7 190.8h1.8v1.7h-1.8zM279.1 190.8h3.4v1.7h-3.4zM292.0 190.8h1.8v1.7h-1.8zM153.8 208.4h1.8v1.7h-1.8zM218.1 224.4h1.8v1.7h-1.8zM224.5 229.2h1.8v1.7h-1.8zM224.5 230.8h1.8v1.7h-1.8zM210.0 245.2h1.8v1.7h-1.8zM292.0 278.8h1.8v1.7h-1.8zM292.0 282.0h1.8v1.7h-1.8zM202.0 291.6h1.8v1.7h-1.8zM221.3 291.6h1.8v1.7h-1.8zM292.0 291.6h1.8v1.7h-1.8zM292.0 299.6h1.8v1.7h-1.8zM292.0 301.2h1.8v1.7h-1.8z"/>
<path fill="#5050ec" d="M282.4 184.4h1.8v1.7h-1.8zM237.4 186.0h1.8v1.7h-1.8zM267.9 187.6h1.8v1.7h-1.8zM272.7 187.6h3.4v1.7h-3.4zM279.1 187.6h3.4v1.7h-3.4zM264.7 189.2h1.8v1.7h-1.8zM261.5 190.8h1.8v1.7h-1.8zM269.5 190.8h1.8v1.7h-1.8zM152.2 194.0h1.8v1.7h-1.8zM226.1 224.4h1.8v1.7h-1.8zM214.9 226.0h3.4v1.7h-3.4zM213.3 245.2h3.4v1.7h-3.4zM292.0 283.6h1.8v1.7h-1.8zM292.0 286.8h1.8v1.7h-1.8zM292.0 288.4h1.8v1.7h-1.8zM216.5 290.0h1.8v1.7h-1.8zM221.3 290.0h1.8v1.7h-1.8zM213.3 291.6h1.8v1.7h-1.8zM224.5 291.6h1.8v1.7h-1.8zM292.0 298.0h1.8v1.7h-1.8zM290.4 306.0h1.8v1.7h-1.8zM292.0 309.2h1.8v1.7h-1.8zM292.0 310.8h1.8v1.7h-1.8z"/>
<path fill="#5959ea" d="M235.8 184.4h1.8v1.7h-1.8zM284.0 184.4h1.8v1.7h-1.8zM292.0 184.4h1.8v1.7h-1.8zM232.5 186.0h1.8v1.7h-1.8zM261.5 187.6h1.8v1.7h-1.8zM269.5 187.6h1.8v1.7h-1.8zM267.9 189.2h1.8v1.7h-1.8zM272.7 189.2h3.4v1.7h-3.4zM280.7 189.2h1.8v1.7h-1.8zM292.0 189.2h1.8v1.7h-1.8zM282.4 190.8h3.4v1.7h-3.4zM152.2 211.6h1.8v1.7h-1.8zM213.3 226.0h1.8v1.7h-1.8zM218.1 226.0h1.8v1.7h-1.8zM226.1 226.0h3.4v1.7h-3.4zM221.3 227.6h1.8v1.7h-1.8zM229.3 229.2h1.8v1.7h-1.8zM221.3 230.8h1.8v1.7h-1.8zM210.0 242.0h1.8v1.7h-1.8zM213.3 243.6h1.8v1.7h-1.8zM211.7 245.2h1.8v1.7h-1.8zM235.8 245.2h1.8v1.7h-1.8zM224.5 288.4h1.8v1.7h-1.8zM203.6 290.0h1.8v1.7h-1.8zM210.0 290.0h1.8v1.7h-1.8zM224.5 290.0h1.8v1.7h-1.8zM292.0 290.0h1.8v1.7h-1.8zM205.2 291.6h3.4v1.7h-3.4zM211.7 291.6h1.8v1.7h-1.8zM214.9 291.6h1.8v1.7h-1.8zM203.6 293.2h1.8v1.7h-1.8zM292.0 304.4h1.8v1.7h-1.8zM224.5 306.0h1.8v1.7h-1.8z"/>
<path fill="#6262e8" d="M230.9 186.0h1.8v1.7h-1.8zM258.3 186.0h1.8v1.7h-1.8zM285.6 186.0h3.4v1.7h-3.4zM290.4 186.0h1.8v1.7h-1.8zM269.5 189.2h1.8v1.7h-1.8zM263.1 192.4h3.4v1.7h-3.4zM271.1 192.4h1.8v1.7h-1.8zM277.5 192.4h1.8v1.7h-1.8zM292.0 192.4h1.8v1.7h-1.8zM153.8 194.0h1.8v1.7h-1.8zM150.6 208.4h1.8v1.7h-1.8zM153.8 210.0h1.8v1.7h-1.8zM213.3 221.2h1.8v1.7h-1.8zM216.5 221.2h1.8v1.7h-1.8zM210.0 224.4h3.4v1.7h-3.4zM219.7 224.4h1.8v1.7h-1.8zM229.3 224.4h1.8v1.7h-1.8zM235.8 224.4h1.8v1.7h-1.8zM292.0 224.4h1.8v1.7h-1.8zM211.7 226.0h1.8v1.7h-1.8zM219.7 226.0h1.8v1.7h-1.8zM222.9 226.0h1.8v1.7h-1.8zM229.3 226.0h3.4v1.7h-3.4zM235.8 226.0h3.4v1.7h-3.4zM214.9 227.6h1.8v1.7h-1.8zM226.1 227.6h1.8v1.7h-1.8zM229.3 227.6h1.8v1.7h-1.8zM221.3 229.2h1.8v1.7h-1.8zM226.1 229.2h1.8v1.7h-1.8zM235.8 229.2h1.8v1.7h-1.8zM229.3 230.8h1.8v1.7h-1.8zM292.0 235.6h1.8v1.7h-1.8zM211.7 243.6h1.8v1.7h-1.8zM203.6 245.2h1.8v1.7h-1.8zM206.8 245.2h3.4v1.7h-3.4zM216.5 245.2h1.8v1.7h-1.8zM292.0 274.0h1.8v1.7h-1.8zM216.5 288.4h1.8v1.7h-1.8zM221.3 288.4h1.8v1.7h-1.8zM202.0 290.0h1.8v1.7h-1.8zM208.4 290.0h1.8v1.7h-1.8zM213.3 290.0h3.4v1.7h-3.4zM185.9 291.6h1.8v1.7h-1.8zM210.0 291.6h1.8v1.7h-1.8zM216.5 291.6h1.8v1.7h-1.8zM202.0 293.2h1.8v1.7h-1.8zM292.0 293.2h1.8v1.7h-1.8zM203.6 294.8h1.8v1.7h-1.8zM292.0 294.8h1.8v1.7h-1.8zM224.5 301.2h1.8v1.7h-1.8zM290.4 301.2h1.8v1.7h-1.8zM287.2 306.0h1.8v1.7h-1.8zM290.4 307.6h1.8v1.7h-1.8z"/>
<path fill="#6b6be7" d="M232.5 184.4h1.8v1.7h-1.8zM237.4 184.4h1.8v1.7h-1.8zM259.9 184.4h1.8v1.7h-1.8zM234.2 186.0h1.8v1.7h-1.8zM259.9 186.0h1.8v1.7h-1.8zM282.4 187.6h3.4v1.7h-3.4zM292.0 187.6h1.8v1.7h-1.8zM261.5 189.2h1.8v1.7h-1.8zM284.0 189.2h1.8v1.7h-1.8zM152.2 190.8h1.8v1.7h-1.8zM285.6 190.8h1.8v1.7h-1.8zM290.4 190.8h1.8v1.7h-1.8zM152.2 192.4h1.8v1.7h-1.8zM266.3 192.4h1.8v1.7h-1.8zM292.0 194.0h1.8v1.7h-1.8zM152.2 197.2h1.8v1.7h-1.8zM152.2 206.8h1.8v1.7h-1.8zM155.4 208.4h1.8v1.7h-1.8zM150.6 210.0h1.8v1.7h-1.8zM152.2 213.2h1.8v1.7h-1.8zM181.1 216.4h1.8v1.7h-1.8zM214.9 221.2h1.8v1.7h-1.8zM224.5 221.2h1.8v1.7h-1.8zM213.3 222.8h1.8v1.7h-1.8zM203.6 224.4h1.8v1.7h-1.8zM222.9 224.4h1.8v1.7h-1.8zM227.7 224.4h1.8v1.7h-1.8zM230.9 224.4h1.8v1.7h-1.8zM237.4 224.4h1.8v1.7h-1.8zM210.0 226.0h1.8v1.7h-1.8zM232.5 226.0h1.8v1.7h-1.8zM292.0 226.0h1.8v1.7h-1.8zM235.8 227.6h1.8v1.7h-1.8zM214.9 229.2h3.4v1.7h-3.4zM222.9 229.2h1.8v1.7h-1.8zM227.7 229.2h1.8v1.7h-1.8zM230.9 229.2h1.8v1.7h-1.8zM292.0 229.2h1.8v1.7h-1.8zM216.5 230.8h1.8v1.7h-1.8zM226.1 230.8h3.4v1.7h-3.4zM292.0 230.8h1.8v1.7h-1.8zM292.0 232.4h1.8v1.7h-1.8zM181.1 235.6h1.8v1.7h-1.8zM210.0 235.6h1.8v1.7h-1.8zM208.4 243.6h3.4v1.7h-3.4zM214.9 243.6h1.8v1.7h-1.8zM235.8 243.6h1.8v1.7h-1.8zM205.2 245.2h1.8v1.7h-1.8zM224.5 245.2h1.8v1.7h-1.8zM232.5 245.2h1.8v1.7h-1.8zM237.4 245.2h1.8v1.7h-1.8zM210.0 246.8h1.8v1.7h-1.8zM213.3 246.8h1.8v1.7h-1.8zM213.3 250.0h3.4v1.7h-3.4zM210.0 274.0h1.8v1.7h-1.8zM292.0 280.4h1.8v1.7h-1.8zM292.0 285.2h1.8v1.7h-1.8zM221.3 286.8h1.8v1.7h-1.8zM224.5 286.8h1.8v1.7h-1.8zM203.6 288.4h1.8v1.7h-1.8zM213.3 288.4h1.8v1.7h-1.8zM200.4 290.0h1.8v1.7h-1.8zM205.2 290.0h1.8v1.7h-1.8zM211.7 290.0h1.8v1.7h-1.8zM218.1 290.0h3.4v1.7h-3.4zM181.1 291.6h1.8v1.7h-1.8zM184.3 291.6h1.8v1.7h-1.8zM195.6 291.6h1.8v1.7h-1.8zM198.8 291.6h3.4v1.7h-3.4zM208.4 291.6h1.8v1.7h-1.8zM218.1 291.6h3.4v1.7h-3.4zM226.1 291.6h1.8v1.7h-1.8zM216.5 293.2h1.8v1.7h-1.8zM221.3 293.2h1.8v1.7h-1.8zM224.5 293.2h1.8v1.7h-1.8zM202.0 294.8h1.8v1.7h-1.8zM221.3 294.8h1.8v1.7h-1.8zM292.0 296.4h1.8v1.7h-1.8zM224.5 302.8h1.8v1.7h-1.8zM285.6 306.0h1.8v1.7h-1.8zM288.8 306.0h1.8v1.7h-1.8z"/>
<path fill="#7474e5" d="M234.2 184.4h1.8v1.7h-1.8zM285.6 184.4h1.8v1.7h-1.8zM229.3 186.0h1.8v1.7h-1.8zM239.0 186.0h6.6v1.7h-6.6zM235.8 187.6h1.8v1.7h-1.8zM259.9 187.6h1.8v1.7h-1.8zM290.4 187.6h1.8v1.7h-1.8zM282.4 189.2h1.8v1.7h-1.8zM258.3 190.8h3.4v1.7h-3.4zM287.2 190.8h1.8v1.7h-1.8zM153.8 192.4h1.8v1.7h-1.8zM261.5 192.4h1.8v1.7h-1.8zM267.9 192.4h1.8v1.7h-1.8zM275.9 192.4h1.8v1.7h-1.8zM280.7 192.4h1.8v1.7h-1.8zM266.3 194.0h1.8v1.7h-1.8zM271.1 194.0h1.8v1.7h-1.8zM152.2 195.6h1.8v1.7h-1.8zM153.8 197.2h1.8v1.7h-1.8zM152.2 205.2h1.8v1.7h-1.8zM153.8 206.8h1.8v1.7h-1.8zM153.8 211.6h1.8v1.7h-1.8zM182.7 216.4h5.0v1.7h-5.0zM181.1 219.6h1.8v1.7h-1.8zM181.1 221.2h1.8v1.7h-1.8zM210.0 221.2h3.4v1.7h-3.4zM216.5 222.8h1.8v1.7h-1.8zM208.4 224.4h1.8v1.7h-1.8zM232.5 224.4h1.8v1.7h-1.8zM242.2 224.4h1.8v1.7h-1.8zM234.2 226.0h1.8v1.7h-1.8zM213.3 227.6h1.8v1.7h-1.8zM222.9 227.6h1.8v1.7h-1.8zM227.7 227.6h1.8v1.7h-1.8zM230.9 227.6h1.8v1.7h-1.8zM237.4 227.6h1.8v1.7h-1.8zM292.0 227.6h1.8v1.7h-1.8zM213.3 229.2h1.8v1.7h-1.8zM218.1 229.2h1.8v1.7h-1.8zM232.5 229.2h1.8v1.7h-1.8zM237.4 229.2h1.8v1.7h-1.8zM214.9 230.8h1.8v1.7h-1.8zM230.9 230.8h1.8v1.7h-1.8zM235.8 230.8h1.8v1.7h-1.8zM184.3 235.6h1.8v1.7h-1.8zM211.7 235.6h5.0v1.7h-5.0zM292.0 237.2h1.8v1.7h-1.8zM203.6 242.0h1.8v1.7h-1.8zM206.8 242.0h3.4v1.7h-3.4zM211.7 242.0h3.4v1.7h-3.4zM202.0 243.6h6.6v1.7h-6.6zM224.5 243.6h1.8v1.7h-1.8zM292.0 245.2h1.8v1.7h-1.8zM211.7 246.8h1.8v1.7h-1.8zM214.9 246.8h1.8v1.7h-1.8zM210.0 250.0h1.8v1.7h-1.8zM210.0 251.6h1.8v1.7h-1.8zM213.3 251.6h3.4v1.7h-3.4zM292.0 256.4h1.8v1.7h-1.8zM224.5 269.2h1.8v1.7h-1.8zM213.3 274.0h3.4v1.7h-3.4zM292.0 275.6h1.8v1.7h-1.8zM290.4 278.8h1.8v1.7h-1.8zM216.5 286.8h1.8v1.7h-1.8zM205.2 288.4h1.8v1.7h-1.8zM210.0 288.4h1.8v1.7h-1.8zM214.9 288.4h1.8v1.7h-1.8zM219.7 288.4h1.8v1.7h-1.8zM206.8 290.0h1.8v1.7h-1.8zM187.6 291.6h1.8v1.7h-1.8zM190.8 291.6h1.8v1.7h-1.8zM194.0 291.6h1.8v1.7h-1.8zM222.9 291.6h1.8v1.7h-1.8zM290.4 291.6h1.8v1.7h-1.8zM205.2 293.2h1.8v1.7h-1.8zM211.7 293.2h5.0v1.7h-5.0zM187.6 294.8h3.4v1.7h-3.4zM210.0 294.8h1.8v1.7h-1.8zM214.9 294.8h3.4v1.7h-3.4zM224.5 294.8h1.8v1.7h-1.8zM235.8 301.2h3.4v1.7h-3.4zM221.3 302.8h1.8v1.7h-1.8zM287.2 302.8h1.8v1.7h-1.8zM226.1 306.0h5.0v1.7h-5.0zM235.8 306.0h1.8v1.7h-1.8zM284.0 306.0h1.8v1.7h-1.8zM287.2 307.6h1.8v1.7h-1.8zM292.0 312.4h1.8v1.7h-1.8z"/>
<path fill="#7d7de3" d="M230.9 184.4h1.8v1.7h-1.8zM242.2 184.4h1.8v1.7h-1.8zM258.3 184.4h1.8v1.7h-1.8zM287.2 184.4h1.8v1.7h-1.8zM245.4 186.0h1.8v1.7h-1.8zM256.6 186.0h1.8v1.7h-1.8zM258.3 187.6h1.8v1.7h-1.8zM285.6 187.6h3.4v1.7h-3.4zM153.8 190.8h1.8v1.7h-1.8zM288.8 190.8h1.8v1.7h-1.8zM269.5 192.4h1.8v1.7h-1.8zM272.7 192.4h3.4v1.7h-3.4zM279.1 192.4h1.8v1.7h-1.8zM290.4 192.4h1.8v1.7h-1.8zM150.6 194.0h1.8v1.7h-1.8zM155.4 194.0h1.8v1.7h-1.8zM263.1 194.0h3.4v1.7h-3.4zM153.8 195.6h1.8v1.7h-1.8zM292.0 195.6h1.8v1.7h-1.8zM292.0 197.2h1.8v1.7h-1.8zM152.2 198.8h1.8v1.7h-1.8zM152.2 203.6h1.8v1.7h-1.8zM210.0 208.4h1.8v1.7h-1.8zM213.3 208.4h3.4v1.7h-3.4zM224.5 208.4h1.8v1.7h-1.8zM155.4 210.0h1.8v1.7h-1.8zM153.8 213.2h1.8v1.7h-1.8zM187.6 216.4h1.8v1.7h-1.8zM187.6 219.6h1.8v1.7h-1.8zM213.3 219.6h3.4v1.7h-3.4zM184.3 221.2h3.4v1.7h-3.4zM202.0 221.2h5.0v1.7h-5.0zM208.4 221.2h1.8v1.7h-1.8zM218.1 221.2h1.8v1.7h-1.8zM221.3 221.2h1.8v1.7h-1.8zM226.1 221.2h1.8v1.7h-1.8zM211.7 222.8h1.8v1.7h-1.8zM214.9 222.8h1.8v1.7h-1.8zM221.3 222.8h1.8v1.7h-1.8zM224.5 222.8h3.4v1.7h-3.4zM202.0 224.4h1.8v1.7h-1.8zM205.2 224.4h1.8v1.7h-1.8zM239.0 226.0h1.8v1.7h-1.8zM242.2 226.0h1.8v1.7h-1.8zM216.5 227.6h5.0v1.7h-5.0zM232.5 227.6h1.8v1.7h-1.8zM210.0 229.2h3.4v1.7h-3.4zM219.7 229.2h1.8v1.7h-1.8zM234.2 229.2h1.8v1.7h-1.8zM290.4 229.2h1.8v1.7h-1.8zM210.0 230.8h5.0v1.7h-5.0zM218.1 230.8h1.8v1.7h-1.8zM232.5 230.8h1.8v1.7h-1.8zM237.4 230.8h1.8v1.7h-1.8zM290.4 230.8h1.8v1.7h-1.8zM221.3 232.4h1.8v1.7h-1.8zM292.0 234.0h1.8v1.7h-1.8zM182.7 235.6h1.8v1.7h-1.8zM202.0 235.6h3.4v1.7h-3.4zM216.5 235.6h1.8v1.7h-1.8zM224.5 235.6h1.8v1.7h-1.8zM292.0 238.8h1.8v1.7h-1.8zM205.2 242.0h1.8v1.7h-1.8zM292.0 242.0h1.8v1.7h-1.8zM216.5 243.6h1.8v1.7h-1.8zM221.3 243.6h1.8v1.7h-1.8zM202.0 245.2h1.8v1.7h-1.8zM218.1 245.2h1.8v1.7h-1.8zM221.3 245.2h1.8v1.7h-1.8zM226.1 245.2h1.8v1.7h-1.8zM229.3 245.2h3.4v1.7h-3.4zM205.2 246.8h1.8v1.7h-1.8zM208.4 246.8h1.8v1.7h-1.8zM216.5 246.8h1.8v1.7h-1.8zM237.4 246.8h1.8v1.7h-1.8zM292.0 246.8h1.8v1.7h-1.8zM213.3 248.4h1.8v1.7h-1.8zM208.4 250.0h1.8v1.7h-1.8zM211.7 250.0h1.8v1.7h-1.8zM229.3 250.0h1.8v1.7h-1.8zM235.8 250.0h1.8v1.7h-1.8zM208.4 251.6h1.8v1.7h-1.8zM211.7 251.6h1.8v1.7h-1.8zM229.3 251.6h1.8v1.7h-1.8zM235.8 251.6h1.8v1.7h-1.8zM292.0 251.6h1.8v1.7h-1.8zM292.0 267.6h1.8v1.7h-1.8zM224.5 270.8h1.8v1.7h-1.8zM211.7 274.0h1.8v1.7h-1.8zM216.5 274.0h1.8v1.7h-1.8zM292.0 277.2h1.8v1.7h-1.8zM288.8 278.8h1.8v1.7h-1.8zM290.4 282.0h1.8v1.7h-1.8zM203.6 286.8h3.4v1.7h-3.4zM208.4 286.8h1.8v1.7h-1.8zM211.7 286.8h5.0v1.7h-5.0zM218.1 286.8h1.8v1.7h-1.8zM202.0 288.4h1.8v1.7h-1.8zM208.4 288.4h1.8v1.7h-1.8zM211.7 288.4h1.8v1.7h-1.8zM218.1 288.4h1.8v1.7h-1.8zM222.9 288.4h1.8v1.7h-1.8zM226.1 288.4h1.8v1.7h-1.8zM290.4 288.4h1.8v1.7h-1.8zM181.1 290.0h1.8v1.7h-1.8zM226.1 290.0h1.8v1.7h-1.8zM290.4 290.0h1.8v1.7h-1.8zM182.7 291.6h1.8v1.7h-1.8zM189.2 291.6h1.8v1.7h-1.8zM192.4 291.6h1.8v1.7h-1.8zM197.2 291.6h1.8v1.7h-1.8zM227.7 291.6h3.4v1.7h-3.4zM184.3 293.2h1.8v1.7h-1.8zM187.6 293.2h1.8v1.7h-1.8zM190.8 293.2h1.8v1.7h-1.8zM200.4 293.2h1.8v1.7h-1.8zM208.4 293.2h3.4v1.7h-3.4zM218.1 293.2h1.8v1.7h-1.8zM190.8 294.8h1.8v1.7h-1.8zM198.8 294.8h1.8v1.7h-1.8zM205.2 294.8h1.8v1.7h-1.8zM208.4 294.8h1.8v1.7h-1.8zM202.0 296.4h1.8v1.7h-1.8zM224.5 296.4h1.8v1.7h-1.8zM224.5 299.6h1.8v1.7h-1.8zM235.8 299.6h1.8v1.7h-1.8zM290.4 299.6h1.8v1.7h-1.8zM221.3 301.2h1.8v1.7h-1.8zM285.6 301.2h1.8v1.7h-1.8zM288.8 301.2h1.8v1.7h-1.8zM235.8 302.8h3.4v1.7h-3.4zM288.8 302.8h3.4v1.7h-3.4zM224.5 304.4h1.8v1.7h-1.8zM290.4 304.4h1.8v1.7h-1.8zM221.3 306.0h1.8v1.7h-1.8zM230.9 306.0h1.8v1.7h-1.8zM280.7 306.0h3.4v1.7h-3.4zM290.4 309.2h1.8v1.7h-1.8zM290.4 310.8h1.8v1.7h-1.8zM292.0 314.0h1.8v1.7h-1.8z"/>
<path fill="#8686e1" d="M229.3 184.4h1.8v1.7h-1.8zM239.0 184.4h1.8v1.7h-1.8zM243.8 184.4h1.8v1.7h-1.8zM247.0 184.4h1.8v1.7h-1.8zM256.6 184.4h1.8v1.7h-1.8zM290.4 184.4h1.8v1.7h-1.8zM227.7 186.0h1.8v1.7h-1.8zM288.8 186.0h1.8v1.7h-1.8zM230.9 187.6h1.8v1.7h-1.8zM234.2 187.6h1.8v1.7h-1.8zM237.4 187.6h3.4v1.7h-3.4zM242.2 187.6h1.8v1.7h-1.8zM245.4 187.6h1.8v1.7h-1.8zM288.8 187.6h1.8v1.7h-1.8zM256.6 190.8h1.8v1.7h-1.8zM155.4 192.4h1.8v1.7h-1.8zM284.0 192.4h3.4v1.7h-3.4zM267.9 194.0h3.4v1.7h-3.4zM277.5 194.0h1.8v1.7h-1.8zM150.6 195.6h1.8v1.7h-1.8zM213.3 203.6h1.8v1.7h-1.8zM153.8 205.2h1.8v1.7h-1.8zM150.6 206.8h1.8v1.7h-1.8zM157.0 208.4h1.8v1.7h-1.8zM211.7 208.4h1.8v1.7h-1.8zM216.5 208.4h1.8v1.7h-1.8zM152.2 216.4h1.8v1.7h-1.8zM189.2 216.4h1.8v1.7h-1.8zM181.1 218.0h1.8v1.7h-1.8zM185.9 218.0h1.8v1.7h-1.8zM179.5 219.6h1.8v1.7h-1.8zM185.9 219.6h1.8v1.7h-1.8zM202.0 219.6h3.4v1.7h-3.4zM208.4 219.6h3.4v1.7h-3.4zM182.7 221.2h1.8v1.7h-1.8zM195.6 221.2h1.8v1.7h-1.8zM229.3 221.2h1.8v1.7h-1.8zM292.0 221.2h1.8v1.7h-1.8zM210.0 222.8h1.8v1.7h-1.8zM218.1 222.8h1.8v1.7h-1.8zM292.0 222.8h1.8v1.7h-1.8zM152.2 224.4h1.8v1.7h-1.8zM206.8 224.4h1.8v1.7h-1.8zM234.2 224.4h1.8v1.7h-1.8zM239.0 224.4h3.4v1.7h-3.4zM280.7 224.4h1.8v1.7h-1.8zM284.0 224.4h1.8v1.7h-1.8zM153.8 226.0h1.8v1.7h-1.8zM203.6 226.0h6.6v1.7h-6.6zM243.8 226.0h3.4v1.7h-3.4zM208.4 227.6h5.0v1.7h-5.0zM234.2 227.6h1.8v1.7h-1.8zM242.2 227.6h1.8v1.7h-1.8zM239.0 229.2h1.8v1.7h-1.8zM219.7 230.8h1.8v1.7h-1.8zM234.2 230.8h1.8v1.7h-1.8zM224.5 232.4h1.8v1.7h-1.8zM227.7 232.4h3.4v1.7h-3.4zM235.8 232.4h1.8v1.7h-1.8zM179.5 235.6h1.8v1.7h-1.8zM185.9 235.6h3.4v1.7h-3.4zM190.8 235.6h1.8v1.7h-1.8zM205.2 235.6h1.8v1.7h-1.8zM208.4 235.6h1.8v1.7h-1.8zM290.4 235.6h1.8v1.7h-1.8zM181.1 237.2h1.8v1.7h-1.8zM184.3 237.2h1.8v1.7h-1.8zM210.0 237.2h1.8v1.7h-1.8zM213.3 237.2h1.8v1.7h-1.8zM203.6 238.8h3.4v1.7h-3.4zM208.4 238.8h6.6v1.7h-6.6zM202.0 242.0h1.8v1.7h-1.8zM214.9 242.0h3.4v1.7h-3.4zM224.5 242.0h1.8v1.7h-1.8zM235.8 242.0h1.8v1.7h-1.8zM218.1 243.6h3.4v1.7h-3.4zM237.4 243.6h1.8v1.7h-1.8zM292.0 243.6h1.8v1.7h-1.8zM227.7 245.2h1.8v1.7h-1.8zM234.2 245.2h1.8v1.7h-1.8zM203.6 246.8h1.8v1.7h-1.8zM206.8 246.8h1.8v1.7h-1.8zM224.5 246.8h1.8v1.7h-1.8zM232.5 246.8h1.8v1.7h-1.8zM235.8 246.8h1.8v1.7h-1.8zM208.4 248.4h5.0v1.7h-5.0zM214.9 248.4h1.8v1.7h-1.8zM292.0 248.4h1.8v1.7h-1.8zM216.5 250.0h1.8v1.7h-1.8zM232.5 250.0h3.4v1.7h-3.4zM292.0 250.0h1.8v1.7h-1.8zM205.2 251.6h1.8v1.7h-1.8zM230.9 251.6h3.4v1.7h-3.4zM292.0 258.0h1.8v1.7h-1.8zM213.3 269.2h1.8v1.7h-1.8zM210.0 270.8h1.8v1.7h-1.8zM213.3 270.8h3.4v1.7h-3.4zM208.4 274.0h1.8v1.7h-1.8zM290.4 274.0h1.8v1.7h-1.8zM290.4 283.6h1.8v1.7h-1.8zM202.0 286.8h1.8v1.7h-1.8zM210.0 286.8h1.8v1.7h-1.8zM219.7 286.8h1.8v1.7h-1.8zM222.9 286.8h1.8v1.7h-1.8zM290.4 286.8h1.8v1.7h-1.8zM198.8 288.4h3.4v1.7h-3.4zM206.8 288.4h1.8v1.7h-1.8zM184.3 290.0h1.8v1.7h-1.8zM195.6 290.0h1.8v1.7h-1.8zM198.8 290.0h1.8v1.7h-1.8zM222.9 290.0h1.8v1.7h-1.8zM227.7 290.0h1.8v1.7h-1.8zM181.1 293.2h1.8v1.7h-1.8zM185.9 293.2h1.8v1.7h-1.8zM189.2 293.2h1.8v1.7h-1.8zM192.4 293.2h1.8v1.7h-1.8zM195.6 293.2h5.0v1.7h-5.0zM206.8 293.2h1.8v1.7h-1.8zM219.7 293.2h1.8v1.7h-1.8zM181.1 294.8h1.8v1.7h-1.8zM184.3 294.8h3.4v1.7h-3.4zM194.0 294.8h5.0v1.7h-5.0zM200.4 294.8h1.8v1.7h-1.8zM206.8 294.8h1.8v1.7h-1.8zM211.7 294.8h3.4v1.7h-3.4zM189.2 296.4h1.8v1.7h-1.8zM203.6 296.4h1.8v1.7h-1.8zM221.3 296.4h1.8v1.7h-1.8zM221.3 298.0h1.8v1.7h-1.8zM224.5 298.0h1.8v1.7h-1.8zM221.3 299.6h1.8v1.7h-1.8zM247.0 301.2h1.8v1.7h-1.8zM287.2 301.2h1.8v1.7h-1.8zM226.1 302.8h1.8v1.7h-1.8zM285.6 302.8h1.8v1.7h-1.8zM222.9 306.0h1.8v1.7h-1.8zM232.5 306.0h3.4v1.7h-3.4zM224.5 307.6h1.8v1.7h-1.8zM285.6 307.6h1.8v1.7h-1.8zM288.8 307.6h1.8v1.7h-1.8z"/>
<path fill="#8e8ee0" d="M227.7 184.4h1.8v1.7h-1.8zM240.6 184.4h1.8v1.7h-1.8zM245.4 184.4h1.8v1.7h-1.8zM288.8 184.4h1.8v1.7h-1.8zM247.0 186.0h1.8v1.7h-1.8zM255.0 186.0h1.8v1.7h-1.8zM227.7 187.6h3.4v1.7h-3.4zM232.5 187.6h1.8v1.7h-1.8zM240.6 187.6h1.8v1.7h-1.8zM247.0 187.6h1.8v1.7h-1.8zM255.0 187.6h3.4v1.7h-3.4zM258.3 189.2h1.8v1.7h-1.8zM285.6 189.2h1.8v1.7h-1.8zM150.6 190.8h1.8v1.7h-1.8zM235.8 190.8h1.8v1.7h-1.8zM253.4 190.8h3.4v1.7h-3.4zM150.6 192.4h1.8v1.7h-1.8zM258.3 192.4h1.8v1.7h-1.8zM282.4 192.4h1.8v1.7h-1.8zM288.8 192.4h1.8v1.7h-1.8zM157.0 194.0h1.8v1.7h-1.8zM274.3 194.0h3.4v1.7h-3.4zM280.7 194.0h1.8v1.7h-1.8zM155.4 195.6h3.4v1.7h-3.4zM263.1 195.6h1.8v1.7h-1.8zM150.6 197.2h1.8v1.7h-1.8zM155.4 197.2h1.8v1.7h-1.8zM153.8 198.8h1.8v1.7h-1.8zM153.8 203.6h1.8v1.7h-1.8zM150.6 205.2h1.8v1.7h-1.8zM214.9 205.2h1.8v1.7h-1.8zM155.4 206.8h1.8v1.7h-1.8zM213.3 206.8h1.8v1.7h-1.8zM221.3 208.4h1.8v1.7h-1.8zM227.7 208.4h1.8v1.7h-1.8zM157.0 210.0h1.8v1.7h-1.8zM213.3 210.0h5.0v1.7h-5.0zM224.5 210.0h1.8v1.7h-1.8zM150.6 211.6h1.8v1.7h-1.8zM155.4 211.6h1.8v1.7h-1.8zM150.6 213.2h1.8v1.7h-1.8zM153.8 216.4h1.8v1.7h-1.8zM179.5 216.4h1.8v1.7h-1.8zM190.8 216.4h1.8v1.7h-1.8zM203.6 216.4h1.8v1.7h-1.8zM210.0 216.4h1.8v1.7h-1.8zM182.7 219.6h3.4v1.7h-3.4zM190.8 219.6h1.8v1.7h-1.8zM211.7 219.6h1.8v1.7h-1.8zM216.5 219.6h1.8v1.7h-1.8zM224.5 219.6h1.8v1.7h-1.8zM292.0 219.6h1.8v1.7h-1.8zM153.8 221.2h1.8v1.7h-1.8zM192.4 221.2h1.8v1.7h-1.8zM200.4 221.2h1.8v1.7h-1.8zM206.8 221.2h1.8v1.7h-1.8zM219.7 221.2h1.8v1.7h-1.8zM222.9 221.2h1.8v1.7h-1.8zM227.7 221.2h1.8v1.7h-1.8zM181.1 222.8h1.8v1.7h-1.8zM202.0 222.8h3.4v1.7h-3.4zM208.4 222.8h1.8v1.7h-1.8zM219.7 222.8h1.8v1.7h-1.8zM222.9 222.8h1.8v1.7h-1.8zM227.7 222.8h1.8v1.7h-1.8zM235.8 222.8h1.8v1.7h-1.8zM181.1 224.4h1.8v1.7h-1.8zM277.5 224.4h3.4v1.7h-3.4zM285.6 224.4h1.8v1.7h-1.8zM290.4 224.4h1.8v1.7h-1.8zM152.2 226.0h1.8v1.7h-1.8zM240.6 226.0h1.8v1.7h-1.8zM277.5 226.0h5.0v1.7h-5.0zM290.4 226.0h1.8v1.7h-1.8zM153.8 227.6h1.8v1.7h-1.8zM203.6 227.6h1.8v1.7h-1.8zM240.6 227.6h1.8v1.7h-1.8zM245.4 227.6h1.8v1.7h-1.8zM284.0 227.6h1.8v1.7h-1.8zM205.2 229.2h1.8v1.7h-1.8zM208.4 229.2h1.8v1.7h-1.8zM240.6 229.2h6.6v1.7h-6.6zM280.7 229.2h1.8v1.7h-1.8zM284.0 229.2h1.8v1.7h-1.8zM222.9 230.8h1.8v1.7h-1.8zM242.2 230.8h1.8v1.7h-1.8zM181.1 232.4h1.8v1.7h-1.8zM211.7 232.4h8.2v1.7h-8.2zM226.1 232.4h1.8v1.7h-1.8zM230.9 232.4h3.4v1.7h-3.4zM224.5 234.0h1.8v1.7h-1.8zM189.2 235.6h1.8v1.7h-1.8zM198.8 235.6h1.8v1.7h-1.8zM206.8 235.6h1.8v1.7h-1.8zM218.1 235.6h1.8v1.7h-1.8zM221.3 235.6h1.8v1.7h-1.8zM227.7 235.6h1.8v1.7h-1.8zM232.5 235.6h1.8v1.7h-1.8zM235.8 235.6h1.8v1.7h-1.8zM247.0 235.6h1.8v1.7h-1.8zM185.9 237.2h1.8v1.7h-1.8zM202.0 237.2h3.4v1.7h-3.4zM208.4 237.2h1.8v1.7h-1.8zM211.7 237.2h1.8v1.7h-1.8zM214.9 237.2h1.8v1.7h-1.8zM181.1 238.8h1.8v1.7h-1.8zM202.0 238.8h1.8v1.7h-1.8zM206.8 238.8h1.8v1.7h-1.8zM214.9 238.8h1.8v1.7h-1.8zM218.1 242.0h1.8v1.7h-1.8zM221.3 242.0h1.8v1.7h-1.8zM200.4 243.6h1.8v1.7h-1.8zM227.7 243.6h1.8v1.7h-1.8zM230.9 243.6h5.0v1.7h-5.0zM240.6 243.6h3.4v1.7h-3.4zM219.7 245.2h1.8v1.7h-1.8zM239.0 245.2h5.0v1.7h-5.0zM229.3 246.8h1.8v1.7h-1.8zM234.2 246.8h1.8v1.7h-1.8zM203.6 248.4h1.8v1.7h-1.8zM216.5 248.4h1.8v1.7h-1.8zM229.3 248.4h1.8v1.7h-1.8zM232.5 248.4h1.8v1.7h-1.8zM235.8 248.4h1.8v1.7h-1.8zM203.6 250.0h1.8v1.7h-1.8zM227.7 250.0h1.8v1.7h-1.8zM230.9 250.0h1.8v1.7h-1.8zM237.4 250.0h1.8v1.7h-1.8zM152.2 251.6h1.8v1.7h-1.8zM203.6 251.6h1.8v1.7h-1.8zM216.5 251.6h1.8v1.7h-1.8zM227.7 251.6h1.8v1.7h-1.8zM234.2 251.6h1.8v1.7h-1.8zM292.0 253.2h1.8v1.7h-1.8zM292.0 254.8h1.8v1.7h-1.8zM292.0 261.2h1.8v1.7h-1.8zM292.0 266.0h1.8v1.7h-1.8zM211.7 267.6h5.0v1.7h-5.0zM224.5 267.6h1.8v1.7h-1.8zM208.4 269.2h5.0v1.7h-5.0zM221.3 269.2h1.8v1.7h-1.8zM292.0 269.2h1.8v1.7h-1.8zM208.4 270.8h1.8v1.7h-1.8zM216.5 270.8h1.8v1.7h-1.8zM221.3 270.8h1.8v1.7h-1.8zM226.1 270.8h1.8v1.7h-1.8zM292.0 270.8h1.8v1.7h-1.8zM208.4 272.4h6.6v1.7h-6.6zM224.5 272.4h1.8v1.7h-1.8zM292.0 272.4h1.8v1.7h-1.8zM206.8 274.0h1.8v1.7h-1.8zM221.3 274.0h1.8v1.7h-1.8zM224.5 274.0h1.8v1.7h-1.8zM290.4 280.4h1.8v1.7h-1.8zM221.3 285.2h1.8v1.7h-1.8zM224.5 285.2h1.8v1.7h-1.8zM197.2 286.8h3.4v1.7h-3.4zM226.1 286.8h3.4v1.7h-3.4zM288.8 286.8h1.8v1.7h-1.8zM227.7 288.4h3.4v1.7h-3.4zM185.9 290.0h3.4v1.7h-3.4zM190.8 290.0h1.8v1.7h-1.8zM197.2 290.0h1.8v1.7h-1.8zM229.3 290.0h1.8v1.7h-1.8zM179.5 291.6h1.8v1.7h-1.8zM230.9 291.6h1.8v1.7h-1.8zM288.8 291.6h1.8v1.7h-1.8zM194.0 293.2h1.8v1.7h-1.8zM226.1 293.2h1.8v1.7h-1.8zM290.4 293.2h1.8v1.7h-1.8zM182.7 294.8h1.8v1.7h-1.8zM192.4 294.8h1.8v1.7h-1.8zM218.1 294.8h1.8v1.7h-1.8zM181.1 296.4h1.8v1.7h-1.8zM187.6 296.4h1.8v1.7h-1.8zM195.6 296.4h1.8v1.7h-1.8zM198.8 296.4h3.4v1.7h-3.4zM210.0 296.4h1.8v1.7h-1.8zM213.3 296.4h1.8v1.7h-1.8zM218.1 296.4h1.8v1.7h-1.8zM187.6 298.0h1.8v1.7h-1.8zM202.0 298.0h1.8v1.7h-1.8zM214.9 298.0h5.0v1.7h-5.0zM237.4 298.0h1.8v1.7h-1.8zM290.4 298.0h1.8v1.7h-1.8zM203.6 299.6h1.8v1.7h-1.8zM237.4 299.6h1.8v1.7h-1.8zM222.9 301.2h1.8v1.7h-1.8zM239.0 301.2h1.8v1.7h-1.8zM242.2 301.2h1.8v1.7h-1.8zM284.0 301.2h1.8v1.7h-1.8zM222.9 302.8h1.8v1.7h-1.8zM227.7 302.8h3.4v1.7h-3.4zM284.0 302.8h1.8v1.7h-1.8zM235.8 304.4h1.8v1.7h-1.8zM219.7 306.0h1.8v1.7h-1.8zM237.4 306.0h1.8v1.7h-1.8zM284.0 307.6h1.8v1.7h-1.8z"/>
<path fill="#9797de" d="M226.1 184.4h1.8v1.7h-1.8zM253.4 184.4h1.8v1.7h-1.8zM250.2 186.0h1.8v1.7h-1.8zM243.8 187.6h1.8v1.7h-1.8zM235.8 189.2h1.8v1.7h-1.8zM259.9 189.2h1.8v1.7h-1.8zM287.2 189.2h5.0v1.7h-5.0zM155.4 190.8h1.8v1.7h-1.8zM230.9 190.8h1.8v1.7h-1.8zM247.0 190.8h1.8v1.7h-1.8zM157.0 192.4h1.8v1.7h-1.8zM255.0 192.4h1.8v1.7h-1.8zM259.9 192.4h1.8v1.7h-1.8zM287.2 192.4h1.8v1.7h-1.8zM158.6 194.0h1.8v1.7h-1.8zM261.5 194.0h1.8v1.7h-1.8zM272.7 194.0h1.8v1.7h-1.8zM284.0 194.0h1.8v1.7h-1.8zM290.4 194.0h1.8v1.7h-1.8zM158.6 195.6h3.4v1.7h-3.4zM266.3 195.6h3.4v1.7h-3.4zM290.4 195.6h1.8v1.7h-1.8zM157.0 197.2h3.4v1.7h-3.4zM150.6 203.6h1.8v1.7h-1.8zM210.0 203.6h3.4v1.7h-3.4zM214.9 203.6h1.8v1.7h-1.8zM211.7 205.2h3.4v1.7h-3.4zM210.0 206.8h3.4v1.7h-3.4zM214.9 206.8h1.8v1.7h-1.8zM218.1 208.4h3.4v1.7h-3.4zM229.3 208.4h3.4v1.7h-3.4zM235.8 208.4h1.8v1.7h-1.8zM158.6 210.0h1.8v1.7h-1.8zM210.0 210.0h3.4v1.7h-3.4zM181.1 213.2h3.4v1.7h-3.4zM185.9 213.2h1.8v1.7h-1.8zM208.4 213.2h3.4v1.7h-3.4zM152.2 214.8h3.4v1.7h-3.4zM181.1 214.8h6.6v1.7h-6.6zM177.9 216.4h1.8v1.7h-1.8zM202.0 216.4h1.8v1.7h-1.8zM205.2 216.4h1.8v1.7h-1.8zM208.4 216.4h1.8v1.7h-1.8zM211.7 216.4h3.4v1.7h-3.4zM179.5 218.0h1.8v1.7h-1.8zM182.7 218.0h3.4v1.7h-3.4zM187.6 218.0h3.4v1.7h-3.4zM205.2 218.0h1.8v1.7h-1.8zM208.4 218.0h5.0v1.7h-5.0zM152.2 219.6h1.8v1.7h-1.8zM189.2 219.6h1.8v1.7h-1.8zM192.4 219.6h1.8v1.7h-1.8zM195.6 219.6h1.8v1.7h-1.8zM198.8 219.6h1.8v1.7h-1.8zM205.2 219.6h3.4v1.7h-3.4zM218.1 219.6h1.8v1.7h-1.8zM221.3 219.6h1.8v1.7h-1.8zM152.2 221.2h1.8v1.7h-1.8zM179.5 221.2h1.8v1.7h-1.8zM187.6 221.2h5.0v1.7h-5.0zM194.0 221.2h1.8v1.7h-1.8zM197.2 221.2h3.4v1.7h-3.4zM230.9 221.2h1.8v1.7h-1.8zM235.8 221.2h1.8v1.7h-1.8zM290.4 221.2h1.8v1.7h-1.8zM185.9 222.8h1.8v1.7h-1.8zM200.4 222.8h1.8v1.7h-1.8zM205.2 222.8h3.4v1.7h-3.4zM229.3 222.8h1.8v1.7h-1.8zM242.2 222.8h1.8v1.7h-1.8zM153.8 224.4h1.8v1.7h-1.8zM182.7 224.4h5.0v1.7h-5.0zM200.4 224.4h1.8v1.7h-1.8zM243.8 224.4h3.4v1.7h-3.4zM282.4 224.4h1.8v1.7h-1.8zM287.2 224.4h3.4v1.7h-3.4zM184.3 226.0h1.8v1.7h-1.8zM202.0 226.0h1.8v1.7h-1.8zM282.4 226.0h3.4v1.7h-3.4zM287.2 226.0h3.4v1.7h-3.4zM152.2 227.6h1.8v1.7h-1.8zM205.2 227.6h1.8v1.7h-1.8zM239.0 227.6h1.8v1.7h-1.8zM243.8 227.6h1.8v1.7h-1.8zM247.0 227.6h1.8v1.7h-1.8zM277.5 227.6h3.4v1.7h-3.4zM282.4 227.6h1.8v1.7h-1.8zM285.6 227.6h1.8v1.7h-1.8zM288.8 227.6h3.4v1.7h-3.4zM152.2 229.2h3.4v1.7h-3.4zM203.6 229.2h1.8v1.7h-1.8zM279.1 229.2h1.8v1.7h-1.8zM285.6 229.2h5.0v1.7h-5.0zM181.1 230.8h1.8v1.7h-1.8zM239.0 230.8h3.4v1.7h-3.4zM243.8 230.8h3.4v1.7h-3.4zM284.0 230.8h3.4v1.7h-3.4zM288.8 230.8h1.8v1.7h-1.8zM184.3 232.4h1.8v1.7h-1.8zM210.0 232.4h1.8v1.7h-1.8zM222.9 232.4h1.8v1.7h-1.8zM290.4 232.4h1.8v1.7h-1.8zM214.9 234.0h1.8v1.7h-1.8zM176.3 235.6h1.8v1.7h-1.8zM200.4 235.6h1.8v1.7h-1.8zM219.7 235.6h1.8v1.7h-1.8zM222.9 235.6h1.8v1.7h-1.8zM229.3 235.6h3.4v1.7h-3.4zM234.2 235.6h1.8v1.7h-1.8zM242.2 235.6h1.8v1.7h-1.8zM245.4 235.6h1.8v1.7h-1.8zM284.0 235.6h6.6v1.7h-6.6zM179.5 237.2h1.8v1.7h-1.8zM182.7 237.2h1.8v1.7h-1.8zM198.8 237.2h1.8v1.7h-1.8zM205.2 237.2h1.8v1.7h-1.8zM216.5 237.2h1.8v1.7h-1.8zM224.5 237.2h1.8v1.7h-1.8zM290.4 237.2h1.8v1.7h-1.8zM184.3 238.8h1.8v1.7h-1.8zM203.6 240.4h1.8v1.7h-1.8zM208.4 240.4h5.0v1.7h-5.0zM292.0 240.4h1.8v1.7h-1.8zM227.7 242.0h3.4v1.7h-3.4zM237.4 242.0h1.8v1.7h-1.8zM242.2 242.0h1.8v1.7h-1.8zM198.8 243.6h1.8v1.7h-1.8zM226.1 243.6h1.8v1.7h-1.8zM229.3 243.6h1.8v1.7h-1.8zM239.0 243.6h1.8v1.7h-1.8zM245.4 243.6h1.8v1.7h-1.8zM290.4 243.6h1.8v1.7h-1.8zM198.8 245.2h3.4v1.7h-3.4zM222.9 245.2h1.8v1.7h-1.8zM290.4 245.2h1.8v1.7h-1.8zM202.0 246.8h1.8v1.7h-1.8zM218.1 246.8h1.8v1.7h-1.8zM221.3 246.8h1.8v1.7h-1.8zM226.1 246.8h1.8v1.7h-1.8zM230.9 246.8h1.8v1.7h-1.8zM224.5 248.4h1.8v1.7h-1.8zM227.7 248.4h1.8v1.7h-1.8zM230.9 248.4h1.8v1.7h-1.8zM202.0 250.0h1.8v1.7h-1.8zM206.8 250.0h1.8v1.7h-1.8zM218.1 250.0h1.8v1.7h-1.8zM224.5 250.0h1.8v1.7h-1.8zM153.8 251.6h1.8v1.7h-1.8zM158.6 251.6h3.4v1.7h-3.4zM202.0 251.6h1.8v1.7h-1.8zM206.8 251.6h1.8v1.7h-1.8zM218.1 251.6h1.8v1.7h-1.8zM224.5 251.6h1.8v1.7h-1.8zM237.4 251.6h1.8v1.7h-1.8zM288.8 251.6h1.8v1.7h-1.8zM210.0 253.2h1.8v1.7h-1.8zM213.3 253.2h1.8v1.7h-1.8zM292.0 259.6h1.8v1.7h-1.8zM210.0 267.6h1.8v1.7h-1.8zM216.5 267.6h1.8v1.7h-1.8zM221.3 267.6h1.8v1.7h-1.8zM226.1 267.6h1.8v1.7h-1.8zM214.9 269.2h5.0v1.7h-5.0zM226.1 269.2h1.8v1.7h-1.8zM211.7 270.8h1.8v1.7h-1.8zM227.7 270.8h1.8v1.7h-1.8zM214.9 272.4h3.4v1.7h-3.4zM221.3 272.4h1.8v1.7h-1.8zM203.6 274.0h3.4v1.7h-3.4zM218.1 274.0h1.8v1.7h-1.8zM226.1 274.0h3.4v1.7h-3.4zM210.0 275.6h1.8v1.7h-1.8zM214.9 275.6h1.8v1.7h-1.8zM208.4 278.8h8.2v1.7h-8.2zM287.2 278.8h1.8v1.7h-1.8zM288.8 282.0h1.8v1.7h-1.8zM216.5 283.6h1.8v1.7h-1.8zM221.3 283.6h1.8v1.7h-1.8zM216.5 285.2h3.4v1.7h-3.4zM195.6 286.8h1.8v1.7h-1.8zM200.4 286.8h1.8v1.7h-1.8zM206.8 286.8h1.8v1.7h-1.8zM229.3 286.8h1.8v1.7h-1.8zM287.2 286.8h1.8v1.7h-1.8zM195.6 288.4h3.4v1.7h-3.4zM288.8 288.4h1.8v1.7h-1.8zM182.7 290.0h1.8v1.7h-1.8zM189.2 290.0h1.8v1.7h-1.8zM194.0 290.0h1.8v1.7h-1.8zM230.9 290.0h1.8v1.7h-1.8zM288.8 290.0h1.8v1.7h-1.8zM232.5 291.6h3.4v1.7h-3.4zM287.2 291.6h1.8v1.7h-1.8zM182.7 293.2h1.8v1.7h-1.8zM222.9 293.2h1.8v1.7h-1.8zM222.9 294.8h1.8v1.7h-1.8zM290.4 294.8h1.8v1.7h-1.8zM182.7 296.4h5.0v1.7h-5.0zM190.8 296.4h5.0v1.7h-5.0zM197.2 296.4h1.8v1.7h-1.8zM205.2 296.4h1.8v1.7h-1.8zM214.9 296.4h3.4v1.7h-3.4zM219.7 296.4h1.8v1.7h-1.8zM222.9 296.4h1.8v1.7h-1.8zM235.8 296.4h1.8v1.7h-1.8zM290.4 296.4h1.8v1.7h-1.8zM181.1 298.0h1.8v1.7h-1.8zM184.3 298.0h1.8v1.7h-1.8zM189.2 298.0h1.8v1.7h-1.8zM197.2 298.0h3.4v1.7h-3.4zM203.6 298.0h3.4v1.7h-3.4zM247.0 298.0h1.8v1.7h-1.8zM288.8 298.0h1.8v1.7h-1.8zM202.0 299.6h1.8v1.7h-1.8zM216.5 299.6h3.4v1.7h-3.4zM226.1 299.6h1.8v1.7h-1.8zM234.2 299.6h1.8v1.7h-1.8zM242.2 299.6h1.8v1.7h-1.8zM247.0 299.6h1.8v1.7h-1.8zM287.2 299.6h3.4v1.7h-3.4zM219.7 301.2h1.8v1.7h-1.8zM226.1 301.2h1.8v1.7h-1.8zM229.3 301.2h1.8v1.7h-1.8zM234.2 301.2h1.8v1.7h-1.8zM245.4 301.2h1.8v1.7h-1.8zM230.9 302.8h1.8v1.7h-1.8zM234.2 302.8h1.8v1.7h-1.8zM240.6 302.8h3.4v1.7h-3.4zM245.4 302.8h3.4v1.7h-3.4zM280.7 302.8h3.4v1.7h-3.4zM221.3 304.4h1.8v1.7h-1.8zM285.6 304.4h5.0v1.7h-5.0zM279.1 306.0h1.8v1.7h-1.8zM282.4 307.6h1.8v1.7h-1.8zM285.6 309.2h1.8v1.7h-1.8zM288.8 309.2h1.8v1.7h-1.8zM284.0 310.8h6.6v1.7h-6.6zM290.4 312.4h1.8v1.7h-1.8z"/>
<path fill="#a0a0dc" d="M255.0 184.4h1.8v1.7h-1.8zM224.5 186.0h3.4v1.7h-3.4zM253.4 186.0h1.8v1.7h-1.8zM224.5 187.6h3.4v1.7h-3.4zM253.4 187.6h1.8v1.7h-1.8zM232.5 189.2h3.4v1.7h-3.4zM255.0 189.2h3.4v1.7h-3.4zM157.0 190.8h1.8v1.7h-1.8zM229.3 190.8h1.8v1.7h-1.8zM232.5 190.8h3.4v1.7h-3.4zM250.2 190.8h3.4v1.7h-3.4zM253.4 192.4h1.8v1.7h-1.8zM256.6 192.4h1.8v1.7h-1.8zM160.2 194.0h3.4v1.7h-3.4zM279.1 194.0h1.8v1.7h-1.8zM282.4 194.0h1.8v1.7h-1.8zM288.8 194.0h1.8v1.7h-1.8zM161.8 195.6h1.8v1.7h-1.8zM264.7 195.6h1.8v1.7h-1.8zM269.5 195.6h6.6v1.7h-6.6zM264.7 197.2h1.8v1.7h-1.8zM150.6 198.8h1.8v1.7h-1.8zM155.4 198.8h1.8v1.7h-1.8zM292.0 198.8h1.8v1.7h-1.8zM155.4 205.2h1.8v1.7h-1.8zM208.4 205.2h3.4v1.7h-3.4zM216.5 205.2h1.8v1.7h-1.8zM235.8 205.2h1.8v1.7h-1.8zM157.0 206.8h1.8v1.7h-1.8zM216.5 206.8h3.4v1.7h-3.4zM224.5 206.8h1.8v1.7h-1.8zM158.6 208.4h1.8v1.7h-1.8zM208.4 208.4h1.8v1.7h-1.8zM226.1 208.4h1.8v1.7h-1.8zM232.5 208.4h3.4v1.7h-3.4zM208.4 210.0h1.8v1.7h-1.8zM218.1 210.0h1.8v1.7h-1.8zM226.1 210.0h5.0v1.7h-5.0zM210.0 211.6h1.8v1.7h-1.8zM155.4 213.2h1.8v1.7h-1.8zM184.3 213.2h1.8v1.7h-1.8zM187.6 213.2h1.8v1.7h-1.8zM211.7 213.2h3.4v1.7h-3.4zM179.5 214.8h1.8v1.7h-1.8zM190.8 214.8h1.8v1.7h-1.8zM155.4 216.4h1.8v1.7h-1.8zM158.6 216.4h1.8v1.7h-1.8zM192.4 216.4h6.6v1.7h-6.6zM200.4 216.4h1.8v1.7h-1.8zM214.9 216.4h1.8v1.7h-1.8zM263.1 216.4h1.8v1.7h-1.8zM292.0 216.4h1.8v1.7h-1.8zM152.2 218.0h1.8v1.7h-1.8zM190.8 218.0h3.4v1.7h-3.4zM195.6 218.0h1.8v1.7h-1.8zM198.8 218.0h1.8v1.7h-1.8zM203.6 218.0h1.8v1.7h-1.8zM292.0 218.0h1.8v1.7h-1.8zM153.8 219.6h1.8v1.7h-1.8zM194.0 219.6h1.8v1.7h-1.8zM197.2 219.6h1.8v1.7h-1.8zM219.7 219.6h1.8v1.7h-1.8zM226.1 219.6h1.8v1.7h-1.8zM229.3 219.6h1.8v1.7h-1.8zM176.3 221.2h1.8v1.7h-1.8zM237.4 221.2h1.8v1.7h-1.8zM152.2 222.8h3.4v1.7h-3.4zM182.7 222.8h3.4v1.7h-3.4zM187.6 222.8h1.8v1.7h-1.8zM190.8 222.8h1.8v1.7h-1.8zM195.6 222.8h1.8v1.7h-1.8zM198.8 222.8h1.8v1.7h-1.8zM230.9 222.8h3.4v1.7h-3.4zM237.4 222.8h1.8v1.7h-1.8zM240.6 222.8h1.8v1.7h-1.8zM189.2 224.4h3.4v1.7h-3.4zM194.0 224.4h6.6v1.7h-6.6zM150.6 226.0h1.8v1.7h-1.8zM181.1 226.0h1.8v1.7h-1.8zM197.2 226.0h1.8v1.7h-1.8zM200.4 226.0h1.8v1.7h-1.8zM247.0 226.0h1.8v1.7h-1.8zM274.3 226.0h3.4v1.7h-3.4zM285.6 226.0h1.8v1.7h-1.8zM202.0 227.6h1.8v1.7h-1.8zM280.7 227.6h1.8v1.7h-1.8zM287.2 227.6h1.8v1.7h-1.8zM150.6 229.2h1.8v1.7h-1.8zM181.1 229.2h5.0v1.7h-5.0zM272.7 229.2h1.8v1.7h-1.8zM277.5 229.2h1.8v1.7h-1.8zM282.4 229.2h1.8v1.7h-1.8zM184.3 230.8h1.8v1.7h-1.8zM203.6 230.8h1.8v1.7h-1.8zM208.4 230.8h1.8v1.7h-1.8zM247.0 230.8h1.8v1.7h-1.8zM277.5 230.8h3.4v1.7h-3.4zM287.2 230.8h1.8v1.7h-1.8zM182.7 232.4h1.8v1.7h-1.8zM208.4 232.4h1.8v1.7h-1.8zM219.7 232.4h1.8v1.7h-1.8zM234.2 232.4h1.8v1.7h-1.8zM237.4 232.4h1.8v1.7h-1.8zM242.2 232.4h1.8v1.7h-1.8zM284.0 232.4h3.4v1.7h-3.4zM288.8 232.4h1.8v1.7h-1.8zM181.1 234.0h1.8v1.7h-1.8zM184.3 234.0h1.8v1.7h-1.8zM187.6 234.0h1.8v1.7h-1.8zM210.0 234.0h1.8v1.7h-1.8zM213.3 234.0h1.8v1.7h-1.8zM216.5 234.0h1.8v1.7h-1.8zM227.7 234.0h1.8v1.7h-1.8zM177.9 235.6h1.8v1.7h-1.8zM192.4 235.6h1.8v1.7h-1.8zM195.6 235.6h3.4v1.7h-3.4zM240.6 235.6h1.8v1.7h-1.8zM274.3 235.6h1.8v1.7h-1.8zM187.6 237.2h5.0v1.7h-5.0zM206.8 237.2h1.8v1.7h-1.8zM218.1 237.2h1.8v1.7h-1.8zM221.3 237.2h1.8v1.7h-1.8zM182.7 238.8h1.8v1.7h-1.8zM189.2 238.8h1.8v1.7h-1.8zM200.4 238.8h1.8v1.7h-1.8zM216.5 238.8h1.8v1.7h-1.8zM224.5 238.8h1.8v1.7h-1.8zM290.4 238.8h1.8v1.7h-1.8zM202.0 240.4h1.8v1.7h-1.8zM205.2 240.4h3.4v1.7h-3.4zM213.3 240.4h5.0v1.7h-5.0zM197.2 242.0h5.0v1.7h-5.0zM219.7 242.0h1.8v1.7h-1.8zM226.1 242.0h1.8v1.7h-1.8zM232.5 242.0h3.4v1.7h-3.4zM181.1 243.6h1.8v1.7h-1.8zM222.9 243.6h1.8v1.7h-1.8zM247.0 243.6h1.8v1.7h-1.8zM243.8 245.2h5.0v1.7h-5.0zM227.7 246.8h1.8v1.7h-1.8zM242.2 246.8h1.8v1.7h-1.8zM205.2 248.4h3.4v1.7h-3.4zM218.1 248.4h1.8v1.7h-1.8zM221.3 248.4h1.8v1.7h-1.8zM226.1 248.4h1.8v1.7h-1.8zM234.2 248.4h1.8v1.7h-1.8zM237.4 248.4h1.8v1.7h-1.8zM242.2 248.4h1.8v1.7h-1.8zM152.2 250.0h3.4v1.7h-3.4zM158.6 250.0h5.0v1.7h-5.0zM205.2 250.0h1.8v1.7h-1.8zM221.3 250.0h1.8v1.7h-1.8zM226.1 250.0h1.8v1.7h-1.8zM290.4 250.0h1.8v1.7h-1.8zM157.0 251.6h1.8v1.7h-1.8zM181.1 251.6h1.8v1.7h-1.8zM200.4 251.6h1.8v1.7h-1.8zM221.3 251.6h1.8v1.7h-1.8zM226.1 251.6h1.8v1.7h-1.8zM242.2 251.6h1.8v1.7h-1.8zM284.0 251.6h3.4v1.7h-3.4zM290.4 251.6h1.8v1.7h-1.8zM214.9 253.2h1.8v1.7h-1.8zM213.3 254.8h1.8v1.7h-1.8zM210.0 256.4h1.8v1.7h-1.8zM290.4 256.4h1.8v1.7h-1.8zM292.0 262.8h1.8v1.7h-1.8zM208.4 267.6h1.8v1.7h-1.8zM218.1 267.6h3.4v1.7h-3.4zM227.7 267.6h6.6v1.7h-6.6zM222.9 269.2h1.8v1.7h-1.8zM227.7 269.2h1.8v1.7h-1.8zM230.9 269.2h1.8v1.7h-1.8zM203.6 270.8h3.4v1.7h-3.4zM219.7 270.8h1.8v1.7h-1.8zM218.1 272.4h1.8v1.7h-1.8zM219.7 274.0h1.8v1.7h-1.8zM229.3 274.0h3.4v1.7h-3.4zM211.7 275.6h3.4v1.7h-3.4zM290.4 275.6h1.8v1.7h-1.8zM290.4 277.2h1.8v1.7h-1.8zM187.6 278.8h3.4v1.7h-3.4zM285.6 278.8h1.8v1.7h-1.8zM287.2 282.0h1.8v1.7h-1.8zM208.4 283.6h1.8v1.7h-1.8zM211.7 283.6h5.0v1.7h-5.0zM224.5 283.6h1.8v1.7h-1.8zM288.8 283.6h1.8v1.7h-1.8zM210.0 285.2h1.8v1.7h-1.8zM213.3 285.2h1.8v1.7h-1.8zM290.4 285.2h1.8v1.7h-1.8zM190.8 286.8h5.0v1.7h-5.0zM232.5 286.8h1.8v1.7h-1.8zM285.6 286.8h1.8v1.7h-1.8zM184.3 288.4h3.4v1.7h-3.4zM190.8 288.4h1.8v1.7h-1.8zM230.9 288.4h1.8v1.7h-1.8zM287.2 288.4h1.8v1.7h-1.8zM192.4 290.0h1.8v1.7h-1.8zM232.5 290.0h1.8v1.7h-1.8zM285.6 290.0h1.8v1.7h-1.8zM176.3 291.6h3.4v1.7h-3.4zM235.8 291.6h1.8v1.7h-1.8zM179.5 293.2h1.8v1.7h-1.8zM227.7 293.2h3.4v1.7h-3.4zM288.8 293.2h1.8v1.7h-1.8zM179.5 294.8h1.8v1.7h-1.8zM219.7 294.8h1.8v1.7h-1.8zM226.1 294.8h1.8v1.7h-1.8zM179.5 296.4h1.8v1.7h-1.8zM206.8 296.4h3.4v1.7h-3.4zM211.7 296.4h1.8v1.7h-1.8zM226.1 296.4h1.8v1.7h-1.8zM237.4 296.4h1.8v1.7h-1.8zM288.8 296.4h1.8v1.7h-1.8zM185.9 298.0h1.8v1.7h-1.8zM190.8 298.0h6.6v1.7h-6.6zM200.4 298.0h1.8v1.7h-1.8zM210.0 298.0h1.8v1.7h-1.8zM213.3 298.0h1.8v1.7h-1.8zM219.7 298.0h1.8v1.7h-1.8zM222.9 298.0h1.8v1.7h-1.8zM235.8 298.0h1.8v1.7h-1.8zM245.4 298.0h1.8v1.7h-1.8zM181.1 299.6h1.8v1.7h-1.8zM187.6 299.6h1.8v1.7h-1.8zM198.8 299.6h3.4v1.7h-3.4zM213.3 299.6h1.8v1.7h-1.8zM219.7 299.6h1.8v1.7h-1.8zM222.9 299.6h1.8v1.7h-1.8zM239.0 299.6h3.4v1.7h-3.4zM243.8 299.6h3.4v1.7h-3.4zM284.0 299.6h3.4v1.7h-3.4zM202.0 301.2h1.8v1.7h-1.8zM218.1 301.2h1.8v1.7h-1.8zM227.7 301.2h1.8v1.7h-1.8zM230.9 301.2h3.4v1.7h-3.4zM240.6 301.2h1.8v1.7h-1.8zM243.8 301.2h1.8v1.7h-1.8zM282.4 301.2h1.8v1.7h-1.8zM219.7 302.8h1.8v1.7h-1.8zM232.5 302.8h1.8v1.7h-1.8zM239.0 302.8h1.8v1.7h-1.8zM226.1 304.4h1.8v1.7h-1.8zM229.3 304.4h1.8v1.7h-1.8zM284.0 304.4h1.8v1.7h-1.8zM239.0 306.0h6.6v1.7h-6.6zM221.3 307.6h1.8v1.7h-1.8zM226.1 307.6h3.4v1.7h-3.4zM284.0 309.2h1.8v1.7h-1.8zM287.2 309.2h1.8v1.7h-1.8zM290.4 314.0h1.8v1.7h-1.8zM292.0 315.6h1.8v1.7h-1.8z"/>
<path fill="#a9a9da" d="M224.5 184.4h1.8v1.7h-1.8zM248.6 184.4h3.4v1.7h-3.4zM248.6 186.0h1.8v1.7h-1.8zM248.6 187.6h5.0v1.7h-5.0zM229.3 189.2h1.8v1.7h-1.8zM158.6 190.8h1.8v1.7h-1.8zM227.7 190.8h1.8v1.7h-1.8zM237.4 190.8h1.8v1.7h-1.8zM242.2 190.8h1.8v1.7h-1.8zM245.4 190.8h1.8v1.7h-1.8zM158.6 192.4h3.4v1.7h-3.4zM259.9 194.0h1.8v1.7h-1.8zM285.6 194.0h3.4v1.7h-3.4zM261.5 195.6h1.8v1.7h-1.8zM288.8 195.6h1.8v1.7h-1.8zM160.2 197.2h1.8v1.7h-1.8zM263.1 197.2h1.8v1.7h-1.8zM266.3 197.2h5.0v1.7h-5.0zM290.4 197.2h1.8v1.7h-1.8zM157.0 198.8h3.4v1.7h-3.4zM210.0 198.8h1.8v1.7h-1.8zM152.2 200.4h1.8v1.7h-1.8zM155.4 203.6h1.8v1.7h-1.8zM208.4 203.6h1.8v1.7h-1.8zM216.5 203.6h1.8v1.7h-1.8zM157.0 205.2h1.8v1.7h-1.8zM218.1 205.2h1.8v1.7h-1.8zM221.3 205.2h1.8v1.7h-1.8zM224.5 205.2h1.8v1.7h-1.8zM229.3 205.2h1.8v1.7h-1.8zM242.2 205.2h1.8v1.7h-1.8zM221.3 206.8h1.8v1.7h-1.8zM234.2 206.8h1.8v1.7h-1.8zM222.9 208.4h1.8v1.7h-1.8zM237.4 208.4h1.8v1.7h-1.8zM219.7 210.0h3.4v1.7h-3.4zM230.9 210.0h3.4v1.7h-3.4zM157.0 211.6h1.8v1.7h-1.8zM157.0 213.2h3.4v1.7h-3.4zM189.2 213.2h3.4v1.7h-3.4zM205.2 213.2h1.8v1.7h-1.8zM214.9 213.2h1.8v1.7h-1.8zM224.5 213.2h1.8v1.7h-1.8zM227.7 213.2h3.4v1.7h-3.4zM261.5 213.2h3.4v1.7h-3.4zM187.6 214.8h3.4v1.7h-3.4zM192.4 214.8h1.8v1.7h-1.8zM210.0 214.8h1.8v1.7h-1.8zM157.0 216.4h1.8v1.7h-1.8zM161.8 216.4h1.8v1.7h-1.8zM176.3 216.4h1.8v1.7h-1.8zM198.8 216.4h1.8v1.7h-1.8zM206.8 216.4h1.8v1.7h-1.8zM224.5 216.4h1.8v1.7h-1.8zM153.8 218.0h1.8v1.7h-1.8zM177.9 218.0h1.8v1.7h-1.8zM200.4 218.0h3.4v1.7h-3.4zM206.8 218.0h1.8v1.7h-1.8zM213.3 218.0h3.4v1.7h-3.4zM224.5 218.0h1.8v1.7h-1.8zM177.9 219.6h1.8v1.7h-1.8zM200.4 219.6h1.8v1.7h-1.8zM222.9 219.6h1.8v1.7h-1.8zM227.7 219.6h1.8v1.7h-1.8zM230.9 219.6h1.8v1.7h-1.8zM290.4 219.6h1.8v1.7h-1.8zM150.6 221.2h1.8v1.7h-1.8zM155.4 221.2h1.8v1.7h-1.8zM158.6 221.2h1.8v1.7h-1.8zM177.9 221.2h1.8v1.7h-1.8zM232.5 221.2h3.4v1.7h-3.4zM242.2 221.2h1.8v1.7h-1.8zM279.1 221.2h1.8v1.7h-1.8zM284.0 221.2h3.4v1.7h-3.4zM288.8 221.2h1.8v1.7h-1.8zM179.5 222.8h1.8v1.7h-1.8zM189.2 222.8h1.8v1.7h-1.8zM192.4 222.8h1.8v1.7h-1.8zM197.2 222.8h1.8v1.7h-1.8zM234.2 222.8h1.8v1.7h-1.8zM277.5 222.8h5.0v1.7h-5.0zM284.0 222.8h3.4v1.7h-3.4zM290.4 222.8h1.8v1.7h-1.8zM150.6 224.4h1.8v1.7h-1.8zM179.5 224.4h1.8v1.7h-1.8zM187.6 224.4h1.8v1.7h-1.8zM247.0 224.4h1.8v1.7h-1.8zM275.9 224.4h1.8v1.7h-1.8zM155.4 226.0h1.8v1.7h-1.8zM182.7 226.0h1.8v1.7h-1.8zM185.9 226.0h1.8v1.7h-1.8zM190.8 226.0h3.4v1.7h-3.4zM195.6 226.0h1.8v1.7h-1.8zM198.8 226.0h1.8v1.7h-1.8zM272.7 226.0h1.8v1.7h-1.8zM150.6 227.6h1.8v1.7h-1.8zM155.4 227.6h1.8v1.7h-1.8zM158.6 227.6h1.8v1.7h-1.8zM184.3 227.6h1.8v1.7h-1.8zM190.8 227.6h1.8v1.7h-1.8zM198.8 227.6h1.8v1.7h-1.8zM206.8 227.6h1.8v1.7h-1.8zM272.7 227.6h5.0v1.7h-5.0zM202.0 229.2h1.8v1.7h-1.8zM206.8 229.2h1.8v1.7h-1.8zM247.0 229.2h1.8v1.7h-1.8zM274.3 229.2h3.4v1.7h-3.4zM152.2 230.8h1.8v1.7h-1.8zM205.2 230.8h3.4v1.7h-3.4zM280.7 230.8h3.4v1.7h-3.4zM152.2 232.4h1.8v1.7h-1.8zM185.9 232.4h1.8v1.7h-1.8zM203.6 232.4h1.8v1.7h-1.8zM240.6 232.4h1.8v1.7h-1.8zM243.8 232.4h1.8v1.7h-1.8zM247.0 232.4h1.8v1.7h-1.8zM274.3 232.4h1.8v1.7h-1.8zM287.2 232.4h1.8v1.7h-1.8zM182.7 234.0h1.8v1.7h-1.8zM185.9 234.0h1.8v1.7h-1.8zM205.2 234.0h1.8v1.7h-1.8zM211.7 234.0h1.8v1.7h-1.8zM218.1 234.0h1.8v1.7h-1.8zM221.3 234.0h1.8v1.7h-1.8zM229.3 234.0h1.8v1.7h-1.8zM290.4 234.0h1.8v1.7h-1.8zM150.6 235.6h1.8v1.7h-1.8zM194.0 235.6h1.8v1.7h-1.8zM226.1 235.6h1.8v1.7h-1.8zM237.4 235.6h3.4v1.7h-3.4zM243.8 235.6h1.8v1.7h-1.8zM250.2 235.6h1.8v1.7h-1.8zM253.4 235.6h1.8v1.7h-1.8zM259.9 235.6h1.8v1.7h-1.8zM279.1 235.6h1.8v1.7h-1.8zM282.4 235.6h1.8v1.7h-1.8zM192.4 237.2h1.8v1.7h-1.8zM195.6 237.2h1.8v1.7h-1.8zM200.4 237.2h1.8v1.7h-1.8zM219.7 237.2h1.8v1.7h-1.8zM226.1 237.2h5.0v1.7h-5.0zM232.5 237.2h1.8v1.7h-1.8zM235.8 237.2h1.8v1.7h-1.8zM185.9 238.8h3.4v1.7h-3.4zM190.8 238.8h1.8v1.7h-1.8zM218.1 238.8h1.8v1.7h-1.8zM221.3 238.8h1.8v1.7h-1.8zM229.3 238.8h1.8v1.7h-1.8zM247.0 238.8h1.8v1.7h-1.8zM221.3 240.4h1.8v1.7h-1.8zM181.1 242.0h1.8v1.7h-1.8zM230.9 242.0h1.8v1.7h-1.8zM239.0 242.0h3.4v1.7h-3.4zM245.4 242.0h3.4v1.7h-3.4zM290.4 242.0h1.8v1.7h-1.8zM179.5 243.6h1.8v1.7h-1.8zM182.7 243.6h1.8v1.7h-1.8zM190.8 243.6h3.4v1.7h-3.4zM195.6 243.6h3.4v1.7h-3.4zM243.8 243.6h1.8v1.7h-1.8zM195.6 245.2h3.4v1.7h-3.4zM288.8 245.2h1.8v1.7h-1.8zM200.4 246.8h1.8v1.7h-1.8zM219.7 246.8h1.8v1.7h-1.8zM222.9 246.8h1.8v1.7h-1.8zM239.0 246.8h1.8v1.7h-1.8zM290.4 246.8h1.8v1.7h-1.8zM158.6 248.4h1.8v1.7h-1.8zM200.4 248.4h3.4v1.7h-3.4zM239.0 248.4h1.8v1.7h-1.8zM155.4 250.0h1.8v1.7h-1.8zM163.5 250.0h1.8v1.7h-1.8zM219.7 250.0h1.8v1.7h-1.8zM239.0 250.0h3.4v1.7h-3.4zM287.2 250.0h3.4v1.7h-3.4zM155.4 251.6h1.8v1.7h-1.8zM161.8 251.6h5.0v1.7h-5.0zM168.3 251.6h1.8v1.7h-1.8zM182.7 251.6h3.4v1.7h-3.4zM219.7 251.6h1.8v1.7h-1.8zM239.0 251.6h3.4v1.7h-3.4zM287.2 251.6h1.8v1.7h-1.8zM208.4 253.2h1.8v1.7h-1.8zM216.5 253.2h1.8v1.7h-1.8zM230.9 253.2h1.8v1.7h-1.8zM235.8 253.2h1.8v1.7h-1.8zM211.7 254.8h1.8v1.7h-1.8zM181.1 256.4h1.8v1.7h-1.8zM208.4 256.4h1.8v1.7h-1.8zM211.7 256.4h3.4v1.7h-3.4zM229.3 256.4h3.4v1.7h-3.4zM290.4 258.0h1.8v1.7h-1.8zM292.0 264.4h1.8v1.7h-1.8zM222.9 267.6h1.8v1.7h-1.8zM235.8 267.6h1.8v1.7h-1.8zM290.4 267.6h1.8v1.7h-1.8zM206.8 269.2h1.8v1.7h-1.8zM219.7 269.2h1.8v1.7h-1.8zM229.3 269.2h1.8v1.7h-1.8zM232.5 269.2h1.8v1.7h-1.8zM235.8 269.2h1.8v1.7h-1.8zM218.1 270.8h1.8v1.7h-1.8zM222.9 270.8h1.8v1.7h-1.8zM229.3 270.8h1.8v1.7h-1.8zM203.6 272.4h5.0v1.7h-5.0zM219.7 272.4h1.8v1.7h-1.8zM226.1 272.4h1.8v1.7h-1.8zM222.9 274.0h1.8v1.7h-1.8zM232.5 274.0h1.8v1.7h-1.8zM288.8 274.0h1.8v1.7h-1.8zM208.4 275.6h1.8v1.7h-1.8zM184.3 278.8h1.8v1.7h-1.8zM190.8 278.8h1.8v1.7h-1.8zM216.5 278.8h1.8v1.7h-1.8zM284.0 278.8h1.8v1.7h-1.8zM208.4 280.4h8.2v1.7h-8.2zM285.6 280.4h1.8v1.7h-1.8zM288.8 280.4h1.8v1.7h-1.8zM210.0 282.0h1.8v1.7h-1.8zM213.3 282.0h3.4v1.7h-3.4zM210.0 283.6h1.8v1.7h-1.8zM218.1 283.6h3.4v1.7h-3.4zM226.1 283.6h1.8v1.7h-1.8zM287.2 283.6h1.8v1.7h-1.8zM202.0 285.2h3.4v1.7h-3.4zM208.4 285.2h1.8v1.7h-1.8zM211.7 285.2h1.8v1.7h-1.8zM214.9 285.2h1.8v1.7h-1.8zM219.7 285.2h1.8v1.7h-1.8zM222.9 285.2h1.8v1.7h-1.8zM226.1 285.2h1.8v1.7h-1.8zM288.8 285.2h1.8v1.7h-1.8zM182.7 286.8h3.4v1.7h-3.4zM189.2 286.8h1.8v1.7h-1.8zM230.9 286.8h1.8v1.7h-1.8zM234.2 286.8h5.0v1.7h-5.0zM284.0 286.8h1.8v1.7h-1.8zM181.1 288.4h3.4v1.7h-3.4zM187.6 288.4h3.4v1.7h-3.4zM192.4 288.4h3.4v1.7h-3.4zM232.5 288.4h1.8v1.7h-1.8zM285.6 288.4h1.8v1.7h-1.8zM179.5 290.0h1.8v1.7h-1.8zM234.2 290.0h3.4v1.7h-3.4zM284.0 290.0h1.8v1.7h-1.8zM287.2 290.0h1.8v1.7h-1.8zM284.0 291.6h3.4v1.7h-3.4zM177.9 293.2h1.8v1.7h-1.8zM230.9 293.2h1.8v1.7h-1.8zM235.8 293.2h1.8v1.7h-1.8zM229.3 294.8h1.8v1.7h-1.8zM235.8 294.8h3.4v1.7h-3.4zM288.8 294.8h1.8v1.7h-1.8zM239.0 296.4h1.8v1.7h-1.8zM245.4 296.4h3.4v1.7h-3.4zM255.0 296.4h1.8v1.7h-1.8zM284.0 296.4h1.8v1.7h-1.8zM182.7 298.0h1.8v1.7h-1.8zM206.8 298.0h3.4v1.7h-3.4zM211.7 298.0h1.8v1.7h-1.8zM226.1 298.0h1.8v1.7h-1.8zM285.6 298.0h3.4v1.7h-3.4zM179.5 299.6h1.8v1.7h-1.8zM184.3 299.6h3.4v1.7h-3.4zM192.4 299.6h1.8v1.7h-1.8zM195.6 299.6h3.4v1.7h-3.4zM205.2 299.6h1.8v1.7h-1.8zM208.4 299.6h3.4v1.7h-3.4zM214.9 299.6h1.8v1.7h-1.8zM229.3 299.6h1.8v1.7h-1.8zM248.6 299.6h8.2v1.7h-8.2zM216.5 301.2h1.8v1.7h-1.8zM248.6 301.2h3.4v1.7h-3.4zM253.4 301.2h1.8v1.7h-1.8zM218.1 302.8h1.8v1.7h-1.8zM243.8 302.8h1.8v1.7h-1.8zM227.7 304.4h1.8v1.7h-1.8zM230.9 304.4h5.0v1.7h-5.0zM237.4 304.4h1.8v1.7h-1.8zM280.7 304.4h3.4v1.7h-3.4zM218.1 306.0h1.8v1.7h-1.8zM222.9 307.6h1.8v1.7h-1.8zM229.3 307.6h3.4v1.7h-3.4zM280.7 307.6h1.8v1.7h-1.8zM288.8 312.4h1.8v1.7h-1.8z"/>
<path fill="#b2b2d9" d="M251.8 184.4h1.8v1.7h-1.8zM251.8 186.0h1.8v1.7h-1.8zM230.9 189.2h1.8v1.7h-1.8zM237.4 189.2h1.8v1.7h-1.8zM242.2 189.2h1.8v1.7h-1.8zM253.4 189.2h1.8v1.7h-1.8zM160.2 190.8h1.8v1.7h-1.8zM239.0 190.8h1.8v1.7h-1.8zM243.8 190.8h1.8v1.7h-1.8zM248.6 190.8h1.8v1.7h-1.8zM161.8 192.4h5.0v1.7h-5.0zM247.0 192.4h1.8v1.7h-1.8zM163.5 194.0h3.4v1.7h-3.4zM253.4 194.0h6.6v1.7h-6.6zM163.5 195.6h3.4v1.7h-3.4zM258.3 195.6h3.4v1.7h-3.4zM280.7 195.6h6.6v1.7h-6.6zM161.8 197.2h3.4v1.7h-3.4zM210.0 197.2h1.8v1.7h-1.8zM261.5 197.2h1.8v1.7h-1.8zM271.1 197.2h1.8v1.7h-1.8zM160.2 198.8h1.8v1.7h-1.8zM208.4 198.8h1.8v1.7h-1.8zM211.7 198.8h3.4v1.7h-3.4zM153.8 200.4h1.8v1.7h-1.8zM211.7 200.4h1.8v1.7h-1.8zM158.6 205.2h1.8v1.7h-1.8zM219.7 205.2h1.8v1.7h-1.8zM239.0 205.2h1.8v1.7h-1.8zM243.8 205.2h1.8v1.7h-1.8zM158.6 206.8h1.8v1.7h-1.8zM208.4 206.8h1.8v1.7h-1.8zM219.7 206.8h1.8v1.7h-1.8zM226.1 206.8h1.8v1.7h-1.8zM235.8 206.8h1.8v1.7h-1.8zM160.2 208.4h1.8v1.7h-1.8zM234.2 210.0h3.4v1.7h-3.4zM208.4 211.6h1.8v1.7h-1.8zM211.7 211.6h6.6v1.7h-6.6zM224.5 211.6h1.8v1.7h-1.8zM229.3 211.6h1.8v1.7h-1.8zM160.2 213.2h1.8v1.7h-1.8zM202.0 213.2h1.8v1.7h-1.8zM206.8 213.2h1.8v1.7h-1.8zM216.5 213.2h1.8v1.7h-1.8zM226.1 213.2h1.8v1.7h-1.8zM230.9 213.2h1.8v1.7h-1.8zM253.4 213.2h1.8v1.7h-1.8zM264.7 213.2h1.8v1.7h-1.8zM292.0 213.2h1.8v1.7h-1.8zM150.6 214.8h1.8v1.7h-1.8zM155.4 214.8h1.8v1.7h-1.8zM194.0 214.8h5.0v1.7h-5.0zM203.6 214.8h3.4v1.7h-3.4zM208.4 214.8h1.8v1.7h-1.8zM213.3 214.8h1.8v1.7h-1.8zM224.5 214.8h1.8v1.7h-1.8zM229.3 214.8h1.8v1.7h-1.8zM255.0 214.8h3.4v1.7h-3.4zM263.1 214.8h1.8v1.7h-1.8zM292.0 214.8h1.8v1.7h-1.8zM150.6 216.4h1.8v1.7h-1.8zM160.2 216.4h1.8v1.7h-1.8zM165.1 216.4h1.8v1.7h-1.8zM216.5 216.4h1.8v1.7h-1.8zM221.3 216.4h1.8v1.7h-1.8zM227.7 216.4h5.0v1.7h-5.0zM253.4 216.4h3.4v1.7h-3.4zM258.3 216.4h1.8v1.7h-1.8zM261.5 216.4h1.8v1.7h-1.8zM264.7 216.4h1.8v1.7h-1.8zM150.6 218.0h1.8v1.7h-1.8zM176.3 218.0h1.8v1.7h-1.8zM194.0 218.0h1.8v1.7h-1.8zM197.2 218.0h1.8v1.7h-1.8zM216.5 218.0h3.4v1.7h-3.4zM221.3 218.0h1.8v1.7h-1.8zM227.7 218.0h3.4v1.7h-3.4zM253.4 218.0h1.8v1.7h-1.8zM155.4 219.6h1.8v1.7h-1.8zM158.6 219.6h1.8v1.7h-1.8zM176.3 219.6h1.8v1.7h-1.8zM232.5 219.6h1.8v1.7h-1.8zM235.8 219.6h1.8v1.7h-1.8zM157.0 221.2h1.8v1.7h-1.8zM160.2 221.2h3.4v1.7h-3.4zM165.1 221.2h1.8v1.7h-1.8zM239.0 221.2h3.4v1.7h-3.4zM243.8 221.2h5.0v1.7h-5.0zM274.3 221.2h1.8v1.7h-1.8zM280.7 221.2h1.8v1.7h-1.8zM287.2 221.2h1.8v1.7h-1.8zM158.6 222.8h1.8v1.7h-1.8zM176.3 222.8h1.8v1.7h-1.8zM194.0 222.8h1.8v1.7h-1.8zM239.0 222.8h1.8v1.7h-1.8zM243.8 222.8h3.4v1.7h-3.4zM274.3 222.8h1.8v1.7h-1.8zM282.4 222.8h1.8v1.7h-1.8zM287.2 222.8h3.4v1.7h-3.4zM155.4 224.4h6.6v1.7h-6.6zM192.4 224.4h1.8v1.7h-1.8zM272.7 224.4h3.4v1.7h-3.4zM157.0 226.0h1.8v1.7h-1.8zM187.6 226.0h3.4v1.7h-3.4zM157.0 227.6h1.8v1.7h-1.8zM179.5 227.6h5.0v1.7h-5.0zM187.6 227.6h1.8v1.7h-1.8zM192.4 227.6h3.4v1.7h-3.4zM197.2 227.6h1.8v1.7h-1.8zM200.4 227.6h1.8v1.7h-1.8zM269.5 227.6h1.8v1.7h-1.8zM155.4 229.2h1.8v1.7h-1.8zM185.9 229.2h11.4v1.7h-11.4zM200.4 229.2h1.8v1.7h-1.8zM263.1 229.2h1.8v1.7h-1.8zM266.3 229.2h5.0v1.7h-5.0zM153.8 230.8h1.8v1.7h-1.8zM179.5 230.8h1.8v1.7h-1.8zM182.7 230.8h1.8v1.7h-1.8zM190.8 230.8h1.8v1.7h-1.8zM202.0 230.8h1.8v1.7h-1.8zM263.1 230.8h1.8v1.7h-1.8zM269.5 230.8h1.8v1.7h-1.8zM274.3 230.8h3.4v1.7h-3.4zM179.5 232.4h1.8v1.7h-1.8zM187.6 232.4h5.0v1.7h-5.0zM200.4 232.4h1.8v1.7h-1.8zM205.2 232.4h1.8v1.7h-1.8zM239.0 232.4h1.8v1.7h-1.8zM245.4 232.4h1.8v1.7h-1.8zM277.5 232.4h5.0v1.7h-5.0zM189.2 234.0h1.8v1.7h-1.8zM203.6 234.0h1.8v1.7h-1.8zM208.4 234.0h1.8v1.7h-1.8zM222.9 234.0h1.8v1.7h-1.8zM226.1 234.0h1.8v1.7h-1.8zM230.9 234.0h3.4v1.7h-3.4zM247.0 234.0h1.8v1.7h-1.8zM288.8 234.0h1.8v1.7h-1.8zM152.2 235.6h3.4v1.7h-3.4zM248.6 235.6h1.8v1.7h-1.8zM251.8 235.6h1.8v1.7h-1.8zM255.0 235.6h1.8v1.7h-1.8zM258.3 235.6h1.8v1.7h-1.8zM261.5 235.6h6.6v1.7h-6.6zM269.5 235.6h1.8v1.7h-1.8zM277.5 235.6h1.8v1.7h-1.8zM280.7 235.6h1.8v1.7h-1.8zM176.3 237.2h3.4v1.7h-3.4zM194.0 237.2h1.8v1.7h-1.8zM222.9 237.2h1.8v1.7h-1.8zM230.9 237.2h1.8v1.7h-1.8zM237.4 237.2h1.8v1.7h-1.8zM242.2 237.2h1.8v1.7h-1.8zM245.4 237.2h3.4v1.7h-3.4zM253.4 237.2h1.8v1.7h-1.8zM284.0 237.2h1.8v1.7h-1.8zM288.8 237.2h1.8v1.7h-1.8zM179.5 238.8h1.8v1.7h-1.8zM192.4 238.8h1.8v1.7h-1.8zM197.2 238.8h3.4v1.7h-3.4zM219.7 238.8h1.8v1.7h-1.8zM226.1 238.8h1.8v1.7h-1.8zM232.5 238.8h1.8v1.7h-1.8zM235.8 238.8h11.4v1.7h-11.4zM285.6 238.8h1.8v1.7h-1.8zM288.8 238.8h1.8v1.7h-1.8zM181.1 240.4h1.8v1.7h-1.8zM200.4 240.4h1.8v1.7h-1.8zM218.1 240.4h1.8v1.7h-1.8zM224.5 240.4h1.8v1.7h-1.8zM229.3 240.4h1.8v1.7h-1.8zM235.8 240.4h1.8v1.7h-1.8zM195.6 242.0h1.8v1.7h-1.8zM222.9 242.0h1.8v1.7h-1.8zM243.8 242.0h1.8v1.7h-1.8zM152.2 243.6h1.8v1.7h-1.8zM184.3 243.6h1.8v1.7h-1.8zM194.0 243.6h1.8v1.7h-1.8zM287.2 243.6h3.4v1.7h-3.4zM152.2 245.2h1.8v1.7h-1.8zM181.1 245.2h1.8v1.7h-1.8zM184.3 245.2h1.8v1.7h-1.8zM287.2 245.2h1.8v1.7h-1.8zM152.2 246.8h3.4v1.7h-3.4zM161.8 246.8h1.8v1.7h-1.8zM198.8 246.8h1.8v1.7h-1.8zM240.6 246.8h1.8v1.7h-1.8zM243.8 246.8h3.4v1.7h-3.4zM152.2 248.4h3.4v1.7h-3.4zM157.0 248.4h1.8v1.7h-1.8zM160.2 248.4h1.8v1.7h-1.8zM181.1 248.4h1.8v1.7h-1.8zM184.3 248.4h1.8v1.7h-1.8zM195.6 248.4h1.8v1.7h-1.8zM198.8 248.4h1.8v1.7h-1.8zM219.7 248.4h1.8v1.7h-1.8zM240.6 248.4h1.8v1.7h-1.8zM243.8 248.4h3.4v1.7h-3.4zM288.8 248.4h3.4v1.7h-3.4zM150.6 250.0h1.8v1.7h-1.8zM157.0 250.0h1.8v1.7h-1.8zM165.1 250.0h1.8v1.7h-1.8zM168.3 250.0h1.8v1.7h-1.8zM181.1 250.0h1.8v1.7h-1.8zM200.4 250.0h1.8v1.7h-1.8zM222.9 250.0h1.8v1.7h-1.8zM242.2 250.0h1.8v1.7h-1.8zM285.6 250.0h1.8v1.7h-1.8zM150.6 251.6h1.8v1.7h-1.8zM166.7 251.6h1.8v1.7h-1.8zM179.5 251.6h1.8v1.7h-1.8zM190.8 251.6h1.8v1.7h-1.8zM194.0 251.6h1.8v1.7h-1.8zM197.2 251.6h3.4v1.7h-3.4zM222.9 251.6h1.8v1.7h-1.8zM245.4 251.6h1.8v1.7h-1.8zM152.2 253.2h1.8v1.7h-1.8zM211.7 253.2h1.8v1.7h-1.8zM229.3 253.2h1.8v1.7h-1.8zM232.5 253.2h3.4v1.7h-3.4zM290.4 253.2h1.8v1.7h-1.8zM208.4 254.8h3.4v1.7h-3.4zM229.3 254.8h1.8v1.7h-1.8zM235.8 254.8h1.8v1.7h-1.8zM290.4 254.8h1.8v1.7h-1.8zM214.9 256.4h3.4v1.7h-3.4zM232.5 256.4h1.8v1.7h-1.8zM288.8 256.4h1.8v1.7h-1.8zM288.8 258.0h1.8v1.7h-1.8zM290.4 261.2h1.8v1.7h-1.8zM214.9 266.0h1.8v1.7h-1.8zM234.2 267.6h1.8v1.7h-1.8zM288.8 267.6h1.8v1.7h-1.8zM203.6 269.2h3.4v1.7h-3.4zM206.8 270.8h1.8v1.7h-1.8zM230.9 270.8h3.4v1.7h-3.4zM235.8 270.8h1.8v1.7h-1.8zM222.9 272.4h1.8v1.7h-1.8zM227.7 272.4h3.4v1.7h-3.4zM290.4 272.4h1.8v1.7h-1.8zM202.0 274.0h1.8v1.7h-1.8zM235.8 274.0h1.8v1.7h-1.8zM216.5 275.6h1.8v1.7h-1.8zM227.7 275.6h1.8v1.7h-1.8zM288.8 275.6h1.8v1.7h-1.8zM210.0 277.2h5.0v1.7h-5.0zM181.1 278.8h1.8v1.7h-1.8zM185.9 278.8h1.8v1.7h-1.8zM192.4 278.8h1.8v1.7h-1.8zM206.8 278.8h1.8v1.7h-1.8zM218.1 278.8h1.8v1.7h-1.8zM229.3 278.8h3.4v1.7h-3.4zM287.2 280.4h1.8v1.7h-1.8zM208.4 282.0h1.8v1.7h-1.8zM211.7 282.0h1.8v1.7h-1.8zM216.5 282.0h6.6v1.7h-6.6zM224.5 282.0h1.8v1.7h-1.8zM285.6 282.0h1.8v1.7h-1.8zM222.9 283.6h1.8v1.7h-1.8zM227.7 283.6h1.8v1.7h-1.8zM285.6 283.6h1.8v1.7h-1.8zM197.2 285.2h1.8v1.7h-1.8zM205.2 285.2h3.4v1.7h-3.4zM227.7 285.2h3.4v1.7h-3.4zM285.6 285.2h3.4v1.7h-3.4zM181.1 286.8h1.8v1.7h-1.8zM187.6 286.8h1.8v1.7h-1.8zM245.4 286.8h3.4v1.7h-3.4zM280.7 286.8h1.8v1.7h-1.8zM234.2 288.4h3.4v1.7h-3.4zM284.0 288.4h1.8v1.7h-1.8zM237.4 291.6h1.8v1.7h-1.8zM240.6 291.6h1.8v1.7h-1.8zM232.5 293.2h1.8v1.7h-1.8zM285.6 293.2h3.4v1.7h-3.4zM227.7 294.8h1.8v1.7h-1.8zM285.6 294.8h3.4v1.7h-3.4zM176.3 296.4h3.4v1.7h-3.4zM227.7 296.4h3.4v1.7h-3.4zM232.5 296.4h3.4v1.7h-3.4zM242.2 296.4h1.8v1.7h-1.8zM250.2 296.4h1.8v1.7h-1.8zM253.4 296.4h1.8v1.7h-1.8zM285.6 296.4h1.8v1.7h-1.8zM240.6 298.0h3.4v1.7h-3.4zM248.6 298.0h3.4v1.7h-3.4zM253.4 298.0h3.4v1.7h-3.4zM284.0 298.0h1.8v1.7h-1.8zM176.3 299.6h3.4v1.7h-3.4zM182.7 299.6h1.8v1.7h-1.8zM189.2 299.6h3.4v1.7h-3.4zM227.7 299.6h1.8v1.7h-1.8zM232.5 299.6h1.8v1.7h-1.8zM256.6 299.6h1.8v1.7h-1.8zM282.4 299.6h1.8v1.7h-1.8zM181.1 301.2h1.8v1.7h-1.8zM200.4 301.2h1.8v1.7h-1.8zM203.6 301.2h1.8v1.7h-1.8zM214.9 301.2h1.8v1.7h-1.8zM251.8 301.2h1.8v1.7h-1.8zM279.1 301.2h3.4v1.7h-3.4zM176.3 302.8h1.8v1.7h-1.8zM181.1 302.8h1.8v1.7h-1.8zM279.1 302.8h1.8v1.7h-1.8zM219.7 304.4h1.8v1.7h-1.8zM222.9 304.4h1.8v1.7h-1.8zM239.0 304.4h1.8v1.7h-1.8zM176.3 306.0h1.8v1.7h-1.8zM245.4 306.0h1.8v1.7h-1.8zM277.5 306.0h1.8v1.7h-1.8zM232.5 307.6h1.8v1.7h-1.8zM279.1 307.6h1.8v1.7h-1.8zM282.4 310.8h1.8v1.7h-1.8zM285.6 312.4h3.4v1.7h-3.4zM288.8 314.0h1.8v1.7h-1.8z"/>
<path fill="#bbbbd7" d="M150.6 187.6h5.0v1.7h-5.0zM222.9 187.6h1.8v1.7h-1.8zM152.2 189.2h1.8v1.7h-1.8zM227.7 189.2h1.8v1.7h-1.8zM239.0 189.2h1.8v1.7h-1.8zM243.8 189.2h5.0v1.7h-5.0zM250.2 189.2h1.8v1.7h-1.8zM161.8 190.8h1.8v1.7h-1.8zM165.1 190.8h1.8v1.7h-1.8zM168.3 190.8h1.8v1.7h-1.8zM226.1 190.8h1.8v1.7h-1.8zM168.3 192.4h1.8v1.7h-1.8zM229.3 192.4h5.0v1.7h-5.0zM235.8 192.4h1.8v1.7h-1.8zM245.4 192.4h1.8v1.7h-1.8zM250.2 192.4h3.4v1.7h-3.4zM168.3 194.0h1.8v1.7h-1.8zM166.7 195.6h3.4v1.7h-3.4zM251.8 195.6h3.4v1.7h-3.4zM256.6 195.6h1.8v1.7h-1.8zM275.9 195.6h5.0v1.7h-5.0zM287.2 195.6h1.8v1.7h-1.8zM208.4 197.2h1.8v1.7h-1.8zM211.7 197.2h1.8v1.7h-1.8zM259.9 197.2h1.8v1.7h-1.8zM272.7 197.2h3.4v1.7h-3.4zM288.8 197.2h1.8v1.7h-1.8zM263.1 198.8h1.8v1.7h-1.8zM266.3 198.8h1.8v1.7h-1.8zM155.4 200.4h1.8v1.7h-1.8zM210.0 200.4h1.8v1.7h-1.8zM213.3 200.4h1.8v1.7h-1.8zM152.2 202.0h3.4v1.7h-3.4zM210.0 202.0h1.8v1.7h-1.8zM213.3 202.0h1.8v1.7h-1.8zM157.0 203.6h3.4v1.7h-3.4zM218.1 203.6h1.8v1.7h-1.8zM235.8 203.6h1.8v1.7h-1.8zM160.2 205.2h1.8v1.7h-1.8zM206.8 205.2h1.8v1.7h-1.8zM222.9 205.2h1.8v1.7h-1.8zM226.1 205.2h3.4v1.7h-3.4zM230.9 205.2h5.0v1.7h-5.0zM240.6 205.2h1.8v1.7h-1.8zM222.9 206.8h1.8v1.7h-1.8zM227.7 206.8h6.6v1.7h-6.6zM242.2 206.8h1.8v1.7h-1.8zM205.2 208.4h3.4v1.7h-3.4zM239.0 208.4h5.0v1.7h-5.0zM160.2 210.0h1.8v1.7h-1.8zM222.9 210.0h1.8v1.7h-1.8zM158.6 211.6h1.8v1.7h-1.8zM218.1 211.6h1.8v1.7h-1.8zM221.3 211.6h1.8v1.7h-1.8zM226.1 211.6h1.8v1.7h-1.8zM230.9 211.6h3.4v1.7h-3.4zM161.8 213.2h1.8v1.7h-1.8zM179.5 213.2h1.8v1.7h-1.8zM192.4 213.2h5.0v1.7h-5.0zM203.6 213.2h1.8v1.7h-1.8zM218.1 213.2h1.8v1.7h-1.8zM221.3 213.2h1.8v1.7h-1.8zM232.5 213.2h1.8v1.7h-1.8zM255.0 213.2h1.8v1.7h-1.8zM259.9 213.2h1.8v1.7h-1.8zM160.2 214.8h1.8v1.7h-1.8zM176.3 214.8h3.4v1.7h-3.4zM198.8 214.8h1.8v1.7h-1.8zM202.0 214.8h1.8v1.7h-1.8zM211.7 214.8h1.8v1.7h-1.8zM214.9 214.8h1.8v1.7h-1.8zM226.1 214.8h3.4v1.7h-3.4zM251.8 214.8h3.4v1.7h-3.4zM259.9 214.8h3.4v1.7h-3.4zM163.5 216.4h1.8v1.7h-1.8zM166.7 216.4h3.4v1.7h-3.4zM218.1 216.4h3.4v1.7h-3.4zM226.1 216.4h1.8v1.7h-1.8zM232.5 216.4h1.8v1.7h-1.8zM259.9 216.4h1.8v1.7h-1.8zM290.4 216.4h1.8v1.7h-1.8zM155.4 218.0h6.6v1.7h-6.6zM219.7 218.0h1.8v1.7h-1.8zM222.9 218.0h1.8v1.7h-1.8zM226.1 218.0h1.8v1.7h-1.8zM230.9 218.0h1.8v1.7h-1.8zM263.1 218.0h1.8v1.7h-1.8zM290.4 218.0h1.8v1.7h-1.8zM157.0 219.6h1.8v1.7h-1.8zM161.8 219.6h3.4v1.7h-3.4zM288.8 219.6h1.8v1.7h-1.8zM168.3 221.2h1.8v1.7h-1.8zM272.7 221.2h1.8v1.7h-1.8zM275.9 221.2h3.4v1.7h-3.4zM282.4 221.2h1.8v1.7h-1.8zM150.6 222.8h1.8v1.7h-1.8zM155.4 222.8h1.8v1.7h-1.8zM160.2 222.8h3.4v1.7h-3.4zM177.9 222.8h1.8v1.7h-1.8zM247.0 222.8h1.8v1.7h-1.8zM272.7 222.8h1.8v1.7h-1.8zM275.9 222.8h1.8v1.7h-1.8zM161.8 224.4h1.8v1.7h-1.8zM158.6 226.0h1.8v1.7h-1.8zM161.8 226.0h1.8v1.7h-1.8zM179.5 226.0h1.8v1.7h-1.8zM194.0 226.0h1.8v1.7h-1.8zM160.2 227.6h6.6v1.7h-6.6zM176.3 227.6h1.8v1.7h-1.8zM185.9 227.6h1.8v1.7h-1.8zM189.2 227.6h1.8v1.7h-1.8zM195.6 227.6h1.8v1.7h-1.8zM263.1 227.6h1.8v1.7h-1.8zM267.9 227.6h1.8v1.7h-1.8zM271.1 227.6h1.8v1.7h-1.8zM157.0 229.2h5.0v1.7h-5.0zM177.9 229.2h3.4v1.7h-3.4zM197.2 229.2h3.4v1.7h-3.4zM261.5 229.2h1.8v1.7h-1.8zM264.7 229.2h1.8v1.7h-1.8zM271.1 229.2h1.8v1.7h-1.8zM150.6 230.8h1.8v1.7h-1.8zM185.9 230.8h1.8v1.7h-1.8zM189.2 230.8h1.8v1.7h-1.8zM198.8 230.8h3.4v1.7h-3.4zM261.5 230.8h1.8v1.7h-1.8zM266.3 230.8h3.4v1.7h-3.4zM271.1 230.8h3.4v1.7h-3.4zM176.3 232.4h1.8v1.7h-1.8zM202.0 232.4h1.8v1.7h-1.8zM206.8 232.4h1.8v1.7h-1.8zM269.5 232.4h1.8v1.7h-1.8zM272.7 232.4h1.8v1.7h-1.8zM282.4 232.4h1.8v1.7h-1.8zM179.5 234.0h1.8v1.7h-1.8zM202.0 234.0h1.8v1.7h-1.8zM206.8 234.0h1.8v1.7h-1.8zM219.7 234.0h1.8v1.7h-1.8zM235.8 234.0h1.8v1.7h-1.8zM245.4 234.0h1.8v1.7h-1.8zM284.0 234.0h3.4v1.7h-3.4zM155.4 235.6h1.8v1.7h-1.8zM256.6 235.6h1.8v1.7h-1.8zM267.9 235.6h1.8v1.7h-1.8zM272.7 235.6h1.8v1.7h-1.8zM275.9 235.6h1.8v1.7h-1.8zM197.2 237.2h1.8v1.7h-1.8zM234.2 237.2h1.8v1.7h-1.8zM240.6 237.2h1.8v1.7h-1.8zM243.8 237.2h1.8v1.7h-1.8zM287.2 237.2h1.8v1.7h-1.8zM177.9 238.8h1.8v1.7h-1.8zM194.0 238.8h3.4v1.7h-3.4zM222.9 238.8h1.8v1.7h-1.8zM227.7 238.8h1.8v1.7h-1.8zM230.9 238.8h1.8v1.7h-1.8zM234.2 238.8h1.8v1.7h-1.8zM287.2 238.8h1.8v1.7h-1.8zM182.7 240.4h1.8v1.7h-1.8zM219.7 240.4h1.8v1.7h-1.8zM222.9 240.4h1.8v1.7h-1.8zM226.1 240.4h3.4v1.7h-3.4zM230.9 240.4h1.8v1.7h-1.8zM237.4 240.4h1.8v1.7h-1.8zM240.6 240.4h5.0v1.7h-5.0zM182.7 242.0h9.8v1.7h-9.8zM194.0 242.0h1.8v1.7h-1.8zM288.8 242.0h1.8v1.7h-1.8zM153.8 243.6h1.8v1.7h-1.8zM189.2 243.6h1.8v1.7h-1.8zM285.6 243.6h1.8v1.7h-1.8zM150.6 245.2h1.8v1.7h-1.8zM153.8 245.2h1.8v1.7h-1.8zM182.7 245.2h1.8v1.7h-1.8zM190.8 245.2h1.8v1.7h-1.8zM285.6 245.2h1.8v1.7h-1.8zM160.2 246.8h1.8v1.7h-1.8zM197.2 246.8h1.8v1.7h-1.8zM247.0 246.8h1.8v1.7h-1.8zM288.8 246.8h1.8v1.7h-1.8zM155.4 248.4h1.8v1.7h-1.8zM161.8 248.4h5.0v1.7h-5.0zM168.3 248.4h1.8v1.7h-1.8zM179.5 248.4h1.8v1.7h-1.8zM182.7 248.4h1.8v1.7h-1.8zM197.2 248.4h1.8v1.7h-1.8zM222.9 248.4h1.8v1.7h-1.8zM247.0 248.4h1.8v1.7h-1.8zM285.6 248.4h3.4v1.7h-3.4zM179.5 250.0h1.8v1.7h-1.8zM182.7 250.0h3.4v1.7h-3.4zM197.2 250.0h3.4v1.7h-3.4zM243.8 250.0h3.4v1.7h-3.4zM284.0 250.0h1.8v1.7h-1.8zM176.3 251.6h3.4v1.7h-3.4zM195.6 251.6h1.8v1.7h-1.8zM243.8 251.6h1.8v1.7h-1.8zM247.0 251.6h1.8v1.7h-1.8zM205.2 253.2h1.8v1.7h-1.8zM218.1 253.2h1.8v1.7h-1.8zM227.7 253.2h1.8v1.7h-1.8zM214.9 254.8h1.8v1.7h-1.8zM230.9 254.8h3.4v1.7h-3.4zM152.2 256.4h1.8v1.7h-1.8zM179.5 256.4h1.8v1.7h-1.8zM182.7 256.4h1.8v1.7h-1.8zM227.7 256.4h1.8v1.7h-1.8zM234.2 256.4h3.4v1.7h-3.4zM285.6 256.4h3.4v1.7h-3.4zM210.0 258.0h1.8v1.7h-1.8zM290.4 259.6h1.8v1.7h-1.8zM288.8 261.2h1.8v1.7h-1.8zM224.5 266.0h6.6v1.7h-6.6zM245.4 267.6h1.8v1.7h-1.8zM202.0 269.2h1.8v1.7h-1.8zM234.2 269.2h1.8v1.7h-1.8zM242.2 269.2h1.8v1.7h-1.8zM290.4 269.2h1.8v1.7h-1.8zM202.0 270.8h1.8v1.7h-1.8zM290.4 270.8h1.8v1.7h-1.8zM230.9 272.4h3.4v1.7h-3.4zM181.1 274.0h1.8v1.7h-1.8zM200.4 274.0h1.8v1.7h-1.8zM234.2 274.0h1.8v1.7h-1.8zM285.6 274.0h3.4v1.7h-3.4zM203.6 275.6h3.4v1.7h-3.4zM224.5 275.6h1.8v1.7h-1.8zM229.3 275.6h1.8v1.7h-1.8zM181.1 277.2h1.8v1.7h-1.8zM184.3 277.2h1.8v1.7h-1.8zM190.8 277.2h1.8v1.7h-1.8zM208.4 277.2h1.8v1.7h-1.8zM214.9 277.2h3.4v1.7h-3.4zM229.3 277.2h1.8v1.7h-1.8zM285.6 277.2h5.0v1.7h-5.0zM182.7 278.8h1.8v1.7h-1.8zM205.2 278.8h1.8v1.7h-1.8zM182.7 280.4h1.8v1.7h-1.8zM190.8 280.4h3.4v1.7h-3.4zM216.5 280.4h1.8v1.7h-1.8zM203.6 282.0h1.8v1.7h-1.8zM226.1 282.0h1.8v1.7h-1.8zM229.3 282.0h1.8v1.7h-1.8zM284.0 282.0h1.8v1.7h-1.8zM200.4 283.6h1.8v1.7h-1.8zM203.6 283.6h5.0v1.7h-5.0zM232.5 285.2h1.8v1.7h-1.8zM235.8 285.2h1.8v1.7h-1.8zM185.9 286.8h1.8v1.7h-1.8zM240.6 286.8h5.0v1.7h-5.0zM282.4 286.8h1.8v1.7h-1.8zM179.5 288.4h1.8v1.7h-1.8zM237.4 290.0h1.8v1.7h-1.8zM239.0 291.6h1.8v1.7h-1.8zM176.3 293.2h1.8v1.7h-1.8zM234.2 293.2h1.8v1.7h-1.8zM237.4 293.2h1.8v1.7h-1.8zM284.0 293.2h1.8v1.7h-1.8zM176.3 294.8h3.4v1.7h-3.4zM230.9 294.8h3.4v1.7h-3.4zM239.0 294.8h1.8v1.7h-1.8zM245.4 294.8h3.4v1.7h-3.4zM284.0 294.8h1.8v1.7h-1.8zM230.9 296.4h1.8v1.7h-1.8zM240.6 296.4h1.8v1.7h-1.8zM243.8 296.4h1.8v1.7h-1.8zM248.6 296.4h1.8v1.7h-1.8zM279.1 296.4h1.8v1.7h-1.8zM282.4 296.4h1.8v1.7h-1.8zM287.2 296.4h1.8v1.7h-1.8zM176.3 298.0h1.8v1.7h-1.8zM179.5 298.0h1.8v1.7h-1.8zM227.7 298.0h3.4v1.7h-3.4zM234.2 298.0h1.8v1.7h-1.8zM239.0 298.0h1.8v1.7h-1.8zM243.8 298.0h1.8v1.7h-1.8zM251.8 298.0h1.8v1.7h-1.8zM256.6 298.0h1.8v1.7h-1.8zM206.8 299.6h1.8v1.7h-1.8zM230.9 299.6h1.8v1.7h-1.8zM258.3 299.6h1.8v1.7h-1.8zM279.1 299.6h3.4v1.7h-3.4zM182.7 301.2h3.4v1.7h-3.4zM198.8 301.2h1.8v1.7h-1.8zM205.2 301.2h1.8v1.7h-1.8zM213.3 301.2h1.8v1.7h-1.8zM255.0 301.2h1.8v1.7h-1.8zM179.5 302.8h1.8v1.7h-1.8zM202.0 302.8h1.8v1.7h-1.8zM214.9 302.8h3.4v1.7h-3.4zM250.2 302.8h1.8v1.7h-1.8zM277.5 302.8h1.8v1.7h-1.8zM240.6 304.4h3.4v1.7h-3.4zM279.1 304.4h1.8v1.7h-1.8zM177.9 306.0h3.4v1.7h-3.4zM235.8 307.6h1.8v1.7h-1.8zM224.5 309.2h1.8v1.7h-1.8zM282.4 309.2h1.8v1.7h-1.8z"/>
<path fill="#c4c4d5" d="M221.3 184.4h3.4v1.7h-3.4zM222.9 186.0h1.8v1.7h-1.8zM221.3 187.6h1.8v1.7h-1.8zM153.8 189.2h1.8v1.7h-1.8zM226.1 189.2h1.8v1.7h-1.8zM240.6 189.2h1.8v1.7h-1.8zM240.6 190.8h1.8v1.7h-1.8zM166.7 192.4h1.8v1.7h-1.8zM234.2 192.4h1.8v1.7h-1.8zM251.8 194.0h1.8v1.7h-1.8zM169.9 195.6h1.8v1.7h-1.8zM210.0 195.6h1.8v1.7h-1.8zM247.0 195.6h1.8v1.7h-1.8zM250.2 195.6h1.8v1.7h-1.8zM255.0 195.6h1.8v1.7h-1.8zM165.1 197.2h1.8v1.7h-1.8zM168.3 197.2h1.8v1.7h-1.8zM213.3 197.2h1.8v1.7h-1.8zM258.3 197.2h1.8v1.7h-1.8zM285.6 197.2h1.8v1.7h-1.8zM161.8 198.8h1.8v1.7h-1.8zM214.9 198.8h1.8v1.7h-1.8zM264.7 198.8h1.8v1.7h-1.8zM267.9 198.8h1.8v1.7h-1.8zM290.4 198.8h1.8v1.7h-1.8zM150.6 200.4h1.8v1.7h-1.8zM208.4 200.4h1.8v1.7h-1.8zM292.0 200.4h1.8v1.7h-1.8zM211.7 202.0h1.8v1.7h-1.8zM214.9 202.0h1.8v1.7h-1.8zM240.6 203.6h1.8v1.7h-1.8zM205.2 205.2h1.8v1.7h-1.8zM237.4 205.2h1.8v1.7h-1.8zM245.4 205.2h3.4v1.7h-3.4zM269.5 205.2h1.8v1.7h-1.8zM292.0 205.2h1.8v1.7h-1.8zM237.4 206.8h3.4v1.7h-3.4zM243.8 208.4h3.4v1.7h-3.4zM205.2 210.0h3.4v1.7h-3.4zM237.4 210.0h1.8v1.7h-1.8zM245.4 210.0h1.8v1.7h-1.8zM263.1 210.0h1.8v1.7h-1.8zM160.2 211.6h1.8v1.7h-1.8zM227.7 211.6h1.8v1.7h-1.8zM263.1 211.6h1.8v1.7h-1.8zM163.5 213.2h1.8v1.7h-1.8zM197.2 213.2h5.0v1.7h-5.0zM219.7 213.2h1.8v1.7h-1.8zM222.9 213.2h1.8v1.7h-1.8zM234.2 213.2h3.4v1.7h-3.4zM247.0 213.2h1.8v1.7h-1.8zM250.2 213.2h3.4v1.7h-3.4zM256.6 213.2h3.4v1.7h-3.4zM266.3 213.2h1.8v1.7h-1.8zM157.0 214.8h3.4v1.7h-3.4zM161.8 214.8h3.4v1.7h-3.4zM200.4 214.8h1.8v1.7h-1.8zM206.8 214.8h1.8v1.7h-1.8zM216.5 214.8h1.8v1.7h-1.8zM219.7 214.8h3.4v1.7h-3.4zM230.9 214.8h3.4v1.7h-3.4zM258.3 214.8h1.8v1.7h-1.8zM264.7 214.8h1.8v1.7h-1.8zM174.7 216.4h1.8v1.7h-1.8zM222.9 216.4h1.8v1.7h-1.8zM235.8 216.4h1.8v1.7h-1.8zM247.0 216.4h1.8v1.7h-1.8zM250.2 216.4h3.4v1.7h-3.4zM256.6 216.4h1.8v1.7h-1.8zM266.3 216.4h1.8v1.7h-1.8zM288.8 216.4h1.8v1.7h-1.8zM161.8 218.0h3.4v1.7h-3.4zM168.3 218.0h1.8v1.7h-1.8zM232.5 218.0h1.8v1.7h-1.8zM235.8 218.0h1.8v1.7h-1.8zM245.4 218.0h1.8v1.7h-1.8zM256.6 218.0h1.8v1.7h-1.8zM259.9 218.0h3.4v1.7h-3.4zM264.7 218.0h1.8v1.7h-1.8zM288.8 218.0h1.8v1.7h-1.8zM150.6 219.6h1.8v1.7h-1.8zM160.2 219.6h1.8v1.7h-1.8zM234.2 219.6h1.8v1.7h-1.8zM245.4 219.6h3.4v1.7h-3.4zM253.4 219.6h1.8v1.7h-1.8zM285.6 219.6h3.4v1.7h-3.4zM163.5 221.2h1.8v1.7h-1.8zM166.7 221.2h1.8v1.7h-1.8zM259.9 221.2h1.8v1.7h-1.8zM263.1 221.2h3.4v1.7h-3.4zM157.0 222.8h1.8v1.7h-1.8zM163.5 222.8h3.4v1.7h-3.4zM165.1 224.4h1.8v1.7h-1.8zM176.3 224.4h3.4v1.7h-3.4zM269.5 224.4h1.8v1.7h-1.8zM160.2 226.0h1.8v1.7h-1.8zM163.5 226.0h3.4v1.7h-3.4zM176.3 226.0h1.8v1.7h-1.8zM267.9 226.0h5.0v1.7h-5.0zM168.3 227.6h1.8v1.7h-1.8zM177.9 227.6h1.8v1.7h-1.8zM248.6 227.6h1.8v1.7h-1.8zM264.7 227.6h3.4v1.7h-3.4zM161.8 229.2h3.4v1.7h-3.4zM176.3 229.2h1.8v1.7h-1.8zM248.6 229.2h1.8v1.7h-1.8zM259.9 229.2h1.8v1.7h-1.8zM177.9 230.8h1.8v1.7h-1.8zM187.6 230.8h1.8v1.7h-1.8zM192.4 230.8h3.4v1.7h-3.4zM197.2 230.8h1.8v1.7h-1.8zM264.7 230.8h1.8v1.7h-1.8zM153.8 232.4h1.8v1.7h-1.8zM177.9 232.4h1.8v1.7h-1.8zM192.4 232.4h8.2v1.7h-8.2zM261.5 232.4h3.4v1.7h-3.4zM267.9 232.4h1.8v1.7h-1.8zM275.9 232.4h1.8v1.7h-1.8zM192.4 234.0h1.8v1.7h-1.8zM197.2 234.0h1.8v1.7h-1.8zM237.4 234.0h1.8v1.7h-1.8zM242.2 234.0h1.8v1.7h-1.8zM282.4 234.0h1.8v1.7h-1.8zM287.2 234.0h1.8v1.7h-1.8zM174.7 235.6h1.8v1.7h-1.8zM271.1 235.6h1.8v1.7h-1.8zM239.0 237.2h1.8v1.7h-1.8zM248.6 237.2h5.0v1.7h-5.0zM255.0 237.2h1.8v1.7h-1.8zM285.6 237.2h1.8v1.7h-1.8zM250.2 238.8h1.8v1.7h-1.8zM284.0 238.8h1.8v1.7h-1.8zM184.3 240.4h16.2v1.7h-16.2zM232.5 240.4h3.4v1.7h-3.4zM245.4 240.4h3.4v1.7h-3.4zM290.4 240.4h1.8v1.7h-1.8zM179.5 242.0h1.8v1.7h-1.8zM192.4 242.0h1.8v1.7h-1.8zM287.2 242.0h1.8v1.7h-1.8zM158.6 243.6h1.8v1.7h-1.8zM185.9 243.6h3.4v1.7h-3.4zM284.0 243.6h1.8v1.7h-1.8zM155.4 245.2h1.8v1.7h-1.8zM158.6 245.2h3.4v1.7h-3.4zM179.5 245.2h1.8v1.7h-1.8zM185.9 245.2h1.8v1.7h-1.8zM192.4 245.2h3.4v1.7h-3.4zM150.6 246.8h1.8v1.7h-1.8zM155.4 246.8h5.0v1.7h-5.0zM163.5 246.8h1.8v1.7h-1.8zM181.1 246.8h1.8v1.7h-1.8zM194.0 246.8h3.4v1.7h-3.4zM285.6 246.8h3.4v1.7h-3.4zM150.6 248.4h1.8v1.7h-1.8zM176.3 248.4h1.8v1.7h-1.8zM192.4 248.4h3.4v1.7h-3.4zM284.0 248.4h1.8v1.7h-1.8zM166.7 250.0h1.8v1.7h-1.8zM247.0 250.0h1.8v1.7h-1.8zM169.9 251.6h3.4v1.7h-3.4zM185.9 251.6h1.8v1.7h-1.8zM192.4 251.6h1.8v1.7h-1.8zM274.3 251.6h1.8v1.7h-1.8zM280.7 251.6h3.4v1.7h-3.4zM153.8 253.2h1.8v1.7h-1.8zM181.1 253.2h1.8v1.7h-1.8zM202.0 253.2h3.4v1.7h-3.4zM206.8 253.2h1.8v1.7h-1.8zM226.1 253.2h1.8v1.7h-1.8zM237.4 253.2h1.8v1.7h-1.8zM285.6 253.2h5.0v1.7h-5.0zM152.2 254.8h3.4v1.7h-3.4zM179.5 254.8h3.4v1.7h-3.4zM216.5 254.8h1.8v1.7h-1.8zM227.7 254.8h1.8v1.7h-1.8zM287.2 254.8h3.4v1.7h-3.4zM184.3 256.4h1.8v1.7h-1.8zM205.2 256.4h1.8v1.7h-1.8zM226.1 256.4h1.8v1.7h-1.8zM181.1 258.0h1.8v1.7h-1.8zM211.7 258.0h3.4v1.7h-3.4zM285.6 258.0h1.8v1.7h-1.8zM229.3 259.6h1.8v1.7h-1.8zM288.8 259.6h1.8v1.7h-1.8zM229.3 261.2h1.8v1.7h-1.8zM245.4 261.2h1.8v1.7h-1.8zM285.6 261.2h1.8v1.7h-1.8zM229.3 262.8h1.8v1.7h-1.8zM288.8 262.8h3.4v1.7h-3.4zM229.3 264.4h1.8v1.7h-1.8zM290.4 264.4h1.8v1.7h-1.8zM211.7 266.0h3.4v1.7h-3.4zM221.3 266.0h1.8v1.7h-1.8zM230.9 266.0h3.4v1.7h-3.4zM242.2 266.0h3.4v1.7h-3.4zM288.8 266.0h3.4v1.7h-3.4zM205.2 267.6h3.4v1.7h-3.4zM237.4 267.6h6.6v1.7h-6.6zM237.4 269.2h3.4v1.7h-3.4zM288.8 269.2h1.8v1.7h-1.8zM234.2 270.8h1.8v1.7h-1.8zM237.4 270.8h1.8v1.7h-1.8zM288.8 270.8h1.8v1.7h-1.8zM202.0 272.4h1.8v1.7h-1.8zM235.8 272.4h1.8v1.7h-1.8zM182.7 274.0h3.4v1.7h-3.4zM189.2 274.0h3.4v1.7h-3.4zM198.8 274.0h1.8v1.7h-1.8zM181.1 275.6h1.8v1.7h-1.8zM184.3 275.6h1.8v1.7h-1.8zM187.6 275.6h1.8v1.7h-1.8zM190.8 275.6h1.8v1.7h-1.8zM206.8 275.6h1.8v1.7h-1.8zM218.1 275.6h5.0v1.7h-5.0zM226.1 275.6h1.8v1.7h-1.8zM230.9 275.6h1.8v1.7h-1.8zM182.7 277.2h1.8v1.7h-1.8zM189.2 277.2h1.8v1.7h-1.8zM205.2 277.2h1.8v1.7h-1.8zM227.7 277.2h1.8v1.7h-1.8zM232.5 277.2h1.8v1.7h-1.8zM194.0 278.8h1.8v1.7h-1.8zM203.6 278.8h1.8v1.7h-1.8zM219.7 278.8h1.8v1.7h-1.8zM226.1 278.8h3.4v1.7h-3.4zM232.5 278.8h1.8v1.7h-1.8zM235.8 278.8h1.8v1.7h-1.8zM282.4 278.8h1.8v1.7h-1.8zM184.3 280.4h1.8v1.7h-1.8zM189.2 280.4h1.8v1.7h-1.8zM203.6 280.4h1.8v1.7h-1.8zM218.1 280.4h8.2v1.7h-8.2zM229.3 280.4h3.4v1.7h-3.4zM284.0 280.4h1.8v1.7h-1.8zM190.8 282.0h3.4v1.7h-3.4zM205.2 282.0h1.8v1.7h-1.8zM182.7 283.6h1.8v1.7h-1.8zM202.0 283.6h1.8v1.7h-1.8zM229.3 283.6h5.0v1.7h-5.0zM284.0 283.6h1.8v1.7h-1.8zM184.3 285.2h1.8v1.7h-1.8zM190.8 285.2h1.8v1.7h-1.8zM194.0 285.2h1.8v1.7h-1.8zM198.8 285.2h3.4v1.7h-3.4zM230.9 285.2h1.8v1.7h-1.8zM234.2 285.2h1.8v1.7h-1.8zM284.0 285.2h1.8v1.7h-1.8zM179.5 286.8h1.8v1.7h-1.8zM176.3 290.0h3.4v1.7h-3.4zM239.0 290.0h5.0v1.7h-5.0zM279.1 290.0h5.0v1.7h-5.0zM242.2 291.6h1.8v1.7h-1.8zM245.4 291.6h3.4v1.7h-3.4zM280.7 291.6h3.4v1.7h-3.4zM234.2 294.8h1.8v1.7h-1.8zM240.6 294.8h5.0v1.7h-5.0zM253.4 294.8h1.8v1.7h-1.8zM282.4 294.8h1.8v1.7h-1.8zM173.1 296.4h3.4v1.7h-3.4zM251.8 296.4h1.8v1.7h-1.8zM256.6 296.4h1.8v1.7h-1.8zM280.7 296.4h1.8v1.7h-1.8zM177.9 298.0h1.8v1.7h-1.8zM230.9 298.0h3.4v1.7h-3.4zM280.7 298.0h3.4v1.7h-3.4zM174.7 299.6h1.8v1.7h-1.8zM194.0 299.6h1.8v1.7h-1.8zM211.7 299.6h1.8v1.7h-1.8zM176.3 301.2h5.0v1.7h-5.0zM185.9 301.2h1.8v1.7h-1.8zM192.4 301.2h1.8v1.7h-1.8zM197.2 301.2h1.8v1.7h-1.8zM208.4 301.2h1.8v1.7h-1.8zM256.6 301.2h1.8v1.7h-1.8zM277.5 301.2h1.8v1.7h-1.8zM152.2 302.8h1.8v1.7h-1.8zM182.7 302.8h3.4v1.7h-3.4zM203.6 302.8h1.8v1.7h-1.8zM248.6 302.8h1.8v1.7h-1.8zM251.8 302.8h3.4v1.7h-3.4zM277.5 304.4h1.8v1.7h-1.8zM150.6 306.0h1.8v1.7h-1.8zM153.8 306.0h1.8v1.7h-1.8zM173.1 306.0h3.4v1.7h-3.4zM181.1 306.0h1.8v1.7h-1.8zM247.0 306.0h1.8v1.7h-1.8zM274.3 306.0h3.4v1.7h-3.4zM219.7 307.6h1.8v1.7h-1.8zM234.2 307.6h1.8v1.7h-1.8zM153.8 310.8h1.8v1.7h-1.8zM221.3 310.8h3.4v1.7h-3.4zM284.0 312.4h1.8v1.7h-1.8zM285.6 314.0h1.8v1.7h-1.8zM290.4 315.6h1.8v1.7h-1.8z"/>
<path fill="#cdcdd4" d="M221.3 186.0h1.8v1.7h-1.8zM155.4 187.6h1.8v1.7h-1.8zM158.6 187.6h1.8v1.7h-1.8zM210.0 187.6h5.0v1.7h-5.0zM216.5 187.6h5.0v1.7h-5.0zM150.6 189.2h1.8v1.7h-1.8zM248.6 189.2h1.8v1.7h-1.8zM251.8 189.2h1.8v1.7h-1.8zM163.5 190.8h1.8v1.7h-1.8zM166.7 190.8h1.8v1.7h-1.8zM169.9 190.8h1.8v1.7h-1.8zM224.5 190.8h1.8v1.7h-1.8zM226.1 192.4h3.4v1.7h-3.4zM242.2 192.4h3.4v1.7h-3.4zM248.6 192.4h1.8v1.7h-1.8zM166.7 194.0h1.8v1.7h-1.8zM250.2 194.0h1.8v1.7h-1.8zM208.4 195.6h1.8v1.7h-1.8zM213.3 195.6h1.8v1.7h-1.8zM229.3 195.6h1.8v1.7h-1.8zM232.5 195.6h1.8v1.7h-1.8zM235.8 195.6h1.8v1.7h-1.8zM248.6 195.6h1.8v1.7h-1.8zM166.7 197.2h1.8v1.7h-1.8zM214.9 197.2h1.8v1.7h-1.8zM235.8 197.2h1.8v1.7h-1.8zM251.8 197.2h6.6v1.7h-6.6zM284.0 197.2h1.8v1.7h-1.8zM287.2 197.2h1.8v1.7h-1.8zM163.5 198.8h1.8v1.7h-1.8zM205.2 198.8h1.8v1.7h-1.8zM216.5 198.8h1.8v1.7h-1.8zM261.5 198.8h1.8v1.7h-1.8zM269.5 198.8h1.8v1.7h-1.8zM272.7 198.8h1.8v1.7h-1.8zM288.8 198.8h1.8v1.7h-1.8zM157.0 200.4h3.4v1.7h-3.4zM214.9 200.4h1.8v1.7h-1.8zM155.4 202.0h1.8v1.7h-1.8zM208.4 202.0h1.8v1.7h-1.8zM205.2 203.6h3.4v1.7h-3.4zM219.7 203.6h1.8v1.7h-1.8zM232.5 203.6h1.8v1.7h-1.8zM242.2 203.6h1.8v1.7h-1.8zM161.8 205.2h1.8v1.7h-1.8zM197.2 205.2h1.8v1.7h-1.8zM160.2 206.8h1.8v1.7h-1.8zM206.8 206.8h1.8v1.7h-1.8zM240.6 206.8h1.8v1.7h-1.8zM243.8 206.8h3.4v1.7h-3.4zM161.8 208.4h1.8v1.7h-1.8zM242.2 210.0h1.8v1.7h-1.8zM261.5 210.0h1.8v1.7h-1.8zM264.7 210.0h1.8v1.7h-1.8zM161.8 211.6h1.8v1.7h-1.8zM182.7 211.6h3.4v1.7h-3.4zM205.2 211.6h3.4v1.7h-3.4zM219.7 211.6h1.8v1.7h-1.8zM222.9 211.6h1.8v1.7h-1.8zM234.2 211.6h3.4v1.7h-3.4zM292.0 211.6h1.8v1.7h-1.8zM165.1 213.2h1.8v1.7h-1.8zM176.3 213.2h3.4v1.7h-3.4zM245.4 213.2h1.8v1.7h-1.8zM248.6 213.2h1.8v1.7h-1.8zM290.4 213.2h1.8v1.7h-1.8zM168.3 214.8h1.8v1.7h-1.8zM218.1 214.8h1.8v1.7h-1.8zM222.9 214.8h1.8v1.7h-1.8zM245.4 214.8h3.4v1.7h-3.4zM250.2 214.8h1.8v1.7h-1.8zM266.3 214.8h1.8v1.7h-1.8zM290.4 214.8h1.8v1.7h-1.8zM169.9 216.4h1.8v1.7h-1.8zM173.1 216.4h1.8v1.7h-1.8zM234.2 216.4h1.8v1.7h-1.8zM245.4 216.4h1.8v1.7h-1.8zM267.9 216.4h1.8v1.7h-1.8zM165.1 218.0h1.8v1.7h-1.8zM174.7 218.0h1.8v1.7h-1.8zM234.2 218.0h1.8v1.7h-1.8zM237.4 218.0h1.8v1.7h-1.8zM243.8 218.0h1.8v1.7h-1.8zM247.0 218.0h1.8v1.7h-1.8zM250.2 218.0h3.4v1.7h-3.4zM255.0 218.0h1.8v1.7h-1.8zM258.3 218.0h1.8v1.7h-1.8zM266.3 218.0h1.8v1.7h-1.8zM284.0 218.0h3.4v1.7h-3.4zM165.1 219.6h5.0v1.7h-5.0zM237.4 219.6h3.4v1.7h-3.4zM242.2 219.6h3.4v1.7h-3.4zM255.0 219.6h1.8v1.7h-1.8zM261.5 219.6h3.4v1.7h-3.4zM269.5 219.6h1.8v1.7h-1.8zM284.0 219.6h1.8v1.7h-1.8zM173.1 221.2h1.8v1.7h-1.8zM253.4 221.2h1.8v1.7h-1.8zM258.3 221.2h1.8v1.7h-1.8zM266.3 221.2h1.8v1.7h-1.8zM269.5 221.2h1.8v1.7h-1.8zM168.3 222.8h1.8v1.7h-1.8zM253.4 222.8h1.8v1.7h-1.8zM259.9 222.8h1.8v1.7h-1.8zM263.1 222.8h1.8v1.7h-1.8zM269.5 222.8h1.8v1.7h-1.8zM163.5 224.4h1.8v1.7h-1.8zM166.7 224.4h1.8v1.7h-1.8zM266.3 224.4h1.8v1.7h-1.8zM271.1 224.4h1.8v1.7h-1.8zM177.9 226.0h1.8v1.7h-1.8zM263.1 226.0h1.8v1.7h-1.8zM166.7 227.6h1.8v1.7h-1.8zM174.7 227.6h1.8v1.7h-1.8zM253.4 227.6h1.8v1.7h-1.8zM259.9 227.6h3.4v1.7h-3.4zM165.1 229.2h5.0v1.7h-5.0zM250.2 229.2h1.8v1.7h-1.8zM253.4 229.2h1.8v1.7h-1.8zM155.4 230.8h3.4v1.7h-3.4zM195.6 230.8h1.8v1.7h-1.8zM150.6 232.4h1.8v1.7h-1.8zM155.4 232.4h1.8v1.7h-1.8zM250.2 232.4h1.8v1.7h-1.8zM253.4 232.4h1.8v1.7h-1.8zM264.7 232.4h3.4v1.7h-3.4zM271.1 232.4h1.8v1.7h-1.8zM190.8 234.0h1.8v1.7h-1.8zM195.6 234.0h1.8v1.7h-1.8zM198.8 234.0h3.4v1.7h-3.4zM234.2 234.0h1.8v1.7h-1.8zM240.6 234.0h1.8v1.7h-1.8zM243.8 234.0h1.8v1.7h-1.8zM263.1 234.0h1.8v1.7h-1.8zM266.3 234.0h1.8v1.7h-1.8zM272.7 234.0h3.4v1.7h-3.4zM277.5 234.0h3.4v1.7h-3.4zM158.6 235.6h1.8v1.7h-1.8zM169.9 235.6h1.8v1.7h-1.8zM173.1 235.6h1.8v1.7h-1.8zM153.8 237.2h1.8v1.7h-1.8zM263.1 237.2h3.4v1.7h-3.4zM279.1 237.2h3.4v1.7h-3.4zM176.3 238.8h1.8v1.7h-1.8zM179.5 240.4h1.8v1.7h-1.8zM239.0 240.4h1.8v1.7h-1.8zM153.8 242.0h1.8v1.7h-1.8zM176.3 242.0h1.8v1.7h-1.8zM285.6 242.0h1.8v1.7h-1.8zM150.6 243.6h1.8v1.7h-1.8zM176.3 243.6h1.8v1.7h-1.8zM248.6 243.6h3.4v1.7h-3.4zM157.0 245.2h1.8v1.7h-1.8zM161.8 245.2h1.8v1.7h-1.8zM187.6 245.2h3.4v1.7h-3.4zM284.0 245.2h1.8v1.7h-1.8zM179.5 246.8h1.8v1.7h-1.8zM182.7 246.8h3.4v1.7h-3.4zM190.8 246.8h3.4v1.7h-3.4zM284.0 246.8h1.8v1.7h-1.8zM166.7 248.4h1.8v1.7h-1.8zM189.2 248.4h3.4v1.7h-3.4zM192.4 250.0h1.8v1.7h-1.8zM195.6 250.0h1.8v1.7h-1.8zM173.1 251.6h3.4v1.7h-3.4zM187.6 251.6h3.4v1.7h-3.4zM253.4 251.6h1.8v1.7h-1.8zM272.7 251.6h1.8v1.7h-1.8zM279.1 251.6h1.8v1.7h-1.8zM150.6 253.2h1.8v1.7h-1.8zM157.0 253.2h6.6v1.7h-6.6zM165.1 253.2h1.8v1.7h-1.8zM179.5 253.2h1.8v1.7h-1.8zM219.7 253.2h3.4v1.7h-3.4zM224.5 253.2h1.8v1.7h-1.8zM150.6 254.8h1.8v1.7h-1.8zM182.7 254.8h1.8v1.7h-1.8zM203.6 254.8h5.0v1.7h-5.0zM218.1 254.8h1.8v1.7h-1.8zM224.5 254.8h3.4v1.7h-3.4zM234.2 254.8h1.8v1.7h-1.8zM285.6 254.8h1.8v1.7h-1.8zM150.6 256.4h1.8v1.7h-1.8zM153.8 256.4h1.8v1.7h-1.8zM177.9 256.4h1.8v1.7h-1.8zM206.8 256.4h1.8v1.7h-1.8zM218.1 256.4h1.8v1.7h-1.8zM224.5 256.4h1.8v1.7h-1.8zM242.2 256.4h3.4v1.7h-3.4zM284.0 256.4h1.8v1.7h-1.8zM208.4 258.0h1.8v1.7h-1.8zM214.9 258.0h1.8v1.7h-1.8zM229.3 258.0h1.8v1.7h-1.8zM232.5 258.0h1.8v1.7h-1.8zM235.8 258.0h1.8v1.7h-1.8zM284.0 258.0h1.8v1.7h-1.8zM211.7 259.6h1.8v1.7h-1.8zM227.7 259.6h1.8v1.7h-1.8zM230.9 259.6h6.6v1.7h-6.6zM285.6 259.6h1.8v1.7h-1.8zM210.0 261.2h1.8v1.7h-1.8zM227.7 261.2h1.8v1.7h-1.8zM230.9 261.2h6.6v1.7h-6.6zM240.6 261.2h3.4v1.7h-3.4zM287.2 261.2h1.8v1.7h-1.8zM232.5 262.8h1.8v1.7h-1.8zM285.6 262.8h1.8v1.7h-1.8zM208.4 266.0h3.4v1.7h-3.4zM216.5 266.0h1.8v1.7h-1.8zM219.7 266.0h1.8v1.7h-1.8zM222.9 266.0h1.8v1.7h-1.8zM234.2 266.0h5.0v1.7h-5.0zM240.6 266.0h1.8v1.7h-1.8zM203.6 267.6h1.8v1.7h-1.8zM243.8 267.6h1.8v1.7h-1.8zM240.6 269.2h1.8v1.7h-1.8zM243.8 269.2h3.4v1.7h-3.4zM285.6 269.2h1.8v1.7h-1.8zM200.4 270.8h1.8v1.7h-1.8zM239.0 270.8h5.0v1.7h-5.0zM200.4 272.4h1.8v1.7h-1.8zM234.2 272.4h1.8v1.7h-1.8zM288.8 272.4h1.8v1.7h-1.8zM185.9 274.0h3.4v1.7h-3.4zM192.4 274.0h1.8v1.7h-1.8zM197.2 274.0h1.8v1.7h-1.8zM237.4 274.0h1.8v1.7h-1.8zM242.2 274.0h1.8v1.7h-1.8zM179.5 275.6h1.8v1.7h-1.8zM182.7 275.6h1.8v1.7h-1.8zM189.2 275.6h1.8v1.7h-1.8zM232.5 275.6h1.8v1.7h-1.8zM235.8 275.6h1.8v1.7h-1.8zM285.6 275.6h1.8v1.7h-1.8zM185.9 277.2h3.4v1.7h-3.4zM192.4 277.2h1.8v1.7h-1.8zM203.6 277.2h1.8v1.7h-1.8zM218.1 277.2h1.8v1.7h-1.8zM224.5 277.2h1.8v1.7h-1.8zM284.0 277.2h1.8v1.7h-1.8zM176.3 278.8h1.8v1.7h-1.8zM179.5 278.8h1.8v1.7h-1.8zM195.6 278.8h1.8v1.7h-1.8zM200.4 278.8h3.4v1.7h-3.4zM221.3 278.8h5.0v1.7h-5.0zM234.2 278.8h1.8v1.7h-1.8zM245.4 278.8h1.8v1.7h-1.8zM279.1 278.8h1.8v1.7h-1.8zM181.1 280.4h1.8v1.7h-1.8zM185.9 280.4h3.4v1.7h-3.4zM197.2 280.4h1.8v1.7h-1.8zM205.2 280.4h3.4v1.7h-3.4zM226.1 280.4h1.8v1.7h-1.8zM232.5 280.4h5.0v1.7h-5.0zM245.4 280.4h1.8v1.7h-1.8zM282.4 280.4h1.8v1.7h-1.8zM184.3 282.0h1.8v1.7h-1.8zM187.6 282.0h3.4v1.7h-3.4zM194.0 282.0h1.8v1.7h-1.8zM198.8 282.0h1.8v1.7h-1.8zM202.0 282.0h1.8v1.7h-1.8zM206.8 282.0h1.8v1.7h-1.8zM222.9 282.0h1.8v1.7h-1.8zM227.7 282.0h1.8v1.7h-1.8zM234.2 282.0h3.4v1.7h-3.4zM184.3 283.6h1.8v1.7h-1.8zM189.2 283.6h11.4v1.7h-11.4zM234.2 283.6h3.4v1.7h-3.4zM245.4 283.6h3.4v1.7h-3.4zM282.4 283.6h1.8v1.7h-1.8zM185.9 285.2h1.8v1.7h-1.8zM189.2 285.2h1.8v1.7h-1.8zM192.4 285.2h1.8v1.7h-1.8zM195.6 285.2h1.8v1.7h-1.8zM176.3 286.8h1.8v1.7h-1.8zM239.0 286.8h1.8v1.7h-1.8zM250.2 286.8h5.0v1.7h-5.0zM274.3 286.8h1.8v1.7h-1.8zM279.1 286.8h1.8v1.7h-1.8zM176.3 288.4h1.8v1.7h-1.8zM237.4 288.4h3.4v1.7h-3.4zM245.4 290.0h1.8v1.7h-1.8zM173.1 291.6h3.4v1.7h-3.4zM250.2 291.6h1.8v1.7h-1.8zM253.4 291.6h1.8v1.7h-1.8zM277.5 291.6h3.4v1.7h-3.4zM239.0 293.2h5.0v1.7h-5.0zM245.4 293.2h3.4v1.7h-3.4zM253.4 293.2h1.8v1.7h-1.8zM250.2 294.8h1.8v1.7h-1.8zM171.5 296.4h1.8v1.7h-1.8zM258.3 296.4h3.4v1.7h-3.4zM258.3 298.0h1.8v1.7h-1.8zM279.1 298.0h1.8v1.7h-1.8zM173.1 299.6h1.8v1.7h-1.8zM259.9 299.6h1.8v1.7h-1.8zM153.8 301.2h1.8v1.7h-1.8zM187.6 301.2h1.8v1.7h-1.8zM190.8 301.2h1.8v1.7h-1.8zM195.6 301.2h1.8v1.7h-1.8zM210.0 301.2h1.8v1.7h-1.8zM258.3 301.2h1.8v1.7h-1.8zM153.8 302.8h1.8v1.7h-1.8zM173.1 302.8h1.8v1.7h-1.8zM177.9 302.8h1.8v1.7h-1.8zM197.2 302.8h5.0v1.7h-5.0zM205.2 302.8h1.8v1.7h-1.8zM255.0 302.8h3.4v1.7h-3.4zM218.1 304.4h1.8v1.7h-1.8zM243.8 304.4h5.0v1.7h-5.0zM152.2 306.0h1.8v1.7h-1.8zM168.3 306.0h1.8v1.7h-1.8zM216.5 306.0h1.8v1.7h-1.8zM221.3 309.2h3.4v1.7h-3.4zM226.1 309.2h3.4v1.7h-3.4zM152.2 310.8h1.8v1.7h-1.8zM219.7 310.8h1.8v1.7h-1.8zM224.5 310.8h3.4v1.7h-3.4zM280.7 310.8h1.8v1.7h-1.8zM284.0 314.0h1.8v1.7h-1.8zM287.2 314.0h1.8v1.7h-1.8zM288.8 315.6h1.8v1.7h-1.8z"/>
<path fill="#cfc4ca" d="M216.5 184.4h5.0v1.7h-5.0zM219.7 186.0h1.8v1.7h-1.8zM160.2 187.6h1.8v1.7h-1.8zM163.5 187.6h1.8v1.7h-1.8zM205.2 187.6h1.8v1.7h-1.8zM208.4 187.6h1.8v1.7h-1.8zM214.9 187.6h1.8v1.7h-1.8zM155.4 189.2h1.8v1.7h-1.8zM224.5 189.2h1.8v1.7h-1.8zM213.3 190.8h1.8v1.7h-1.8zM219.7 190.8h1.8v1.7h-1.8zM222.9 190.8h1.8v1.7h-1.8zM169.9 192.4h1.8v1.7h-1.8zM224.5 192.4h1.8v1.7h-1.8zM237.4 192.4h5.0v1.7h-5.0zM169.9 194.0h1.8v1.7h-1.8zM247.0 194.0h3.4v1.7h-3.4zM173.1 195.6h1.8v1.7h-1.8zM194.0 195.6h8.2v1.7h-8.2zM214.9 195.6h1.8v1.7h-1.8zM227.7 195.6h1.8v1.7h-1.8zM230.9 195.6h1.8v1.7h-1.8zM245.4 195.6h1.8v1.7h-1.8zM169.9 197.2h1.8v1.7h-1.8zM197.2 197.2h3.4v1.7h-3.4zM203.6 197.2h3.4v1.7h-3.4zM232.5 197.2h1.8v1.7h-1.8zM245.4 197.2h1.8v1.7h-1.8zM275.9 197.2h1.8v1.7h-1.8zM279.1 197.2h1.8v1.7h-1.8zM282.4 197.2h1.8v1.7h-1.8zM206.8 198.8h1.8v1.7h-1.8zM259.9 198.8h1.8v1.7h-1.8zM160.2 200.4h1.8v1.7h-1.8zM205.2 200.4h1.8v1.7h-1.8zM216.5 200.4h1.8v1.7h-1.8zM150.6 202.0h1.8v1.7h-1.8zM160.2 203.6h1.8v1.7h-1.8zM221.3 203.6h1.8v1.7h-1.8zM226.1 203.6h6.6v1.7h-6.6zM237.4 203.6h3.4v1.7h-3.4zM292.0 203.6h1.8v1.7h-1.8zM203.6 205.2h1.8v1.7h-1.8zM259.9 205.2h1.8v1.7h-1.8zM263.1 205.2h5.0v1.7h-5.0zM205.2 206.8h1.8v1.7h-1.8zM292.0 206.8h1.8v1.7h-1.8zM163.5 208.4h1.8v1.7h-1.8zM247.0 208.4h1.8v1.7h-1.8zM263.1 208.4h1.8v1.7h-1.8zM292.0 208.4h1.8v1.7h-1.8zM161.8 210.0h1.8v1.7h-1.8zM190.8 210.0h1.8v1.7h-1.8zM240.6 210.0h1.8v1.7h-1.8zM243.8 210.0h1.8v1.7h-1.8zM247.0 210.0h1.8v1.7h-1.8zM259.9 210.0h1.8v1.7h-1.8zM292.0 210.0h1.8v1.7h-1.8zM163.5 211.6h1.8v1.7h-1.8zM181.1 211.6h1.8v1.7h-1.8zM185.9 211.6h1.8v1.7h-1.8zM189.2 211.6h6.6v1.7h-6.6zM203.6 211.6h1.8v1.7h-1.8zM247.0 211.6h1.8v1.7h-1.8zM253.4 211.6h1.8v1.7h-1.8zM261.5 211.6h1.8v1.7h-1.8zM264.7 211.6h1.8v1.7h-1.8zM166.7 213.2h1.8v1.7h-1.8zM288.8 213.2h1.8v1.7h-1.8zM165.1 214.8h3.4v1.7h-3.4zM169.9 214.8h1.8v1.7h-1.8zM174.7 214.8h1.8v1.7h-1.8zM234.2 214.8h3.4v1.7h-3.4zM248.6 214.8h1.8v1.7h-1.8zM267.9 214.8h1.8v1.7h-1.8zM171.5 216.4h1.8v1.7h-1.8zM242.2 216.4h1.8v1.7h-1.8zM248.6 216.4h1.8v1.7h-1.8zM269.5 216.4h1.8v1.7h-1.8zM285.6 216.4h1.8v1.7h-1.8zM166.7 218.0h1.8v1.7h-1.8zM173.1 218.0h1.8v1.7h-1.8zM242.2 218.0h1.8v1.7h-1.8zM274.3 218.0h1.8v1.7h-1.8zM174.7 219.6h1.8v1.7h-1.8zM240.6 219.6h1.8v1.7h-1.8zM256.6 219.6h5.0v1.7h-5.0zM264.7 219.6h1.8v1.7h-1.8zM272.7 219.6h3.4v1.7h-3.4zM279.1 219.6h5.0v1.7h-5.0zM169.9 221.2h1.8v1.7h-1.8zM174.7 221.2h1.8v1.7h-1.8zM248.6 221.2h1.8v1.7h-1.8zM251.8 221.2h1.8v1.7h-1.8zM255.0 221.2h1.8v1.7h-1.8zM261.5 221.2h1.8v1.7h-1.8zM267.9 221.2h1.8v1.7h-1.8zM271.1 221.2h1.8v1.7h-1.8zM166.7 222.8h1.8v1.7h-1.8zM169.9 222.8h1.8v1.7h-1.8zM173.1 222.8h1.8v1.7h-1.8zM261.5 222.8h1.8v1.7h-1.8zM267.9 222.8h1.8v1.7h-1.8zM271.1 222.8h1.8v1.7h-1.8zM264.7 224.4h1.8v1.7h-1.8zM267.9 224.4h1.8v1.7h-1.8zM166.7 226.0h3.4v1.7h-3.4zM264.7 226.0h3.4v1.7h-3.4zM169.9 227.6h1.8v1.7h-1.8zM258.3 227.6h1.8v1.7h-1.8zM174.7 229.2h1.8v1.7h-1.8zM256.6 229.2h1.8v1.7h-1.8zM158.6 230.8h3.4v1.7h-3.4zM176.3 230.8h1.8v1.7h-1.8zM248.6 230.8h1.8v1.7h-1.8zM158.6 232.4h1.8v1.7h-1.8zM251.8 232.4h1.8v1.7h-1.8zM255.0 232.4h3.4v1.7h-3.4zM259.9 232.4h1.8v1.7h-1.8zM152.2 234.0h3.4v1.7h-3.4zM239.0 234.0h1.8v1.7h-1.8zM248.6 234.0h1.8v1.7h-1.8zM267.9 234.0h3.4v1.7h-3.4zM275.9 234.0h1.8v1.7h-1.8zM280.7 234.0h1.8v1.7h-1.8zM157.0 235.6h1.8v1.7h-1.8zM163.5 235.6h1.8v1.7h-1.8zM168.3 235.6h1.8v1.7h-1.8zM150.6 237.2h3.4v1.7h-3.4zM256.6 237.2h1.8v1.7h-1.8zM259.9 237.2h3.4v1.7h-3.4zM269.5 237.2h1.8v1.7h-1.8zM277.5 237.2h1.8v1.7h-1.8zM282.4 237.2h1.8v1.7h-1.8zM150.6 238.8h1.8v1.7h-1.8zM248.6 238.8h1.8v1.7h-1.8zM251.8 238.8h1.8v1.7h-1.8zM282.4 238.8h1.8v1.7h-1.8zM176.3 240.4h3.4v1.7h-3.4zM248.6 240.4h1.8v1.7h-1.8zM287.2 240.4h3.4v1.7h-3.4zM150.6 242.0h3.4v1.7h-3.4zM177.9 242.0h1.8v1.7h-1.8zM284.0 242.0h1.8v1.7h-1.8zM155.4 243.6h3.4v1.7h-3.4zM160.2 243.6h3.4v1.7h-3.4zM168.3 243.6h1.8v1.7h-1.8zM177.9 243.6h1.8v1.7h-1.8zM253.4 243.6h1.8v1.7h-1.8zM282.4 243.6h1.8v1.7h-1.8zM177.9 245.2h1.8v1.7h-1.8zM248.6 245.2h1.8v1.7h-1.8zM165.1 246.8h3.4v1.7h-3.4zM176.3 246.8h3.4v1.7h-3.4zM185.9 246.8h1.8v1.7h-1.8zM189.2 246.8h1.8v1.7h-1.8zM169.9 248.4h1.8v1.7h-1.8zM177.9 248.4h1.8v1.7h-1.8zM185.9 248.4h3.4v1.7h-3.4zM248.6 248.4h1.8v1.7h-1.8zM282.4 248.4h1.8v1.7h-1.8zM176.3 250.0h3.4v1.7h-3.4zM189.2 250.0h3.4v1.7h-3.4zM194.0 250.0h1.8v1.7h-1.8zM282.4 250.0h1.8v1.7h-1.8zM256.6 251.6h1.8v1.7h-1.8zM261.5 251.6h1.8v1.7h-1.8zM269.5 251.6h1.8v1.7h-1.8zM155.4 253.2h1.8v1.7h-1.8zM163.5 253.2h1.8v1.7h-1.8zM166.7 253.2h3.4v1.7h-3.4zM182.7 253.2h1.8v1.7h-1.8zM197.2 253.2h1.8v1.7h-1.8zM200.4 253.2h1.8v1.7h-1.8zM239.0 253.2h5.0v1.7h-5.0zM284.0 253.2h1.8v1.7h-1.8zM158.6 254.8h3.4v1.7h-3.4zM165.1 254.8h1.8v1.7h-1.8zM184.3 254.8h1.8v1.7h-1.8zM202.0 254.8h1.8v1.7h-1.8zM221.3 254.8h1.8v1.7h-1.8zM237.4 254.8h3.4v1.7h-3.4zM242.2 254.8h1.8v1.7h-1.8zM284.0 254.8h1.8v1.7h-1.8zM158.6 256.4h1.8v1.7h-1.8zM176.3 256.4h1.8v1.7h-1.8zM192.4 256.4h1.8v1.7h-1.8zM195.6 256.4h1.8v1.7h-1.8zM200.4 256.4h5.0v1.7h-5.0zM219.7 256.4h1.8v1.7h-1.8zM237.4 256.4h1.8v1.7h-1.8zM282.4 256.4h1.8v1.7h-1.8zM179.5 258.0h1.8v1.7h-1.8zM182.7 258.0h1.8v1.7h-1.8zM227.7 258.0h1.8v1.7h-1.8zM230.9 258.0h1.8v1.7h-1.8zM287.2 258.0h1.8v1.7h-1.8zM179.5 259.6h6.6v1.7h-6.6zM208.4 259.6h3.4v1.7h-3.4zM213.3 259.6h1.8v1.7h-1.8zM240.6 259.6h1.8v1.7h-1.8zM245.4 259.6h1.8v1.7h-1.8zM284.0 259.6h1.8v1.7h-1.8zM287.2 259.6h1.8v1.7h-1.8zM181.1 261.2h1.8v1.7h-1.8zM213.3 261.2h3.4v1.7h-3.4zM226.1 261.2h1.8v1.7h-1.8zM239.0 261.2h1.8v1.7h-1.8zM243.8 261.2h1.8v1.7h-1.8zM284.0 261.2h1.8v1.7h-1.8zM208.4 262.8h1.8v1.7h-1.8zM227.7 262.8h1.8v1.7h-1.8zM230.9 262.8h1.8v1.7h-1.8zM234.2 262.8h3.4v1.7h-3.4zM242.2 262.8h1.8v1.7h-1.8zM245.4 262.8h1.8v1.7h-1.8zM284.0 262.8h1.8v1.7h-1.8zM226.1 264.4h1.8v1.7h-1.8zM230.9 264.4h1.8v1.7h-1.8zM245.4 264.4h1.8v1.7h-1.8zM288.8 264.4h1.8v1.7h-1.8zM205.2 266.0h1.8v1.7h-1.8zM218.1 266.0h1.8v1.7h-1.8zM239.0 266.0h1.8v1.7h-1.8zM245.4 266.0h1.8v1.7h-1.8zM285.6 266.0h1.8v1.7h-1.8zM247.0 267.6h1.8v1.7h-1.8zM285.6 267.6h3.4v1.7h-3.4zM198.8 269.2h3.4v1.7h-3.4zM247.0 269.2h1.8v1.7h-1.8zM182.7 270.8h1.8v1.7h-1.8zM197.2 270.8h3.4v1.7h-3.4zM245.4 270.8h3.4v1.7h-3.4zM198.8 272.4h1.8v1.7h-1.8zM237.4 272.4h3.4v1.7h-3.4zM242.2 272.4h1.8v1.7h-1.8zM194.0 274.0h1.8v1.7h-1.8zM239.0 274.0h3.4v1.7h-3.4zM243.8 274.0h1.8v1.7h-1.8zM284.0 274.0h1.8v1.7h-1.8zM185.9 275.6h1.8v1.7h-1.8zM202.0 275.6h1.8v1.7h-1.8zM222.9 275.6h1.8v1.7h-1.8zM234.2 275.6h1.8v1.7h-1.8zM284.0 275.6h1.8v1.7h-1.8zM287.2 275.6h1.8v1.7h-1.8zM179.5 277.2h1.8v1.7h-1.8zM194.0 277.2h1.8v1.7h-1.8zM200.4 277.2h1.8v1.7h-1.8zM206.8 277.2h1.8v1.7h-1.8zM219.7 277.2h3.4v1.7h-3.4zM234.2 277.2h3.4v1.7h-3.4zM177.9 278.8h1.8v1.7h-1.8zM197.2 278.8h1.8v1.7h-1.8zM239.0 278.8h1.8v1.7h-1.8zM280.7 278.8h1.8v1.7h-1.8zM179.5 280.4h1.8v1.7h-1.8zM194.0 280.4h3.4v1.7h-3.4zM198.8 280.4h5.0v1.7h-5.0zM227.7 280.4h1.8v1.7h-1.8zM237.4 280.4h1.8v1.7h-1.8zM242.2 280.4h3.4v1.7h-3.4zM181.1 282.0h3.4v1.7h-3.4zM195.6 282.0h3.4v1.7h-3.4zM200.4 282.0h1.8v1.7h-1.8zM230.9 282.0h3.4v1.7h-3.4zM247.0 282.0h1.8v1.7h-1.8zM279.1 282.0h1.8v1.7h-1.8zM282.4 282.0h1.8v1.7h-1.8zM237.4 283.6h3.4v1.7h-3.4zM242.2 283.6h1.8v1.7h-1.8zM182.7 285.2h1.8v1.7h-1.8zM187.6 285.2h1.8v1.7h-1.8zM239.0 285.2h1.8v1.7h-1.8zM242.2 285.2h1.8v1.7h-1.8zM245.4 285.2h3.4v1.7h-3.4zM282.4 285.2h1.8v1.7h-1.8zM174.7 286.8h1.8v1.7h-1.8zM177.9 286.8h1.8v1.7h-1.8zM277.5 286.8h1.8v1.7h-1.8zM177.9 288.4h1.8v1.7h-1.8zM240.6 288.4h5.0v1.7h-5.0zM280.7 288.4h3.4v1.7h-3.4zM174.7 290.0h1.8v1.7h-1.8zM243.8 290.0h1.8v1.7h-1.8zM247.0 290.0h1.8v1.7h-1.8zM274.3 290.0h1.8v1.7h-1.8zM243.8 291.6h1.8v1.7h-1.8zM251.8 291.6h1.8v1.7h-1.8zM274.3 291.6h1.8v1.7h-1.8zM243.8 293.2h1.8v1.7h-1.8zM251.8 293.2h1.8v1.7h-1.8zM255.0 293.2h1.8v1.7h-1.8zM279.1 293.2h5.0v1.7h-5.0zM174.7 294.8h1.8v1.7h-1.8zM255.0 294.8h1.8v1.7h-1.8zM279.1 294.8h1.8v1.7h-1.8zM150.6 296.4h1.8v1.7h-1.8zM157.0 296.4h3.4v1.7h-3.4zM161.8 296.4h1.8v1.7h-1.8zM165.1 296.4h1.8v1.7h-1.8zM168.3 296.4h3.4v1.7h-3.4zM263.1 296.4h1.8v1.7h-1.8zM274.3 296.4h1.8v1.7h-1.8zM277.5 296.4h1.8v1.7h-1.8zM171.5 298.0h3.4v1.7h-3.4zM259.9 298.0h3.4v1.7h-3.4zM168.3 299.6h1.8v1.7h-1.8zM171.5 299.6h1.8v1.7h-1.8zM261.5 299.6h3.4v1.7h-3.4zM277.5 299.6h1.8v1.7h-1.8zM173.1 301.2h3.4v1.7h-3.4zM189.2 301.2h1.8v1.7h-1.8zM194.0 301.2h1.8v1.7h-1.8zM211.7 301.2h1.8v1.7h-1.8zM259.9 301.2h1.8v1.7h-1.8zM275.9 301.2h1.8v1.7h-1.8zM150.6 302.8h1.8v1.7h-1.8zM158.6 302.8h1.8v1.7h-1.8zM168.3 302.8h3.4v1.7h-3.4zM174.7 302.8h1.8v1.7h-1.8zM208.4 302.8h6.6v1.7h-6.6zM258.3 302.8h1.8v1.7h-1.8zM274.3 302.8h3.4v1.7h-3.4zM176.3 304.4h1.8v1.7h-1.8zM155.4 306.0h5.0v1.7h-5.0zM163.5 306.0h1.8v1.7h-1.8zM169.9 306.0h1.8v1.7h-1.8zM182.7 306.0h1.8v1.7h-1.8zM253.4 306.0h1.8v1.7h-1.8zM150.6 307.6h1.8v1.7h-1.8zM176.3 307.6h1.8v1.7h-1.8zM218.1 307.6h1.8v1.7h-1.8zM237.4 307.6h1.8v1.7h-1.8zM277.5 307.6h1.8v1.7h-1.8zM219.7 309.2h1.8v1.7h-1.8zM229.3 309.2h1.8v1.7h-1.8zM280.7 309.2h1.8v1.7h-1.8zM150.6 310.8h1.8v1.7h-1.8zM158.6 310.8h1.8v1.7h-1.8zM176.3 310.8h1.8v1.7h-1.8zM279.1 310.8h1.8v1.7h-1.8zM150.6 312.4h5.0v1.7h-5.0zM282.4 312.4h1.8v1.7h-1.8zM153.8 314.0h1.8v1.7h-1.8zM285.6 315.6h1.8v1.7h-1.8z"/>
<path fill="#d1bbc1" d="M153.8 184.4h1.8v1.7h-1.8zM214.9 184.4h1.8v1.7h-1.8zM153.8 186.0h1.8v1.7h-1.8zM216.5 186.0h3.4v1.7h-3.4zM157.0 187.6h1.8v1.7h-1.8zM161.8 187.6h1.8v1.7h-1.8zM192.4 187.6h1.8v1.7h-1.8zM197.2 190.8h1.8v1.7h-1.8zM208.4 190.8h1.8v1.7h-1.8zM214.9 190.8h1.8v1.7h-1.8zM221.3 190.8h1.8v1.7h-1.8zM192.4 192.4h3.4v1.7h-3.4zM198.8 192.4h1.8v1.7h-1.8zM208.4 192.4h3.4v1.7h-3.4zM213.3 192.4h1.8v1.7h-1.8zM222.9 192.4h1.8v1.7h-1.8zM229.3 194.0h1.8v1.7h-1.8zM235.8 194.0h1.8v1.7h-1.8zM171.5 195.6h1.8v1.7h-1.8zM174.7 195.6h3.4v1.7h-3.4zM192.4 195.6h1.8v1.7h-1.8zM203.6 195.6h5.0v1.7h-5.0zM211.7 195.6h1.8v1.7h-1.8zM216.5 195.6h1.8v1.7h-1.8zM219.7 195.6h1.8v1.7h-1.8zM234.2 195.6h1.8v1.7h-1.8zM237.4 195.6h8.2v1.7h-8.2zM171.5 197.2h1.8v1.7h-1.8zM200.4 197.2h1.8v1.7h-1.8zM216.5 197.2h1.8v1.7h-1.8zM229.3 197.2h3.4v1.7h-3.4zM239.0 197.2h1.8v1.7h-1.8zM242.2 197.2h1.8v1.7h-1.8zM250.2 197.2h1.8v1.7h-1.8zM277.5 197.2h1.8v1.7h-1.8zM280.7 197.2h1.8v1.7h-1.8zM165.1 198.8h1.8v1.7h-1.8zM197.2 198.8h1.8v1.7h-1.8zM203.6 198.8h1.8v1.7h-1.8zM218.1 198.8h1.8v1.7h-1.8zM235.8 198.8h1.8v1.7h-1.8zM239.0 198.8h1.8v1.7h-1.8zM253.4 198.8h1.8v1.7h-1.8zM271.1 198.8h1.8v1.7h-1.8zM274.3 198.8h1.8v1.7h-1.8zM206.8 200.4h1.8v1.7h-1.8zM263.1 200.4h1.8v1.7h-1.8zM269.5 200.4h1.8v1.7h-1.8zM157.0 202.0h1.8v1.7h-1.8zM216.5 202.0h3.4v1.7h-3.4zM203.6 203.6h1.8v1.7h-1.8zM222.9 203.6h3.4v1.7h-3.4zM234.2 203.6h1.8v1.7h-1.8zM243.8 203.6h3.4v1.7h-3.4zM192.4 205.2h1.8v1.7h-1.8zM198.8 205.2h5.0v1.7h-5.0zM261.5 205.2h1.8v1.7h-1.8zM267.9 205.2h1.8v1.7h-1.8zM288.8 205.2h1.8v1.7h-1.8zM203.6 206.8h1.8v1.7h-1.8zM247.0 206.8h1.8v1.7h-1.8zM263.1 206.8h1.8v1.7h-1.8zM192.4 208.4h1.8v1.7h-1.8zM203.6 208.4h1.8v1.7h-1.8zM253.4 208.4h1.8v1.7h-1.8zM259.9 208.4h3.4v1.7h-3.4zM264.7 208.4h3.4v1.7h-3.4zM163.5 210.0h1.8v1.7h-1.8zM189.2 210.0h1.8v1.7h-1.8zM192.4 210.0h3.4v1.7h-3.4zM203.6 210.0h1.8v1.7h-1.8zM239.0 210.0h1.8v1.7h-1.8zM253.4 210.0h1.8v1.7h-1.8zM258.3 210.0h1.8v1.7h-1.8zM266.3 210.0h1.8v1.7h-1.8zM187.6 211.6h1.8v1.7h-1.8zM202.0 211.6h1.8v1.7h-1.8zM251.8 211.6h1.8v1.7h-1.8zM255.0 211.6h3.4v1.7h-3.4zM259.9 211.6h1.8v1.7h-1.8zM266.3 211.6h1.8v1.7h-1.8zM168.3 213.2h1.8v1.7h-1.8zM237.4 213.2h3.4v1.7h-3.4zM267.9 213.2h3.4v1.7h-3.4zM171.5 214.8h3.4v1.7h-3.4zM237.4 214.8h3.4v1.7h-3.4zM269.5 214.8h1.8v1.7h-1.8zM288.8 214.8h1.8v1.7h-1.8zM237.4 216.4h5.0v1.7h-5.0zM243.8 216.4h1.8v1.7h-1.8zM287.2 216.4h1.8v1.7h-1.8zM169.9 218.0h3.4v1.7h-3.4zM239.0 218.0h3.4v1.7h-3.4zM248.6 218.0h1.8v1.7h-1.8zM267.9 218.0h3.4v1.7h-3.4zM272.7 218.0h1.8v1.7h-1.8zM279.1 218.0h1.8v1.7h-1.8zM282.4 218.0h1.8v1.7h-1.8zM287.2 218.0h1.8v1.7h-1.8zM169.9 219.6h3.4v1.7h-3.4zM251.8 219.6h1.8v1.7h-1.8zM266.3 219.6h3.4v1.7h-3.4zM171.5 221.2h1.8v1.7h-1.8zM250.2 221.2h1.8v1.7h-1.8zM256.6 221.2h1.8v1.7h-1.8zM171.5 222.8h1.8v1.7h-1.8zM174.7 222.8h1.8v1.7h-1.8zM248.6 222.8h5.0v1.7h-5.0zM256.6 222.8h3.4v1.7h-3.4zM264.7 222.8h3.4v1.7h-3.4zM168.3 224.4h1.8v1.7h-1.8zM174.7 224.4h1.8v1.7h-1.8zM263.1 224.4h1.8v1.7h-1.8zM248.6 226.0h1.8v1.7h-1.8zM259.9 226.0h3.4v1.7h-3.4zM171.5 227.6h3.4v1.7h-3.4zM250.2 227.6h3.4v1.7h-3.4zM255.0 227.6h3.4v1.7h-3.4zM169.9 229.2h5.0v1.7h-5.0zM251.8 229.2h1.8v1.7h-1.8zM255.0 229.2h1.8v1.7h-1.8zM258.3 229.2h1.8v1.7h-1.8zM163.5 230.8h1.8v1.7h-1.8zM166.7 230.8h1.8v1.7h-1.8zM250.2 230.8h11.4v1.7h-11.4zM157.0 232.4h1.8v1.7h-1.8zM165.1 232.4h1.8v1.7h-1.8zM168.3 232.4h1.8v1.7h-1.8zM248.6 232.4h1.8v1.7h-1.8zM150.6 234.0h1.8v1.7h-1.8zM176.3 234.0h3.4v1.7h-3.4zM194.0 234.0h1.8v1.7h-1.8zM250.2 234.0h1.8v1.7h-1.8zM253.4 234.0h1.8v1.7h-1.8zM256.6 234.0h3.4v1.7h-3.4zM271.1 234.0h1.8v1.7h-1.8zM161.8 235.6h1.8v1.7h-1.8zM165.1 235.6h3.4v1.7h-3.4zM171.5 235.6h1.8v1.7h-1.8zM173.1 237.2h3.4v1.7h-3.4zM258.3 237.2h1.8v1.7h-1.8zM266.3 237.2h3.4v1.7h-3.4zM272.7 237.2h5.0v1.7h-5.0zM152.2 238.8h3.4v1.7h-3.4zM253.4 238.8h3.4v1.7h-3.4zM280.7 238.8h1.8v1.7h-1.8zM150.6 240.4h1.8v1.7h-1.8zM284.0 240.4h3.4v1.7h-3.4zM248.6 242.0h3.4v1.7h-3.4zM163.5 243.6h1.8v1.7h-1.8zM163.5 245.2h5.0v1.7h-5.0zM176.3 245.2h1.8v1.7h-1.8zM250.2 245.2h3.4v1.7h-3.4zM168.3 246.8h1.8v1.7h-1.8zM187.6 246.8h1.8v1.7h-1.8zM248.6 246.8h1.8v1.7h-1.8zM282.4 246.8h1.8v1.7h-1.8zM171.5 248.4h5.0v1.7h-5.0zM253.4 248.4h1.8v1.7h-1.8zM274.3 248.4h1.8v1.7h-1.8zM280.7 248.4h1.8v1.7h-1.8zM169.9 250.0h3.4v1.7h-3.4zM185.9 250.0h1.8v1.7h-1.8zM248.6 251.6h5.0v1.7h-5.0zM255.0 251.6h1.8v1.7h-1.8zM259.9 251.6h1.8v1.7h-1.8zM263.1 251.6h1.8v1.7h-1.8zM267.9 251.6h1.8v1.7h-1.8zM277.5 251.6h1.8v1.7h-1.8zM176.3 253.2h3.4v1.7h-3.4zM184.3 253.2h1.8v1.7h-1.8zM194.0 253.2h3.4v1.7h-3.4zM198.8 253.2h1.8v1.7h-1.8zM222.9 253.2h1.8v1.7h-1.8zM245.4 253.2h1.8v1.7h-1.8zM282.4 253.2h1.8v1.7h-1.8zM155.4 254.8h3.4v1.7h-3.4zM163.5 254.8h1.8v1.7h-1.8zM168.3 254.8h1.8v1.7h-1.8zM177.9 254.8h1.8v1.7h-1.8zM200.4 254.8h1.8v1.7h-1.8zM219.7 254.8h1.8v1.7h-1.8zM240.6 254.8h1.8v1.7h-1.8zM243.8 254.8h1.8v1.7h-1.8zM155.4 256.4h3.4v1.7h-3.4zM161.8 256.4h8.2v1.7h-8.2zM190.8 256.4h1.8v1.7h-1.8zM194.0 256.4h1.8v1.7h-1.8zM197.2 256.4h3.4v1.7h-3.4zM221.3 256.4h3.4v1.7h-3.4zM240.6 256.4h1.8v1.7h-1.8zM245.4 256.4h1.8v1.7h-1.8zM280.7 256.4h1.8v1.7h-1.8zM184.3 258.0h1.8v1.7h-1.8zM205.2 258.0h1.8v1.7h-1.8zM216.5 258.0h1.8v1.7h-1.8zM226.1 258.0h1.8v1.7h-1.8zM234.2 258.0h1.8v1.7h-1.8zM242.2 258.0h1.8v1.7h-1.8zM176.3 259.6h1.8v1.7h-1.8zM192.4 259.6h1.8v1.7h-1.8zM216.5 259.6h1.8v1.7h-1.8zM224.5 259.6h3.4v1.7h-3.4zM239.0 259.6h1.8v1.7h-1.8zM242.2 259.6h3.4v1.7h-3.4zM247.0 259.6h1.8v1.7h-1.8zM280.7 259.6h3.4v1.7h-3.4zM182.7 261.2h1.8v1.7h-1.8zM208.4 261.2h1.8v1.7h-1.8zM211.7 261.2h1.8v1.7h-1.8zM216.5 261.2h1.8v1.7h-1.8zM237.4 261.2h1.8v1.7h-1.8zM247.0 261.2h1.8v1.7h-1.8zM279.1 261.2h1.8v1.7h-1.8zM282.4 261.2h1.8v1.7h-1.8zM210.0 262.8h3.4v1.7h-3.4zM224.5 262.8h3.4v1.7h-3.4zM240.6 262.8h1.8v1.7h-1.8zM243.8 262.8h1.8v1.7h-1.8zM279.1 262.8h1.8v1.7h-1.8zM208.4 264.4h3.4v1.7h-3.4zM214.9 264.4h1.8v1.7h-1.8zM227.7 264.4h1.8v1.7h-1.8zM232.5 264.4h1.8v1.7h-1.8zM235.8 264.4h1.8v1.7h-1.8zM242.2 264.4h3.4v1.7h-3.4zM285.6 264.4h1.8v1.7h-1.8zM197.2 266.0h1.8v1.7h-1.8zM247.0 266.0h1.8v1.7h-1.8zM282.4 266.0h3.4v1.7h-3.4zM287.2 266.0h1.8v1.7h-1.8zM198.8 267.6h5.0v1.7h-5.0zM182.7 269.2h1.8v1.7h-1.8zM192.4 269.2h6.6v1.7h-6.6zM284.0 269.2h1.8v1.7h-1.8zM287.2 269.2h1.8v1.7h-1.8zM181.1 270.8h1.8v1.7h-1.8zM184.3 270.8h1.8v1.7h-1.8zM192.4 270.8h1.8v1.7h-1.8zM243.8 270.8h1.8v1.7h-1.8zM285.6 270.8h1.8v1.7h-1.8zM181.1 272.4h5.0v1.7h-5.0zM192.4 272.4h1.8v1.7h-1.8zM240.6 272.4h1.8v1.7h-1.8zM243.8 272.4h1.8v1.7h-1.8zM285.6 272.4h1.8v1.7h-1.8zM177.9 274.0h3.4v1.7h-3.4zM195.6 274.0h1.8v1.7h-1.8zM245.4 274.0h1.8v1.7h-1.8zM282.4 274.0h1.8v1.7h-1.8zM192.4 275.6h1.8v1.7h-1.8zM200.4 275.6h1.8v1.7h-1.8zM176.3 277.2h1.8v1.7h-1.8zM195.6 277.2h5.0v1.7h-5.0zM202.0 277.2h1.8v1.7h-1.8zM222.9 277.2h1.8v1.7h-1.8zM226.1 277.2h1.8v1.7h-1.8zM230.9 277.2h1.8v1.7h-1.8zM245.4 277.2h1.8v1.7h-1.8zM280.7 277.2h3.4v1.7h-3.4zM198.8 278.8h1.8v1.7h-1.8zM237.4 278.8h1.8v1.7h-1.8zM240.6 278.8h5.0v1.7h-5.0zM247.0 278.8h1.8v1.7h-1.8zM250.2 278.8h1.8v1.7h-1.8zM176.3 280.4h1.8v1.7h-1.8zM239.0 280.4h3.4v1.7h-3.4zM247.0 280.4h1.8v1.7h-1.8zM253.4 280.4h1.8v1.7h-1.8zM279.1 280.4h3.4v1.7h-3.4zM185.9 282.0h1.8v1.7h-1.8zM240.6 282.0h1.8v1.7h-1.8zM243.8 282.0h3.4v1.7h-3.4zM280.7 282.0h1.8v1.7h-1.8zM181.1 283.6h1.8v1.7h-1.8zM185.9 283.6h1.8v1.7h-1.8zM240.6 283.6h1.8v1.7h-1.8zM243.8 283.6h1.8v1.7h-1.8zM253.4 283.6h1.8v1.7h-1.8zM181.1 285.2h1.8v1.7h-1.8zM237.4 285.2h1.8v1.7h-1.8zM240.6 285.2h1.8v1.7h-1.8zM243.8 285.2h1.8v1.7h-1.8zM248.6 285.2h1.8v1.7h-1.8zM253.4 285.2h1.8v1.7h-1.8zM279.1 285.2h3.4v1.7h-3.4zM168.3 286.8h1.8v1.7h-1.8zM173.1 286.8h1.8v1.7h-1.8zM248.6 286.8h1.8v1.7h-1.8zM255.0 286.8h3.4v1.7h-3.4zM259.9 286.8h1.8v1.7h-1.8zM269.5 286.8h1.8v1.7h-1.8zM272.7 286.8h1.8v1.7h-1.8zM275.9 286.8h1.8v1.7h-1.8zM245.4 288.4h3.4v1.7h-3.4zM253.4 288.4h1.8v1.7h-1.8zM279.1 288.4h1.8v1.7h-1.8zM251.8 290.0h3.4v1.7h-3.4zM168.3 291.6h3.4v1.7h-3.4zM248.6 291.6h1.8v1.7h-1.8zM255.0 291.6h1.8v1.7h-1.8zM173.1 293.2h3.4v1.7h-3.4zM250.2 293.2h1.8v1.7h-1.8zM248.6 294.8h1.8v1.7h-1.8zM251.8 294.8h1.8v1.7h-1.8zM256.6 294.8h3.4v1.7h-3.4zM280.7 294.8h1.8v1.7h-1.8zM152.2 296.4h5.0v1.7h-5.0zM160.2 296.4h1.8v1.7h-1.8zM163.5 296.4h1.8v1.7h-1.8zM166.7 296.4h1.8v1.7h-1.8zM272.7 296.4h1.8v1.7h-1.8zM169.9 298.0h1.8v1.7h-1.8zM263.1 298.0h1.8v1.7h-1.8zM150.6 299.6h6.6v1.7h-6.6zM158.6 299.6h1.8v1.7h-1.8zM161.8 299.6h6.6v1.7h-6.6zM169.9 299.6h1.8v1.7h-1.8zM274.3 299.6h3.4v1.7h-3.4zM152.2 301.2h1.8v1.7h-1.8zM158.6 301.2h1.8v1.7h-1.8zM168.3 301.2h1.8v1.7h-1.8zM171.5 301.2h1.8v1.7h-1.8zM206.8 301.2h1.8v1.7h-1.8zM261.5 301.2h1.8v1.7h-1.8zM274.3 301.2h1.8v1.7h-1.8zM155.4 302.8h1.8v1.7h-1.8zM160.2 302.8h8.2v1.7h-8.2zM171.5 302.8h1.8v1.7h-1.8zM189.2 302.8h5.0v1.7h-5.0zM259.9 302.8h1.8v1.7h-1.8zM263.1 302.8h1.8v1.7h-1.8zM272.7 302.8h1.8v1.7h-1.8zM179.5 304.4h3.4v1.7h-3.4zM216.5 304.4h1.8v1.7h-1.8zM160.2 306.0h3.4v1.7h-3.4zM165.1 306.0h3.4v1.7h-3.4zM171.5 306.0h1.8v1.7h-1.8zM198.8 306.0h1.8v1.7h-1.8zM202.0 306.0h1.8v1.7h-1.8zM213.3 306.0h3.4v1.7h-3.4zM250.2 306.0h3.4v1.7h-3.4zM272.7 306.0h1.8v1.7h-1.8zM152.2 307.6h3.4v1.7h-3.4zM239.0 307.6h3.4v1.7h-3.4zM230.9 309.2h1.8v1.7h-1.8zM279.1 309.2h1.8v1.7h-1.8zM169.9 310.8h1.8v1.7h-1.8zM218.1 310.8h1.8v1.7h-1.8zM227.7 310.8h3.4v1.7h-3.4zM155.4 312.4h1.8v1.7h-1.8zM219.7 312.4h1.8v1.7h-1.8zM152.2 314.0h1.8v1.7h-1.8zM152.2 315.6h1.8v1.7h-1.8zM284.0 315.6h1.8v1.7h-1.8z"/>
<path fill="#d3b2b8" d="M150.6 184.4h1.8v1.7h-1.8zM208.4 184.4h1.8v1.7h-1.8zM211.7 184.4h3.4v1.7h-3.4zM150.6 186.0h3.4v1.7h-3.4zM214.9 186.0h1.8v1.7h-1.8zM168.3 187.6h1.8v1.7h-1.8zM194.0 187.6h1.8v1.7h-1.8zM197.2 187.6h5.0v1.7h-5.0zM157.0 189.2h3.4v1.7h-3.4zM222.9 189.2h1.8v1.7h-1.8zM192.4 190.8h1.8v1.7h-1.8zM200.4 190.8h1.8v1.7h-1.8zM210.0 190.8h3.4v1.7h-3.4zM216.5 190.8h3.4v1.7h-3.4zM171.5 192.4h1.8v1.7h-1.8zM176.3 192.4h1.8v1.7h-1.8zM195.6 192.4h3.4v1.7h-3.4zM200.4 192.4h1.8v1.7h-1.8zM205.2 192.4h1.8v1.7h-1.8zM211.7 192.4h1.8v1.7h-1.8zM214.9 192.4h3.4v1.7h-3.4zM221.3 192.4h1.8v1.7h-1.8zM210.0 194.0h1.8v1.7h-1.8zM227.7 194.0h1.8v1.7h-1.8zM230.9 194.0h5.0v1.7h-5.0zM237.4 194.0h1.8v1.7h-1.8zM245.4 194.0h1.8v1.7h-1.8zM181.1 195.6h5.0v1.7h-5.0zM190.8 195.6h1.8v1.7h-1.8zM202.0 195.6h1.8v1.7h-1.8zM218.1 195.6h1.8v1.7h-1.8zM226.1 195.6h1.8v1.7h-1.8zM173.1 197.2h1.8v1.7h-1.8zM176.3 197.2h1.8v1.7h-1.8zM192.4 197.2h1.8v1.7h-1.8zM195.6 197.2h1.8v1.7h-1.8zM202.0 197.2h1.8v1.7h-1.8zM206.8 197.2h1.8v1.7h-1.8zM219.7 197.2h1.8v1.7h-1.8zM227.7 197.2h1.8v1.7h-1.8zM234.2 197.2h1.8v1.7h-1.8zM237.4 197.2h1.8v1.7h-1.8zM243.8 197.2h1.8v1.7h-1.8zM248.6 197.2h1.8v1.7h-1.8zM168.3 198.8h1.8v1.7h-1.8zM198.8 198.8h3.4v1.7h-3.4zM227.7 198.8h8.2v1.7h-8.2zM240.6 198.8h5.0v1.7h-5.0zM247.0 198.8h1.8v1.7h-1.8zM251.8 198.8h1.8v1.7h-1.8zM285.6 198.8h1.8v1.7h-1.8zM161.8 200.4h1.8v1.7h-1.8zM203.6 200.4h1.8v1.7h-1.8zM218.1 200.4h1.8v1.7h-1.8zM232.5 200.4h1.8v1.7h-1.8zM235.8 200.4h1.8v1.7h-1.8zM240.6 200.4h1.8v1.7h-1.8zM264.7 200.4h5.0v1.7h-5.0zM290.4 200.4h1.8v1.7h-1.8zM158.6 202.0h1.8v1.7h-1.8zM205.2 202.0h3.4v1.7h-3.4zM235.8 202.0h1.8v1.7h-1.8zM292.0 202.0h1.8v1.7h-1.8zM163.5 205.2h3.4v1.7h-3.4zM194.0 205.2h3.4v1.7h-3.4zM253.4 205.2h1.8v1.7h-1.8zM258.3 205.2h1.8v1.7h-1.8zM274.3 205.2h1.8v1.7h-1.8zM290.4 205.2h1.8v1.7h-1.8zM161.8 206.8h1.8v1.7h-1.8zM261.5 206.8h1.8v1.7h-1.8zM264.7 206.8h1.8v1.7h-1.8zM267.9 206.8h1.8v1.7h-1.8zM194.0 208.4h1.8v1.7h-1.8zM198.8 208.4h1.8v1.7h-1.8zM250.2 208.4h1.8v1.7h-1.8zM258.3 208.4h1.8v1.7h-1.8zM269.5 208.4h1.8v1.7h-1.8zM165.1 210.0h1.8v1.7h-1.8zM184.3 210.0h1.8v1.7h-1.8zM197.2 210.0h1.8v1.7h-1.8zM200.4 210.0h3.4v1.7h-3.4zM250.2 210.0h3.4v1.7h-3.4zM255.0 210.0h3.4v1.7h-3.4zM165.1 211.6h1.8v1.7h-1.8zM179.5 211.6h1.8v1.7h-1.8zM195.6 211.6h6.6v1.7h-6.6zM245.4 211.6h1.8v1.7h-1.8zM250.2 211.6h1.8v1.7h-1.8zM258.3 211.6h1.8v1.7h-1.8zM240.6 213.2h5.0v1.7h-5.0zM240.6 214.8h5.0v1.7h-5.0zM272.7 214.8h1.8v1.7h-1.8zM280.7 218.0h1.8v1.7h-1.8zM173.1 219.6h1.8v1.7h-1.8zM248.6 219.6h3.4v1.7h-3.4zM271.1 219.6h1.8v1.7h-1.8zM275.9 219.6h3.4v1.7h-3.4zM169.9 224.4h1.8v1.7h-1.8zM259.9 224.4h3.4v1.7h-3.4zM169.9 226.0h3.4v1.7h-3.4zM174.7 226.0h1.8v1.7h-1.8zM250.2 226.0h5.0v1.7h-5.0zM161.8 230.8h1.8v1.7h-1.8zM165.1 230.8h1.8v1.7h-1.8zM168.3 230.8h1.8v1.7h-1.8zM174.7 230.8h1.8v1.7h-1.8zM160.2 232.4h5.0v1.7h-5.0zM166.7 232.4h1.8v1.7h-1.8zM173.1 232.4h3.4v1.7h-3.4zM258.3 232.4h1.8v1.7h-1.8zM251.8 234.0h1.8v1.7h-1.8zM255.0 234.0h1.8v1.7h-1.8zM259.9 234.0h3.4v1.7h-3.4zM264.7 234.0h1.8v1.7h-1.8zM160.2 235.6h1.8v1.7h-1.8zM155.4 237.2h1.8v1.7h-1.8zM158.6 237.2h1.8v1.7h-1.8zM155.4 238.8h1.8v1.7h-1.8zM256.6 238.8h1.8v1.7h-1.8zM259.9 238.8h1.8v1.7h-1.8zM263.1 238.8h1.8v1.7h-1.8zM274.3 238.8h1.8v1.7h-1.8zM152.2 240.4h3.4v1.7h-3.4zM250.2 240.4h5.0v1.7h-5.0zM155.4 242.0h1.8v1.7h-1.8zM251.8 242.0h3.4v1.7h-3.4zM165.1 243.6h3.4v1.7h-3.4zM169.9 243.6h1.8v1.7h-1.8zM173.1 243.6h3.4v1.7h-3.4zM251.8 243.6h1.8v1.7h-1.8zM279.1 243.6h1.8v1.7h-1.8zM168.3 245.2h3.4v1.7h-3.4zM253.4 245.2h1.8v1.7h-1.8zM282.4 245.2h1.8v1.7h-1.8zM173.1 246.8h3.4v1.7h-3.4zM250.2 246.8h1.8v1.7h-1.8zM250.2 248.4h3.4v1.7h-3.4zM272.7 248.4h1.8v1.7h-1.8zM187.6 250.0h1.8v1.7h-1.8zM251.8 250.0h1.8v1.7h-1.8zM272.7 250.0h3.4v1.7h-3.4zM280.7 250.0h1.8v1.7h-1.8zM258.3 251.6h1.8v1.7h-1.8zM275.9 251.6h1.8v1.7h-1.8zM185.9 253.2h1.8v1.7h-1.8zM189.2 253.2h5.0v1.7h-5.0zM243.8 253.2h1.8v1.7h-1.8zM247.0 253.2h1.8v1.7h-1.8zM161.8 254.8h1.8v1.7h-1.8zM176.3 254.8h1.8v1.7h-1.8zM194.0 254.8h6.6v1.7h-6.6zM222.9 254.8h1.8v1.7h-1.8zM245.4 254.8h3.4v1.7h-3.4zM160.2 256.4h1.8v1.7h-1.8zM185.9 256.4h1.8v1.7h-1.8zM189.2 256.4h1.8v1.7h-1.8zM239.0 256.4h1.8v1.7h-1.8zM247.0 256.4h1.8v1.7h-1.8zM279.1 256.4h1.8v1.7h-1.8zM150.6 258.0h5.0v1.7h-5.0zM177.9 258.0h1.8v1.7h-1.8zM237.4 258.0h1.8v1.7h-1.8zM240.6 258.0h1.8v1.7h-1.8zM243.8 258.0h3.4v1.7h-3.4zM282.4 258.0h1.8v1.7h-1.8zM177.9 259.6h1.8v1.7h-1.8zM190.8 259.6h1.8v1.7h-1.8zM194.0 259.6h1.8v1.7h-1.8zM197.2 259.6h1.8v1.7h-1.8zM200.4 259.6h1.8v1.7h-1.8zM205.2 259.6h1.8v1.7h-1.8zM214.9 259.6h1.8v1.7h-1.8zM218.1 259.6h6.6v1.7h-6.6zM237.4 259.6h1.8v1.7h-1.8zM279.1 259.6h1.8v1.7h-1.8zM179.5 261.2h1.8v1.7h-1.8zM184.3 261.2h1.8v1.7h-1.8zM189.2 261.2h5.0v1.7h-5.0zM197.2 261.2h1.8v1.7h-1.8zM221.3 261.2h5.0v1.7h-5.0zM280.7 261.2h1.8v1.7h-1.8zM194.0 262.8h1.8v1.7h-1.8zM213.3 262.8h5.0v1.7h-5.0zM221.3 262.8h1.8v1.7h-1.8zM237.4 262.8h3.4v1.7h-3.4zM247.0 262.8h1.8v1.7h-1.8zM282.4 262.8h1.8v1.7h-1.8zM287.2 262.8h1.8v1.7h-1.8zM211.7 264.4h3.4v1.7h-3.4zM216.5 264.4h1.8v1.7h-1.8zM224.5 264.4h1.8v1.7h-1.8zM234.2 264.4h1.8v1.7h-1.8zM240.6 264.4h1.8v1.7h-1.8zM247.0 264.4h1.8v1.7h-1.8zM284.0 264.4h1.8v1.7h-1.8zM181.1 266.0h1.8v1.7h-1.8zM200.4 266.0h5.0v1.7h-5.0zM206.8 266.0h1.8v1.7h-1.8zM279.1 266.0h1.8v1.7h-1.8zM192.4 267.6h1.8v1.7h-1.8zM197.2 267.6h1.8v1.7h-1.8zM282.4 267.6h3.4v1.7h-3.4zM176.3 269.2h1.8v1.7h-1.8zM179.5 269.2h3.4v1.7h-3.4zM184.3 269.2h1.8v1.7h-1.8zM190.8 269.2h1.8v1.7h-1.8zM279.1 269.2h1.8v1.7h-1.8zM282.4 269.2h1.8v1.7h-1.8zM189.2 270.8h3.4v1.7h-3.4zM195.6 270.8h1.8v1.7h-1.8zM287.2 270.8h1.8v1.7h-1.8zM179.5 272.4h1.8v1.7h-1.8zM190.8 272.4h1.8v1.7h-1.8zM194.0 272.4h5.0v1.7h-5.0zM245.4 272.4h3.4v1.7h-3.4zM287.2 272.4h1.8v1.7h-1.8zM176.3 274.0h1.8v1.7h-1.8zM176.3 275.6h1.8v1.7h-1.8zM194.0 275.6h6.6v1.7h-6.6zM237.4 275.6h8.2v1.7h-8.2zM174.7 277.2h1.8v1.7h-1.8zM177.9 277.2h1.8v1.7h-1.8zM239.0 277.2h3.4v1.7h-3.4zM243.8 277.2h1.8v1.7h-1.8zM279.1 277.2h1.8v1.7h-1.8zM251.8 278.8h3.4v1.7h-3.4zM169.9 280.4h1.8v1.7h-1.8zM174.7 280.4h1.8v1.7h-1.8zM177.9 280.4h1.8v1.7h-1.8zM250.2 280.4h3.4v1.7h-3.4zM277.5 280.4h1.8v1.7h-1.8zM237.4 282.0h3.4v1.7h-3.4zM242.2 282.0h1.8v1.7h-1.8zM250.2 282.0h1.8v1.7h-1.8zM253.4 282.0h1.8v1.7h-1.8zM187.6 283.6h1.8v1.7h-1.8zM280.7 283.6h1.8v1.7h-1.8zM176.3 285.2h1.8v1.7h-1.8zM179.5 285.2h1.8v1.7h-1.8zM250.2 285.2h3.4v1.7h-3.4zM274.3 285.2h1.8v1.7h-1.8zM150.6 286.8h1.8v1.7h-1.8zM153.8 286.8h1.8v1.7h-1.8zM169.9 286.8h1.8v1.7h-1.8zM258.3 286.8h1.8v1.7h-1.8zM250.2 288.4h1.8v1.7h-1.8zM168.3 290.0h1.8v1.7h-1.8zM173.1 290.0h1.8v1.7h-1.8zM250.2 290.0h1.8v1.7h-1.8zM272.7 290.0h1.8v1.7h-1.8zM277.5 290.0h1.8v1.7h-1.8zM153.8 291.6h1.8v1.7h-1.8zM163.5 291.6h5.0v1.7h-5.0zM171.5 291.6h1.8v1.7h-1.8zM256.6 291.6h1.8v1.7h-1.8zM259.9 291.6h1.8v1.7h-1.8zM275.9 291.6h1.8v1.7h-1.8zM168.3 293.2h1.8v1.7h-1.8zM256.6 293.2h3.4v1.7h-3.4zM169.9 294.8h1.8v1.7h-1.8zM173.1 294.8h1.8v1.7h-1.8zM259.9 294.8h1.8v1.7h-1.8zM261.5 296.4h1.8v1.7h-1.8zM269.5 296.4h1.8v1.7h-1.8zM275.9 296.4h1.8v1.7h-1.8zM152.2 298.0h3.4v1.7h-3.4zM158.6 298.0h3.4v1.7h-3.4zM168.3 298.0h1.8v1.7h-1.8zM174.7 298.0h1.8v1.7h-1.8zM277.5 298.0h1.8v1.7h-1.8zM157.0 299.6h1.8v1.7h-1.8zM160.2 299.6h1.8v1.7h-1.8zM264.7 299.6h1.8v1.7h-1.8zM272.7 299.6h1.8v1.7h-1.8zM150.6 301.2h1.8v1.7h-1.8zM155.4 301.2h1.8v1.7h-1.8zM160.2 301.2h1.8v1.7h-1.8zM163.5 301.2h1.8v1.7h-1.8zM169.9 301.2h1.8v1.7h-1.8zM263.1 301.2h1.8v1.7h-1.8zM157.0 302.8h1.8v1.7h-1.8zM185.9 302.8h3.4v1.7h-3.4zM194.0 302.8h3.4v1.7h-3.4zM206.8 302.8h1.8v1.7h-1.8zM261.5 302.8h1.8v1.7h-1.8zM269.5 302.8h1.8v1.7h-1.8zM152.2 304.4h3.4v1.7h-3.4zM173.1 304.4h1.8v1.7h-1.8zM177.9 304.4h1.8v1.7h-1.8zM182.7 304.4h1.8v1.7h-1.8zM274.3 304.4h3.4v1.7h-3.4zM184.3 306.0h1.8v1.7h-1.8zM200.4 306.0h1.8v1.7h-1.8zM203.6 306.0h3.4v1.7h-3.4zM248.6 306.0h1.8v1.7h-1.8zM255.0 306.0h1.8v1.7h-1.8zM269.5 306.0h1.8v1.7h-1.8zM158.6 307.6h1.8v1.7h-1.8zM174.7 307.6h1.8v1.7h-1.8zM177.9 307.6h1.8v1.7h-1.8zM181.1 307.6h1.8v1.7h-1.8zM216.5 307.6h1.8v1.7h-1.8zM242.2 307.6h1.8v1.7h-1.8zM150.6 309.2h1.8v1.7h-1.8zM218.1 309.2h1.8v1.7h-1.8zM232.5 309.2h1.8v1.7h-1.8zM155.4 310.8h3.4v1.7h-3.4zM163.5 310.8h3.4v1.7h-3.4zM171.5 310.8h5.0v1.7h-5.0zM177.9 310.8h1.8v1.7h-1.8zM216.5 310.8h1.8v1.7h-1.8zM218.1 312.4h1.8v1.7h-1.8zM221.3 312.4h3.4v1.7h-3.4zM280.7 312.4h1.8v1.7h-1.8zM282.4 314.0h1.8v1.7h-1.8zM150.6 315.6h1.8v1.7h-1.8zM153.8 315.6h1.8v1.7h-1.8zM169.9 315.6h1.8v1.7h-1.8zM287.2 315.6h1.8v1.7h-1.8z"/>
<path fill="#d5a9af" d="M152.2 184.4h1.8v1.7h-1.8zM210.0 184.4h1.8v1.7h-1.8zM213.3 186.0h1.8v1.7h-1.8zM165.1 187.6h3.4v1.7h-3.4zM169.9 187.6h1.8v1.7h-1.8zM190.8 187.6h1.8v1.7h-1.8zM195.6 187.6h1.8v1.7h-1.8zM202.0 187.6h3.4v1.7h-3.4zM160.2 189.2h1.8v1.7h-1.8zM219.7 189.2h1.8v1.7h-1.8zM195.6 190.8h1.8v1.7h-1.8zM198.8 190.8h1.8v1.7h-1.8zM205.2 190.8h1.8v1.7h-1.8zM173.1 192.4h1.8v1.7h-1.8zM182.7 192.4h1.8v1.7h-1.8zM190.8 192.4h1.8v1.7h-1.8zM218.1 192.4h3.4v1.7h-3.4zM171.5 194.0h1.8v1.7h-1.8zM197.2 194.0h1.8v1.7h-1.8zM208.4 194.0h1.8v1.7h-1.8zM211.7 194.0h1.8v1.7h-1.8zM226.1 194.0h1.8v1.7h-1.8zM242.2 194.0h1.8v1.7h-1.8zM177.9 195.6h3.4v1.7h-3.4zM189.2 195.6h1.8v1.7h-1.8zM221.3 195.6h5.0v1.7h-5.0zM174.7 197.2h1.8v1.7h-1.8zM181.1 197.2h3.4v1.7h-3.4zM194.0 197.2h1.8v1.7h-1.8zM218.1 197.2h1.8v1.7h-1.8zM226.1 197.2h1.8v1.7h-1.8zM240.6 197.2h1.8v1.7h-1.8zM247.0 197.2h1.8v1.7h-1.8zM166.7 198.8h1.8v1.7h-1.8zM169.9 198.8h1.8v1.7h-1.8zM202.0 198.8h1.8v1.7h-1.8zM219.7 198.8h1.8v1.7h-1.8zM237.4 198.8h1.8v1.7h-1.8zM245.4 198.8h1.8v1.7h-1.8zM255.0 198.8h3.4v1.7h-3.4zM284.0 198.8h1.8v1.7h-1.8zM287.2 198.8h1.8v1.7h-1.8zM163.5 200.4h1.8v1.7h-1.8zM219.7 200.4h1.8v1.7h-1.8zM229.3 200.4h1.8v1.7h-1.8zM237.4 200.4h3.4v1.7h-3.4zM245.4 200.4h1.8v1.7h-1.8zM272.7 200.4h1.8v1.7h-1.8zM288.8 200.4h1.8v1.7h-1.8zM160.2 202.0h1.8v1.7h-1.8zM203.6 202.0h1.8v1.7h-1.8zM234.2 202.0h1.8v1.7h-1.8zM242.2 202.0h1.8v1.7h-1.8zM247.0 203.6h1.8v1.7h-1.8zM263.1 203.6h1.8v1.7h-1.8zM267.9 203.6h1.8v1.7h-1.8zM250.2 205.2h3.4v1.7h-3.4zM271.1 205.2h3.4v1.7h-3.4zM163.5 206.8h1.8v1.7h-1.8zM195.6 206.8h3.4v1.7h-3.4zM200.4 206.8h1.8v1.7h-1.8zM253.4 206.8h1.8v1.7h-1.8zM259.9 206.8h1.8v1.7h-1.8zM266.3 206.8h1.8v1.7h-1.8zM290.4 206.8h1.8v1.7h-1.8zM190.8 208.4h1.8v1.7h-1.8zM197.2 208.4h1.8v1.7h-1.8zM200.4 208.4h3.4v1.7h-3.4zM251.8 208.4h1.8v1.7h-1.8zM256.6 208.4h1.8v1.7h-1.8zM290.4 208.4h1.8v1.7h-1.8zM182.7 210.0h1.8v1.7h-1.8zM185.9 210.0h1.8v1.7h-1.8zM195.6 210.0h1.8v1.7h-1.8zM198.8 210.0h1.8v1.7h-1.8zM248.6 210.0h1.8v1.7h-1.8zM267.9 210.0h1.8v1.7h-1.8zM290.4 210.0h1.8v1.7h-1.8zM237.4 211.6h1.8v1.7h-1.8zM240.6 211.6h5.0v1.7h-5.0zM267.9 211.6h1.8v1.7h-1.8zM169.9 213.2h1.8v1.7h-1.8zM174.7 213.2h1.8v1.7h-1.8zM285.6 214.8h1.8v1.7h-1.8zM272.7 216.4h3.4v1.7h-3.4zM282.4 216.4h3.4v1.7h-3.4zM271.1 218.0h1.8v1.7h-1.8zM275.9 218.0h3.4v1.7h-3.4zM255.0 222.8h1.8v1.7h-1.8zM248.6 224.4h3.4v1.7h-3.4zM253.4 224.4h1.8v1.7h-1.8zM258.3 226.0h1.8v1.7h-1.8zM169.9 230.8h1.8v1.7h-1.8zM173.1 230.8h1.8v1.7h-1.8zM174.7 234.0h1.8v1.7h-1.8zM171.5 237.2h1.8v1.7h-1.8zM271.1 237.2h1.8v1.7h-1.8zM269.5 238.8h1.8v1.7h-1.8zM279.1 238.8h1.8v1.7h-1.8zM155.4 240.4h1.8v1.7h-1.8zM158.6 240.4h1.8v1.7h-1.8zM282.4 240.4h1.8v1.7h-1.8zM157.0 242.0h3.4v1.7h-3.4zM163.5 242.0h1.8v1.7h-1.8zM282.4 242.0h1.8v1.7h-1.8zM259.9 243.6h1.8v1.7h-1.8zM280.7 243.6h1.8v1.7h-1.8zM280.7 245.2h1.8v1.7h-1.8zM169.9 246.8h1.8v1.7h-1.8zM251.8 246.8h3.4v1.7h-3.4zM272.7 246.8h1.8v1.7h-1.8zM255.0 248.4h6.6v1.7h-6.6zM269.5 248.4h1.8v1.7h-1.8zM275.9 248.4h5.0v1.7h-5.0zM173.1 250.0h3.4v1.7h-3.4zM250.2 250.0h1.8v1.7h-1.8zM269.5 250.0h1.8v1.7h-1.8zM264.7 251.6h3.4v1.7h-3.4zM271.1 251.6h1.8v1.7h-1.8zM169.9 253.2h1.8v1.7h-1.8zM173.1 253.2h3.4v1.7h-3.4zM187.6 253.2h1.8v1.7h-1.8zM279.1 253.2h3.4v1.7h-3.4zM166.7 254.8h1.8v1.7h-1.8zM185.9 254.8h1.8v1.7h-1.8zM190.8 254.8h1.8v1.7h-1.8zM280.7 254.8h3.4v1.7h-3.4zM169.9 256.4h1.8v1.7h-1.8zM176.3 258.0h1.8v1.7h-1.8zM192.4 258.0h3.4v1.7h-3.4zM197.2 258.0h1.8v1.7h-1.8zM206.8 258.0h1.8v1.7h-1.8zM218.1 258.0h1.8v1.7h-1.8zM221.3 258.0h1.8v1.7h-1.8zM224.5 258.0h1.8v1.7h-1.8zM239.0 258.0h1.8v1.7h-1.8zM247.0 258.0h1.8v1.7h-1.8zM279.1 258.0h1.8v1.7h-1.8zM150.6 259.6h5.0v1.7h-5.0zM158.6 259.6h1.8v1.7h-1.8zM161.8 259.6h9.8v1.7h-9.8zM195.6 259.6h1.8v1.7h-1.8zM202.0 259.6h1.8v1.7h-1.8zM206.8 259.6h1.8v1.7h-1.8zM251.8 259.6h1.8v1.7h-1.8zM274.3 259.6h1.8v1.7h-1.8zM176.3 261.2h3.4v1.7h-3.4zM194.0 261.2h3.4v1.7h-3.4zM205.2 261.2h1.8v1.7h-1.8zM218.1 261.2h3.4v1.7h-3.4zM274.3 261.2h1.8v1.7h-1.8zM181.1 262.8h1.8v1.7h-1.8zM190.8 262.8h3.4v1.7h-3.4zM195.6 262.8h3.4v1.7h-3.4zM205.2 262.8h1.8v1.7h-1.8zM218.1 262.8h3.4v1.7h-3.4zM222.9 262.8h1.8v1.7h-1.8zM280.7 262.8h1.8v1.7h-1.8zM219.7 264.4h5.0v1.7h-5.0zM237.4 264.4h3.4v1.7h-3.4zM176.3 266.0h1.8v1.7h-1.8zM182.7 266.0h1.8v1.7h-1.8zM190.8 266.0h5.0v1.7h-5.0zM198.8 266.0h1.8v1.7h-1.8zM274.3 266.0h1.8v1.7h-1.8zM280.7 266.0h1.8v1.7h-1.8zM181.1 267.6h1.8v1.7h-1.8zM190.8 267.6h1.8v1.7h-1.8zM195.6 267.6h1.8v1.7h-1.8zM280.7 267.6h1.8v1.7h-1.8zM189.2 269.2h1.8v1.7h-1.8zM176.3 270.8h1.8v1.7h-1.8zM179.5 270.8h1.8v1.7h-1.8zM194.0 270.8h1.8v1.7h-1.8zM279.1 270.8h1.8v1.7h-1.8zM282.4 270.8h3.4v1.7h-3.4zM185.9 272.4h5.0v1.7h-5.0zM284.0 272.4h1.8v1.7h-1.8zM247.0 274.0h1.8v1.7h-1.8zM245.4 275.6h3.4v1.7h-3.4zM279.1 275.6h5.0v1.7h-5.0zM173.1 277.2h1.8v1.7h-1.8zM237.4 277.2h1.8v1.7h-1.8zM242.2 277.2h1.8v1.7h-1.8zM247.0 277.2h1.8v1.7h-1.8zM250.2 277.2h1.8v1.7h-1.8zM274.3 277.2h1.8v1.7h-1.8zM174.7 278.8h1.8v1.7h-1.8zM248.6 278.8h1.8v1.7h-1.8zM274.3 278.8h1.8v1.7h-1.8zM153.8 280.4h1.8v1.7h-1.8zM255.0 280.4h1.8v1.7h-1.8zM269.5 280.4h1.8v1.7h-1.8zM272.7 280.4h3.4v1.7h-3.4zM179.5 282.0h1.8v1.7h-1.8zM248.6 282.0h1.8v1.7h-1.8zM251.8 282.0h1.8v1.7h-1.8zM176.3 283.6h1.8v1.7h-1.8zM250.2 283.6h3.4v1.7h-3.4zM274.3 283.6h1.8v1.7h-1.8zM279.1 283.6h1.8v1.7h-1.8zM255.0 285.2h1.8v1.7h-1.8zM259.9 285.2h1.8v1.7h-1.8zM269.5 285.2h1.8v1.7h-1.8zM272.7 285.2h1.8v1.7h-1.8zM152.2 286.8h1.8v1.7h-1.8zM158.6 286.8h1.8v1.7h-1.8zM165.1 286.8h1.8v1.7h-1.8zM171.5 286.8h1.8v1.7h-1.8zM261.5 286.8h5.0v1.7h-5.0zM267.9 286.8h1.8v1.7h-1.8zM271.1 286.8h1.8v1.7h-1.8zM174.7 288.4h1.8v1.7h-1.8zM251.8 288.4h1.8v1.7h-1.8zM272.7 288.4h3.4v1.7h-3.4zM277.5 288.4h1.8v1.7h-1.8zM165.1 290.0h1.8v1.7h-1.8zM169.9 290.0h1.8v1.7h-1.8zM248.6 290.0h1.8v1.7h-1.8zM256.6 290.0h5.0v1.7h-5.0zM158.6 291.6h1.8v1.7h-1.8zM258.3 291.6h1.8v1.7h-1.8zM261.5 291.6h1.8v1.7h-1.8zM269.5 291.6h1.8v1.7h-1.8zM272.7 291.6h1.8v1.7h-1.8zM158.6 293.2h1.8v1.7h-1.8zM166.7 293.2h1.8v1.7h-1.8zM169.9 293.2h3.4v1.7h-3.4zM248.6 293.2h1.8v1.7h-1.8zM274.3 293.2h1.8v1.7h-1.8zM153.8 294.8h1.8v1.7h-1.8zM158.6 294.8h1.8v1.7h-1.8zM161.8 294.8h1.8v1.7h-1.8zM168.3 294.8h1.8v1.7h-1.8zM171.5 294.8h1.8v1.7h-1.8zM261.5 294.8h1.8v1.7h-1.8zM274.3 294.8h1.8v1.7h-1.8zM277.5 294.8h1.8v1.7h-1.8zM264.7 296.4h1.8v1.7h-1.8zM267.9 296.4h1.8v1.7h-1.8zM150.6 298.0h1.8v1.7h-1.8zM157.0 298.0h1.8v1.7h-1.8zM161.8 298.0h6.6v1.7h-6.6zM274.3 298.0h1.8v1.7h-1.8zM269.5 299.6h1.8v1.7h-1.8zM157.0 301.2h1.8v1.7h-1.8zM161.8 301.2h1.8v1.7h-1.8zM165.1 301.2h1.8v1.7h-1.8zM264.7 301.2h1.8v1.7h-1.8zM272.7 301.2h1.8v1.7h-1.8zM264.7 302.8h1.8v1.7h-1.8zM150.6 304.4h1.8v1.7h-1.8zM155.4 304.4h1.8v1.7h-1.8zM168.3 304.4h1.8v1.7h-1.8zM174.7 304.4h1.8v1.7h-1.8zM200.4 304.4h3.4v1.7h-3.4zM208.4 304.4h1.8v1.7h-1.8zM214.9 304.4h1.8v1.7h-1.8zM251.8 304.4h3.4v1.7h-3.4zM272.7 304.4h1.8v1.7h-1.8zM197.2 306.0h1.8v1.7h-1.8zM208.4 306.0h1.8v1.7h-1.8zM259.9 306.0h1.8v1.7h-1.8zM155.4 307.6h3.4v1.7h-3.4zM168.3 307.6h1.8v1.7h-1.8zM173.1 307.6h1.8v1.7h-1.8zM243.8 307.6h1.8v1.7h-1.8zM274.3 307.6h3.4v1.7h-3.4zM152.2 309.2h3.4v1.7h-3.4zM176.3 309.2h1.8v1.7h-1.8zM161.8 310.8h1.8v1.7h-1.8zM166.7 310.8h3.4v1.7h-3.4zM179.5 310.8h1.8v1.7h-1.8zM230.9 310.8h1.8v1.7h-1.8zM157.0 312.4h3.4v1.7h-3.4zM163.5 312.4h3.4v1.7h-3.4zM168.3 312.4h3.4v1.7h-3.4zM176.3 312.4h1.8v1.7h-1.8zM279.1 312.4h1.8v1.7h-1.8zM150.6 314.0h1.8v1.7h-1.8zM157.0 314.0h3.4v1.7h-3.4zM169.9 314.0h1.8v1.7h-1.8zM176.3 314.0h1.8v1.7h-1.8zM219.7 314.0h1.8v1.7h-1.8zM155.4 315.6h5.0v1.7h-5.0zM168.3 315.6h1.8v1.7h-1.8zM176.3 315.6h1.8v1.7h-1.8zM219.7 315.6h3.4v1.7h-3.4zM280.7 315.6h3.4v1.7h-3.4z"/>
<path fill="#d7a0a6" d="M155.4 184.4h1.8v1.7h-1.8zM158.6 184.4h1.8v1.7h-1.8zM155.4 186.0h1.8v1.7h-1.8zM208.4 186.0h5.0v1.7h-5.0zM182.7 187.6h3.4v1.7h-3.4zM206.8 187.6h1.8v1.7h-1.8zM161.8 189.2h3.4v1.7h-3.4zM210.0 189.2h3.4v1.7h-3.4zM218.1 189.2h1.8v1.7h-1.8zM221.3 189.2h1.8v1.7h-1.8zM173.1 190.8h1.8v1.7h-1.8zM190.8 190.8h1.8v1.7h-1.8zM194.0 190.8h1.8v1.7h-1.8zM174.7 192.4h1.8v1.7h-1.8zM177.9 192.4h5.0v1.7h-5.0zM189.2 192.4h1.8v1.7h-1.8zM203.6 192.4h1.8v1.7h-1.8zM206.8 192.4h1.8v1.7h-1.8zM173.1 194.0h1.8v1.7h-1.8zM176.3 194.0h1.8v1.7h-1.8zM192.4 194.0h3.4v1.7h-3.4zM198.8 194.0h1.8v1.7h-1.8zM213.3 194.0h3.4v1.7h-3.4zM239.0 194.0h3.4v1.7h-3.4zM243.8 194.0h1.8v1.7h-1.8zM177.9 197.2h3.4v1.7h-3.4zM190.8 197.2h1.8v1.7h-1.8zM221.3 197.2h3.4v1.7h-3.4zM176.3 198.8h1.8v1.7h-1.8zM192.4 198.8h5.0v1.7h-5.0zM248.6 198.8h3.4v1.7h-3.4zM258.3 198.8h1.8v1.7h-1.8zM282.4 198.8h1.8v1.7h-1.8zM165.1 200.4h1.8v1.7h-1.8zM197.2 200.4h1.8v1.7h-1.8zM200.4 200.4h1.8v1.7h-1.8zM227.7 200.4h1.8v1.7h-1.8zM230.9 200.4h1.8v1.7h-1.8zM234.2 200.4h1.8v1.7h-1.8zM242.2 200.4h3.4v1.7h-3.4zM247.0 200.4h1.8v1.7h-1.8zM259.9 200.4h3.4v1.7h-3.4zM219.7 202.0h1.8v1.7h-1.8zM229.3 202.0h1.8v1.7h-1.8zM232.5 202.0h1.8v1.7h-1.8zM237.4 202.0h5.0v1.7h-5.0zM245.4 202.0h1.8v1.7h-1.8zM161.8 203.6h1.8v1.7h-1.8zM202.0 203.6h1.8v1.7h-1.8zM261.5 203.6h1.8v1.7h-1.8zM264.7 203.6h1.8v1.7h-1.8zM269.5 203.6h1.8v1.7h-1.8zM182.7 205.2h3.4v1.7h-3.4zM190.8 205.2h1.8v1.7h-1.8zM248.6 205.2h1.8v1.7h-1.8zM255.0 205.2h3.4v1.7h-3.4zM285.6 205.2h1.8v1.7h-1.8zM190.8 206.8h1.8v1.7h-1.8zM198.8 206.8h1.8v1.7h-1.8zM202.0 206.8h1.8v1.7h-1.8zM248.6 206.8h1.8v1.7h-1.8zM258.3 206.8h1.8v1.7h-1.8zM269.5 206.8h1.8v1.7h-1.8zM274.3 206.8h1.8v1.7h-1.8zM288.8 206.8h1.8v1.7h-1.8zM165.1 208.4h1.8v1.7h-1.8zM189.2 208.4h1.8v1.7h-1.8zM195.6 208.4h1.8v1.7h-1.8zM248.6 208.4h1.8v1.7h-1.8zM267.9 208.4h1.8v1.7h-1.8zM288.8 208.4h1.8v1.7h-1.8zM187.6 210.0h1.8v1.7h-1.8zM269.5 210.0h1.8v1.7h-1.8zM166.7 211.6h1.8v1.7h-1.8zM239.0 211.6h1.8v1.7h-1.8zM248.6 211.6h1.8v1.7h-1.8zM290.4 211.6h1.8v1.7h-1.8zM171.5 213.2h3.4v1.7h-3.4zM271.1 214.8h1.8v1.7h-1.8zM274.3 214.8h1.8v1.7h-1.8zM279.1 214.8h1.8v1.7h-1.8zM173.1 224.4h1.8v1.7h-1.8zM256.6 224.4h3.4v1.7h-3.4zM173.1 226.0h1.8v1.7h-1.8zM255.0 226.0h3.4v1.7h-3.4zM171.5 230.8h1.8v1.7h-1.8zM169.9 232.4h3.4v1.7h-3.4zM155.4 234.0h1.8v1.7h-1.8zM158.6 234.0h1.8v1.7h-1.8zM157.0 237.2h1.8v1.7h-1.8zM163.5 237.2h8.2v1.7h-8.2zM158.6 238.8h1.8v1.7h-1.8zM169.9 238.8h1.8v1.7h-1.8zM173.1 238.8h3.4v1.7h-3.4zM258.3 238.8h1.8v1.7h-1.8zM261.5 238.8h1.8v1.7h-1.8zM264.7 238.8h1.8v1.7h-1.8zM267.9 238.8h1.8v1.7h-1.8zM272.7 238.8h1.8v1.7h-1.8zM277.5 238.8h1.8v1.7h-1.8zM173.1 240.4h3.4v1.7h-3.4zM255.0 240.4h1.8v1.7h-1.8zM274.3 240.4h1.8v1.7h-1.8zM160.2 242.0h1.8v1.7h-1.8zM165.1 242.0h1.8v1.7h-1.8zM174.7 242.0h1.8v1.7h-1.8zM279.1 242.0h3.4v1.7h-3.4zM171.5 243.6h1.8v1.7h-1.8zM255.0 243.6h3.4v1.7h-3.4zM269.5 243.6h1.8v1.7h-1.8zM272.7 243.6h3.4v1.7h-3.4zM173.1 245.2h3.4v1.7h-3.4zM255.0 245.2h1.8v1.7h-1.8zM171.5 246.8h1.8v1.7h-1.8zM256.6 246.8h1.8v1.7h-1.8zM274.3 246.8h1.8v1.7h-1.8zM279.1 246.8h3.4v1.7h-3.4zM261.5 248.4h3.4v1.7h-3.4zM267.9 248.4h1.8v1.7h-1.8zM271.1 248.4h1.8v1.7h-1.8zM248.6 250.0h1.8v1.7h-1.8zM253.4 250.0h5.0v1.7h-5.0zM259.9 250.0h1.8v1.7h-1.8zM279.1 250.0h1.8v1.7h-1.8zM171.5 253.2h1.8v1.7h-1.8zM253.4 253.2h1.8v1.7h-1.8zM169.9 254.8h1.8v1.7h-1.8zM174.7 254.8h1.8v1.7h-1.8zM187.6 254.8h3.4v1.7h-3.4zM192.4 254.8h1.8v1.7h-1.8zM174.7 256.4h1.8v1.7h-1.8zM187.6 256.4h1.8v1.7h-1.8zM250.2 256.4h5.0v1.7h-5.0zM189.2 258.0h1.8v1.7h-1.8zM198.8 258.0h3.4v1.7h-3.4zM203.6 258.0h1.8v1.7h-1.8zM219.7 258.0h1.8v1.7h-1.8zM222.9 258.0h1.8v1.7h-1.8zM280.7 258.0h1.8v1.7h-1.8zM155.4 259.6h3.4v1.7h-3.4zM173.1 259.6h3.4v1.7h-3.4zM185.9 259.6h5.0v1.7h-5.0zM198.8 259.6h1.8v1.7h-1.8zM250.2 259.6h1.8v1.7h-1.8zM253.4 259.6h1.8v1.7h-1.8zM259.9 259.6h3.4v1.7h-3.4zM269.5 259.6h1.8v1.7h-1.8zM150.6 261.2h1.8v1.7h-1.8zM153.8 261.2h1.8v1.7h-1.8zM169.9 261.2h1.8v1.7h-1.8zM198.8 261.2h3.4v1.7h-3.4zM206.8 261.2h1.8v1.7h-1.8zM248.6 261.2h6.6v1.7h-6.6zM259.9 261.2h1.8v1.7h-1.8zM182.7 262.8h3.4v1.7h-3.4zM251.8 262.8h1.8v1.7h-1.8zM274.3 262.8h1.8v1.7h-1.8zM192.4 264.4h1.8v1.7h-1.8zM197.2 264.4h1.8v1.7h-1.8zM218.1 264.4h1.8v1.7h-1.8zM287.2 264.4h1.8v1.7h-1.8zM177.9 266.0h3.4v1.7h-3.4zM184.3 266.0h1.8v1.7h-1.8zM189.2 266.0h1.8v1.7h-1.8zM195.6 266.0h1.8v1.7h-1.8zM248.6 266.0h3.4v1.7h-3.4zM182.7 267.6h3.4v1.7h-3.4zM189.2 267.6h1.8v1.7h-1.8zM194.0 267.6h1.8v1.7h-1.8zM279.1 267.6h1.8v1.7h-1.8zM174.7 269.2h1.8v1.7h-1.8zM253.4 269.2h1.8v1.7h-1.8zM280.7 269.2h1.8v1.7h-1.8zM177.9 270.8h1.8v1.7h-1.8zM187.6 270.8h1.8v1.7h-1.8zM253.4 270.8h1.8v1.7h-1.8zM177.9 272.4h1.8v1.7h-1.8zM279.1 272.4h1.8v1.7h-1.8zM279.1 274.0h3.4v1.7h-3.4zM173.1 275.6h3.4v1.7h-3.4zM177.9 275.6h1.8v1.7h-1.8zM150.6 277.2h1.8v1.7h-1.8zM158.6 277.2h1.8v1.7h-1.8zM169.9 277.2h1.8v1.7h-1.8zM251.8 277.2h3.4v1.7h-3.4zM277.5 277.2h1.8v1.7h-1.8zM150.6 278.8h1.8v1.7h-1.8zM158.6 278.8h1.8v1.7h-1.8zM163.5 278.8h1.8v1.7h-1.8zM169.9 278.8h1.8v1.7h-1.8zM173.1 278.8h1.8v1.7h-1.8zM272.7 278.8h1.8v1.7h-1.8zM277.5 278.8h1.8v1.7h-1.8zM166.7 280.4h3.4v1.7h-3.4zM173.1 280.4h1.8v1.7h-1.8zM248.6 280.4h1.8v1.7h-1.8zM259.9 280.4h1.8v1.7h-1.8zM275.9 280.4h1.8v1.7h-1.8zM176.3 282.0h3.4v1.7h-3.4zM272.7 282.0h3.4v1.7h-3.4zM179.5 283.6h1.8v1.7h-1.8zM248.6 283.6h1.8v1.7h-1.8zM272.7 283.6h1.8v1.7h-1.8zM177.9 285.2h1.8v1.7h-1.8zM256.6 285.2h1.8v1.7h-1.8zM275.9 285.2h3.4v1.7h-3.4zM161.8 286.8h3.4v1.7h-3.4zM166.7 286.8h1.8v1.7h-1.8zM266.3 286.8h1.8v1.7h-1.8zM248.6 288.4h1.8v1.7h-1.8zM255.0 288.4h1.8v1.7h-1.8zM259.9 288.4h1.8v1.7h-1.8zM269.5 288.4h1.8v1.7h-1.8zM150.6 290.0h1.8v1.7h-1.8zM166.7 290.0h1.8v1.7h-1.8zM171.5 290.0h1.8v1.7h-1.8zM255.0 290.0h1.8v1.7h-1.8zM269.5 290.0h1.8v1.7h-1.8zM275.9 290.0h1.8v1.7h-1.8zM150.6 291.6h3.4v1.7h-3.4zM160.2 291.6h3.4v1.7h-3.4zM263.1 291.6h1.8v1.7h-1.8zM163.5 293.2h3.4v1.7h-3.4zM259.9 293.2h3.4v1.7h-3.4zM272.7 293.2h1.8v1.7h-1.8zM275.9 293.2h3.4v1.7h-3.4zM150.6 294.8h1.8v1.7h-1.8zM155.4 294.8h3.4v1.7h-3.4zM163.5 294.8h1.8v1.7h-1.8zM166.7 294.8h1.8v1.7h-1.8zM275.9 294.8h1.8v1.7h-1.8zM266.3 296.4h1.8v1.7h-1.8zM155.4 298.0h1.8v1.7h-1.8zM264.7 298.0h1.8v1.7h-1.8zM275.9 298.0h1.8v1.7h-1.8zM166.7 301.2h1.8v1.7h-1.8zM269.5 301.2h1.8v1.7h-1.8zM267.9 302.8h1.8v1.7h-1.8zM157.0 304.4h3.4v1.7h-3.4zM169.9 304.4h3.4v1.7h-3.4zM184.3 304.4h1.8v1.7h-1.8zM197.2 304.4h1.8v1.7h-1.8zM203.6 304.4h3.4v1.7h-3.4zM248.6 304.4h3.4v1.7h-3.4zM255.0 304.4h3.4v1.7h-3.4zM210.0 306.0h3.4v1.7h-3.4zM256.6 306.0h3.4v1.7h-3.4zM261.5 306.0h3.4v1.7h-3.4zM165.1 307.6h1.8v1.7h-1.8zM169.9 307.6h3.4v1.7h-3.4zM179.5 307.6h1.8v1.7h-1.8zM182.7 307.6h1.8v1.7h-1.8zM245.4 307.6h1.8v1.7h-1.8zM155.4 309.2h1.8v1.7h-1.8zM169.9 309.2h1.8v1.7h-1.8zM173.1 309.2h1.8v1.7h-1.8zM234.2 309.2h3.4v1.7h-3.4zM277.5 309.2h1.8v1.7h-1.8zM160.2 310.8h1.8v1.7h-1.8zM181.1 310.8h3.4v1.7h-3.4zM213.3 310.8h3.4v1.7h-3.4zM274.3 310.8h1.8v1.7h-1.8zM277.5 310.8h1.8v1.7h-1.8zM160.2 312.4h1.8v1.7h-1.8zM171.5 312.4h5.0v1.7h-5.0zM177.9 312.4h1.8v1.7h-1.8zM216.5 312.4h1.8v1.7h-1.8zM224.5 312.4h1.8v1.7h-1.8zM155.4 314.0h1.8v1.7h-1.8zM163.5 314.0h6.6v1.7h-6.6zM173.1 314.0h3.4v1.7h-3.4zM216.5 314.0h3.4v1.7h-3.4zM221.3 314.0h3.4v1.7h-3.4zM161.8 315.6h5.0v1.7h-5.0zM173.1 315.6h1.8v1.7h-1.8zM214.9 315.6h1.8v1.7h-1.8zM218.1 315.6h1.8v1.7h-1.8z"/>
<path fill="#d9979c" d="M197.2 184.4h1.8v1.7h-1.8zM181.1 187.6h1.8v1.7h-1.8zM189.2 187.6h1.8v1.7h-1.8zM165.1 189.2h1.8v1.7h-1.8zM213.3 189.2h5.0v1.7h-5.0zM171.5 190.8h1.8v1.7h-1.8zM174.7 190.8h1.8v1.7h-1.8zM182.7 190.8h3.4v1.7h-3.4zM202.0 190.8h3.4v1.7h-3.4zM206.8 190.8h1.8v1.7h-1.8zM184.3 192.4h1.8v1.7h-1.8zM202.0 192.4h1.8v1.7h-1.8zM174.7 194.0h1.8v1.7h-1.8zM195.6 194.0h1.8v1.7h-1.8zM200.4 194.0h1.8v1.7h-1.8zM205.2 194.0h1.8v1.7h-1.8zM216.5 194.0h1.8v1.7h-1.8zM184.3 197.2h1.8v1.7h-1.8zM224.5 197.2h1.8v1.7h-1.8zM173.1 198.8h1.8v1.7h-1.8zM179.5 198.8h3.4v1.7h-3.4zM221.3 198.8h3.4v1.7h-3.4zM275.9 198.8h1.8v1.7h-1.8zM279.1 198.8h1.8v1.7h-1.8zM195.6 200.4h1.8v1.7h-1.8zM198.8 200.4h1.8v1.7h-1.8zM202.0 200.4h1.8v1.7h-1.8zM221.3 200.4h3.4v1.7h-3.4zM253.4 200.4h1.8v1.7h-1.8zM271.1 200.4h1.8v1.7h-1.8zM274.3 200.4h1.8v1.7h-1.8zM197.2 202.0h1.8v1.7h-1.8zM200.4 202.0h1.8v1.7h-1.8zM221.3 202.0h3.4v1.7h-3.4zM227.7 202.0h1.8v1.7h-1.8zM230.9 202.0h1.8v1.7h-1.8zM243.8 202.0h1.8v1.7h-1.8zM263.1 202.0h1.8v1.7h-1.8zM269.5 202.0h1.8v1.7h-1.8zM290.4 202.0h1.8v1.7h-1.8zM163.5 203.6h1.8v1.7h-1.8zM197.2 203.6h5.0v1.7h-5.0zM259.9 203.6h1.8v1.7h-1.8zM288.8 203.6h3.4v1.7h-3.4zM166.7 205.2h5.0v1.7h-5.0zM189.2 205.2h1.8v1.7h-1.8zM165.1 206.8h1.8v1.7h-1.8zM192.4 206.8h3.4v1.7h-3.4zM250.2 206.8h3.4v1.7h-3.4zM255.0 206.8h1.8v1.7h-1.8zM272.7 206.8h1.8v1.7h-1.8zM182.7 208.4h3.4v1.7h-3.4zM255.0 208.4h1.8v1.7h-1.8zM274.3 208.4h1.8v1.7h-1.8zM166.7 210.0h1.8v1.7h-1.8zM181.1 210.0h1.8v1.7h-1.8zM288.8 210.0h1.8v1.7h-1.8zM168.3 211.6h1.8v1.7h-1.8zM176.3 211.6h3.4v1.7h-3.4zM269.5 211.6h1.8v1.7h-1.8zM272.7 213.2h1.8v1.7h-1.8zM282.4 214.8h3.4v1.7h-3.4zM287.2 214.8h1.8v1.7h-1.8zM271.1 216.4h1.8v1.7h-1.8zM279.1 216.4h3.4v1.7h-3.4zM171.5 224.4h1.8v1.7h-1.8zM251.8 224.4h1.8v1.7h-1.8zM255.0 224.4h1.8v1.7h-1.8zM168.3 234.0h1.8v1.7h-1.8zM173.1 234.0h1.8v1.7h-1.8zM160.2 237.2h3.4v1.7h-3.4zM157.0 238.8h1.8v1.7h-1.8zM165.1 238.8h1.8v1.7h-1.8zM171.5 238.8h1.8v1.7h-1.8zM266.3 238.8h1.8v1.7h-1.8zM275.9 238.8h1.8v1.7h-1.8zM157.0 240.4h1.8v1.7h-1.8zM160.2 240.4h6.6v1.7h-6.6zM168.3 240.4h1.8v1.7h-1.8zM256.6 240.4h1.8v1.7h-1.8zM263.1 240.4h1.8v1.7h-1.8zM272.7 240.4h1.8v1.7h-1.8zM279.1 240.4h3.4v1.7h-3.4zM166.7 242.0h3.4v1.7h-3.4zM255.0 242.0h3.4v1.7h-3.4zM274.3 242.0h1.8v1.7h-1.8zM258.3 243.6h1.8v1.7h-1.8zM277.5 243.6h1.8v1.7h-1.8zM171.5 245.2h1.8v1.7h-1.8zM279.1 245.2h1.8v1.7h-1.8zM255.0 246.8h1.8v1.7h-1.8zM259.9 246.8h1.8v1.7h-1.8zM269.5 246.8h1.8v1.7h-1.8zM264.7 248.4h1.8v1.7h-1.8zM258.3 250.0h1.8v1.7h-1.8zM263.1 250.0h1.8v1.7h-1.8zM277.5 250.0h1.8v1.7h-1.8zM250.2 253.2h3.4v1.7h-3.4zM256.6 253.2h1.8v1.7h-1.8zM259.9 253.2h1.8v1.7h-1.8zM272.7 253.2h1.8v1.7h-1.8zM171.5 254.8h1.8v1.7h-1.8zM250.2 254.8h1.8v1.7h-1.8zM279.1 254.8h1.8v1.7h-1.8zM173.1 256.4h1.8v1.7h-1.8zM259.9 256.4h1.8v1.7h-1.8zM155.4 258.0h6.6v1.7h-6.6zM163.5 258.0h1.8v1.7h-1.8zM185.9 258.0h1.8v1.7h-1.8zM190.8 258.0h1.8v1.7h-1.8zM195.6 258.0h1.8v1.7h-1.8zM202.0 258.0h1.8v1.7h-1.8zM251.8 258.0h1.8v1.7h-1.8zM160.2 259.6h1.8v1.7h-1.8zM171.5 259.6h1.8v1.7h-1.8zM203.6 259.6h1.8v1.7h-1.8zM255.0 259.6h1.8v1.7h-1.8zM263.1 259.6h3.4v1.7h-3.4zM275.9 259.6h3.4v1.7h-3.4zM155.4 261.2h1.8v1.7h-1.8zM158.6 261.2h1.8v1.7h-1.8zM161.8 261.2h3.4v1.7h-3.4zM171.5 261.2h1.8v1.7h-1.8zM174.7 261.2h1.8v1.7h-1.8zM185.9 261.2h3.4v1.7h-3.4zM203.6 261.2h1.8v1.7h-1.8zM263.1 261.2h1.8v1.7h-1.8zM272.7 261.2h1.8v1.7h-1.8zM277.5 261.2h1.8v1.7h-1.8zM153.8 262.8h1.8v1.7h-1.8zM169.9 262.8h1.8v1.7h-1.8zM174.7 262.8h6.6v1.7h-6.6zM189.2 262.8h1.8v1.7h-1.8zM200.4 262.8h1.8v1.7h-1.8zM206.8 262.8h1.8v1.7h-1.8zM248.6 262.8h3.4v1.7h-3.4zM253.4 262.8h1.8v1.7h-1.8zM259.9 262.8h1.8v1.7h-1.8zM269.5 262.8h1.8v1.7h-1.8zM272.7 262.8h1.8v1.7h-1.8zM277.5 262.8h1.8v1.7h-1.8zM190.8 264.4h1.8v1.7h-1.8zM205.2 264.4h1.8v1.7h-1.8zM280.7 264.4h3.4v1.7h-3.4zM169.9 266.0h1.8v1.7h-1.8zM173.1 266.0h3.4v1.7h-3.4zM185.9 266.0h3.4v1.7h-3.4zM251.8 266.0h3.4v1.7h-3.4zM259.9 266.0h1.8v1.7h-1.8zM263.1 266.0h1.8v1.7h-1.8zM272.7 266.0h1.8v1.7h-1.8zM277.5 266.0h1.8v1.7h-1.8zM177.9 269.2h1.8v1.7h-1.8zM185.9 269.2h3.4v1.7h-3.4zM250.2 269.2h1.8v1.7h-1.8zM259.9 269.2h1.8v1.7h-1.8zM185.9 270.8h1.8v1.7h-1.8zM280.7 270.8h1.8v1.7h-1.8zM176.3 272.4h1.8v1.7h-1.8zM280.7 272.4h3.4v1.7h-3.4zM174.7 274.0h1.8v1.7h-1.8zM251.8 274.0h1.8v1.7h-1.8zM150.6 275.6h1.8v1.7h-1.8zM158.6 275.6h1.8v1.7h-1.8zM250.2 275.6h1.8v1.7h-1.8zM253.4 275.6h1.8v1.7h-1.8zM153.8 277.2h1.8v1.7h-1.8zM157.0 277.2h1.8v1.7h-1.8zM163.5 277.2h1.8v1.7h-1.8zM168.3 277.2h1.8v1.7h-1.8zM248.6 277.2h1.8v1.7h-1.8zM272.7 277.2h1.8v1.7h-1.8zM275.9 277.2h1.8v1.7h-1.8zM153.8 278.8h1.8v1.7h-1.8zM161.8 278.8h1.8v1.7h-1.8zM166.7 278.8h1.8v1.7h-1.8zM171.5 278.8h1.8v1.7h-1.8zM255.0 278.8h1.8v1.7h-1.8zM275.9 278.8h1.8v1.7h-1.8zM150.6 280.4h1.8v1.7h-1.8zM155.4 280.4h1.8v1.7h-1.8zM158.6 280.4h1.8v1.7h-1.8zM163.5 280.4h1.8v1.7h-1.8zM171.5 280.4h1.8v1.7h-1.8zM256.6 280.4h1.8v1.7h-1.8zM255.0 282.0h1.8v1.7h-1.8zM277.5 282.0h1.8v1.7h-1.8zM177.9 283.6h1.8v1.7h-1.8zM255.0 283.6h3.4v1.7h-3.4zM275.9 283.6h1.8v1.7h-1.8zM153.8 285.2h1.8v1.7h-1.8zM169.9 285.2h1.8v1.7h-1.8zM174.7 285.2h1.8v1.7h-1.8zM258.3 285.2h1.8v1.7h-1.8zM263.1 285.2h3.4v1.7h-3.4zM267.9 285.2h1.8v1.7h-1.8zM271.1 285.2h1.8v1.7h-1.8zM155.4 286.8h3.4v1.7h-3.4zM168.3 288.4h3.4v1.7h-3.4zM173.1 288.4h1.8v1.7h-1.8zM256.6 288.4h3.4v1.7h-3.4zM275.9 288.4h1.8v1.7h-1.8zM153.8 290.0h1.8v1.7h-1.8zM163.5 290.0h1.8v1.7h-1.8zM263.1 290.0h1.8v1.7h-1.8zM155.4 291.6h3.4v1.7h-3.4zM271.1 291.6h1.8v1.7h-1.8zM152.2 293.2h3.4v1.7h-3.4zM160.2 293.2h3.4v1.7h-3.4zM263.1 293.2h1.8v1.7h-1.8zM152.2 294.8h1.8v1.7h-1.8zM160.2 294.8h1.8v1.7h-1.8zM165.1 294.8h1.8v1.7h-1.8zM263.1 294.8h1.8v1.7h-1.8zM272.7 294.8h1.8v1.7h-1.8zM269.5 298.0h1.8v1.7h-1.8zM272.7 298.0h1.8v1.7h-1.8zM266.3 299.6h3.4v1.7h-3.4zM267.9 301.2h1.8v1.7h-1.8zM266.3 302.8h1.8v1.7h-1.8zM160.2 304.4h6.6v1.7h-6.6zM198.8 304.4h1.8v1.7h-1.8zM259.9 304.4h1.8v1.7h-1.8zM263.1 304.4h1.8v1.7h-1.8zM264.7 306.0h1.8v1.7h-1.8zM267.9 306.0h1.8v1.7h-1.8zM271.1 306.0h1.8v1.7h-1.8zM163.5 307.6h1.8v1.7h-1.8zM166.7 307.6h1.8v1.7h-1.8zM214.9 307.6h1.8v1.7h-1.8zM272.7 307.6h1.8v1.7h-1.8zM157.0 309.2h3.4v1.7h-3.4zM163.5 309.2h3.4v1.7h-3.4zM168.3 309.2h1.8v1.7h-1.8zM171.5 309.2h1.8v1.7h-1.8zM174.7 309.2h1.8v1.7h-1.8zM179.5 309.2h3.4v1.7h-3.4zM216.5 309.2h1.8v1.7h-1.8zM161.8 312.4h1.8v1.7h-1.8zM166.7 312.4h1.8v1.7h-1.8zM179.5 312.4h3.4v1.7h-3.4zM213.3 312.4h3.4v1.7h-3.4zM160.2 314.0h3.4v1.7h-3.4zM177.9 314.0h1.8v1.7h-1.8zM214.9 314.0h1.8v1.7h-1.8zM279.1 314.0h3.4v1.7h-3.4zM160.2 315.6h1.8v1.7h-1.8zM166.7 315.6h1.8v1.7h-1.8zM174.7 315.6h1.8v1.7h-1.8zM179.5 315.6h3.4v1.7h-3.4zM216.5 315.6h1.8v1.7h-1.8zM222.9 315.6h1.8v1.7h-1.8zM279.1 315.6h1.8v1.7h-1.8z"/>
<path fill="#db8e93" d="M157.0 184.4h1.8v1.7h-1.8zM198.8 184.4h1.8v1.7h-1.8zM205.2 184.4h1.8v1.7h-1.8zM157.0 186.0h3.4v1.7h-3.4zM171.5 187.6h6.6v1.7h-6.6zM166.7 189.2h1.8v1.7h-1.8zM208.4 189.2h1.8v1.7h-1.8zM176.3 190.8h1.8v1.7h-1.8zM189.2 190.8h1.8v1.7h-1.8zM177.9 194.0h1.8v1.7h-1.8zM182.7 194.0h1.8v1.7h-1.8zM190.8 194.0h1.8v1.7h-1.8zM203.6 194.0h1.8v1.7h-1.8zM206.8 194.0h1.8v1.7h-1.8zM218.1 194.0h8.2v1.7h-8.2zM187.6 195.6h1.8v1.7h-1.8zM189.2 197.2h1.8v1.7h-1.8zM171.5 198.8h1.8v1.7h-1.8zM174.7 198.8h1.8v1.7h-1.8zM182.7 198.8h1.8v1.7h-1.8zM190.8 198.8h1.8v1.7h-1.8zM226.1 198.8h1.8v1.7h-1.8zM166.7 200.4h5.0v1.7h-5.0zM192.4 200.4h3.4v1.7h-3.4zM226.1 200.4h1.8v1.7h-1.8zM250.2 200.4h3.4v1.7h-3.4zM255.0 200.4h1.8v1.7h-1.8zM285.6 200.4h1.8v1.7h-1.8zM161.8 202.0h3.4v1.7h-3.4zM202.0 202.0h1.8v1.7h-1.8zM224.5 202.0h1.8v1.7h-1.8zM247.0 202.0h1.8v1.7h-1.8zM261.5 202.0h1.8v1.7h-1.8zM264.7 202.0h3.4v1.7h-3.4zM192.4 203.6h1.8v1.7h-1.8zM266.3 203.6h1.8v1.7h-1.8zM173.1 205.2h1.8v1.7h-1.8zM176.3 205.2h1.8v1.7h-1.8zM179.5 205.2h3.4v1.7h-3.4zM284.0 205.2h1.8v1.7h-1.8zM189.2 206.8h1.8v1.7h-1.8zM256.6 206.8h1.8v1.7h-1.8zM166.7 208.4h1.8v1.7h-1.8zM272.7 208.4h1.8v1.7h-1.8zM179.5 210.0h1.8v1.7h-1.8zM288.8 211.6h1.8v1.7h-1.8zM285.6 213.2h1.8v1.7h-1.8zM280.7 214.8h1.8v1.7h-1.8zM275.9 216.4h1.8v1.7h-1.8zM157.0 234.0h1.8v1.7h-1.8zM160.2 234.0h1.8v1.7h-1.8zM163.5 234.0h3.4v1.7h-3.4zM171.5 234.0h1.8v1.7h-1.8zM160.2 238.8h5.0v1.7h-5.0zM166.7 238.8h3.4v1.7h-3.4zM271.1 238.8h1.8v1.7h-1.8zM171.5 240.4h1.8v1.7h-1.8zM258.3 240.4h5.0v1.7h-5.0zM264.7 240.4h1.8v1.7h-1.8zM269.5 240.4h1.8v1.7h-1.8zM277.5 240.4h1.8v1.7h-1.8zM161.8 242.0h1.8v1.7h-1.8zM169.9 242.0h1.8v1.7h-1.8zM173.1 242.0h1.8v1.7h-1.8zM272.7 242.0h1.8v1.7h-1.8zM261.5 243.6h3.4v1.7h-3.4zM267.9 243.6h1.8v1.7h-1.8zM256.6 245.2h1.8v1.7h-1.8zM259.9 245.2h1.8v1.7h-1.8zM272.7 245.2h3.4v1.7h-3.4zM258.3 246.8h1.8v1.7h-1.8zM261.5 246.8h3.4v1.7h-3.4zM266.3 248.4h1.8v1.7h-1.8zM261.5 250.0h1.8v1.7h-1.8zM275.9 250.0h1.8v1.7h-1.8zM248.6 253.2h1.8v1.7h-1.8zM255.0 253.2h1.8v1.7h-1.8zM261.5 253.2h3.4v1.7h-3.4zM274.3 253.2h1.8v1.7h-1.8zM173.1 254.8h1.8v1.7h-1.8zM251.8 254.8h3.4v1.7h-3.4zM259.9 254.8h1.8v1.7h-1.8zM274.3 254.8h1.8v1.7h-1.8zM171.5 256.4h1.8v1.7h-1.8zM248.6 256.4h1.8v1.7h-1.8zM256.6 256.4h1.8v1.7h-1.8zM261.5 256.4h3.4v1.7h-3.4zM269.5 256.4h1.8v1.7h-1.8zM272.7 256.4h3.4v1.7h-3.4zM277.5 256.4h1.8v1.7h-1.8zM161.8 258.0h1.8v1.7h-1.8zM165.1 258.0h6.6v1.7h-6.6zM174.7 258.0h1.8v1.7h-1.8zM187.6 258.0h1.8v1.7h-1.8zM253.4 258.0h1.8v1.7h-1.8zM248.6 259.6h1.8v1.7h-1.8zM256.6 259.6h3.4v1.7h-3.4zM267.9 259.6h1.8v1.7h-1.8zM272.7 259.6h1.8v1.7h-1.8zM152.2 261.2h1.8v1.7h-1.8zM165.1 261.2h5.0v1.7h-5.0zM173.1 261.2h1.8v1.7h-1.8zM202.0 261.2h1.8v1.7h-1.8zM255.0 261.2h3.4v1.7h-3.4zM261.5 261.2h1.8v1.7h-1.8zM267.9 261.2h3.4v1.7h-3.4zM150.6 262.8h1.8v1.7h-1.8zM158.6 262.8h1.8v1.7h-1.8zM173.1 262.8h1.8v1.7h-1.8zM198.8 262.8h1.8v1.7h-1.8zM202.0 262.8h3.4v1.7h-3.4zM256.6 262.8h1.8v1.7h-1.8zM263.1 262.8h1.8v1.7h-1.8zM184.3 264.4h1.8v1.7h-1.8zM279.1 264.4h1.8v1.7h-1.8zM153.8 266.0h1.8v1.7h-1.8zM158.6 266.0h1.8v1.7h-1.8zM166.7 266.0h1.8v1.7h-1.8zM258.3 266.0h1.8v1.7h-1.8zM261.5 266.0h1.8v1.7h-1.8zM264.7 266.0h1.8v1.7h-1.8zM269.5 266.0h1.8v1.7h-1.8zM275.9 266.0h1.8v1.7h-1.8zM179.5 267.6h1.8v1.7h-1.8zM248.6 267.6h1.8v1.7h-1.8zM251.8 267.6h1.8v1.7h-1.8zM158.6 269.2h1.8v1.7h-1.8zM163.5 269.2h1.8v1.7h-1.8zM248.6 269.2h1.8v1.7h-1.8zM251.8 269.2h1.8v1.7h-1.8zM255.0 269.2h1.8v1.7h-1.8zM272.7 269.2h3.4v1.7h-3.4zM153.8 270.8h1.8v1.7h-1.8zM163.5 270.8h1.8v1.7h-1.8zM169.9 270.8h1.8v1.7h-1.8zM174.7 270.8h1.8v1.7h-1.8zM248.6 270.8h5.0v1.7h-5.0zM259.9 270.8h1.8v1.7h-1.8zM274.3 270.8h1.8v1.7h-1.8zM153.8 274.0h1.8v1.7h-1.8zM158.6 274.0h1.8v1.7h-1.8zM169.9 274.0h1.8v1.7h-1.8zM173.1 274.0h1.8v1.7h-1.8zM248.6 274.0h3.4v1.7h-3.4zM253.4 274.0h1.8v1.7h-1.8zM274.3 274.0h1.8v1.7h-1.8zM153.8 275.6h1.8v1.7h-1.8zM168.3 275.6h5.0v1.7h-5.0zM251.8 275.6h1.8v1.7h-1.8zM274.3 275.6h1.8v1.7h-1.8zM277.5 275.6h1.8v1.7h-1.8zM155.4 277.2h1.8v1.7h-1.8zM160.2 277.2h3.4v1.7h-3.4zM165.1 277.2h3.4v1.7h-3.4zM171.5 277.2h1.8v1.7h-1.8zM155.4 278.8h1.8v1.7h-1.8zM165.1 278.8h1.8v1.7h-1.8zM168.3 278.8h1.8v1.7h-1.8zM256.6 278.8h1.8v1.7h-1.8zM259.9 278.8h1.8v1.7h-1.8zM269.5 278.8h1.8v1.7h-1.8zM152.2 280.4h1.8v1.7h-1.8zM165.1 280.4h1.8v1.7h-1.8zM261.5 280.4h3.4v1.7h-3.4zM256.6 282.0h1.8v1.7h-1.8zM259.9 282.0h1.8v1.7h-1.8zM269.5 282.0h1.8v1.7h-1.8zM169.9 283.6h1.8v1.7h-1.8zM174.7 283.6h1.8v1.7h-1.8zM258.3 283.6h3.4v1.7h-3.4zM269.5 283.6h1.8v1.7h-1.8zM277.5 283.6h1.8v1.7h-1.8zM163.5 285.2h3.4v1.7h-3.4zM173.1 285.2h1.8v1.7h-1.8zM261.5 285.2h1.8v1.7h-1.8zM160.2 286.8h1.8v1.7h-1.8zM163.5 288.4h1.8v1.7h-1.8zM166.7 288.4h1.8v1.7h-1.8zM171.5 288.4h1.8v1.7h-1.8zM152.2 290.0h1.8v1.7h-1.8zM155.4 290.0h1.8v1.7h-1.8zM158.6 290.0h1.8v1.7h-1.8zM161.8 290.0h1.8v1.7h-1.8zM261.5 290.0h1.8v1.7h-1.8zM267.9 291.6h1.8v1.7h-1.8zM150.6 293.2h1.8v1.7h-1.8zM155.4 293.2h3.4v1.7h-3.4zM269.5 293.2h1.8v1.7h-1.8zM264.7 294.8h1.8v1.7h-1.8zM269.5 294.8h1.8v1.7h-1.8zM271.1 296.4h1.8v1.7h-1.8zM266.3 298.0h1.8v1.7h-1.8zM266.3 301.2h1.8v1.7h-1.8zM166.7 304.4h1.8v1.7h-1.8zM210.0 304.4h5.0v1.7h-5.0zM258.3 304.4h1.8v1.7h-1.8zM261.5 304.4h1.8v1.7h-1.8zM185.9 306.0h1.8v1.7h-1.8zM206.8 306.0h1.8v1.7h-1.8zM160.2 307.6h3.4v1.7h-3.4zM184.3 307.6h1.8v1.7h-1.8zM200.4 307.6h1.8v1.7h-1.8zM247.0 307.6h1.8v1.7h-1.8zM177.9 309.2h1.8v1.7h-1.8zM214.9 309.2h1.8v1.7h-1.8zM240.6 309.2h1.8v1.7h-1.8zM274.3 309.2h1.8v1.7h-1.8zM208.4 310.8h1.8v1.7h-1.8zM232.5 310.8h1.8v1.7h-1.8zM182.7 312.4h1.8v1.7h-1.8zM211.7 312.4h1.8v1.7h-1.8zM226.1 312.4h3.4v1.7h-3.4zM274.3 312.4h1.8v1.7h-1.8zM171.5 314.0h1.8v1.7h-1.8zM179.5 314.0h1.8v1.7h-1.8zM213.3 314.0h1.8v1.7h-1.8zM224.5 314.0h3.4v1.7h-3.4zM171.5 315.6h1.8v1.7h-1.8zM177.9 315.6h1.8v1.7h-1.8zM182.7 315.6h1.8v1.7h-1.8zM208.4 315.6h1.8v1.7h-1.8zM211.7 315.6h3.4v1.7h-3.4zM224.5 315.6h3.4v1.7h-3.4zM274.3 315.6h1.8v1.7h-1.8z"/>
<path fill="#dd868a" d="M160.2 184.4h1.8v1.7h-1.8zM163.5 184.4h1.8v1.7h-1.8zM192.4 184.4h5.0v1.7h-5.0zM200.4 184.4h1.8v1.7h-1.8zM203.6 184.4h1.8v1.7h-1.8zM163.5 186.0h1.8v1.7h-1.8zM192.4 186.0h1.8v1.7h-1.8zM205.2 186.0h1.8v1.7h-1.8zM179.5 187.6h1.8v1.7h-1.8zM187.6 187.6h1.8v1.7h-1.8zM168.3 189.2h3.4v1.7h-3.4zM192.4 189.2h3.4v1.7h-3.4zM197.2 189.2h1.8v1.7h-1.8zM200.4 189.2h1.8v1.7h-1.8zM205.2 189.2h1.8v1.7h-1.8zM179.5 190.8h3.4v1.7h-3.4zM179.5 194.0h3.4v1.7h-3.4zM184.3 194.0h1.8v1.7h-1.8zM202.0 194.0h1.8v1.7h-1.8zM185.9 195.6h1.8v1.7h-1.8zM177.9 198.8h1.8v1.7h-1.8zM184.3 198.8h1.8v1.7h-1.8zM224.5 198.8h1.8v1.7h-1.8zM277.5 198.8h1.8v1.7h-1.8zM176.3 200.4h1.8v1.7h-1.8zM190.8 200.4h1.8v1.7h-1.8zM224.5 200.4h1.8v1.7h-1.8zM256.6 200.4h3.4v1.7h-3.4zM198.8 202.0h1.8v1.7h-1.8zM226.1 202.0h1.8v1.7h-1.8zM267.9 202.0h1.8v1.7h-1.8zM288.8 202.0h1.8v1.7h-1.8zM165.1 203.6h1.8v1.7h-1.8zM195.6 203.6h1.8v1.7h-1.8zM253.4 203.6h1.8v1.7h-1.8zM272.7 203.6h3.4v1.7h-3.4zM174.7 205.2h1.8v1.7h-1.8zM279.1 205.2h1.8v1.7h-1.8zM287.2 205.2h1.8v1.7h-1.8zM166.7 206.8h1.8v1.7h-1.8zM184.3 206.8h1.8v1.7h-1.8zM169.9 208.4h1.8v1.7h-1.8zM181.1 208.4h1.8v1.7h-1.8zM168.3 210.0h3.4v1.7h-3.4zM176.3 210.0h1.8v1.7h-1.8zM169.9 211.6h1.8v1.7h-1.8zM271.1 213.2h1.8v1.7h-1.8zM274.3 213.2h1.8v1.7h-1.8zM287.2 213.2h1.8v1.7h-1.8zM277.5 216.4h1.8v1.7h-1.8zM161.8 234.0h1.8v1.7h-1.8zM166.7 234.0h1.8v1.7h-1.8zM169.9 234.0h1.8v1.7h-1.8zM166.7 240.4h1.8v1.7h-1.8zM169.9 240.4h1.8v1.7h-1.8zM266.3 240.4h3.4v1.7h-3.4zM275.9 240.4h1.8v1.7h-1.8zM171.5 242.0h1.8v1.7h-1.8zM258.3 242.0h6.6v1.7h-6.6zM269.5 242.0h1.8v1.7h-1.8zM275.9 243.6h1.8v1.7h-1.8zM269.5 245.2h1.8v1.7h-1.8zM267.9 246.8h1.8v1.7h-1.8zM277.5 246.8h1.8v1.7h-1.8zM267.9 250.0h1.8v1.7h-1.8zM271.1 250.0h1.8v1.7h-1.8zM264.7 253.2h1.8v1.7h-1.8zM267.9 253.2h1.8v1.7h-1.8zM277.5 253.2h1.8v1.7h-1.8zM248.6 254.8h1.8v1.7h-1.8zM255.0 254.8h5.0v1.7h-5.0zM261.5 254.8h3.4v1.7h-3.4zM272.7 254.8h1.8v1.7h-1.8zM277.5 254.8h1.8v1.7h-1.8zM264.7 256.4h1.8v1.7h-1.8zM248.6 258.0h3.4v1.7h-3.4zM259.9 258.0h1.8v1.7h-1.8zM263.1 258.0h1.8v1.7h-1.8zM274.3 258.0h1.8v1.7h-1.8zM277.5 258.0h1.8v1.7h-1.8zM266.3 259.6h1.8v1.7h-1.8zM258.3 261.2h1.8v1.7h-1.8zM264.7 261.2h1.8v1.7h-1.8zM275.9 261.2h1.8v1.7h-1.8zM152.2 262.8h1.8v1.7h-1.8zM155.4 262.8h1.8v1.7h-1.8zM160.2 262.8h6.6v1.7h-6.6zM168.3 262.8h1.8v1.7h-1.8zM185.9 262.8h3.4v1.7h-3.4zM255.0 262.8h1.8v1.7h-1.8zM261.5 262.8h1.8v1.7h-1.8zM267.9 262.8h1.8v1.7h-1.8zM275.9 262.8h1.8v1.7h-1.8zM181.1 264.4h3.4v1.7h-3.4zM189.2 264.4h1.8v1.7h-1.8zM194.0 264.4h3.4v1.7h-3.4zM198.8 264.4h3.4v1.7h-3.4zM203.6 264.4h1.8v1.7h-1.8zM248.6 264.4h6.6v1.7h-6.6zM274.3 264.4h1.8v1.7h-1.8zM150.6 266.0h1.8v1.7h-1.8zM163.5 266.0h3.4v1.7h-3.4zM168.3 266.0h1.8v1.7h-1.8zM255.0 266.0h3.4v1.7h-3.4zM267.9 266.0h1.8v1.7h-1.8zM176.3 267.6h3.4v1.7h-3.4zM185.9 267.6h3.4v1.7h-3.4zM253.4 267.6h1.8v1.7h-1.8zM274.3 267.6h1.8v1.7h-1.8zM150.6 269.2h1.8v1.7h-1.8zM153.8 269.2h1.8v1.7h-1.8zM168.3 269.2h3.4v1.7h-3.4zM173.1 269.2h1.8v1.7h-1.8zM256.6 269.2h3.4v1.7h-3.4zM261.5 269.2h3.4v1.7h-3.4zM269.5 269.2h1.8v1.7h-1.8zM275.9 269.2h3.4v1.7h-3.4zM150.6 270.8h1.8v1.7h-1.8zM158.6 270.8h1.8v1.7h-1.8zM161.8 270.8h1.8v1.7h-1.8zM256.6 270.8h1.8v1.7h-1.8zM261.5 270.8h1.8v1.7h-1.8zM269.5 270.8h1.8v1.7h-1.8zM272.7 270.8h1.8v1.7h-1.8zM153.8 272.4h1.8v1.7h-1.8zM163.5 272.4h1.8v1.7h-1.8zM174.7 272.4h1.8v1.7h-1.8zM248.6 272.4h3.4v1.7h-3.4zM274.3 272.4h1.8v1.7h-1.8zM150.6 274.0h1.8v1.7h-1.8zM163.5 274.0h3.4v1.7h-3.4zM168.3 274.0h1.8v1.7h-1.8zM171.5 274.0h1.8v1.7h-1.8zM272.7 274.0h1.8v1.7h-1.8zM277.5 274.0h1.8v1.7h-1.8zM155.4 275.6h3.4v1.7h-3.4zM163.5 275.6h1.8v1.7h-1.8zM248.6 275.6h1.8v1.7h-1.8zM152.2 277.2h1.8v1.7h-1.8zM255.0 277.2h6.6v1.7h-6.6zM269.5 277.2h1.8v1.7h-1.8zM152.2 278.8h1.8v1.7h-1.8zM157.0 278.8h1.8v1.7h-1.8zM160.2 278.8h1.8v1.7h-1.8zM258.3 278.8h1.8v1.7h-1.8zM157.0 280.4h1.8v1.7h-1.8zM160.2 280.4h3.4v1.7h-3.4zM258.3 280.4h1.8v1.7h-1.8zM264.7 280.4h1.8v1.7h-1.8zM267.9 280.4h1.8v1.7h-1.8zM150.6 282.0h1.8v1.7h-1.8zM169.9 282.0h1.8v1.7h-1.8zM173.1 282.0h3.4v1.7h-3.4zM275.9 282.0h1.8v1.7h-1.8zM150.6 283.6h1.8v1.7h-1.8zM153.8 283.6h1.8v1.7h-1.8zM173.1 283.6h1.8v1.7h-1.8zM263.1 283.6h1.8v1.7h-1.8zM267.9 283.6h1.8v1.7h-1.8zM150.6 285.2h1.8v1.7h-1.8zM155.4 285.2h1.8v1.7h-1.8zM166.7 285.2h3.4v1.7h-3.4zM171.5 285.2h1.8v1.7h-1.8zM266.3 285.2h1.8v1.7h-1.8zM150.6 288.4h1.8v1.7h-1.8zM153.8 288.4h1.8v1.7h-1.8zM165.1 288.4h1.8v1.7h-1.8zM261.5 288.4h1.8v1.7h-1.8zM267.9 288.4h1.8v1.7h-1.8zM271.1 288.4h1.8v1.7h-1.8zM157.0 290.0h1.8v1.7h-1.8zM160.2 290.0h1.8v1.7h-1.8zM264.7 291.6h3.4v1.7h-3.4zM267.9 298.0h1.8v1.7h-1.8zM271.1 299.6h1.8v1.7h-1.8zM271.1 301.2h1.8v1.7h-1.8zM271.1 302.8h1.8v1.7h-1.8zM185.9 304.4h1.8v1.7h-1.8zM264.7 304.4h1.8v1.7h-1.8zM267.9 304.4h3.4v1.7h-3.4zM189.2 306.0h5.0v1.7h-5.0zM266.3 306.0h1.8v1.7h-1.8zM198.8 307.6h1.8v1.7h-1.8zM202.0 307.6h1.8v1.7h-1.8zM251.8 307.6h1.8v1.7h-1.8zM160.2 309.2h3.4v1.7h-3.4zM166.7 309.2h1.8v1.7h-1.8zM182.7 309.2h1.8v1.7h-1.8zM237.4 309.2h3.4v1.7h-3.4zM275.9 309.2h1.8v1.7h-1.8zM197.2 310.8h1.8v1.7h-1.8zM200.4 310.8h1.8v1.7h-1.8zM210.0 310.8h3.4v1.7h-3.4zM234.2 310.8h3.4v1.7h-3.4zM239.0 310.8h1.8v1.7h-1.8zM242.2 310.8h1.8v1.7h-1.8zM275.9 310.8h1.8v1.7h-1.8zM197.2 312.4h1.8v1.7h-1.8zM210.0 312.4h1.8v1.7h-1.8zM229.3 312.4h1.8v1.7h-1.8zM277.5 312.4h1.8v1.7h-1.8zM181.1 314.0h3.4v1.7h-3.4zM210.0 314.0h1.8v1.7h-1.8zM192.4 315.6h1.8v1.7h-1.8zM197.2 315.6h1.8v1.7h-1.8zM200.4 315.6h1.8v1.7h-1.8zM210.0 315.6h1.8v1.7h-1.8zM229.3 315.6h1.8v1.7h-1.8z"/>
<path fill="#df7d81" d="M161.8 184.4h1.8v1.7h-1.8zM165.1 184.4h3.4v1.7h-3.4zM190.8 184.4h1.8v1.7h-1.8zM202.0 184.4h1.8v1.7h-1.8zM206.8 184.4h1.8v1.7h-1.8zM165.1 186.0h1.8v1.7h-1.8zM197.2 186.0h3.4v1.7h-3.4zM177.9 187.6h1.8v1.7h-1.8zM185.9 187.6h1.8v1.7h-1.8zM195.6 189.2h1.8v1.7h-1.8zM198.8 189.2h1.8v1.7h-1.8zM177.9 190.8h1.8v1.7h-1.8zM185.9 192.4h3.4v1.7h-3.4zM189.2 198.8h1.8v1.7h-1.8zM280.7 198.8h1.8v1.7h-1.8zM182.7 200.4h1.8v1.7h-1.8zM248.6 200.4h1.8v1.7h-1.8zM287.2 200.4h1.8v1.7h-1.8zM165.1 202.0h1.8v1.7h-1.8zM253.4 202.0h1.8v1.7h-1.8zM259.9 202.0h1.8v1.7h-1.8zM272.7 202.0h1.8v1.7h-1.8zM194.0 203.6h1.8v1.7h-1.8zM250.2 203.6h3.4v1.7h-3.4zM256.6 203.6h1.8v1.7h-1.8zM271.1 203.6h1.8v1.7h-1.8zM177.9 205.2h1.8v1.7h-1.8zM185.9 205.2h1.8v1.7h-1.8zM282.4 205.2h1.8v1.7h-1.8zM168.3 206.8h3.4v1.7h-3.4zM182.7 206.8h1.8v1.7h-1.8zM271.1 206.8h1.8v1.7h-1.8zM168.3 208.4h1.8v1.7h-1.8zM185.9 208.4h3.4v1.7h-3.4zM271.1 208.4h1.8v1.7h-1.8zM177.9 210.0h1.8v1.7h-1.8zM272.7 210.0h3.4v1.7h-3.4zM173.1 211.6h3.4v1.7h-3.4zM272.7 211.6h1.8v1.7h-1.8zM282.4 213.2h3.4v1.7h-3.4zM275.9 214.8h3.4v1.7h-3.4zM264.7 243.6h1.8v1.7h-1.8zM263.1 245.2h1.8v1.7h-1.8zM264.7 246.8h1.8v1.7h-1.8zM271.1 246.8h1.8v1.7h-1.8zM275.9 246.8h1.8v1.7h-1.8zM264.7 250.0h1.8v1.7h-1.8zM258.3 253.2h1.8v1.7h-1.8zM266.3 253.2h1.8v1.7h-1.8zM269.5 253.2h1.8v1.7h-1.8zM264.7 254.8h1.8v1.7h-1.8zM269.5 254.8h1.8v1.7h-1.8zM255.0 256.4h1.8v1.7h-1.8zM258.3 256.4h1.8v1.7h-1.8zM275.9 256.4h1.8v1.7h-1.8zM173.1 258.0h1.8v1.7h-1.8zM256.6 258.0h1.8v1.7h-1.8zM261.5 258.0h1.8v1.7h-1.8zM269.5 258.0h1.8v1.7h-1.8zM272.7 258.0h1.8v1.7h-1.8zM157.0 261.2h1.8v1.7h-1.8zM160.2 261.2h1.8v1.7h-1.8zM266.3 261.2h1.8v1.7h-1.8zM157.0 262.8h1.8v1.7h-1.8zM166.7 262.8h1.8v1.7h-1.8zM171.5 262.8h1.8v1.7h-1.8zM258.3 262.8h1.8v1.7h-1.8zM264.7 262.8h3.4v1.7h-3.4zM174.7 264.4h3.4v1.7h-3.4zM179.5 264.4h1.8v1.7h-1.8zM206.8 264.4h1.8v1.7h-1.8zM152.2 266.0h1.8v1.7h-1.8zM155.4 266.0h3.4v1.7h-3.4zM160.2 266.0h3.4v1.7h-3.4zM174.7 267.6h1.8v1.7h-1.8zM250.2 267.6h1.8v1.7h-1.8zM256.6 267.6h1.8v1.7h-1.8zM259.9 267.6h1.8v1.7h-1.8zM277.5 267.6h1.8v1.7h-1.8zM152.2 269.2h1.8v1.7h-1.8zM165.1 269.2h3.4v1.7h-3.4zM171.5 269.2h1.8v1.7h-1.8zM264.7 269.2h1.8v1.7h-1.8zM152.2 270.8h1.8v1.7h-1.8zM155.4 270.8h1.8v1.7h-1.8zM166.7 270.8h3.4v1.7h-3.4zM171.5 270.8h3.4v1.7h-3.4zM255.0 270.8h1.8v1.7h-1.8zM258.3 270.8h1.8v1.7h-1.8zM263.1 270.8h1.8v1.7h-1.8zM275.9 270.8h3.4v1.7h-3.4zM158.6 272.4h1.8v1.7h-1.8zM161.8 272.4h1.8v1.7h-1.8zM168.3 272.4h6.6v1.7h-6.6zM251.8 272.4h5.0v1.7h-5.0zM277.5 272.4h1.8v1.7h-1.8zM152.2 274.0h1.8v1.7h-1.8zM157.0 274.0h1.8v1.7h-1.8zM161.8 274.0h1.8v1.7h-1.8zM166.7 274.0h1.8v1.7h-1.8zM256.6 274.0h1.8v1.7h-1.8zM259.9 274.0h1.8v1.7h-1.8zM275.9 274.0h1.8v1.7h-1.8zM152.2 275.6h1.8v1.7h-1.8zM160.2 275.6h3.4v1.7h-3.4zM165.1 275.6h3.4v1.7h-3.4zM255.0 275.6h1.8v1.7h-1.8zM269.5 275.6h1.8v1.7h-1.8zM272.7 275.6h1.8v1.7h-1.8zM275.9 275.6h1.8v1.7h-1.8zM261.5 277.2h3.4v1.7h-3.4zM263.1 278.8h1.8v1.7h-1.8zM266.3 280.4h1.8v1.7h-1.8zM271.1 280.4h1.8v1.7h-1.8zM152.2 282.0h3.4v1.7h-3.4zM158.6 282.0h1.8v1.7h-1.8zM163.5 282.0h1.8v1.7h-1.8zM166.7 282.0h3.4v1.7h-3.4zM171.5 282.0h1.8v1.7h-1.8zM258.3 282.0h1.8v1.7h-1.8zM261.5 282.0h3.4v1.7h-3.4zM267.9 282.0h1.8v1.7h-1.8zM166.7 283.6h3.4v1.7h-3.4zM171.5 283.6h1.8v1.7h-1.8zM261.5 283.6h1.8v1.7h-1.8zM152.2 285.2h1.8v1.7h-1.8zM157.0 285.2h3.4v1.7h-3.4zM161.8 285.2h1.8v1.7h-1.8zM152.2 288.4h1.8v1.7h-1.8zM158.6 288.4h1.8v1.7h-1.8zM263.1 288.4h1.8v1.7h-1.8zM264.7 290.0h5.0v1.7h-5.0zM271.1 290.0h1.8v1.7h-1.8zM266.3 293.2h3.4v1.7h-3.4zM266.3 294.8h3.4v1.7h-3.4zM271.1 298.0h1.8v1.7h-1.8zM187.6 304.4h6.6v1.7h-6.6zM195.6 304.4h1.8v1.7h-1.8zM206.8 304.4h1.8v1.7h-1.8zM194.0 306.0h3.4v1.7h-3.4zM205.2 307.6h1.8v1.7h-1.8zM213.3 307.6h1.8v1.7h-1.8zM253.4 307.6h1.8v1.7h-1.8zM259.9 307.6h1.8v1.7h-1.8zM269.5 307.6h1.8v1.7h-1.8zM200.4 309.2h1.8v1.7h-1.8zM242.2 309.2h3.4v1.7h-3.4zM184.3 310.8h1.8v1.7h-1.8zM198.8 310.8h1.8v1.7h-1.8zM202.0 310.8h1.8v1.7h-1.8zM205.2 310.8h1.8v1.7h-1.8zM240.6 310.8h1.8v1.7h-1.8zM245.4 310.8h1.8v1.7h-1.8zM251.8 310.8h1.8v1.7h-1.8zM272.7 310.8h1.8v1.7h-1.8zM198.8 312.4h3.4v1.7h-3.4zM208.4 312.4h1.8v1.7h-1.8zM197.2 314.0h1.8v1.7h-1.8zM211.7 314.0h1.8v1.7h-1.8zM227.7 314.0h1.8v1.7h-1.8zM194.0 315.6h1.8v1.7h-1.8zM205.2 315.6h1.8v1.7h-1.8zM227.7 315.6h1.8v1.7h-1.8zM253.4 315.6h1.8v1.7h-1.8zM259.9 315.6h1.8v1.7h-1.8zM272.7 315.6h1.8v1.7h-1.8zM277.5 315.6h1.8v1.7h-1.8z"/>
<path fill="#e17478" d="M169.9 184.4h1.8v1.7h-1.8zM182.7 184.4h3.4v1.7h-3.4zM189.2 184.4h1.8v1.7h-1.8zM160.2 186.0h3.4v1.7h-3.4zM194.0 186.0h1.8v1.7h-1.8zM200.4 186.0h3.4v1.7h-3.4zM206.8 186.0h1.8v1.7h-1.8zM182.7 189.2h1.8v1.7h-1.8zM203.6 189.2h1.8v1.7h-1.8zM189.2 194.0h1.8v1.7h-1.8zM187.6 197.2h1.8v1.7h-1.8zM173.1 200.4h3.4v1.7h-3.4zM179.5 200.4h3.4v1.7h-3.4zM184.3 200.4h1.8v1.7h-1.8zM282.4 200.4h3.4v1.7h-3.4zM166.7 202.0h1.8v1.7h-1.8zM192.4 202.0h5.0v1.7h-5.0zM251.8 202.0h1.8v1.7h-1.8zM258.3 202.0h1.8v1.7h-1.8zM271.1 202.0h1.8v1.7h-1.8zM274.3 202.0h1.8v1.7h-1.8zM285.6 202.0h1.8v1.7h-1.8zM190.8 203.6h1.8v1.7h-1.8zM248.6 203.6h1.8v1.7h-1.8zM255.0 203.6h1.8v1.7h-1.8zM258.3 203.6h1.8v1.7h-1.8zM171.5 205.2h1.8v1.7h-1.8zM187.6 205.2h1.8v1.7h-1.8zM275.9 205.2h3.4v1.7h-3.4zM181.1 206.8h1.8v1.7h-1.8zM285.6 206.8h1.8v1.7h-1.8zM285.6 208.4h1.8v1.7h-1.8zM174.7 210.0h1.8v1.7h-1.8zM285.6 210.0h3.4v1.7h-3.4zM285.6 211.6h1.8v1.7h-1.8zM279.1 213.2h1.8v1.7h-1.8zM271.1 240.4h1.8v1.7h-1.8zM267.9 242.0h1.8v1.7h-1.8zM275.9 242.0h3.4v1.7h-3.4zM266.3 243.6h1.8v1.7h-1.8zM271.1 243.6h1.8v1.7h-1.8zM258.3 245.2h1.8v1.7h-1.8zM261.5 245.2h1.8v1.7h-1.8zM267.9 245.2h1.8v1.7h-1.8zM275.9 245.2h3.4v1.7h-3.4zM266.3 250.0h1.8v1.7h-1.8zM271.1 253.2h1.8v1.7h-1.8zM275.9 253.2h1.8v1.7h-1.8zM266.3 254.8h3.4v1.7h-3.4zM275.9 254.8h1.8v1.7h-1.8zM267.9 256.4h1.8v1.7h-1.8zM171.5 258.0h1.8v1.7h-1.8zM255.0 258.0h1.8v1.7h-1.8zM258.3 258.0h1.8v1.7h-1.8zM271.1 262.8h1.8v1.7h-1.8zM169.9 264.4h1.8v1.7h-1.8zM177.9 264.4h1.8v1.7h-1.8zM185.9 264.4h1.8v1.7h-1.8zM202.0 264.4h1.8v1.7h-1.8zM259.9 264.4h1.8v1.7h-1.8zM272.7 264.4h1.8v1.7h-1.8zM277.5 264.4h1.8v1.7h-1.8zM171.5 266.0h1.8v1.7h-1.8zM266.3 266.0h1.8v1.7h-1.8zM271.1 266.0h1.8v1.7h-1.8zM158.6 267.6h1.8v1.7h-1.8zM169.9 267.6h1.8v1.7h-1.8zM272.7 267.6h1.8v1.7h-1.8zM155.4 269.2h3.4v1.7h-3.4zM160.2 269.2h3.4v1.7h-3.4zM267.9 269.2h1.8v1.7h-1.8zM157.0 270.8h1.8v1.7h-1.8zM160.2 270.8h1.8v1.7h-1.8zM165.1 270.8h1.8v1.7h-1.8zM150.6 272.4h1.8v1.7h-1.8zM157.0 272.4h1.8v1.7h-1.8zM165.1 272.4h3.4v1.7h-3.4zM259.9 272.4h5.0v1.7h-5.0zM269.5 272.4h1.8v1.7h-1.8zM272.7 272.4h1.8v1.7h-1.8zM155.4 274.0h1.8v1.7h-1.8zM160.2 274.0h1.8v1.7h-1.8zM255.0 274.0h1.8v1.7h-1.8zM269.5 274.0h1.8v1.7h-1.8zM256.6 275.6h1.8v1.7h-1.8zM259.9 275.6h1.8v1.7h-1.8zM267.9 277.2h1.8v1.7h-1.8zM261.5 278.8h1.8v1.7h-1.8zM267.9 278.8h1.8v1.7h-1.8zM165.1 282.0h1.8v1.7h-1.8zM158.6 283.6h1.8v1.7h-1.8zM163.5 283.6h3.4v1.7h-3.4zM264.7 283.6h3.4v1.7h-3.4zM271.1 283.6h1.8v1.7h-1.8zM160.2 285.2h1.8v1.7h-1.8zM155.4 288.4h1.8v1.7h-1.8zM161.8 288.4h1.8v1.7h-1.8zM264.7 288.4h3.4v1.7h-3.4zM264.7 293.2h1.8v1.7h-1.8zM271.1 293.2h1.8v1.7h-1.8zM194.0 304.4h1.8v1.7h-1.8zM271.1 304.4h1.8v1.7h-1.8zM187.6 306.0h1.8v1.7h-1.8zM197.2 307.6h1.8v1.7h-1.8zM203.6 307.6h1.8v1.7h-1.8zM210.0 307.6h3.4v1.7h-3.4zM248.6 307.6h3.4v1.7h-3.4zM258.3 307.6h1.8v1.7h-1.8zM213.3 309.2h1.8v1.7h-1.8zM245.4 309.2h1.8v1.7h-1.8zM272.7 309.2h1.8v1.7h-1.8zM192.4 310.8h1.8v1.7h-1.8zM253.4 310.8h1.8v1.7h-1.8zM256.6 310.8h1.8v1.7h-1.8zM259.9 310.8h1.8v1.7h-1.8zM269.5 310.8h1.8v1.7h-1.8zM184.3 312.4h1.8v1.7h-1.8zM192.4 312.4h1.8v1.7h-1.8zM230.9 312.4h1.8v1.7h-1.8zM253.4 312.4h1.8v1.7h-1.8zM272.7 312.4h1.8v1.7h-1.8zM275.9 312.4h1.8v1.7h-1.8zM198.8 314.0h1.8v1.7h-1.8zM208.4 314.0h1.8v1.7h-1.8zM229.3 314.0h1.8v1.7h-1.8zM274.3 314.0h1.8v1.7h-1.8zM184.3 315.6h1.8v1.7h-1.8zM190.8 315.6h1.8v1.7h-1.8zM195.6 315.6h1.8v1.7h-1.8zM198.8 315.6h1.8v1.7h-1.8zM202.0 315.6h1.8v1.7h-1.8zM275.9 315.6h1.8v1.7h-1.8z"/>
<path fill="#e36b6f" d="M168.3 184.4h1.8v1.7h-1.8zM166.7 186.0h1.8v1.7h-1.8zM169.9 186.0h1.8v1.7h-1.8zM190.8 186.0h1.8v1.7h-1.8zM203.6 186.0h1.8v1.7h-1.8zM184.3 189.2h1.8v1.7h-1.8zM189.2 189.2h3.4v1.7h-3.4zM202.0 189.2h1.8v1.7h-1.8zM206.8 189.2h1.8v1.7h-1.8zM185.9 190.8h3.4v1.7h-3.4zM185.9 197.2h1.8v1.7h-1.8zM177.9 200.4h1.8v1.7h-1.8zM275.9 200.4h1.8v1.7h-1.8zM279.1 200.4h1.8v1.7h-1.8zM182.7 202.0h1.8v1.7h-1.8zM248.6 202.0h3.4v1.7h-3.4zM166.7 203.6h1.8v1.7h-1.8zM169.9 203.6h1.8v1.7h-1.8zM182.7 203.6h3.4v1.7h-3.4zM285.6 203.6h1.8v1.7h-1.8zM280.7 205.2h1.8v1.7h-1.8zM179.5 206.8h1.8v1.7h-1.8zM185.9 206.8h3.4v1.7h-3.4zM279.1 206.8h1.8v1.7h-1.8zM284.0 206.8h1.8v1.7h-1.8zM176.3 208.4h5.0v1.7h-5.0zM171.5 210.0h3.4v1.7h-3.4zM271.1 210.0h1.8v1.7h-1.8zM171.5 211.6h1.8v1.7h-1.8zM274.3 211.6h1.8v1.7h-1.8zM264.7 242.0h3.4v1.7h-3.4zM264.7 245.2h1.8v1.7h-1.8zM266.3 246.8h1.8v1.7h-1.8zM266.3 256.4h1.8v1.7h-1.8zM264.7 258.0h1.8v1.7h-1.8zM267.9 258.0h1.8v1.7h-1.8zM275.9 258.0h1.8v1.7h-1.8zM271.1 259.6h1.8v1.7h-1.8zM271.1 261.2h1.8v1.7h-1.8zM153.8 264.4h1.8v1.7h-1.8zM158.6 264.4h1.8v1.7h-1.8zM163.5 264.4h1.8v1.7h-1.8zM173.1 264.4h1.8v1.7h-1.8zM187.6 264.4h1.8v1.7h-1.8zM255.0 264.4h1.8v1.7h-1.8zM261.5 264.4h1.8v1.7h-1.8zM269.5 264.4h1.8v1.7h-1.8zM275.9 264.4h1.8v1.7h-1.8zM150.6 267.6h1.8v1.7h-1.8zM163.5 267.6h1.8v1.7h-1.8zM168.3 267.6h1.8v1.7h-1.8zM171.5 267.6h3.4v1.7h-3.4zM255.0 267.6h1.8v1.7h-1.8zM258.3 267.6h1.8v1.7h-1.8zM263.1 267.6h1.8v1.7h-1.8zM269.5 267.6h1.8v1.7h-1.8zM266.3 269.2h1.8v1.7h-1.8zM264.7 270.8h1.8v1.7h-1.8zM267.9 270.8h1.8v1.7h-1.8zM152.2 272.4h1.8v1.7h-1.8zM155.4 272.4h1.8v1.7h-1.8zM160.2 272.4h1.8v1.7h-1.8zM256.6 272.4h3.4v1.7h-3.4zM275.9 272.4h1.8v1.7h-1.8zM258.3 274.0h1.8v1.7h-1.8zM264.7 277.2h1.8v1.7h-1.8zM271.1 277.2h1.8v1.7h-1.8zM264.7 278.8h1.8v1.7h-1.8zM271.1 278.8h1.8v1.7h-1.8zM155.4 282.0h1.8v1.7h-1.8zM161.8 282.0h1.8v1.7h-1.8zM264.7 282.0h1.8v1.7h-1.8zM271.1 282.0h1.8v1.7h-1.8zM152.2 283.6h1.8v1.7h-1.8zM157.0 288.4h1.8v1.7h-1.8zM271.1 294.8h1.8v1.7h-1.8zM266.3 304.4h1.8v1.7h-1.8zM208.4 307.6h1.8v1.7h-1.8zM255.0 307.6h3.4v1.7h-3.4zM263.1 307.6h1.8v1.7h-1.8zM184.3 309.2h1.8v1.7h-1.8zM197.2 309.2h3.4v1.7h-3.4zM208.4 309.2h1.8v1.7h-1.8zM253.4 309.2h1.8v1.7h-1.8zM259.9 309.2h1.8v1.7h-1.8zM237.4 310.8h1.8v1.7h-1.8zM243.8 310.8h1.8v1.7h-1.8zM255.0 310.8h1.8v1.7h-1.8zM258.3 310.8h1.8v1.7h-1.8zM202.0 312.4h1.8v1.7h-1.8zM205.2 312.4h1.8v1.7h-1.8zM232.5 312.4h1.8v1.7h-1.8zM259.9 312.4h1.8v1.7h-1.8zM269.5 312.4h1.8v1.7h-1.8zM184.3 314.0h1.8v1.7h-1.8zM272.7 314.0h1.8v1.7h-1.8zM277.5 314.0h1.8v1.7h-1.8zM203.6 315.6h1.8v1.7h-1.8zM230.9 315.6h3.4v1.7h-3.4zM240.6 315.6h1.8v1.7h-1.8zM245.4 315.6h1.8v1.7h-1.8zM256.6 315.6h1.8v1.7h-1.8zM269.5 315.6h1.8v1.7h-1.8z"/>
<path fill="#e56265" d="M168.3 186.0h1.8v1.7h-1.8zM182.7 186.0h3.4v1.7h-3.4zM195.6 186.0h1.8v1.7h-1.8zM171.5 189.2h3.4v1.7h-3.4zM171.5 200.4h1.8v1.7h-1.8zM189.2 200.4h1.8v1.7h-1.8zM168.3 202.0h3.4v1.7h-3.4zM174.7 202.0h3.4v1.7h-3.4zM190.8 202.0h1.8v1.7h-1.8zM255.0 202.0h3.4v1.7h-3.4zM168.3 203.6h1.8v1.7h-1.8zM174.7 203.6h1.8v1.7h-1.8zM171.5 206.8h3.4v1.7h-3.4zM176.3 206.8h3.4v1.7h-3.4zM275.9 206.8h1.8v1.7h-1.8zM282.4 206.8h1.8v1.7h-1.8zM287.2 206.8h1.8v1.7h-1.8zM174.7 208.4h1.8v1.7h-1.8zM284.0 208.4h1.8v1.7h-1.8zM287.2 208.4h1.8v1.7h-1.8zM271.1 211.6h1.8v1.7h-1.8zM287.2 211.6h1.8v1.7h-1.8zM275.9 213.2h1.8v1.7h-1.8zM280.7 213.2h1.8v1.7h-1.8zM271.1 245.2h1.8v1.7h-1.8zM266.3 258.0h1.8v1.7h-1.8zM150.6 264.4h1.8v1.7h-1.8zM166.7 264.4h3.4v1.7h-3.4zM171.5 264.4h1.8v1.7h-1.8zM256.6 264.4h3.4v1.7h-3.4zM263.1 264.4h1.8v1.7h-1.8zM267.9 264.4h1.8v1.7h-1.8zM153.8 267.6h1.8v1.7h-1.8zM161.8 267.6h1.8v1.7h-1.8zM165.1 267.6h1.8v1.7h-1.8zM261.5 267.6h1.8v1.7h-1.8zM267.9 267.6h1.8v1.7h-1.8zM275.9 267.6h1.8v1.7h-1.8zM271.1 269.2h1.8v1.7h-1.8zM264.7 272.4h1.8v1.7h-1.8zM261.5 274.0h3.4v1.7h-3.4zM258.3 275.6h1.8v1.7h-1.8zM261.5 275.6h3.4v1.7h-3.4zM267.9 275.6h1.8v1.7h-1.8zM157.0 282.0h1.8v1.7h-1.8zM160.2 282.0h1.8v1.7h-1.8zM266.3 282.0h1.8v1.7h-1.8zM155.4 283.6h3.4v1.7h-3.4zM161.8 283.6h1.8v1.7h-1.8zM160.2 288.4h1.8v1.7h-1.8zM267.9 307.6h1.8v1.7h-1.8zM202.0 309.2h3.4v1.7h-3.4zM210.0 309.2h3.4v1.7h-3.4zM247.0 309.2h1.8v1.7h-1.8zM250.2 309.2h3.4v1.7h-3.4zM269.5 309.2h1.8v1.7h-1.8zM190.8 310.8h1.8v1.7h-1.8zM195.6 310.8h1.8v1.7h-1.8zM203.6 310.8h1.8v1.7h-1.8zM247.0 310.8h1.8v1.7h-1.8zM194.0 312.4h3.4v1.7h-3.4zM234.2 312.4h1.8v1.7h-1.8zM245.4 312.4h1.8v1.7h-1.8zM251.8 312.4h1.8v1.7h-1.8zM192.4 314.0h3.4v1.7h-3.4zM200.4 314.0h1.8v1.7h-1.8zM205.2 314.0h1.8v1.7h-1.8zM275.9 314.0h1.8v1.7h-1.8zM189.2 315.6h1.8v1.7h-1.8zM206.8 315.6h1.8v1.7h-1.8zM239.0 315.6h1.8v1.7h-1.8zM251.8 315.6h1.8v1.7h-1.8zM255.0 315.6h1.8v1.7h-1.8zM261.5 315.6h3.4v1.7h-3.4z"/>
<path fill="#e7595c" d="M173.1 184.4h3.4v1.7h-3.4zM189.2 186.0h1.8v1.7h-1.8zM174.7 189.2h3.4v1.7h-3.4zM179.5 189.2h3.4v1.7h-3.4zM185.9 194.0h3.4v1.7h-3.4zM185.9 198.8h3.4v1.7h-3.4zM277.5 200.4h1.8v1.7h-1.8zM280.7 200.4h1.8v1.7h-1.8zM177.9 202.0h5.0v1.7h-5.0zM184.3 202.0h1.8v1.7h-1.8zM189.2 202.0h1.8v1.7h-1.8zM287.2 202.0h1.8v1.7h-1.8zM181.1 203.6h1.8v1.7h-1.8zM189.2 203.6h1.8v1.7h-1.8zM287.2 203.6h1.8v1.7h-1.8zM174.7 206.8h1.8v1.7h-1.8zM277.5 206.8h1.8v1.7h-1.8zM280.7 206.8h1.8v1.7h-1.8zM173.1 208.4h1.8v1.7h-1.8zM284.0 211.6h1.8v1.7h-1.8zM271.1 254.8h1.8v1.7h-1.8zM157.0 264.4h1.8v1.7h-1.8zM161.8 264.4h1.8v1.7h-1.8zM165.1 264.4h1.8v1.7h-1.8zM264.7 264.4h3.4v1.7h-3.4zM152.2 267.6h1.8v1.7h-1.8zM157.0 267.6h1.8v1.7h-1.8zM166.7 267.6h1.8v1.7h-1.8zM264.7 267.6h3.4v1.7h-3.4zM266.3 270.8h1.8v1.7h-1.8zM271.1 270.8h1.8v1.7h-1.8zM267.9 272.4h1.8v1.7h-1.8zM267.9 274.0h1.8v1.7h-1.8zM266.3 277.2h1.8v1.7h-1.8zM266.3 278.8h1.8v1.7h-1.8zM160.2 283.6h1.8v1.7h-1.8zM192.4 307.6h1.8v1.7h-1.8zM261.5 307.6h1.8v1.7h-1.8zM264.7 307.6h1.8v1.7h-1.8zM205.2 309.2h1.8v1.7h-1.8zM256.6 309.2h1.8v1.7h-1.8zM194.0 310.8h1.8v1.7h-1.8zM206.8 310.8h1.8v1.7h-1.8zM250.2 310.8h1.8v1.7h-1.8zM261.5 310.8h3.4v1.7h-3.4zM267.9 310.8h1.8v1.7h-1.8zM203.6 312.4h1.8v1.7h-1.8zM235.8 312.4h1.8v1.7h-1.8zM239.0 312.4h3.4v1.7h-3.4zM243.8 312.4h1.8v1.7h-1.8zM256.6 312.4h3.4v1.7h-3.4zM195.6 314.0h1.8v1.7h-1.8zM230.9 314.0h1.8v1.7h-1.8zM253.4 314.0h1.8v1.7h-1.8zM256.6 314.0h1.8v1.7h-1.8zM234.2 315.6h1.8v1.7h-1.8zM242.2 315.6h3.4v1.7h-3.4zM247.0 315.6h1.8v1.7h-1.8zM250.2 315.6h1.8v1.7h-1.8zM258.3 315.6h1.8v1.7h-1.8zM264.7 315.6h1.8v1.7h-1.8z"/>
<path fill="#e95053" d="M181.1 184.4h1.8v1.7h-1.8zM185.9 184.4h1.8v1.7h-1.8zM177.9 189.2h1.8v1.7h-1.8zM185.9 200.4h1.8v1.7h-1.8zM173.1 202.0h1.8v1.7h-1.8zM282.4 202.0h3.4v1.7h-3.4zM173.1 203.6h1.8v1.7h-1.8zM179.5 203.6h1.8v1.7h-1.8zM284.0 203.6h1.8v1.7h-1.8zM275.9 208.4h1.8v1.7h-1.8zM279.1 208.4h1.8v1.7h-1.8zM282.4 208.4h1.8v1.7h-1.8zM279.1 210.0h1.8v1.7h-1.8zM282.4 210.0h3.4v1.7h-3.4zM279.1 211.6h1.8v1.7h-1.8zM282.4 211.6h1.8v1.7h-1.8zM277.5 213.2h1.8v1.7h-1.8zM271.1 242.0h1.8v1.7h-1.8zM266.3 245.2h1.8v1.7h-1.8zM152.2 264.4h1.8v1.7h-1.8zM155.4 264.4h1.8v1.7h-1.8zM160.2 264.4h1.8v1.7h-1.8zM155.4 267.6h1.8v1.7h-1.8zM160.2 267.6h1.8v1.7h-1.8zM264.7 274.0h1.8v1.7h-1.8zM264.7 275.6h1.8v1.7h-1.8zM194.0 307.6h1.8v1.7h-1.8zM206.8 307.6h1.8v1.7h-1.8zM271.1 307.6h1.8v1.7h-1.8zM248.6 309.2h1.8v1.7h-1.8zM255.0 309.2h1.8v1.7h-1.8zM263.1 309.2h1.8v1.7h-1.8zM248.6 310.8h1.8v1.7h-1.8zM189.2 312.4h3.4v1.7h-3.4zM206.8 312.4h1.8v1.7h-1.8zM242.2 312.4h1.8v1.7h-1.8zM250.2 312.4h1.8v1.7h-1.8zM255.0 312.4h1.8v1.7h-1.8zM261.5 312.4h3.4v1.7h-3.4zM190.8 314.0h1.8v1.7h-1.8zM202.0 314.0h1.8v1.7h-1.8zM232.5 314.0h1.8v1.7h-1.8zM251.8 314.0h1.8v1.7h-1.8zM259.9 314.0h1.8v1.7h-1.8zM269.5 314.0h1.8v1.7h-1.8zM187.6 315.6h1.8v1.7h-1.8zM235.8 315.6h1.8v1.7h-1.8zM266.3 315.6h3.4v1.7h-3.4z"/>
<path fill="#eb484a" d="M171.5 184.4h1.8v1.7h-1.8zM176.3 184.4h1.8v1.7h-1.8zM179.5 184.4h1.8v1.7h-1.8zM187.6 184.4h1.8v1.7h-1.8zM185.9 189.2h1.8v1.7h-1.8zM187.6 200.4h1.8v1.7h-1.8zM171.5 202.0h1.8v1.7h-1.8zM275.9 202.0h1.8v1.7h-1.8zM279.1 202.0h1.8v1.7h-1.8zM171.5 203.6h1.8v1.7h-1.8zM176.3 203.6h3.4v1.7h-3.4zM275.9 203.6h1.8v1.7h-1.8zM282.4 203.6h1.8v1.7h-1.8zM171.5 208.4h1.8v1.7h-1.8zM280.7 208.4h1.8v1.7h-1.8zM275.9 210.0h1.8v1.7h-1.8zM271.1 256.4h1.8v1.7h-1.8zM271.1 264.4h1.8v1.7h-1.8zM266.3 272.4h1.8v1.7h-1.8zM266.3 275.6h1.8v1.7h-1.8zM185.9 307.6h1.8v1.7h-1.8zM189.2 307.6h3.4v1.7h-3.4zM195.6 307.6h1.8v1.7h-1.8zM192.4 309.2h1.8v1.7h-1.8zM258.3 309.2h1.8v1.7h-1.8zM261.5 309.2h1.8v1.7h-1.8zM267.9 309.2h1.8v1.7h-1.8zM189.2 310.8h1.8v1.7h-1.8zM264.7 310.8h1.8v1.7h-1.8zM271.1 310.8h1.8v1.7h-1.8zM185.9 312.4h1.8v1.7h-1.8zM237.4 312.4h1.8v1.7h-1.8zM247.0 312.4h1.8v1.7h-1.8zM267.9 312.4h1.8v1.7h-1.8zM189.2 314.0h1.8v1.7h-1.8zM203.6 314.0h1.8v1.7h-1.8zM250.2 314.0h1.8v1.7h-1.8zM185.9 315.6h1.8v1.7h-1.8zM237.4 315.6h1.8v1.7h-1.8z"/>
<path fill="#ed3f41" d="M177.9 184.4h1.8v1.7h-1.8zM187.6 189.2h1.8v1.7h-1.8zM279.1 203.6h1.8v1.7h-1.8zM277.5 208.4h1.8v1.7h-1.8zM271.1 258.0h1.8v1.7h-1.8zM271.1 272.4h1.8v1.7h-1.8zM266.3 274.0h1.8v1.7h-1.8zM271.1 274.0h1.8v1.7h-1.8zM271.1 275.6h1.8v1.7h-1.8zM266.3 307.6h1.8v1.7h-1.8zM195.6 309.2h1.8v1.7h-1.8zM264.7 309.2h1.8v1.7h-1.8zM185.9 310.8h1.8v1.7h-1.8zM187.6 312.4h1.8v1.7h-1.8zM206.8 314.0h1.8v1.7h-1.8zM234.2 314.0h1.8v1.7h-1.8zM239.0 314.0h8.2v1.7h-8.2zM255.0 314.0h1.8v1.7h-1.8zM258.3 314.0h1.8v1.7h-1.8zM261.5 314.0h1.8v1.7h-1.8zM267.9 314.0h1.8v1.7h-1.8zM248.6 315.6h1.8v1.7h-1.8zM271.1 315.6h1.8v1.7h-1.8z"/>
<path fill="#ef3637" d="M173.1 186.0h3.4v1.7h-3.4zM187.6 186.0h1.8v1.7h-1.8zM185.9 202.0h1.8v1.7h-1.8zM277.5 202.0h1.8v1.7h-1.8zM280.7 202.0h1.8v1.7h-1.8zM185.9 203.6h3.4v1.7h-3.4zM280.7 210.0h1.8v1.7h-1.8zM275.9 211.6h1.8v1.7h-1.8zM280.7 211.6h1.8v1.7h-1.8zM271.1 267.6h1.8v1.7h-1.8zM187.6 307.6h1.8v1.7h-1.8zM190.8 309.2h1.8v1.7h-1.8zM194.0 309.2h1.8v1.7h-1.8zM206.8 309.2h1.8v1.7h-1.8zM271.1 309.2h1.8v1.7h-1.8zM187.6 310.8h1.8v1.7h-1.8zM266.3 310.8h1.8v1.7h-1.8zM248.6 312.4h1.8v1.7h-1.8zM264.7 312.4h1.8v1.7h-1.8zM235.8 314.0h1.8v1.7h-1.8zM247.0 314.0h1.8v1.7h-1.8zM263.1 314.0h1.8v1.7h-1.8z"/>
<path fill="#f12d2e" d="M171.5 186.0h1.8v1.7h-1.8zM179.5 186.0h3.4v1.7h-3.4zM185.9 186.0h1.8v1.7h-1.8zM187.6 202.0h1.8v1.7h-1.8zM277.5 203.6h1.8v1.7h-1.8zM280.7 203.6h1.8v1.7h-1.8zM277.5 210.0h1.8v1.7h-1.8zM277.5 211.6h1.8v1.7h-1.8zM189.2 309.2h1.8v1.7h-1.8zM266.3 312.4h1.8v1.7h-1.8zM271.1 312.4h1.8v1.7h-1.8zM185.9 314.0h3.4v1.7h-3.4z"/>
<path fill="#f32425" d="M176.3 186.0h3.4v1.7h-3.4zM185.9 309.2h1.8v1.7h-1.8zM266.3 309.2h1.8v1.7h-1.8zM237.4 314.0h1.8v1.7h-1.8zM248.6 314.0h1.8v1.7h-1.8zM264.7 314.0h1.8v1.7h-1.8zM271.1 314.0h1.8v1.7h-1.8z"/>
<path fill="#f51b1c" d="M187.6 309.2h1.8v1.7h-1.8z"/>
<path fill="#fa0a0a" d="M266.3 314.0h1.8v1.7h-1.8z"/></g>
<rect x="150.6" y="184.4" width="1.5" height="132.79999999999998" fill="#1c1cf5"/>
<rect x="152.1" y="184.4" width="1" height="132.79999999999998" fill="#5050e8" opacity="0.55"/>
<rect x="182" y="315.59999999999997" width="103.60000000000002" height="1.6" fill="#f03030" opacity="0.75"/>
<polygon fill="#0808fa" points="150.6,310.4 154.5,311.0 158.0,312.0 164.0,313.0 170.0,313.6 172.0,312.4 175.0,313.0 178.0,315.0 182.0,317.2 150.6,317.2"/>
</g>
<text class="y" x="215" y="31" style="font-size:11.6px;stroke:none">1D</text>
<text class="y" x="214.9" y="194.8" style="font-size:11.6px;stroke:none">2D</text>
<rect x="261" y="326.6" width="29.6" height="2.8" fill="#000"/>
<rect x="301.6" y="96" width="6.6" height="188.8" fill="url(#bwr)"/>
<text class="lab" x="310.6" y="102.6">1/3</text>
<text class="lab" x="310.2" y="285.2">−1/3</text>
<text x="0" y="0" transform="translate(324.4,252.6) rotate(-90)" style="font-size:12.9px">Wavefornt error (wave)</text>
<text class="pl" x="343.2" y="14.4">(c)</text>
<rect x="375.0" y="15.4" width="169.20000000000005" height="118.0" fill="none" stroke="#999999" stroke-width="1"/>
<line x1="375.0" y1="27.3" x2="373.0" y2="27.3" stroke="#999999" stroke-width="0.8"/>
<text class="tick" text-anchor="end" x="369.9" y="30.5">0.2</text>
<line x1="375.0" y1="50.9" x2="373.0" y2="50.9" stroke="#999999" stroke-width="0.8"/>
<text class="tick" text-anchor="end" x="369.9" y="54.1">0.1</text>
<line x1="375.0" y1="74.5" x2="373.0" y2="74.5" stroke="#999999" stroke-width="0.8"/>
<text class="tick" text-anchor="end" x="370.3" y="77.7">0</text>
<line x1="375.0" y1="98.1" x2="373.0" y2="98.1" stroke="#999999" stroke-width="0.8"/>
<text class="tick" text-anchor="end" x="372.4" y="101.3">−0.1</text>
<line x1="375.0" y1="121.7" x2="373.0" y2="121.7" stroke="#999999" stroke-width="0.8"/>
<text class="tick" text-anchor="end" x="372.4" y="124.9">−0.2</text>
<line x1="374.9" y1="133.4" x2="374.9" y2="135.4" stroke="#999999" stroke-width="0.8"/>
<text style="font-size:10.8px" text-anchor="middle" x="374.9" y="144.4">0</text>
<line x1="411.5" y1="133.4" x2="411.5" y2="135.4" stroke="#999999" stroke-width="0.8"/>
<text style="font-size:10.8px" text-anchor="middle" x="411.5" y="144.4">2</text>
<line x1="448.1" y1="133.4" x2="448.1" y2="135.4" stroke="#999999" stroke-width="0.8"/>
<text style="font-size:10.8px" text-anchor="middle" x="448.1" y="144.4">4</text>
<line x1="484.7" y1="133.4" x2="484.7" y2="135.4" stroke="#999999" stroke-width="0.8"/>
<text style="font-size:10.8px" text-anchor="middle" x="484.7" y="144.4">6</text>
<line x1="521.3" y1="133.4" x2="521.3" y2="135.4" stroke="#999999" stroke-width="0.8"/>
<text style="font-size:10.8px" text-anchor="middle" x="521.3" y="144.4">8</text>
<path d="M375.6 133.3C375.6 130.1 375.8 120.3 375.9 113.9C376.0 107.5 376.1 101.9 376.2 95.0C376.4 88.2 376.5 79.6 376.7 72.8C376.9 66.1 377.1 54.8 377.4 54.8C377.6 54.8 377.9 67.9 378.2 72.8C378.5 77.8 378.7 84.3 379.0 84.3C379.3 84.3 379.7 76.8 380.0 72.8C380.4 68.9 380.8 60.1 381.2 60.5C381.6 60.9 381.9 74.4 382.3 75.3C382.8 76.3 383.4 67.1 384.0 66.3C384.5 65.5 385.1 70.1 385.6 70.4C386.1 70.7 386.7 68.9 387.2 67.9C387.8 67.0 388.3 64.5 388.9 64.6C389.4 64.8 390.0 68.6 390.5 68.7C391.1 68.9 391.6 66.6 392.2 65.5C392.7 64.4 393.3 62.4 393.8 62.2C394.4 61.9 394.9 62.9 395.5 63.8C396.0 64.8 396.6 66.7 397.1 67.9C397.6 69.2 398.2 70.8 398.7 71.2C399.3 71.6 399.8 72.0 400.4 70.4C400.9 68.7 401.4 64.0 402.0 61.4C402.7 58.8 403.5 55.2 404.2 54.8C404.8 54.4 405.3 57.2 405.8 58.9C406.4 60.5 406.9 63.0 407.4 64.6C408.0 66.3 408.6 67.1 409.1 68.7C409.6 70.4 409.9 72.6 410.4 74.5C410.9 76.4 411.4 79.4 411.9 80.2C412.3 81.1 412.5 80.6 413.0 79.4C413.6 78.2 414.5 74.6 415.2 72.8C415.8 71.1 416.3 69.8 416.8 68.7C417.4 67.6 417.9 66.2 418.4 66.3C419.0 66.4 419.6 68.1 420.1 69.2C420.6 70.3 420.9 72.9 421.4 72.8C422.0 72.8 422.6 69.3 423.4 68.7C424.1 68.2 425.0 69.3 425.8 69.6C426.7 69.8 427.5 70.1 428.3 70.4C429.1 70.7 429.9 71.2 430.8 71.2C431.6 71.2 432.5 70.4 433.2 70.4C433.9 70.4 434.3 70.5 434.9 71.2C435.4 71.9 436.0 73.3 436.5 74.5C437.1 75.7 437.6 77.4 438.2 78.6C438.7 79.8 439.3 81.5 439.8 81.9C440.3 82.3 440.9 81.1 441.4 81.1C442.0 81.1 442.5 81.6 443.1 81.9C443.7 82.2 444.6 83.2 445.2 83.0C445.8 82.9 446.3 81.7 446.9 81.1C447.4 80.4 448.0 79.1 448.5 79.1C449.1 79.1 449.6 80.2 450.1 81.1C450.7 81.9 451.2 83.3 451.8 84.0C452.4 84.7 453.2 85.1 453.8 85.2C454.4 85.3 454.9 84.9 455.4 84.7C455.9 84.5 456.2 83.7 456.6 84.0C457.1 84.3 457.7 85.8 458.3 86.3C458.8 86.9 459.4 87.8 459.9 87.3C460.5 86.8 461.0 85.0 461.6 83.5C462.1 82.1 462.7 79.4 463.2 78.6C463.8 77.8 464.3 78.3 464.9 78.6C465.4 78.9 465.9 79.0 466.5 80.2C467.0 81.5 467.6 84.8 468.1 86.0C468.7 87.2 469.2 87.2 469.8 87.6C470.3 88.0 470.9 88.2 471.4 88.4C472.0 88.7 472.5 88.7 473.1 89.3C473.6 89.8 474.2 92.3 474.7 91.7C475.2 91.2 475.5 88.0 476.0 86.0C476.6 83.9 477.4 80.9 478.0 79.4C478.6 77.9 479.1 77.8 479.6 77.0C480.2 76.1 480.7 74.8 481.3 74.2C481.9 73.5 482.6 72.8 483.2 72.8C483.9 72.8 484.3 73.6 484.9 74.2C485.4 74.8 486.0 76.8 486.5 76.5C487.0 76.1 487.4 73.2 487.8 72.0C488.3 70.9 488.9 69.4 489.5 69.6C490.0 69.7 490.6 72.2 491.1 72.8C491.7 73.5 492.2 74.1 492.8 73.7C493.3 73.3 493.9 71.8 494.4 70.4C495.0 69.0 495.5 67.1 496.1 65.5C496.7 63.8 497.4 60.9 498.0 60.5C498.6 60.1 499.1 63.0 499.7 63.0C500.2 63.0 500.8 61.4 501.3 60.5C501.9 59.7 502.5 57.9 503.0 58.1C503.4 58.2 503.8 60.3 504.3 61.4C504.8 62.4 505.4 63.8 505.9 64.6C506.5 65.5 507.0 65.7 507.6 66.3C508.1 66.8 508.6 67.4 509.2 67.9C509.7 68.5 510.3 69.7 510.8 69.6C511.3 69.4 511.7 68.5 512.2 67.1C512.6 65.7 513.1 62.6 513.5 61.4C513.9 60.1 514.2 59.4 514.6 59.7C515.1 60.0 515.6 61.8 516.1 63.0C516.6 64.2 517.2 66.1 517.7 67.1C518.3 68.1 518.8 69.2 519.4 69.2C519.9 69.3 520.5 67.3 521.0 67.6C521.5 67.9 521.9 69.5 522.3 70.9C522.8 72.3 523.2 75.0 523.6 76.1C524.1 77.3 524.3 78.2 524.8 77.8C525.3 77.4 525.9 75.2 526.4 73.7C527.0 72.2 527.5 70.0 528.1 68.7C528.6 67.5 529.2 66.7 529.7 66.3C530.3 65.9 530.8 65.9 531.4 66.3C531.9 66.7 532.5 67.4 533.0 68.7C533.5 70.1 533.9 72.6 534.3 74.5C534.7 76.4 535.1 78.6 535.5 80.2C535.9 81.9 536.4 83.1 536.8 84.3C537.2 85.6 537.7 86.8 538.1 87.6C538.5 88.4 539.0 88.7 539.4 89.3C539.9 89.8 540.3 90.2 540.7 90.9C541.2 91.6 541.7 92.7 542.0 93.4C542.4 94.1 542.6 95.7 542.9 95.0C543.1 94.3 543.5 93.0 543.7 89.3C543.9 85.6 544.1 75.6 544.2 72.8" fill="none" stroke="#2a2af0" stroke-width="1.1" stroke-dasharray="2.2,1.3" stroke-linejoin="round"/>
<path d="M375.6 133.3C375.6 130.1 375.8 120.3 375.9 113.9C376.0 107.5 376.0 101.0 376.2 95.0C376.5 89.0 377.0 81.1 377.4 77.8C377.8 74.5 378.1 76.1 378.5 75.3C379.0 74.5 379.4 73.8 379.9 72.8C380.3 71.9 381.0 69.3 381.5 69.6C382.0 69.8 382.3 73.8 382.8 74.5C383.3 75.2 383.9 74.1 384.5 73.7C385.0 73.3 385.5 72.6 385.9 72.0C386.4 71.5 386.8 70.8 387.2 70.4C387.7 70.0 388.3 70.0 388.9 69.6C389.4 69.2 390.0 68.5 390.5 67.9C391.1 67.4 391.6 66.8 392.2 66.3C392.7 65.7 393.3 64.8 393.8 64.6C394.4 64.5 394.9 64.8 395.5 65.5C396.0 66.1 396.6 67.6 397.1 68.7C397.6 69.8 398.2 71.5 398.7 72.0C399.2 72.6 399.5 73.5 400.1 72.0C400.6 70.5 401.4 65.3 402.0 63.0C402.6 60.7 403.1 58.6 403.7 58.1C404.2 57.5 404.8 58.6 405.3 59.7C405.9 60.8 406.4 63.1 407.0 64.6C407.5 66.1 408.0 67.1 408.6 68.7C409.1 70.4 409.7 72.4 410.2 74.5C410.8 76.5 411.4 80.2 411.9 81.1C412.3 81.9 412.5 80.8 413.0 79.4C413.6 78.0 414.5 74.6 415.2 72.8C415.8 71.1 416.3 69.8 416.8 68.7C417.4 67.6 417.9 66.3 418.4 66.3C419.0 66.3 419.6 67.8 420.1 68.7C420.6 69.7 421.0 72.0 421.4 72.0C421.8 72.0 422.1 69.8 422.6 68.7C423.0 67.7 423.3 66.3 423.9 65.9C424.4 65.6 425.1 66.4 425.8 66.6C426.6 66.8 427.5 67.0 428.3 67.1C429.1 67.2 430.0 67.2 430.8 67.1C431.5 67.0 432.1 66.3 432.7 66.6C433.3 66.9 433.9 68.0 434.4 68.7C434.9 69.5 435.2 70.1 435.7 71.2C436.2 72.3 436.8 73.9 437.3 75.3C437.9 76.7 438.5 78.6 439.0 79.4C439.5 80.2 439.8 80.4 440.3 80.2C440.8 80.1 441.4 78.5 441.9 78.6C442.5 78.7 443.0 80.4 443.6 81.1C444.1 81.7 444.7 82.5 445.2 82.4C445.8 82.2 446.3 80.9 446.9 80.2C447.4 79.5 448.0 78.1 448.5 78.1C449.1 78.1 449.6 79.3 450.1 80.2C450.7 81.1 451.2 82.8 451.8 83.5C452.4 84.3 453.2 84.5 453.8 84.7C454.4 84.8 454.9 84.5 455.4 84.3C455.9 84.2 456.2 83.2 456.6 83.5C457.1 83.8 457.7 85.4 458.3 86.0C458.8 86.5 459.4 87.4 459.9 86.8C460.5 86.3 461.0 84.3 461.6 82.7C462.1 81.1 462.7 78.2 463.2 77.0C463.7 75.7 464.0 75.0 464.5 75.0C465.0 75.0 465.6 75.9 466.2 77.0C466.7 78.0 467.3 79.8 467.8 81.1C468.4 82.3 468.9 83.7 469.5 84.3C470.1 84.9 470.8 84.3 471.4 84.7C472.0 85.1 472.5 86.0 473.1 86.8C473.6 87.6 474.2 89.7 474.7 89.3C475.2 88.9 475.5 86.0 476.0 84.3C476.5 82.7 477.1 80.8 477.7 79.4C478.3 78.0 479.0 77.1 479.6 76.1C480.2 75.2 480.7 74.3 481.3 73.7C481.9 73.1 482.6 72.5 483.2 72.5C483.9 72.5 484.3 73.0 484.9 73.7C485.4 74.3 486.0 76.5 486.5 76.5C487.0 76.5 487.4 74.5 487.8 73.7C488.3 72.8 488.9 71.3 489.5 71.2C490.0 71.1 490.6 72.1 491.1 72.8C491.7 73.6 492.2 75.9 492.8 75.8C493.3 75.7 493.9 73.5 494.4 72.0C495.0 70.6 495.5 68.5 496.1 67.1C496.6 65.7 497.1 64.2 497.7 63.8C498.3 63.4 499.1 65.0 499.7 64.6C500.3 64.2 500.8 62.3 501.3 61.4C501.9 60.4 502.5 58.8 503.0 58.9C503.4 59.0 503.8 60.9 504.3 62.2C504.8 63.4 505.4 65.0 505.9 66.3C506.5 67.5 507.0 68.6 507.6 69.6C508.1 70.5 508.6 71.5 509.2 72.0C509.7 72.6 510.3 73.4 510.8 72.8C511.3 72.3 511.7 70.4 512.2 68.7C512.6 67.1 513.1 64.4 513.5 63.0C513.9 61.6 514.2 60.4 514.6 60.5C515.1 60.7 515.6 62.7 516.1 63.8C516.6 64.9 517.2 66.1 517.7 67.1C518.3 68.1 518.8 69.6 519.4 69.6C519.9 69.6 520.5 67.0 521.0 67.1C521.5 67.2 521.9 69.2 522.3 70.4C522.8 71.6 523.2 73.4 523.6 74.5C524.1 75.6 524.4 77.4 524.8 77.0C525.2 76.5 525.6 73.8 526.1 72.0C526.6 70.2 527.1 67.9 527.6 66.3C528.1 64.6 528.7 63.0 529.2 62.2C529.8 61.4 530.3 61.2 530.9 61.4C531.4 61.5 532.0 61.8 532.5 63.0C533.0 64.2 533.4 66.0 533.8 68.7C534.3 71.5 534.7 77.0 535.1 79.4C535.6 81.9 536.0 82.3 536.5 83.5C536.9 84.8 537.3 85.8 537.8 86.8C538.2 87.8 538.6 88.7 539.1 89.3C539.5 89.8 540.0 89.4 540.4 90.1C540.8 90.8 541.3 92.6 541.7 93.4C542.1 94.2 542.7 94.7 542.9 95.0" fill="none" stroke="#101010" stroke-width="1.0" stroke-linejoin="round"/>
<line x1="465.6" y1="108.7" x2="475.4" y2="108.7" stroke="#2a2af0" stroke-width="1.1" stroke-dasharray="2.2,1.3"/>
<text class="leg" x="477.6" y="112.9">1D Horizontal</text>
<line x1="465.6" y1="120.3" x2="475.4" y2="120.3" stroke="#101010" stroke-width="0.9"/>
<text class="leg" x="477.6" y="124.1">2D Horizontal</text>
<text class="lab" x="400.9" y="152.8">Position on detector (mm)</text>
<text x="0" y="0" transform="translate(352.2,131.2) rotate(-90)" style="font-size:10.85px">Wavefront error (wave)</text>
<text class="pl" x="343.2" y="178">(d)</text>
<rect x="375.0" y="181.8" width="169.20000000000005" height="117.80000000000001" fill="none" stroke="#999999" stroke-width="1"/>
<line x1="375.0" y1="193.5" x2="373.0" y2="193.5" stroke="#999999" stroke-width="0.8"/>
<text class="tick" text-anchor="end" x="369.9" y="196.7">0.2</text>
<line x1="375.0" y1="217.0" x2="373.0" y2="217.0" stroke="#999999" stroke-width="0.8"/>
<text class="tick" text-anchor="end" x="369.9" y="220.2">0.1</text>
<line x1="375.0" y1="240.6" x2="373.0" y2="240.6" stroke="#999999" stroke-width="0.8"/>
<text class="tick" text-anchor="end" x="370.3" y="243.8">0</text>
<line x1="375.0" y1="264.2" x2="373.0" y2="264.2" stroke="#999999" stroke-width="0.8"/>
<text class="tick" text-anchor="end" x="372.4" y="267.4">−0.1</text>
<line x1="375.0" y1="287.7" x2="373.0" y2="287.7" stroke="#999999" stroke-width="0.8"/>
<text class="tick" text-anchor="end" x="372.4" y="290.9">−0.2</text>
<line x1="374.9" y1="299.6" x2="374.9" y2="301.6" stroke="#999999" stroke-width="0.8"/>
<text style="font-size:10.2px" text-anchor="middle" x="374.9" y="310.6">0</text>
<line x1="411.5" y1="299.6" x2="411.5" y2="301.6" stroke="#999999" stroke-width="0.8"/>
<text style="font-size:10.2px" text-anchor="middle" x="411.5" y="310.6">2</text>
<line x1="448.1" y1="299.6" x2="448.1" y2="301.6" stroke="#999999" stroke-width="0.8"/>
<text style="font-size:10.2px" text-anchor="middle" x="448.1" y="310.6">4</text>
<line x1="484.7" y1="299.6" x2="484.7" y2="301.6" stroke="#999999" stroke-width="0.8"/>
<text style="font-size:10.2px" text-anchor="middle" x="484.7" y="310.6">6</text>
<line x1="521.3" y1="299.6" x2="521.3" y2="301.6" stroke="#999999" stroke-width="0.8"/>
<text style="font-size:10.2px" text-anchor="middle" x="521.3" y="310.6">8</text>
<path d="M375.0 206.6C375.1 208.8 375.6 215.7 375.9 219.8C376.3 223.9 376.6 227.4 376.9 231.3C377.3 235.1 377.6 239.2 377.9 242.8C378.2 246.3 378.5 250.0 378.9 252.6C379.3 255.2 379.8 257.7 380.2 258.4C380.6 259.1 381.2 257.4 381.5 256.7C381.9 256.0 382.0 254.1 382.3 254.3C382.7 254.4 383.1 256.7 383.5 257.6C383.9 258.4 384.2 260.0 384.5 259.2C384.8 258.4 385.1 255.4 385.5 252.6C385.9 249.9 386.3 245.9 386.8 242.8C387.2 239.6 387.7 236.1 388.1 233.7C388.5 231.4 389.0 229.8 389.4 228.8C389.8 227.9 390.1 227.4 390.4 228.0C390.7 228.5 391.0 231.0 391.4 232.1C391.7 233.2 392.1 235.2 392.5 234.6C392.9 233.9 393.3 229.9 393.7 228.0C394.1 226.1 394.5 223.6 395.0 223.1C395.5 222.5 396.1 224.6 396.6 224.7C397.2 224.8 397.7 224.4 398.3 223.9C398.8 223.3 399.4 221.7 399.9 221.4C400.4 221.1 400.9 221.1 401.2 222.2C401.6 223.3 401.8 225.8 402.2 228.0C402.6 230.2 403.1 234.4 403.5 235.4C404.0 236.3 404.4 234.4 404.8 233.7C405.3 233.1 405.8 231.3 406.2 231.3C406.6 231.3 406.9 234.0 407.3 233.7C407.7 233.5 408.0 230.7 408.5 229.6C408.9 228.5 409.4 226.5 409.8 227.2C410.2 227.9 410.4 230.6 410.8 233.7C411.1 236.9 411.4 243.0 411.7 246.1C412.1 249.1 412.4 252.1 412.7 251.8C413.1 251.5 413.5 246.7 413.9 244.4C414.3 242.1 414.7 239.4 415.0 237.8C415.4 236.3 415.7 235.1 416.0 235.4C416.4 235.7 416.8 238.4 417.2 239.5C417.5 240.6 418.0 241.1 418.3 242.0C418.7 242.8 418.9 242.9 419.3 244.4C419.7 245.9 420.1 248.9 420.4 251.0C420.8 253.0 421.1 255.4 421.6 256.7C422.1 258.1 422.7 259.5 423.2 259.2C423.7 258.9 424.1 257.3 424.6 255.1C425.0 252.9 425.3 248.1 425.7 246.1C426.1 244.0 426.3 242.0 426.7 242.8C427.0 243.6 427.4 248.2 427.8 251.0C428.2 253.7 428.7 259.5 429.2 259.2C429.6 258.9 429.9 252.9 430.3 249.3C430.7 245.8 431.1 240.2 431.5 237.8C431.8 235.5 431.9 235.0 432.3 235.4C432.6 235.8 433.2 239.2 433.6 240.3C434.0 241.4 434.3 241.5 434.7 242.0C435.1 242.4 435.7 242.0 436.1 242.8C436.4 243.6 436.7 245.8 437.0 246.9C437.4 248.0 438.0 248.9 438.4 249.3C438.7 249.8 439.0 250.8 439.3 249.3C439.7 247.8 440.0 242.8 440.3 240.3C440.6 237.8 441.0 234.6 441.3 234.6C441.6 234.6 441.9 237.8 442.3 240.3C442.6 242.8 443.1 247.6 443.4 249.3C443.8 251.1 444.0 252.5 444.3 251.0C444.6 249.5 444.9 243.5 445.2 240.3C445.6 237.2 445.9 233.1 446.2 232.1C446.6 231.1 446.9 233.5 447.2 234.6C447.6 235.7 447.9 237.6 448.4 238.7C448.8 239.8 449.5 240.2 450.0 241.1C450.6 242.1 451.2 243.2 451.7 244.4C452.1 245.6 452.4 248.5 452.8 248.5C453.2 248.5 453.8 245.5 454.1 244.4C454.5 243.3 454.6 241.8 455.0 242.0C455.4 242.1 455.9 244.6 456.3 245.2C456.7 245.9 457.0 246.9 457.3 246.1C457.6 245.2 457.9 242.4 458.3 240.3C458.7 238.3 459.2 235.0 459.6 233.7C460.0 232.5 460.4 232.4 460.7 232.9C461.1 233.5 461.5 235.5 461.9 237.0C462.3 238.5 462.8 241.8 463.2 242.0C463.6 242.1 463.8 240.2 464.2 237.8C464.6 235.5 465.0 230.6 465.3 228.0C465.7 225.4 466.1 222.8 466.5 222.2C466.9 221.7 467.4 224.0 467.8 224.7C468.2 225.4 468.6 225.9 469.0 226.4C469.3 226.8 469.7 226.6 470.1 227.2C470.5 227.7 471.0 228.8 471.4 229.6C471.9 230.5 472.3 231.7 472.7 232.1C473.1 232.5 473.5 232.6 473.9 232.1C474.3 231.6 474.7 229.6 475.0 228.8C475.4 228.0 475.7 226.6 476.0 227.2C476.4 227.7 476.7 229.9 477.0 232.1C477.3 234.3 477.7 238.0 478.0 240.3C478.3 242.6 478.6 245.8 479.0 246.1C479.3 246.3 479.6 243.7 480.0 242.0C480.3 240.2 480.6 236.9 480.9 235.4C481.3 233.9 481.7 233.2 482.1 232.9C482.5 232.6 482.9 232.5 483.2 233.7C483.6 235.0 483.9 239.6 484.2 240.3C484.6 241.0 484.9 238.5 485.2 237.8C485.5 237.2 485.9 236.2 486.2 236.2C486.5 236.2 486.9 236.5 487.2 237.8C487.5 239.2 487.6 242.8 487.8 244.4C488.1 246.1 488.6 248.2 488.8 247.7C489.1 247.2 489.2 243.3 489.5 241.1C489.8 238.9 490.1 235.5 490.5 234.6C490.8 233.6 491.1 234.0 491.5 235.4C491.8 236.8 492.1 240.4 492.4 242.8C492.8 245.1 493.1 248.1 493.4 249.3C493.8 250.6 494.1 251.1 494.4 250.2C494.7 249.2 495.1 245.2 495.4 243.6C495.7 242.0 496.1 240.3 496.4 240.3C496.7 240.3 497.0 243.0 497.4 243.6C497.8 244.1 498.3 244.1 498.7 243.6C499.1 243.0 499.3 240.3 499.7 240.3C500.1 240.3 500.5 242.9 501.0 243.6C501.4 244.3 501.9 244.6 502.3 244.4C502.7 244.3 503.2 242.4 503.6 242.8C504.0 243.2 504.3 245.4 504.6 246.9C504.9 248.4 505.3 250.6 505.6 251.8C505.9 253.0 506.2 254.4 506.6 254.3C506.9 254.1 507.2 252.5 507.6 251.0C507.9 249.5 508.4 247.0 508.9 245.2C509.3 243.5 509.8 241.3 510.2 240.3C510.6 239.4 510.8 238.9 511.2 239.5C511.5 240.0 511.8 241.8 512.2 243.6C512.5 245.4 513.1 249.8 513.5 250.2C513.9 250.6 514.1 247.8 514.5 246.1C514.8 244.3 515.1 240.7 515.4 239.5C515.8 238.3 516.1 238.0 516.4 238.7C516.8 239.4 517.0 243.6 517.4 243.6C517.8 243.6 518.3 239.2 518.7 238.7C519.1 238.1 519.4 239.4 519.7 240.3C520.0 241.3 520.4 244.1 520.7 244.4C521.0 244.7 521.4 243.3 521.7 242.0C522.0 240.6 522.3 237.8 522.7 236.2C523.0 234.6 523.3 232.9 523.6 232.1C524.0 231.3 524.3 231.3 524.6 231.3C525.0 231.3 525.3 231.1 525.6 232.1C525.9 233.1 526.3 235.4 526.6 237.0C526.9 238.7 527.3 241.4 527.6 242.0C527.9 242.5 528.2 240.9 528.6 240.3C528.9 239.8 529.2 238.7 529.6 238.7C529.9 238.7 530.2 240.2 530.5 240.3C530.9 240.4 531.3 241.5 531.5 239.5C531.8 237.4 532.0 232.0 532.2 228.0C532.4 224.0 532.5 217.7 532.5 215.7" fill="none" stroke="#2a2af0" stroke-width="1.1" stroke-dasharray="2.2,1.3" stroke-linejoin="round"/>
<path d="M375.0 206.6C375.1 208.0 375.3 211.6 375.6 214.9C375.9 218.1 376.2 222.2 376.6 226.4C377.0 230.5 377.4 235.7 377.7 239.5C378.1 243.3 378.5 246.7 378.9 249.3C379.3 251.9 379.8 254.8 380.2 255.1C380.6 255.4 381.2 251.8 381.5 251.0C381.9 250.2 382.0 249.3 382.3 250.2C382.7 251.0 383.1 254.5 383.5 255.9C383.9 257.3 384.2 258.9 384.5 258.4C384.8 257.8 385.1 255.2 385.5 252.6C385.9 250.0 386.3 245.9 386.8 242.8C387.2 239.6 387.7 236.1 388.1 233.7C388.5 231.4 389.0 229.8 389.4 228.8C389.8 227.9 390.1 227.4 390.4 228.0C390.7 228.5 391.0 230.9 391.4 232.1C391.7 233.3 392.1 235.8 392.5 235.4C392.9 235.0 393.3 231.3 393.7 229.6C394.1 228.0 394.5 225.9 395.0 225.5C395.5 225.1 396.1 226.5 396.6 227.2C397.2 227.9 397.7 229.2 398.3 229.6C398.8 230.0 399.4 229.6 399.9 229.6C400.4 229.6 400.9 228.8 401.2 229.6C401.6 230.5 401.8 232.9 402.2 234.6C402.6 236.2 403.1 239.2 403.5 239.5C404.0 239.8 404.4 237.0 404.8 236.2C405.3 235.4 405.8 234.7 406.2 234.6C406.6 234.4 406.9 236.2 407.3 235.4C407.7 234.6 408.0 231.0 408.5 229.6C408.9 228.3 409.4 226.5 409.8 227.2C410.2 227.9 410.4 230.6 410.8 233.7C411.1 236.9 411.4 243.0 411.7 246.1C412.1 249.1 412.4 252.1 412.7 251.8C413.1 251.5 413.5 246.7 413.9 244.4C414.3 242.1 414.7 239.4 415.0 237.8C415.4 236.3 415.7 235.0 416.0 235.4C416.4 235.8 416.8 238.9 417.2 240.3C417.5 241.7 418.0 242.9 418.3 243.6C418.7 244.3 418.9 243.2 419.3 244.4C419.7 245.6 420.1 249.1 420.4 251.0C420.8 252.9 421.1 254.8 421.6 255.9C422.1 257.0 422.7 257.8 423.2 257.6C423.7 257.3 424.1 256.2 424.6 254.3C425.0 252.4 425.3 248.0 425.7 246.1C426.1 244.1 426.3 242.0 426.7 242.8C427.0 243.6 427.4 248.2 427.8 251.0C428.2 253.7 428.7 259.5 429.2 259.2C429.6 258.9 429.9 252.9 430.3 249.3C430.7 245.8 431.1 240.2 431.5 237.8C431.8 235.5 431.9 235.0 432.3 235.4C432.6 235.8 433.2 238.9 433.6 240.3C434.0 241.7 434.3 242.9 434.7 243.6C435.1 244.3 435.7 243.5 436.1 244.4C436.4 245.4 436.7 248.1 437.0 249.3C437.4 250.6 438.0 251.4 438.4 251.8C438.7 252.2 439.0 253.2 439.3 251.8C439.7 250.4 440.0 245.9 440.3 243.6C440.6 241.3 441.0 238.1 441.3 237.8C441.6 237.6 441.9 239.5 442.3 242.0C442.6 244.4 443.1 250.6 443.4 252.6C443.8 254.7 444.0 255.9 444.3 254.3C444.6 252.6 444.9 245.9 445.2 242.8C445.6 239.6 445.9 236.2 446.2 235.4C446.6 234.6 446.9 236.9 447.2 237.8C447.6 238.8 447.9 240.2 448.4 241.1C448.8 242.1 449.5 242.6 450.0 243.6C450.6 244.6 451.2 245.8 451.7 246.9C452.1 248.0 452.4 250.3 452.8 250.2C453.2 250.0 453.8 247.2 454.1 246.1C454.5 245.0 454.6 243.2 455.0 243.6C455.4 244.0 455.9 247.6 456.3 248.5C456.7 249.5 457.0 250.3 457.3 249.3C457.6 248.4 457.9 245.1 458.3 242.8C458.7 240.4 459.2 236.9 459.6 235.4C460.0 233.9 460.4 233.5 460.7 233.7C461.1 234.0 461.5 235.7 461.9 237.0C462.3 238.4 462.8 241.8 463.2 242.0C463.6 242.1 463.8 240.2 464.2 237.8C464.6 235.5 465.0 230.7 465.3 228.0C465.7 225.3 466.1 222.2 466.5 221.4C466.9 220.6 467.4 222.5 467.8 223.1C468.2 223.6 468.6 224.4 469.0 224.7C469.3 225.0 469.7 224.2 470.1 224.7C470.5 225.3 471.0 227.2 471.4 228.0C471.9 228.8 472.3 229.4 472.7 229.6C473.1 229.9 473.5 230.2 473.9 229.6C474.3 229.1 474.7 227.0 475.0 226.4C475.4 225.7 475.7 224.6 476.0 225.5C476.4 226.5 476.7 229.6 477.0 232.1C477.3 234.6 477.7 238.1 478.0 240.3C478.3 242.5 478.6 245.1 479.0 245.2C479.3 245.4 479.6 243.0 480.0 241.1C480.3 239.2 480.6 235.7 480.9 233.7C481.3 231.8 481.7 230.5 482.1 229.6C482.5 228.8 482.9 228.0 483.2 228.8C483.6 229.6 483.9 234.2 484.2 234.6C484.6 235.0 484.9 232.4 485.2 231.3C485.5 230.2 485.9 228.3 486.2 228.0C486.5 227.7 486.9 227.7 487.2 229.6C487.5 231.6 487.6 237.4 487.8 239.5C488.1 241.5 488.6 242.8 488.8 242.0C489.1 241.1 489.2 237.0 489.5 234.6C489.8 232.1 490.1 228.3 490.5 227.2C490.8 226.1 491.1 226.5 491.5 228.0C491.8 229.5 492.1 233.6 492.4 236.2C492.8 238.8 493.1 242.1 493.4 243.6C493.8 245.1 494.1 245.5 494.4 245.2C494.7 245.0 495.1 242.9 495.4 242.0C495.7 241.0 496.1 239.2 496.4 239.5C496.7 239.8 497.0 242.8 497.4 243.6C497.8 244.4 498.3 244.7 498.7 244.4C499.1 244.1 499.3 242.0 499.7 242.0C500.1 242.0 500.5 243.7 501.0 244.4C501.4 245.1 501.9 246.2 502.3 246.1C502.7 245.9 503.2 243.3 503.6 243.6C504.0 243.9 504.3 246.2 504.6 247.7C504.9 249.2 505.3 251.4 505.6 252.6C505.9 253.9 506.2 255.2 506.6 255.1C506.9 255.0 507.2 253.3 507.6 251.8C507.9 250.3 508.4 247.7 508.9 246.1C509.3 244.4 509.8 242.9 510.2 242.0C510.6 241.0 510.8 239.9 511.2 240.3C511.5 240.7 511.8 242.5 512.2 244.4C512.5 246.3 513.1 251.3 513.5 251.8C513.9 252.4 514.1 249.6 514.5 247.7C514.8 245.8 515.1 241.7 515.4 240.3C515.8 238.9 516.1 238.8 516.4 239.5C516.8 240.2 517.0 244.7 517.4 244.4C517.8 244.1 518.3 238.5 518.7 237.8C519.1 237.2 519.4 239.1 519.7 240.3C520.0 241.5 520.4 244.7 520.7 245.2C521.0 245.8 521.4 245.0 521.7 243.6C522.0 242.2 522.3 239.1 522.7 237.0C523.0 235.0 523.3 232.8 523.6 231.3C524.0 229.8 524.3 228.7 524.6 228.0C525.0 227.3 525.3 225.8 525.6 227.2C525.9 228.5 526.3 233.2 526.6 236.2C526.9 239.2 527.3 244.1 527.6 245.2C527.9 246.3 528.2 243.7 528.6 242.8C528.9 241.8 529.2 238.8 529.6 239.5C529.9 240.2 530.2 244.7 530.5 246.9C530.9 249.1 531.3 252.8 531.5 252.6C531.8 252.5 532.0 248.4 532.2 246.1C532.4 243.7 532.7 239.9 532.8 238.7" fill="none" stroke="#101010" stroke-width="1.0" stroke-linejoin="round"/>
<line x1="465.6" y1="275.1" x2="475.4" y2="275.1" stroke="#2a2af0" stroke-width="1.1" stroke-dasharray="2.2,1.3"/>
<text class="leg" x="477.6" y="279.3">1D Vertical</text>
<line x1="465.6" y1="286.5" x2="475.4" y2="286.5" stroke="#101010" stroke-width="0.9"/>
<text class="leg" x="477.6" y="290.3">2D Vertical</text>
<text class="lab" x="400.9" y="319.8">Position on detector (mm)</text>
<text x="0" y="0" transform="translate(352.2,297.4) rotate(-90)" style="font-size:10.85px">Wavefront error (wave)</text>
</svg>
</body></html>
